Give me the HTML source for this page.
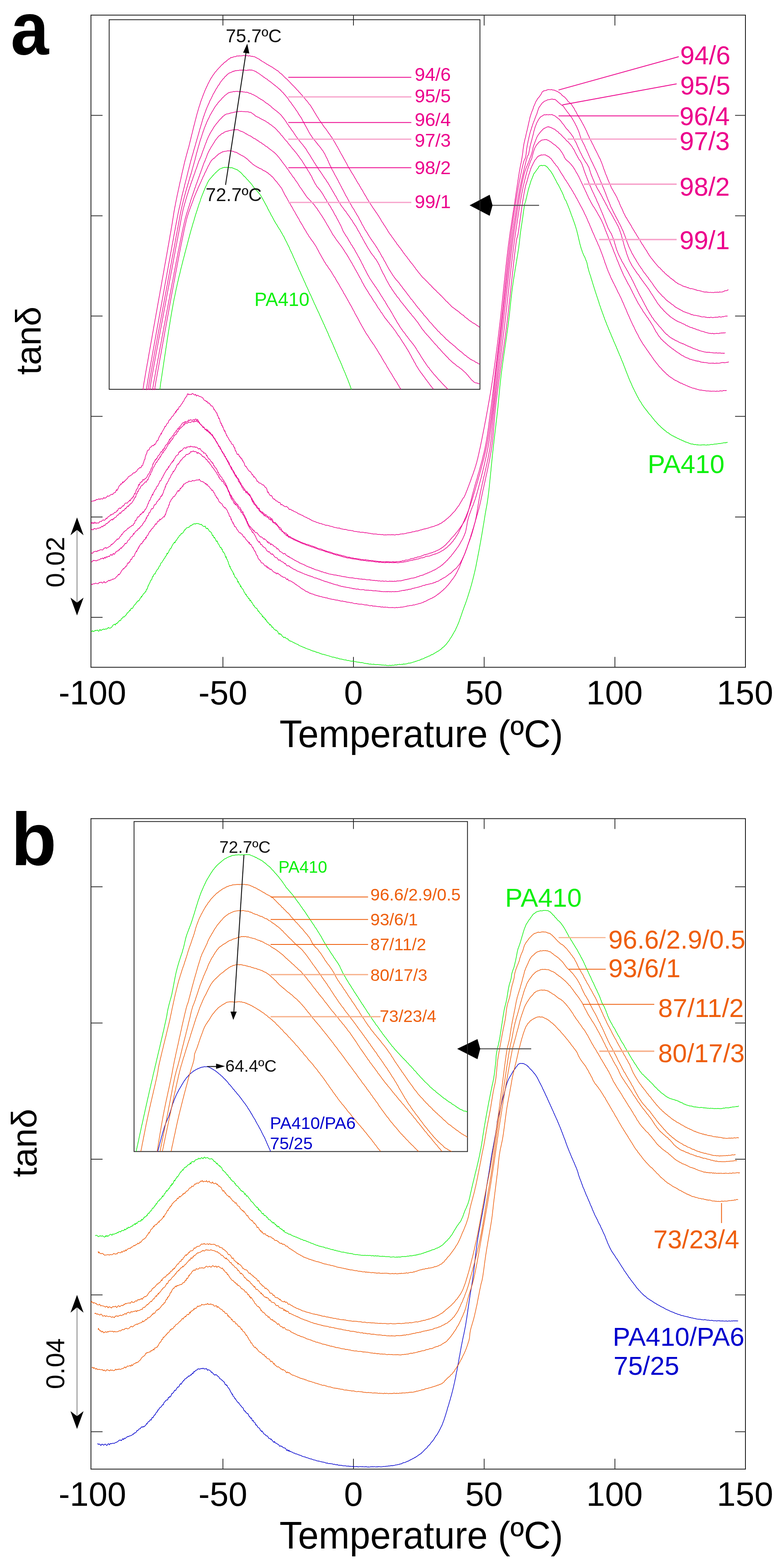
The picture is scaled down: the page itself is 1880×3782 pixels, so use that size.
<!DOCTYPE html>
<html><head><meta charset="utf-8"><style>html,body{margin:0;padding:0;background:#fff}svg{display:block}</style></head><body>
<svg xmlns="http://www.w3.org/2000/svg" width="1880" height="3782" viewBox="0 0 1880 3782" font-family="'Liberation Sans', Arial, Helvetica, sans-serif">
<rect width="1880" height="3782" fill="#fff"/>
<text x="25.7" y="131.2" font-size="180" fill="#000" font-weight="bold" transform="translate(25.7 0) scale(0.92 1) translate(-25.7 0)">a</text>
<rect x="219.5" y="36.5" width="1579.5" height="1573" fill="none" stroke="#1a1a1a" stroke-width="2"/>
<line x1="219.5" y1="278.3" x2="247.5" y2="278.3" stroke="#333" stroke-width="2"/>
<line x1="1774" y1="278.3" x2="1799" y2="278.3" stroke="#333" stroke-width="2"/>
<line x1="219.5" y1="520.5" x2="247.5" y2="520.5" stroke="#333" stroke-width="2"/>
<line x1="1774" y1="520.5" x2="1799" y2="520.5" stroke="#333" stroke-width="2"/>
<line x1="219.5" y1="762.3" x2="247.5" y2="762.3" stroke="#333" stroke-width="2"/>
<line x1="1774" y1="762.3" x2="1799" y2="762.3" stroke="#333" stroke-width="2"/>
<line x1="219.5" y1="1004.3" x2="247.5" y2="1004.3" stroke="#333" stroke-width="2"/>
<line x1="1774" y1="1004.3" x2="1799" y2="1004.3" stroke="#333" stroke-width="2"/>
<line x1="219.5" y1="1247" x2="247.5" y2="1247" stroke="#333" stroke-width="2"/>
<line x1="1774" y1="1247" x2="1799" y2="1247" stroke="#333" stroke-width="2"/>
<line x1="219.5" y1="1489" x2="247.5" y2="1489" stroke="#333" stroke-width="2"/>
<line x1="1774" y1="1489" x2="1799" y2="1489" stroke="#333" stroke-width="2"/>
<line x1="538" y1="1609.5" x2="538" y2="1584.5" stroke="#333" stroke-width="2"/>
<line x1="538" y1="36.5" x2="538" y2="61.5" stroke="#333" stroke-width="2"/>
<line x1="853" y1="1609.5" x2="853" y2="1584.5" stroke="#333" stroke-width="2"/>
<line x1="853" y1="36.5" x2="853" y2="61.5" stroke="#333" stroke-width="2"/>
<line x1="1168.5" y1="1609.5" x2="1168.5" y2="1584.5" stroke="#333" stroke-width="2"/>
<line x1="1168.5" y1="36.5" x2="1168.5" y2="61.5" stroke="#333" stroke-width="2"/>
<line x1="1484" y1="1609.5" x2="1484" y2="1584.5" stroke="#333" stroke-width="2"/>
<line x1="1484" y1="36.5" x2="1484" y2="61.5" stroke="#333" stroke-width="2"/>
<text x="223" y="1699.2" font-size="81.5" fill="#000" text-anchor="middle" >-100</text>
<text x="538" y="1699.2" font-size="81.5" fill="#000" text-anchor="middle" >-50</text>
<text x="853" y="1699.2" font-size="81.5" fill="#000" text-anchor="middle" >0</text>
<text x="1168" y="1699.2" font-size="81.5" fill="#000" text-anchor="middle" >50</text>
<text x="1483" y="1699.2" font-size="81.5" fill="#000" text-anchor="middle" >100</text>
<text x="1798" y="1699.2" font-size="81.5" fill="#000" text-anchor="middle" >150</text>
<text x="0" y="0" font-size="89.5" fill="#000" transform="translate(674.6 1801.9) scale(1 1.03)">Temperature (&#186;C)</text>
<text x="0" y="0" font-size="84.5" fill="#000" transform="translate(97.5 904) rotate(-90)">tan&#948;</text>
<text x="0" y="0" font-size="63" fill="#000" transform="translate(155 1417) rotate(-90)">0.02</text>
<line x1="185.9" y1="1278" x2="185.9" y2="1454.5" stroke="#9a9a9a" stroke-width="2.5"/>
<path d="M185.9 1248 L201.7 1291 L185.9 1278 L170.1 1291 Z" fill="#000"/>
<path d="M185.9 1484.5 L201.7 1441.5 L185.9 1453.5 L170.1 1441.5 Z" fill="#000"/>
<path d="M220 1523.3l1-0.8 1.2 0.3 1.3-1.7 1.4 2.2 1.5-0.2 1.5-0.9 1.7-2.1 1.8 1.2 1.8-1 1.9-0.6 2 2.6 2-0.1 2.1-4.2 2.1 2.9 2.2-1.4 2.2-1.3 2.2-0.9 2.3 1.1 2.3-1.5 2.3 0.3 2.3-0.9 2.3-2.9 2.3 1.7 2.2-0.1 2.3-1.1 2.3-2.5 2.2-3.5 2.2-1.5 2.1-0.9 1.3 2.3 1.4-3.5 1.3-0.8 1.4 1 1.5-3.5 1.4-0.2 1.4-1.7 1.5-2.8 1.5 0.8 1.5-0.4 1.5-4.1 1.5-1.2 1.6-0.7 1.5-3 1.6 0.3 1.5-0.3 1.6-2.2 1.5-2.1 1.6-0.3 1.5-4.5 1.6 0 1.5-2.4 1.6-0.8 1.5-3.6 1.6 1 1.5-4.4 1.5-1.4 1.5 0.8 1.5-1.1 1.4-3.7 1.5-1.8 1.4-2.3 1.4-1.5 1.4-0.3 1.4-3.3 1.3-1.8 1.4-0.3 1.3-2.7 1.2 0.5 1.3-0.8 1.2-1.7 1.1-2.6 1.1-1.9 1.1-1 1.1-3 1 1.6 1-2.8 1.8-2.3 1.6-3.1 1.5-0.6 1.3-1.4 1.3-2.6 1.1 0.1 1-2.5 0.9-3.4 0.9-0.5 0.8 0 0.7-3.1 0.7-1.2 0.7-3.7 0.7 0.1 0.7-1.7 0.7-1.8 0.7-1.6 0.8-1 0.8-1.9 0.9-2 0.9-3.2 1.1-0.9 1.1 0.1 1.3-4.4 0.9-3 0.8-1.6 0.9 0.6 1-3.5 0.9-1.4 1-1.6 1-0.3 1 0.5 1-3.8 1.1-1.8 1-1.9 1.1-1.5 1.1-2 1.1-0.7 1.1-1.1 1.1-2.7 1.1-2.9 1.1-0.9 1.1-0.8 1.2-4.9 1.1-1.5 1.1-0.3 1.2-1.6 1.1-2 1.1-2 1.1-0.9 1.2-3.2 1.1-0.4 1.1-1.2 1.1-3.8 1 0 1.1-2.3 1.1-0.9 1-5 1 1.9 1-2.2 1-0.7 1-1.4 1.3-4.8 1.4-0.4 1.3-4.1 1.3-0.2 1.2-0.6 1.3-4.8 1.3-1.3 1.2-2.9 1.2-1.4 1.2-1.7 1.2-2.2 1.2 1.9 1.2-2.2 1.2-3.4 1.2-0.5 1.2-1.8 1.2-2.3 1.2-2 1.1-0.5 1.2-1.9 1.2-2.7 1.2-1 1.2-0.3 1.2-1.4 1.2-3 1.2 0.3 1.2-0.2 1.7-1.8 1.8-2.6 1.7-4 1.8-0.2 1.8-2.9 1.7-1.7 1.8-0.7 1.7-0.6 1.8-0.1 1.8-1.7 1.7-2.6 1.8 0.6 1.7-1.7 1.7-0.9 1.7-1.7 1.8 0 1.7-0.9 1.6 1.2 1.7-1.3 1.9-0.3 1.9 0.1 1.9 0.2 1.8 1.1 1.9 0.5 1.8 0.9 1.8-0.9 1.8 2.4 1.8 1.6 1.8 1.3 1.8 0.2 1.9-1.2 1.9 4.8 1.9 1.7 2-1.3 2.1 3.3 1 1.1 1.1 2.8 1.1 0.8 1.1 0 1.1 1 1.1 1.4 1.2 1.2 1.2 4.4 1.1 2.2 1.2-1.2 1.2 3.8 1.3 2.5 1.2-1.2 1.2 3.3 1.2 1.3 1.2 4 1.2 1.4 1.2-1.5 1.2 2.6 1.2 4.4 1.2 0.8 1.2 1.7 1.1 3 1.1 1.7 1.2 2.6 1-0.7 1.1 0.6 1.1 4.3 1-0.8 0.9 3.7 1 2.8 0.9-0.2 0.9 2.3 1.1 0.3 1.1 1.9 1 3.8 1 2.9 0.9 2.4 0.8-2.1 0.8 5.4 0.7 0.1 0.8 1.1 0.7 1.9 0.7 2.4 0.6 0.8 0.7 0.9 0.7 4.6 0.7 1.1 0.7 1.4 0.7 2.2 0.8 2.9 0.8-1.5 0.8 4.5 0.9 1.9 0.9 0 1 2.9 1.1 1.6 0.8 0.6 0.9 2.5 0.8 0.5 0.9 4.7 0.9-1.3 0.9 3.5 0.9 1.4 1 3.3 0.9 1 1 0 1 1.8 0.9 0.5 1 1.7 1 2.9 1.1 4.3 1-1.8 1 2.3 1.1 3.6 1.1 0.7 1 1.1 1.1 4.9 1.1-1.8 1.2 4 1.1 1.2 1.1 1.4 1.1 1.2 1.2 1.7 1.2 2.8 1.1 3.2 1.2 0.6 1.2 3 1.2 2.2 1.1-1.2 1.1 4.4 1.1 0.4 1.1 0.9 1.2 2 1.1 3.2 1.2-0.4 1.2 0.4 1.1 5.1 1.3-1.7 1.2 1.6 1.2 4.1 1.2 0 1.3 1.6 1.2 3.1 1.3 2.6 1.2-0.5 1.3 3.8 1.2 0.5 1.3 1.6 1.3 1.3 1.3-0.4 1.2 2.1 1.3 3.7 1.3 1.7 1.2-0.9 1.3 3.8 1.3 0.9 1.2 1.9 1.3 0.8 1.2 0.8 1.3 2 1.2 3.9 1.3-1.7 1.2 4.1 1.2 0.1 1.4-0.1 1.5 4.5 1.4-1.5 1.4 4.9 1.4-0.4 1.3 3.9 1.4 0.8 1.4 0 1.3 2.6 1.4 3 1.3-1.8 1.4 1.7 1.4 1.8 1.3 3.5 1.4-0.8 1.4 1.4 1.3 2.9 1.4 1.2 1.4 0.8 1.5 1.9 1.4-0.8 1.5 1.3 1.4 1.4 1.5 1.4 1.5 4.1 1.6 2.1 1.5-2.1 1.6 2.3 1.6-0.3 1.7 2.9 1.6 2.1 1.6 0.9 1.6 2.3 1.6-0.4 1.6-0.9 1.7 2.3 1.6 1.4 1.7 0.5 1.7-0.2 1.7 3.4 1.8 0.4 1.7 1.9 1.8-0.1 1.7 0.6 1.8 1.2 1.8 0.8 1.8 1.3 1.8 0.5 1.8 0.8 1.9 1.4 1.8 0.5 1.9 0.8 1.8 0.9 1.9 1.5 1.9 1 1.9 0.8 1.9 0.6 1.9 0.9 1.9 1 1.9 0.4 2 0.9 1.9 1.1 1.8 0.6 1.8 0.7 1.8 0.8 1.8 0.6 1.9 0.3 1.8 0.8 1.9 1.2 1.9 0.4 1.8 1.2 1.9 0.1 2 1 1.9 0 1.9 0.9 1.9 1.3 2-0.1 1.9 1.2 2-0.1 1.9 1.3 2 0.4 1.9 1.2 2 0.5 2 0.6 1.9 0 2 1 1.9 0 2 1 2 0.4 1.9 0.7 2 0.3 1.9 0.5 1.9 0.9 2 0.6 1.9 0.5 1.9 0.9 1.9 0.1 2 0 2.1 1.1 2 0.1 2.1 1.3 2-0.5 2.1 0.9 2 0.7 2.1 0.8 2.1-0.1 2.1 0.3 2.1 0.9 2 0.4 2.1 0.6 2.1 0.2 2.1-0.3 2 1.4 2.1 0.3 2-0.2 2.1 0.6 2 0.6 2 0.5 2 0.1 2-0.4 2 0.3 1.9 0.7 2 0.4 1.9 0.2 1.9 0.8 1.9 0.3 1.8-0.1 1.8 0.7 1.8-0.4 1.8 1.2 2.3-0.4 2.3 0.2 2.2 0.6 2.3 1 2.2 0 2.2 0.4 2.1 0.4 2.1-0.2 2.1 1 2.1 0.3 2.1-0.3 2 0.5 2 0.4 2-0.1 1.9-0.4 1.9 0.9 1.9-0.1 1.9 0.7 1.9-0.6 1.8-0.1 1.8 0.4 1.7 0.1 1.8 0.4 1.7-0.1 1.7 0.3 2.4 0.5 2.2-0.4 2.2 0.6 2-0.1 1.9-0.3 1.8 0.9 1.8-0.1 1.8 0.4 1.8 0.1 1.8-1 1.8 0.8 1.8-0.4 1.9 0.4 2-1 2.2 0.7 2.2-0.7 2.4-0.7 1.7 0.3 1.7 0.3 1.8-1.1 1.8 0.1 1.8-0.5 1.9-0.3 1.9 0.8 1.9-0.6 1.9-0.2 2 0.2 2-1.3 2 0.8 2-0.5 2-0.3 2.1-0.3 2.1-0.9 2.1-0.9 2.1 0.7 2.2-0.9 2.1-0.4 2.2-0.6 2.1-1.1 2.2-0.2 2.2-0.9 2.2-1 1.7-0.3 1.7-0.6 1.8-0.9 1.8-0.1 1.8-0.5 1.9-1 1.8-1.5 2-0.1 1.9-0.6 1.9-0.6 2-1.4 1.9-0.9 2-0.7 2-1.1 1.9-0.1 2-1.8 1.9-0.2 2-0.6 1.9-1.9 1.9-0.8 1.9 0 1.9-1.8 1.9-0.4 1.8-1.9 1.8-0.5 1.8-1.5 1.7-0.8 1.7-1.3 1.6-0.3 1.6-1.3 1.6-1.2 1.5-1 1.4-0.8 1.7-1.8 1.6-1.5 1.6-1.6 1.6-0.7 1.5-1.4 1.4-2 1.4-1.2 1.4-0.9 1.3-2.2 1.3-1.2 1.2-2.1 1.2-1.3 1.2-1.3 1.2-1.8 1.1-1.7 1.1-2 1.1-2 1.1-1.2 1-1.3 1-2.2 1.1-1.2 1-2 1-2.2 1-1.1 0.9-1.8 1-2 1-1.9 1-0.8 1-2.3 0.9-1.7 0.9-2.7 0.9-1 0.9-2.6 0.8-1.5 0.8-2 0.8-1.9 0.8-1.5 0.7-2.6 0.8-1.1 0.7-2 0.7-2.4 0.7-1.5 0.7-2.4 0.7-1.5 0.7-2.5 0.7-1.4 0.7-2.2 0.6-2.1 0.7-1.5 0.7-2.4 0.7-2.4 0.7-1.5 0.7-2.5 0.7-1.6 0.7-1.6 0.7-2.5 0.7-1.7 0.7-2.1 0.7-1.7 0.7-2.2 0.7-1.3 0.7-1.8 0.6-2.4 0.7-1.6 0.7-1.9 0.6-1.8 0.7-2 0.6-2.1 0.7-1.8 0.6-1.9 0.7-2.2 0.6-1.6 0.6-2.6 0.6-1.3 0.6-2 0.6-2.1 0.6-1.8 0.6-1.6 0.6-2.1 0.6-2.1 0.6-1.7 0.5-1.9 0.6-2.6 0.5-1.2 0.6-1.8 0.5-2.3 0.5-1.4 0.5-2.7 0.5-1.1 0.5-2.6 0.5-1.6 0.5-1.8 0.5-2 0.5-1.8 0.5-2.5 0.5-2 0.5-1.3 0.5-2.6 0.5-2.1 0.5-1.7 0.5-2.1 0.5-2.6 0.6-2 0.5-3 0.4-1 0.3-2 0.4-1.6 0.4-1.8 0.4-2 0.4-1.6 0.3-2.1 0.4-2.3 0.4-2.3 0.4-1.6 0.4-1.8 0.4-2.7 0.4-1.4 0.4-2.2 0.4-2 0.4-2.6 0.4-2 0.4-1.5 0.4-2.5 0.4-2.2 0.4-1.3 0.4-3 0.4-1.4 0.3-1.9 0.4-2 0.4-2.3 0.4-2.8 0.4-1.6 0.3-1.5 0.4-2.6 0.3-1.8 0.4-1.7 0.4-2.2 0.3-2.1 0.3-1.6 0.4-2 0.3-2 0.4-2.5 0.4-2 0.4-1.3 0.3-3 0.4-2.1 0.4-1.3 0.3-3.2 0.4-1.9 0.4-1.9 0.3-2 0.3-2.1 0.4-2.2 0.3-2.2 0.3-1.5 0.4-2.4 0.3-2.2 0.3-1.1 0.3-1.9 0.4-2.5 0.3-1.3 0.3-2.8 0.3-1 0.3-2.1 0.3-1.9 0.3-2.7 0.3-1 0.3-2.6 0.3-1.4 0.3-1.8 0.3-2.4 0.4-1.9 0.3-1.3 0.3-2.1 0.4-2.4 0.3-1 0.3-2.8 0.3-0.9 0.3-1.5 0.3-1.6 0.3-1.8 0.3-1.5 0.3-2.2 0.3-1.1 0.3-1.8 0.3-1.9 0.3-2.2 0.3-1.4 0.3-2.8 0.3-1.6 0.3-2 0.4-2.8 0.3-2.2 0.4-3.3 0.3-2.6 0.4-2.8 0.2-1.1 0.2-1.9 0.1-1.1 0.2-2.3 0.2-1.1 0.2-2.1 0.2-1.8 0.2-2.2 0.2-1 0.2-1.9 0.2-2.4 0.2-2 0.2-2 0.2-1.9 0.2-2.3 0.2-1.1 0.2-2.5 0.2-2.4 0.2-1.5 0.2-2.7 0.3-1.2 0.2-3.2 0.2-1.5 0.2-2.1 0.2-2.5 0.2-2.3 0.2-1.4 0.3-2.6 0.2-2 0.2-2.9 0.2-2.4 0.2-1.1 0.2-3.1 0.3-2.3 0.2-1.4 0.2-2.4 0.2-2.9 0.2-1.5 0.2-2.2 0.3-1.7 0.2-2.6 0.2-2.6 0.2-1.6 0.2-1.9 0.2-1.9 0.2-2.8 0.3-1.7 0.2-2.7 0.2-0.9 0.2-3 0.2-1.3 0.2-1.7 0.2-2.3 0.2-1.6 0.3-2.8 0.2-1.9 0.2-1.8 0.3-3.1 0.2-1.1 0.3-2.1 0.2-2.9 0.2-1.4 0.3-2.6 0.2-2.1 0.2-1.7 0.3-1.8 0.2-2.4 0.3-2 0.2-2.2 0.2-1.6 0.3-1.9 0.2-1.7 0.2-2 0.3-3 0.2-1.8 0.3-1.9 0.2-1.8 0.2-1.4 0.3-2.3 0.2-1.6 0.2-1.9 0.3-2.5 0.2-2.4 0.2-1.7 0.3-1.4 0.2-2 0.2-2.4 0.2-1.3 0.3-2.8 0.2-1.8 0.2-1.5 0.3-1.9 0.2-1.6 0.2-2.6 0.2-1.4 0.2-2.4 0.3-2.2 0.2-1.2 0.2-2.5 0.2-1.8 0.2-2.5 0.2-1.3 0.3-2.5 0.2-2.5 0.2-1.9 0.2-1.6 0.1-1.9 0.2-2.3 0.2-1.1 0.2-2.3 0.2-1.4 0.2-2.3 0.2-1.8 0.1-2.6 0.2-2.1 0.2-1.7 0.2-1.7 0.2-2.4 0.1-0.9 0.2-2.7 0.2-1.3 0.2-2.9 0.2-0.9 0.2-2.6 0.1-1.8 0.2-1.8 0.2-2 0.2-2.4 0.2-2.1 0.2-1.8 0.2-1.9 0.2-2.7 0.3-1.8 0.2-2.3 0.2-1.2 0.2-2.2 0.3-2 0.2-2.4 0.3-2.9 0.2-1.9 0.3-1.5 0.2-2.8 0.3-2.4 0.3-2.5 0.2-0.9 0.2-2.8 0.3-1.5 0.2-1.8 0.3-1.5 0.2-1.6 0.3-2.1 0.2-1.6 0.3-2.7 0.2-1.4 0.3-2 0.3-2.8 0.2-1.3 0.3-1.7 0.3-3 0.3-1.8 0.3-1.6 0.3-2 0.3-2.1 0.3-1.6 0.2-2.7 0.3-1.7 0.3-2.2 0.3-1.8 0.3-2.6 0.4-1.4 0.3-2.2 0.3-2.2 0.3-1.9 0.3-2.4 0.3-2.5 0.3-1.3 0.3-2.8 0.3-2.1 0.3-1.8 0.3-2.2 0.3-1.5 0.3-2.7 0.3-1.5 0.3-2.6 0.3-2.3 0.3-1.7 0.3-1.9 0.3-2.4 0.3-1.7 0.2-2.2 0.3-2.5 0.3-1.9 0.3-1.6 0.2-1.5 0.3-2.6 0.3-1 0.2-2.6 0.3-2.2 0.2-1.7 0.3-1 0.2-1.9 0.3-2 0.2-2.5 0.3-1.6 0.3-3 0.2-1.9 0.3-2.4 0.3-1.5 0.2-2 0.3-2.8 0.2-1.2 0.3-2.6 0.2-1.8 0.3-2.8 0.2-1.4 0.2-2.2 0.2-2.7 0.2-1.2 0.3-2 0.2-2.4 0.2-2.1 0.2-2.2 0.2-1.4 0.2-2.3 0.2-2 0.2-1.7 0.2-2.3 0.2-1.3 0.2-2.3 0.2-2 0.2-1.7 0.3-1.9 0.2-1.9 0.2-2.2 0.2-1.3 0.2-1.7 0.2-2.3 0.2-1.7 0.2-1.9 0.3-2.5 0.2-1.2 0.2-2.3 0.3-1.9 0.2-2 0.3-1.6 0.2-2.4 0.3-1.7 0.2-2.5 0.3-2.1 0.3-1.6 0.3-1.6 0.2-2.9 0.3-1.4 0.4-2.6 0.3-2.3 0.3-1.2 0.3-3.1 0.3-1.6 0.4-1.9 0.3-2.1 0.3-2.1 0.4-2.9 0.3-2.2 0.4-1.9 0.3-1.5 0.4-2.1 0.3-2.8 0.4-2.3 0.3-1.7 0.4-2.4 0.3-2.6 0.4-1.4 0.3-1.7 0.4-2.5 0.3-2 0.3-2.8 0.4-1.4 0.3-1.6 0.4-2.8 0.3-2 0.3-2 0.3-1.5 0.3-2.2 0.3-1.3 0.3-2 0.3-2 0.3-1.5 0.3-2.4 0.3-1.7 0.2-1.4 0.3-1.7 0.2-1.5 0.3-0.9 0.2-2.3 0.2-0.8 0.5-3.2 0.4-3.5 0.3-2.7 0.4-3 0.3-1.6 0.2-2.5 0.3-2.4 0.2-1.1 0.2-2.4 0.2-2.1 0.2-1.4 0.1-2 0.2-1.5 0.2-1.1 0.1-1.5 0.2-2.3 0.2-0.8 0.2-1.6 0.2-1.9 0.2-1.7 0.3-2.3 0.3-2 0.3-2.3 0.4-2 0.3-2.4 0.3-2.1 0.3-2.4 0.3-1.3 0.3-2 0.3-1.8 0.3-2.2 0.4-2.1 0.3-2.6 0.3-1.3 0.3-2.1 0.3-2.7 0.3-2 0.3-1.9 0.3-2.6 0.3-1.2 0.3-3.3 0.3-1.5 0.3-2 0.3-3.2 0.3-1.6 0.3-2.1 0.3-1.4 0.3-1.9 0.3-2.3 0.2-1.5 0.3-1.4 0.6-3.8 0.5-2.2 0.5-1 0.4-1.2 0.5-1.8 0.6-1.6 0.6-3.2 0.4-1.5 0.5-2 0.4-1.6 0.5-1.6 0.5-3 0.5-1.9 0.5-2.2 0.5-2 0.5-2.3 0.5-1.8 0.4-2.3 0.4-1.5 0.8-2.3 0.6-2.8 0.6-1.3 0.5-1.9 0.6-1.9 0.7-2.6 0.7-1.7 0.7-3 0.7-1.7 0.8-3.2 0.9-1.7 1-2.8 0.9-1.4 0.7-3 0.8-1 0.7-2 0.8-2.3 0.7-2 1.2-1.4 1.2-1.6 1.4-1.9 1.3-1.9 1.5-1.7 1.4-2.5 1.4-1.5 1.5-2.1 1.4-3 1.6-1.7 2.1-0.8 2.5-0.6 2.4 0.9 2.4-0.8 2.5 0.1 2.1 0.7 2.1 1 1.9 2 1.3 0.6 1.4 2.3 1.5 1.8 1.4 1.9 1.4 1.3 1.5 1.9 1.4 1.8 1.3 2.2 1.2 2 1.2 1.4 1.1 2.5 1.2 2.6 1.2 1.6 1.2 2.7 1.2 2.2 1.1 1.9 1 1.9 0.8 1.4 0.9 2 1 2.3 1.1 1.5 1.2 2.3 1.2 1.5 1.2 2.6 0.9 1.9 1 1.5 0.9 2.2 1 1.5 0.9 3 1 0.8 0.9 2.5 1 1.3 0.9 2.8 0.9 1.7 0.8 1.6 0.7 1.8 0.7 1.9 0.7 2.5 0.8 1.9 0.8 1.5 0.8 2.1 0.9 1 1.2 1.6 1.6 4 0.5 1.1 0.6 2 0.7 1.3 0.6 1 0.7 2.4 0.8 1.8 0.7 1.7 0.8 2.2 0.8 1.8 0.8 2 0.8 2.3 0.8 2.9 0.8 1 0.8 2.7 0.7 2.4 0.8 2.1 0.7 1.5 0.7 2.2 0.7 1.6 0.7 2 0.7 1.4 0.6 2.7 0.7 1.8 0.6 1.2 0.7 2.2 0.6 1.3 0.7 2.6 0.6 1 0.6 2 0.6 2.3 0.7 1.7 0.6 2.2 0.6 1.7 0.7 2.8 0.6 1.6 0.5 1.7 0.5 2.4 0.5 2.2 0.5 1.7 0.4 2.1 0.5 1.4 0.5 2.2 0.5 2.4 0.5 1.7 0.4 2.2 0.5 2.6 0.5 1.3 0.5 2.7 0.5 1.7 0.5 2 0.5 2.7 0.5 2.1 0.5 1 0.5 2 0.5 2.2 0.6 2 0.5 1.7 0.7 2.5 0.8 1.8 0.7 2 0.8 2.9 0.9 2.1 0.8 1.7 0.8 2 0.8 2.1 0.9 1.6 0.8 1.6 0.8 1.2 0.8 2 0.7 2.3 0.8 1.7 0.7 2.2 0.7 0.8 0.6 2.3 0.7 1.6 0.5 1.9 0.3 1.5 0.3 1.7 0.3 1.2 0.2 1.1 0.3 0.9 0.3 1.6 0.3 2 0.6 2 0.6 1.9 0.9 3.8 1.1 3.6 1.3 4.2 0.4 1.1 0.4 1.2 0.4 0.9 0.5 1.3 0.4 1.4 0.5 1.4 0.4 1.8 0.5 2.4 0.5 1.1 0.5 1 0.5 2.7 0.6 0.7 0.5 2.2 0.6 2 0.5 1.4 0.6 2.6 0.6 1.3 0.6 2.1 0.6 2.3 0.6 1.2 0.6 2.5 0.7 2 0.6 1.7 0.6 1.8 0.7 2.8 0.6 1.4 0.7 2.1 0.7 2.3 0.6 1.6 0.7 2.4 0.7 1.9 0.7 2.4 0.7 1.7 0.7 2 0.7 2.9 0.7 1.6 0.7 1.9 0.7 2.3 0.7 2.9 0.7 2.3 0.8 2.1 0.7 1.5 0.7 2.1 0.7 2.3 0.7 2.5 0.8 1.9 0.7 2.1 0.7 1.2 0.7 2.6 0.7 2.1 0.8 1.5 0.7 2.2 0.7 1.6 0.7 2.7 0.7 1.6 0.7 1.4 0.7 2.6 0.7 2.2 0.8 1.3 0.7 2.5 0.8 1.5 0.7 1.7 0.8 2.1 0.8 2.6 0.8 1.8 0.8 1.5 0.8 2.2 0.8 1.7 0.8 2.6 0.8 2 0.9 1.4 0.8 2 0.8 2.7 0.8 1.6 0.9 1.4 0.8 2.1 0.9 2.9 0.8 2.1 0.8 1 0.9 2.9 0.8 1 0.8 2.3 0.9 2.1 0.8 2.5 0.8 1.5 0.9 1.8 0.8 2.1 0.8 1.4 0.8 2.4 0.8 1.6 0.8 1.8 0.8 1.7 0.8 2.9 0.8 1 0.8 2.4 0.7 1.4 0.8 1.8 0.7 2.3 0.7 1 0.8 2 0.7 1.7 0.7 2 0.7 1.8 0.6 1 0.7 1.2 0.7 1.6 0.6 2.2 0.6 1.5 0.6 0.7 0.6 2.6 1.1 2.1 1 2.2 1 2.3 1 2.8 0.9 2.1 0.9 3.1 0.9 1.3 0.8 2.7 0.8 1.7 0.7 2.6 0.8 1.4 0.7 2 0.7 2.2 0.6 1 0.7 1.9 0.7 1.6 0.6 2 0.6 1.1 0.7 1.4 0.6 2.4 0.6 1.4 0.7 1.4 0.6 1.6 0.7 2.1 0.7 0.9 0.6 1.6 0.7 2.3 0.8 1 0.7 2.3 0.9 1.1 0.9 2.4 0.9 1.9 0.9 2.7 0.9 1.5 1 2.6 0.9 1.7 0.9 1.8 0.9 1.5 0.9 2.1 0.9 1.9 0.9 1.7 0.9 1.4 0.9 2.1 0.9 2 0.9 1.5 0.9 2 0.9 1.4 1 2.3 0.9 0.9 0.9 2.3 0.9 1.6 0.9 1.9 0.9 1.3 1.2 1.7 1.2 1.6 1.2 1.7 1.2 2.5 1.2 2.1 1.1 1.4 1.2 1.6 1.2 2.1 1.2 1.4 1.2 1.5 1.2 1.9 1.2 1.2 1.2 2 1.2 0.5 1.3 2.5 1.3 1 1.3 2.5 1.3 1.6 1.2 1.4 1.2 1.6 1.3 0.7 1.2 1.5 1.3 2 1.3 1.2 1.3 2.7 1.3 0.6 1.3 1.9 1.3 1.5 1.3 1.9 1.4 1.9 1.3 0.6 1.3 2 1.4 1.1 1.4 2.1 1.3 1.3 1.4 1 1.3 2 1.4 0.7 1.6 1.5 1.6 2.2 1.5 0.7 1.6 1.9 1.5 1.5 1.6 0.6 1.6 2.2 1.6 0.6 1.6 1.6 1.6 1 1.6 1.9 1.7 1.1 1.8 0.6 1.8 1.1 1.8 1.9 1.9 1.2 2 1.1 1.6 1 1.6 1.1 1.8 0.1 1.7 1.8 1.8 0.5 1.9 0.9 1.9 0.8 1.9 1.5 1.9 0.8 2 0.2 1.9 2 2 0.4 1.9 0.6 2 1.3 1.9 0.7 1.8 0.7 1.9 0.8 1.7 1.5 1.8-0.2 1.7 1 1.6 0.6 1.5 0.1 2.4 1.4 2.3 0.8 2.1 0.8 2 0.4 1.8 0 1.9 0.2 1.8 1.2 1.7 0.3 1.9-0.5 1.8 0.3 2 0.6 2.1-0.2 2.2 0.5 1.8 0.3 1.8-0.5 1.9 0.7 1.9-0.8 2-0.1 1.9 0 2-0.1 2.1 0.5 2 0.1 2.1 0.2 2-0.8 2.1 0.4 2.1-0.3 2.1-0.5 2.1-0.3 2 0 2.1 0.3 2-0.8 2.1-0.3 2.2-0.3 2.3-0.1 2.3-0.5 2.3-0.2 2.3-0.7 2.3 0.6 2.3-0.9 2.3-0.3 2.1-0.4 2.1-0.5 2-0.1 1.8-0.1 1.7 0.3 1.5-1 1.3 0 1.1-0.2" stroke="#0DF00D" stroke-width="1.50" fill="none" stroke-linejoin="round"/>
<path d="M220 1408.8l1.2 0.3 1.4 1.2 1.6-2 1.8-0.1 2 0.1 2.1-1.9 2.2 1 2.4 0.1 2.4 0.4 2.4-3.2 2.4 0.5 2.4-1.2 2.4 2.4 2.3-0.8 2.2-3.1 2.1 3.3 1.9-0.5 1.8-1.7 2.4-0.8 2-2.3 1.9-1 1.8 1.7 1.6-2.4 1.6 0 1.6-0.4 1.7-1.8 1.8 0.7 1.9-1.6 2.2-0.1 2.5-3.5 1.1-0.6 1.1-1.6 1.2-0.6 1.3-2.1 1.2-2.1 1.4 1.5 1.3-1.5 1.4-2.2 1.5-2.1 1.4-3.2 1.5-2.1 1.5-1.5 1.5-2.6 1.5 1 1.5-3.2 1.5-0.1 1.5-3.6 1.4 0.5 1.5-2.2 1.4-5.2 1.5-0.9 1.3 1.1 1.4-3.5 1.3 0.4 1.3-4 1.2-2.8 1.2 0.7 1.1-0.8 1-3.4 1-2.1 1.7-1.3 1.5 0.4 1.4-2.9 1.3-4.5 1.1-1.4 1.1-2.4 1-1.9 0.9 1.3 0.9-4.1 0.8-0.1 0.8-2 0.9-2.6 0.8 0.7 0.9-3.9 0.9 0.5 1-3.6 1.3-0.7 1.2-2.6 1.3-1.4 1.3 1.1 1.2-2.3 1.3-3.5 1.2 0.7 1.2-4.2 1.3-0.8 1.2 0.3 1.2-2.4 1.1-3.7 1.2 2 1.2-4.9 1.3-1.7 1.2 0.2 1.3-3.6 1.2-2 1.2-2.8 1.2-1.7 1.1 0.2 1.1-3.1 1.1-0.2 1.1-2.5 1-1.1 1.6-0.2 1.5-3.8 1.5-1.3 1.3-0.4 1.4-4.3 1.3-1.6 1.4 1.4 1.4-2 1.5-3.9 1.4-1.9 1.4 0.5 1.4-0.7 1.5-4.5 1.4 1.7 1.6-1.3 1.5-1.6 1.5-1 1.6-2 1.8-1.8 2 0.8 0.7-4.2 0.6 0.5 0.7-3.3 0.7 0.7 0.7-2.7 0.7-3.1 0.7-2.4 0.8 0.1 0.7-4.7 0.8-1.4 0.8-0.9 0.8-1 0.9-3.1 0.8-3.5 0.9 0.4 0.9-4.9 0.9-2.8 0.9-0.9 1-1.2 1-3.3 1.1-1.3 1.1-1 1.3-1 1.2-3.5 1.3-0.8 1.4 0.4 1.3-1.4 1.4-3 1.4-1.5 1.4-2.1 1.4-3.3 1.3-2 1.4-1.6 1.3 2.1 1.2-2.3 1.2-0.3 1.2-5.1 1.1 1.2 1-1.8 1.9-1.3 1.5-3.7 1.4 0.9 1.2-5.3 1.1 0.4 1.2-0.5 1.4-0.6 1.5-1.8 1.8-1.2 1.7-0.4 2-0.3 2.1-2.9 2.2 0.8 2.3 0.3 2.3-0.5 2.3-2.2 2.2 1.2 2.1 0 2-1.4 1.8 0.1 2.4-1.2 2 0.6 1.8 0 1.6-2.1 1.8 2.7 2 2.2 2.4 0.8 1.3 0.2 1.3-0.5 1.5 2.4 1.5 0.5 1.5 0.6 1.6 2.9 1.6-1.7 1.6 4.1 1.7-1.5 1.6 3.8 1.6 1.1 1.6 0.6 1.6 3.5 1.5 0.8 1.5 2.2 1.2 2.6 1.2-1.1 1.1 0.6 1.2 2.8 1.2 3.2 1.1-0.2 1.1 1.7 1.2 4.7 1.1 0.8 1.1 1 1.1 3.6 1.1-0.5 1 3.1 1.1-0.2 1.1 2.6 1 3.1 1.1 1.9 1 1.3 1.4-0.1 1.4 2.5 1.4 0.5 1.4 0.8 1.3 2.9 1.4 2.7 1.3 1.5 1.3 0.8 1.3 2.4 1.2-1.3 1.2 1.1 1.2 2.8 1.2 1 1.1 1.5 1 2.6 1 2.8 1 1.5 1 1.3 1 4.2 0.9 2.7 0.9-0.1 0.9 0.6 0.9 1.8 0.9 5.3 0.8-1.5 0.8 4.4 0.8 1.1 1.1 1.1 0.9 3.8 0.7-1.4 0.8 2 0.7 2.8 0.8-0.2 1.1 4.8 1.3-0.5 1.6 1.9 1 0.8 1 3.7 1.2 0.6 1.3 2.2 1.3 1.6 1.3 2.2 1.5 2.2 1.4 0.5 1.5-0.4 1.5 2.8 1.5 0.4 1.5 1 1.4 3.4 1.4 2.5 1.4-0.6 1.4 1.8 1.2 1.7 1.2 2.8 1.5 1 1.4 1.9 1.3 2 1.2-0.2 1.2 2.9 1.1 1.7 1.2-2.1 1.2 4.8 1.2 0.5 1.2-0.8 1.4 3.1 1.5 2.7 1.6 3.3 0.9-0.8 0.9 2.2 0.8 2.7 0.9 1.2 0.8 2.2 0.8-0.3 0.8 2.5 0.9-0.1 0.8 3.9 0.9 2.2 0.9 1.1 1 2.2 1-0.2 1 4.7 1.1 2.2 1.2 1.9 1.2 0.1 1.3 2.9 1.4 0 1.5 4.2 1.5 1.7 1.7-0.2 1.8 0.7 1.9 3.2 1.2 1.5 1.3 1.9 1.4 0 1.4-0.8 1.5 4.2 1.5-1.9 1.5 4.1 1.6-1.4 1.7 1.7 1.7 2.9 1.7-1.5 1.7 1.1 1.8 2.6 1.8 1.9 1.8 1.6 1.9 0.5 1.8 2.1 1.9-0.7 1.9 2.9 1.9-2.4 1.9 1.7 1.9 2.3 1.9 0.1 1.9 2.8 2 0.7 1.8 0.6 1.9 2.3 1.9-0.1 1.8 0 1.9 1.3 1.8 2.9 1.8 1.2 1.7-1.8 1.8 3.6 1.6 1.4 1.7-0.8 1.6 0.9 1.6 0.5 1.5 1.3 2 1.2 1.9 1.3 1.8 0.5 1.8 2.4 1.7 0.6 1.7 1 1.6 1.6 1.6 0.8 1.6 1.1 1.5 1.3 1.5 0.4 1.5 1.6 1.5 0.9 1.5 1.7 1.6 1 1.5 0.2 1.5 1.3 1.6 0.6 1.6 1.3 1.6 1.4 1.7 1.1 1.7 0.4 1.8 0.8 1.8 0.7 2 1.5 1.9 1.2 2.1-0.1 2.2 1.7 2.2-0.1 1.6 0.8 1.7 0.6 1.7 1.1 1.7 0.2 1.8 0.6 1.8 0.8 1.8-0.1 1.9 1.3 1.9-0.2 1.9 1 2 0.2 2 0.4 2 0.9 2 0.4 2.1 0.4 2 0.5 2.1 0.7 2.1 0 2.1 0.5 2.1 1 2.1 0.4 2.2 0.3 2.1 0.9 2.1 0.1 2.1 0.7 2.2-0.3 2.1 1 2.1 0.5 2.1 0.5 2.1-0.3 2.1 0.4 2 1.1 2.1-0.4 2 1.3 2 0.2 2-0.5 2 0.5 1.9 1 1.9-0.2 1.9 0.1 1.8 1.3 1.8-0.2 2.3 0.9 2.2-0.4 2.3 0.8 2.3 0.7 2.3-0.4 2.2 0.6 2.3 1 2.2 0.6 2.2 0.4 2.3-0.6 2.2 0.8 2.2 0.6 2.2 0 2.1 0.6 2.2-0.3 2.1 0.1 2.1 0.4 2 0.2 2.1 0.9 2 0.2 2 0.3 2-0.2 1.9 0.3 1.9 0.3 1.9 1 1.8 0.4 1.8 0.1 1.8-0.7 1.7 0.1 1.6 1.3 1.7-0.3 1.6 0.5 1.5-0.3 3 0.5 2.8 0.5 2.5 0.2 2.3 0.5 2.2-0.5 2.1 1.1 1.9 0.3 1.8-0.6 1.8 0.5 1.7 0.5 1.7-0.3 1.7-0.2 1.8 0.1 1.8 0.5 1.9-0.5 2 1.1 2-0.1 2 0 1.9 0.2 2-0.2 1.8-0.2 1.9 0.3 1.9-0.1 1.9 0.6 2-0.3 2-0.7 2 0.7 2.2-0.4 2.2-0.1 2.3-0.2 2.4-0.8 2.5 0.3 1.7-0.3 1.7-0.5 1.8-0.1 1.9-0.3 1.9-0.7 2 0 1.9-1.1 2.1 0 2-0.2 2.1-0.9 2.1 0 2.1 0 2.1-0.5 2.1-0.9 2.1 0.4 2.1-0.8 2.2-0.9 2.1-0.1 2-0.7 2.1-0.6 2.1-0.8 2 0.1 2-1 1.9-0.7 1.9-0.6 1.9-0.5 1.9-1.9 1.8 0 1.9-0.7 1.9-1.4 1.8-0.7 1.9-1.3 1.8-0.7 1.8-0.7 1.9-1.2 1.8-0.8 1.8-0.2 1.8-1.5 1.7-1 1.8-0.5 1.7-1.6 1.7-0.6 1.7-1.5 1.7-0.9 1.7-2.1 1.6-0.5 1.7-1 1.6-2.1 1.5-0.1 1.6-2.2 1.5-0.9 1.6-1.7 1.5-0.9 1.4-1.3 1.5-2 1.5-0.4 1.4-2.1 1.4-1.3 1.4-1.4 1.4-1.8 1.4-1.6 1.3-1.1 1.4-1.7 1.3-1.9 1.3-1.1 1.2-2.1 1.3-1.9 1.2-1.3 1.2-1.9 1.2-1.5 1.2-0.9 1.1-2.1 1.1-1 1.1-1.8 1.1-2.4 1.1-0.7 1.1-1.8 1.1-2.8 1-0.8 1-2.4 0.9-1.8 0.9-1.2 0.9-2.7 0.9-1.5 0.9-1.4 0.8-2.1 0.8-2.2 0.8-1.3 0.8-2.1 0.8-2.1 0.8-2.5 0.7-1.3 0.8-2.1 0.8-2.3 0.7-2.1 0.8-1.4 0.8-2.4 0.8-1.6 0.8-1.6 0.7-2.1 0.7-2 0.8-1.5 0.7-2 0.7-1.4 0.7-2.1 0.7-1.2 0.7-1.9 0.6-2.1 0.7-2.4 0.7-2.1 0.7-0.9 0.7-2.1 0.6-2.1 0.7-2.3 0.7-2.1 0.7-1.5 0.7-2.3 0.7-2.1 0.8-2.1 0.7-2.1 0.7-2.9 0.8-2.3 0.6-0.8 0.5-1.9 0.6-1.8 0.6-2.9 0.6-1.8 0.6-1.7 0.6-1.8 0.6-1.7 0.6-2.7 0.7-1.5 0.6-2.7 0.6-2 0.7-1.4 0.6-2.3 0.7-2 0.6-2.5 0.6-2 0.7-2.4 0.6-2 0.6-1.6 0.6-2 0.7-3 0.6-2 0.6-1.3 0.5-2.2 0.6-1.8 0.6-2.7 0.5-1.6 0.6-2.1 0.5-1.2 0.5-2.4 0.5-1.4 0.4-1.3 0.5-2.4 0.6-2.1 0.6-2 0.6-1.8 0.5-2.4 0.4-1.8 0.4-1.9 0.4-0.6 0.4-2.4 0.3-1.4 0.3-0.9 0.4-1.5 0.3-1.3 0.3-2 0.4-1 0.4-2.6 0.4-1.7 0.4-1.6 0.5-2.9 0.5-2.2 0.6-2.2 0.6-3 0.7-3.8 0.3-1.5 0.3-1.2 0.3-1.1 0.4-2 0.3-1.9 0.4-0.9 0.4-1.9 0.3-1.2 0.4-1.8 0.4-1.8 0.4-2.4 0.4-1.4 0.4-2.5 0.5-1.9 0.4-1.8 0.4-1.4 0.5-2 0.4-2.8 0.5-1.9 0.4-2 0.5-2.1 0.4-2.1 0.5-2.1 0.5-2.4 0.4-1.7 0.5-1.8 0.5-2.5 0.4-1.8 0.5-2.5 0.5-2.6 0.4-1.5 0.5-2.1 0.4-2.9 0.5-2.5 0.4-1.6 0.5-2.1 0.4-2.2 0.5-1.7 0.4-2.5 0.4-2 0.4-3 0.5-1.5 0.4-1.9 0.4-2.9 0.3-2.1 0.4-1.3 0.4-1.8 0.4-3 0.3-1.4 0.4-2.5 0.3-1.2 0.3-2.1 0.3-2.3 0.3-1.9 0.3-1.5 0.3-2.5 0.4-1.8 0.2-2.6 0.3-2.1 0.3-1.4 0.3-2.4 0.2-2.3 0.2-2 0.3-1.9 0.2-2 0.2-1.8 0.2-2.6 0.2-1.5 0.2-2.2 0.2-1.8 0.2-2.1 0.2-1.9 0.1-2 0.2-1.8 0.1-2.4 0.2-2.1 0.2-1.7 0.1-1.9 0.2-2.4 0.1-2 0.2-2.2 0.1-1.3 0.2-1.6 0.1-2.7 0.2-2.2 0.1-1.9 0.2-1.7 0.1-2.1 0.2-1.1 0.1-3.1 0.2-1.6 0.2-2.2 0.1-1.3 0.2-1.8 0.2-2.7 0.2-2.1 0.2-1.5 0.2-1.8 0.2-1.6 0.2-3.1 0.2-1.9 0.3-1.9 0.2-2 0.2-1.9 0.2-1.5 0.3-2.1 0.2-2.4 0.2-2 0.2-1.8 0.3-2.1 0.2-1.2 0.2-2.5 0.3-1.6 0.2-1.6 0.2-2.4 0.3-2.2 0.2-1.1 0.2-1.9 0.3-2.6 0.2-1.7 0.3-1.5 0.2-2.5 0.2-2.2 0.3-2.2 0.2-0.9 0.3-2.1 0.3-2.5 0.2-1.8 0.3-2 0.2-2.3 0.3-1.2 0.3-2.5 0.2-2.5 0.3-2.4 0.3-1.5 0.2-2.2 0.3-1.6 0.3-2.3 0.3-2.2 0.3-2.8 0.3-2.2 0.3-2 0.3-2.3 0.3-1.6 0.3-2.7 0.2-1.6 0.3-1.3 0.2-2.7 0.3-1.4 0.2-2.2 0.3-1 0.2-2.7 0.3-0.7 0.2-1.8 0.3-1.7 0.2-2.7 0.3-1.5 0.2-1.2 0.3-2.5 0.3-1.3 0.2-1.8 0.3-1.2 0.3-2.2 0.2-1.5 0.3-2.5 0.3-1.2 0.2-2.2 0.3-1.3 0.3-2.8 0.3-0.9 0.2-2.6 0.3-1.5 0.3-1.9 0.3-2.3 0.3-1.1 0.3-2.5 0.2-2 0.3-2.2 0.3-1.7 0.3-1.7 0.3-1.7 0.3-2.5 0.3-1.6 0.3-2.7 0.3-1.8 0.3-1.9 0.3-1.5 0.3-2.3 0.3-2.4 0.3-2.9 0.3-1.8 0.3-1.8 0.3-2.8 0.3-1.8 0.3-2.4 0.3-2.9 0.3-1.1 0.3-2.6 0.3-3.1 0.3-1.9 0.4-2.9 0.3-2.3 0.3-2.3 0.3-2.8 0.2-1.6 0.2-1.7 0.2-1.3 0.2-2.3 0.2-1.8 0.3-1.2 0.2-2.3 0.2-1.1 0.2-2.3 0.2-1.7 0.3-2.4 0.2-1.4 0.2-2.8 0.2-2 0.3-2 0.2-1.4 0.2-2 0.3-2.7 0.2-1.8 0.3-1.6 0.2-2.4 0.2-2.8 0.3-2 0.2-2.2 0.3-2.3 0.2-1.8 0.3-2.6 0.2-1.2 0.2-2.9 0.3-2.1 0.2-2.1 0.3-2.1 0.2-2.2 0.3-2.8 0.2-2.3 0.3-2.2 0.2-2.7 0.3-1.9 0.2-1.9 0.3-1.9 0.2-2.6 0.3-2.4 0.2-2.3 0.3-3 0.2-1.9 0.3-2.3 0.2-1.9 0.3-2.9 0.2-2 0.3-2 0.2-2 0.2-2.1 0.3-2.5 0.2-2.8 0.3-1.5 0.2-2 0.2-2.6 0.3-2.4 0.2-2 0.3-2.6 0.2-1.4 0.2-1.8 0.2-2.6 0.3-1.9 0.2-1.9 0.2-2.8 0.2-1.1 0.3-2.3 0.2-2.5 0.2-2.1 0.2-1.7 0.2-1.5 0.2-1.8 0.2-2.2 0.2-1.1 0.3-2.5 0.2-1.6 0.1-2.2 0.2-0.7 0.2-2.6 0.2-0.7 0.2-2.1 0.2-1.5 0.2-1.6 0.2-1.8 0.1-0.7 0.2-1.3 0.2-1.6 0.1-1.7 0.2-1.8 0.1-0.5 0.2-1.9 0.7-4.4 0.6-5.3 0.5-3.4 0.5-3 0.4-3.4 0.4-1.9 0.4-2.4 0.3-1.6 0.3-1 0.3-0.1 0.3-0.9 0.3-1.2 0.2-1.2 0.3-0.4 0.2-0.8 0.3-1.5 0.3-1.1 0.4-1.4 0.3-2.9 0.4-2.2 0.3-1.3 0.2-2.2 0.3-1.5 0.3-1.7 0.3-2.4 0.2-1.6 0.3-2.4 0.3-1.7 0.3-2.5 0.3-1.8 0.3-2.9 0.3-1.5 0.3-2.9 0.3-1.2 0.3-2.7 0.4-2.5 0.3-2.3 0.3-2 0.3-2.1 0.2-2.2 0.3-2.2 0.3-2.5 0.3-1.5 0.3-2.2 0.3-2 0.2-2.5 0.3-1.9 0.3-1.7 0.2-1.4 0.2-2.1 0.3-1.6 0.2-1.7 0.5-2.5 0.4-3.4 0.4-2.9 0.3-1.6 0.4-2 0.3-2.2 0.3-2 0.3-1.6 0.3-2.3 0.3-1.3 0.3-2.2 0.3-1.5 0.3-1.2 0.3-1.5 0.3-1.8 0.5-3 0.5-1.7 0.4-2.6 0.5-2.6 0.5-2.2 0.5-1.9 0.4-2.2 0.4-2 0.4-0.5 0.3-1.3 0.9-3.2 0.9-1.7 0.4-2 0.5-1.4 0.6-2.8 0.6-1.6 0.6-2.4 0.5-1.8 0.6-2.9 0.7-1.6 0.8-3.1 0.7-1.7 0.8-1.6 0.7-3.4 0.8-2 0.8-2.4 0.7-2.3 0.8-2.5 0.7-0.9 0.9-2.3 0.9-2 1-2 0.8-1.4 1-2.6 1-2.1 1-0.9 0.9-2.4 1.2-2 1.2-1.2 1.3-1.6 1.8-2.6 1.9-2.3 1.9-1.5 2.3-0.9 2.4-1 2.2-1.3 2.4 0.6 2.4-0.7 2.5 0.2 2.5-0.1 2 1.2 2.9 1.8 1.4-0.1 1.6 1.6 1.8 0.8 1.7 2.3 1.7 0.6 1.7 2 1.6 2.7 1.6 1.5 1.4 2.5 1.4 1.8 1.4 1.7 1.4 1.3 1.3 2.2 1.3 2 1.4 1.1 1.3 1.2 1.3 2 1.2 1.9 1.1 2.4 1.1 1.3 1.1 1.9 1.1 1.9 1.1 2.2 1.1 1.8 1.2 1.2 1.1 2 1.1 2 1.1 1.4 1.1 1.5 1.2 2 1.1 2.7 1.1 1.5 1.1 1.3 1.2 2.1 1.1 0.9 1.2 2.8 1.1 1 1.1 2 1.2 1.9 1.1 1.4 1.1 2.5 1.1 1.4 1.1 1.8 1 2.1 1.1 0.9 1.5 2.7 0.8 1.8 0.7 0.7 0.8 1.3 0.9 1.7 0.9 1 1 2.6 1.1 2 1.2 0.9 1.4 3 1.5 3.1 0.7 0.9 0.8 2 0.8 1 0.8 1.1 0.9 2 0.9 1.8 0.9 1.3 0.9 2.1 1 1.9 1 1.5 1 1.9 1 2.3 1 1.7 1 1.7 1.1 2.5 1 1.1 1 2.7 1 1.2 1.1 2.6 1 1.6 1 2.2 0.9 2.4 1 2 0.8 1.8 0.8 1.1 0.9 2.1 0.8 1.4 0.8 2.3 0.9 1.8 0.8 1.3 0.8 2.6 0.9 2.1 0.8 1.8 0.9 2.3 0.8 1.1 0.8 1.9 0.9 1.8 0.8 2.5 0.8 1.9 0.8 1.9 0.9 1.7 0.8 2.6 0.8 1 0.8 2.9 0.7 1.4 0.8 1.8 0.8 2.1 0.7 1.1 0.8 1.6 0.7 1.9 0.9 1.7 0.9 2.4 0.9 2.3 0.8 1.8 0.8 1.5 0.8 2.2 0.8 1.1 0.8 2.6 0.8 1 0.7 1.8 0.8 1.6 0.7 2.3 0.8 1.9 0.8 1.7 0.8 0.9 0.7 2.3 0.8 1.8 0.8 1.8 0.9 3 0.8 1 0.9 2.7 0.6 2 0.7 1.9 0.6 0.7 0.6 2.1 0.7 2.1 0.6 0.9 0.6 2 0.7 2.6 0.6 0.9 0.7 2.2 0.6 1.7 0.6 2.1 0.7 1.5 0.7 1.8 0.6 3.1 0.7 1.7 0.7 1.9 0.7 1.4 0.7 2 0.7 2.3 0.7 1.7 0.8 2.2 0.7 2.6 0.8 1.3 0.8 2 0.8 2.8 0.8 1.6 0.8 1.3 0.9 2.5 0.7 2 0.8 1.1 0.8 2.1 0.8 2.2 0.8 2 0.9 1.5 0.8 2.2 0.9 1.3 0.9 1.8 0.9 2.4 0.9 1.3 0.9 2.4 1 1.2 0.9 2.1 0.9 1.7 1 2.3 0.9 1.4 0.9 2 1 1.9 0.9 2.2 0.9 1.7 1 2 0.9 2.5 0.9 1.5 0.9 2.1 0.9 1 0.9 2 0.9 1.4 0.9 2.6 0.8 1.3 0.8 1.7 0.8 1.4 0.8 1.9 0.8 1.7 0.9 2.2 1 2.7 0.9 1.8 0.9 1.5 0.8 2.1 0.9 1.7 0.8 2.8 0.9 1.3 0.8 2.4 0.8 1.8 0.8 2.1 0.8 0.8 0.8 2.2 0.7 1.9 0.8 1.5 0.8 2.8 0.7 1.1 0.8 2.3 0.8 1.5 0.7 1.2 0.8 2.2 0.8 1.5 0.7 1.6 0.8 1.8 0.8 2.3 0.8 1.1 0.8 2.1 0.9 2.1 0.9 2.1 0.9 1.4 0.9 2.6 0.9 1.4 1 2.5 0.9 1.8 0.9 1.3 0.9 2 0.9 1.9 0.9 2.4 0.9 1.5 0.9 1.8 0.9 2.4 0.9 1.1 0.9 1.8 0.9 1.9 0.9 1.6 1 1.5 0.9 1.7 0.9 2.4 0.9 1.6 0.9 1.9 0.9 1.9 1.1 1.1 1.1 2.3 1 2.1 1.1 0.9 1.1 2.4 1 1.6 1.1 2.1 1 1.5 1.1 0.9 1.1 2.1 1 1 1.1 2 1.1 1.6 1.1 1.2 1.1 2 1.1 1.5 1.2 1.9 1.1 1.4 1.2 1.5 1.2 2 1.2 1.7 1.1 1.3 1.2 2.3 1.2 1.2 1.2 1.6 1.2 2 1.2 1.8 1.3 1.4 1.2 2.3 1.3 1.9 1.2 1.5 1.3 1.9 1.3 0.9 1.2 2.1 1.3 1.6 1.3 1.3 1.3 2.1 1.3 1.1 1.3 2.1 1.3 1.6 1.3 1.4 1.4 1.4 1.5 1.5 1.4 1.2 1.5 2 1.4 2.1 1.5 1.1 1.4 1.1 1.5 1.9 1.4 0.8 1.5 1.7 1.5 1.6 1.5 1.7 1.5 0.6 1.6 1.5 1.5 1.7 1.5 1.1 1.6 1 1.6 1.2 1.6 0.9 1.7 1.2 1.8 1 1.7 1.8 1.8 1.2 1.8 0.4 1.8 1.7 1.8 0 1.9 1.1 1.8 1.4 1.9 0.7 1.8 1 1.9 1.6 1.9-0.1 1.8 0.9 1.9 0.9 1.8 1.4 1.9 0.3 1.8 0.5 1.9 1.5 2 0.6 1.9 0.6 1.9 1.1 1.9 0.9 2 0.6 1.9 0.8 1.9 0.6 2 0.9 1.9 0.8 1.9-0.1 2 0.6 1.9 1.2 1.9-0.2 1.9 1 2 0.5 1.9 0.4 2 0.8 2.1 0.3 2-0.4 2 0.9 2.1 0.2 2 0.5 2 0 2.1 0.2 2 0.8 2 0 2.1-0.2 2 0.2 2.1 0.3 2.1-0.1 2.1 0.5 2.1-0.3 2.1-0.1 2.1 0 2.3 0 2.3 0.6 2.4-0.8 2.4 0.3 2.4 0.2 2.4-0.6 2.3-0.5 2.3 0.6 2.1-0.2 2.1-1.2 1.9 0.1 1.8 0.1 1.6 0.3 1.3-0.6 1.2 0.3" stroke="#EC008C" stroke-width="1.50" fill="none" stroke-linejoin="round"/>
<path d="M220 1354.9l1.1 0.4 1.3-0.3 1.6-2.5 1.6-1 1.9 0.9 2-0.9 2.1 1.6 2.1-1.1 2.3-1 2.3-0.8 2.4-0.2 2.3-2.8 2.4 0.5 2.3-1.8 2.3 2.3 2.2-4.1 2.1 2.3 2-3.7 1.9 1.8 1.8-2.2 2.2-0.6 2.1 0.8 2-4.2 1.9-0.8 1.9 2.4 1.8-2.6 1.8-2.7 1.7 2.6 1.7-1.2 1.7-4.5 1.6 0.1 1.7-2.3 1.6-0.5 1.6 0 1.7-3.1 1.6 0.8 1.5-3.9 1.5-1 1.6 1.1 1.5-3.1 1.5-1.5 1.5-0.9 1.4-2 1.5-2 1.4-3 1.4 1.2 1.4-0.6 1.3-1.5 1.3-2.8 1.3-2.7 1.3-1.3 1.5-0.4 1.5-1.7 1.4-3.9 1.3-1.1 1.3-1.1 1.3-1 1.3-0.3 1.2-2.8 1.2-3.4 1.3 1.8 1.2-3.1 1.2-1 1.3-2.6 1.5-0.8 1.5-1.6 1.5 0.2 1.5-4.1 1.5 0.5 1.4-2.8 1.5 0.7 1.4-4 1.4-0.6 1.4-1.3 1.4-0.6 1.1-3.9 1.2-0.1 1.1-2.7 1.1-1.6 1.1-1.1 1.1 0 1-3.9 1.1-0.1 1-5.1 1.1 1.1 1-4.1 1.1-2.5 1 0.5 1.2-1.3 1.2-5.5 1.1-0.8 1.1 0.2 1.2-3.4 1.1-2.2 1.1-2.6 1.2-1.7 1.2 0.5 1.3-0.3 1.3-1.9 1.1-3.6 1.2-3.5 1.3-0.6 1.3 0.1 1.3-1.6 1.4-2.6 1.3-3.4 1.4-0.6 1.3-1.9 1.2-1.1 1.2-3 1.1 1.2 1-1.6 0.9-4.2 1.8-2 1.2 0.7 0.8-3.7 0.9 0.9 1.3-4.4 0.6-0.7 0.7-1.6 0.7-3.7 0.7-1.5 0.7-2.1 0.7-0.3 0.8-2 0.8-4.4 0.8 0.9 0.8-3.9 0.9-2.8 0.9-1.3 0.9 0.2 0.9-3.4 0.8-1.5 0.9-0.6 0.9-1.5 1-2.6 0.9-3.1 1-1 1-0.5 1-2.2 1-2.7 1.1-2.7 1.2-1.8 1.1-0.4 1.2-2.6 1-3.8 0.9 1.2 1-0.9 1-2.1 1.1-1.4 1-1.7 1.1-3.2 1.1-0.8 1.1-3.4 1.1-2.9 1.2-0.7 1.1-1.9 1.2 0.8 1.2-2.7 1.2-2.2 1.2-1.2 1.3-3.5 1.2 0.2 1.4-0.9 1.5-2.8 1.6-2.1 1.6-0.9 1.6-1.9 1.7 0 1.7-3.6 1.7-1.6 1.6-0.4 1.7 0.3 1.6-0.9 1.6-1.5 1.5 0.1 1.5-3.1 1.4-2.1 1.3 1.3 2.4-1 2.2-1.4 2 2.1 1.9-0.8 1.8 0.3 1.8 1.2 1.9 3.4 2-2.8 1.7 2.2 1.6 0.6 1.7 0.7 1.7 2 1.7 0.3 1.8 4.1 1.7-0.4 1.7 2.2 1.7-0.6 1.7 2.8 1.3 1.8 1.3 2.3 1.3-1 1.4 2.2 1.3 3.1 1.3 1.4 1.3-0.8 1.3 2.8 1.3 2.6 1.3 0.2 1.3 2.8 1.3 1.6 1.3 3 1.2 0 1.1 2.2 1.2 0.4 1.1 3.3 1.1 0.2 1.2 2.5 1.1 1.3 1.1 1.7 1.2 1.1 1.1 2.2 1.1 3.1 1.2 0.6 1.1 1 1.2 4.7 1.3-0.3 1.3 4.3 1.3 0.3 1.3 0.7 1.4 3.5 1.3 1.6 1.3-0.7 1.4 0.8 1.3 3.7 1.3 2.5 1.3 0.9 1.3 2.6 1.2 0.5 0.9 2.5 0.9 0.2 0.8 2.4 0.9 1.7 0.8 1.9 0.9 2 0.8 3.6 0.9-0.5 0.8 2.1 0.8 2.2 0.8 4.9 0.8 0.1 0.9 0.1 0.8 4.9 0.8 2 0.8 1.5 0.8-0.3 0.8 3 1.3 0.6 1.3 1.3 1.3 4.8 1.2 1.6 1.3-0.9 1.2 4.2 1.3-1.9 1.2 2.7 1.3 0.4 1.3 2.2 1.3 1.8 1.2 3.8 1.3 0 1.2 1.2 1.3 1.6 1.2 2.2 1.3 3.9 1.3 0.7 1.2-0.3 1.3 4.2 1.2 1.2 1.3 1.6 1.2 2.3 0.9 2.1 0.9 2.2 0.7 0.5 0.8 2.1 0.7 1 0.7 2.3 0.7 0.8 0.8 1.8 0.8 2.3 0.9 2.7 1 0.2 1 4.7 1.2 0.4 1.4 3.8 1.5 1.8 0.8 2.3 0.9 0.3 0.8 0.4 0.9 1.3 0.9 2.3 0.9 2.1 0.9 1.8 0.9-1.3 1 1.3 1 1.8 1 1.5 1 1.6 1 1.4 1.1 2.7 1.1 1.1 1.2 4 1.2 1.4 1.2 3.2 1.3 1.7 1.2 0.8 1.4 2.6 1.4-2 1.4 2.6 1.4 4.5 1.6-0.1 1.5 0.6 1.6 4 1.7 0.3 1.7 2.2 1.3 0.3 1.2 0.9 1.4 0.6 1.3 3.3 1.4 2.6 1.5 1.4 1.4 0.4 1.5 2 1.5-1 1.6 1 1.5 3.8 1.6 0 1.6 1.6 1.7-1.3 1.6 2.2 1.7 2.3 1.7 2.3 1.7 1.7 1.7 1 1.7-0.3 1.8 1.4 1.7 3.2 1.8 1.8 1.7-0.7 1.8 0.1 1.8 3 1.7 0.9 1.8 0.5 1.8 0.7 1.7 1.8 1.8 2.1 1.7-0.8 1.8 2.8 1.7 2.8 1.7 0.3 1.8-0.9 1.7 1.7 1.6-0.2 1.7 2.8 1.7 0.9 1.6 0.4 1.9 1.5 1.9 1.2 1.9 1 1.9 0.7 1.9 0.9 1.9 1 1.8 1.7 1.9 0.1 1.9 1 1.9 0.8 1.9 0.5 1.9 1.1 1.8 0.6 1.9 0.9 1.9 0.8 1.9 0.7 1.9 1.4 1.8 0 1.9 0.7 1.9 1.1 1.9 0.4 1.9 0.8 1.8 0.8 1.9 0 1.9 1.4 1.9-0.1 1.9 0.9 1.9 1.3 1.8 0.9 1.9 0.2 1.9 0.1 1.9 0.9 1.9 0.5 1.9 1.3 1.9 0 2 0.6 1.9 1.2 2 0.7 1.9 0.7 2 0.5 2 1.3 1.9 0 2 1.3 2 0 1.9 0.7 2 0.5 2 1.1 1.9 0.7 2 0 2 1 2 0.8 1.9 0.4 2 0.8 2 0.5 2 0.7 1.9 0.2 2 0.5 2 0.2 2 1.6 1.9 0.4 2 0 2 1.2 2 0.5 1.9-0.5 2 1.3 2 0 2 0.3 1.9 0.4 2 0.6 2 0 2.1 0.4 2.1 0.4 2.1 0.6 2.2 0.2 2.1 0.3 2.2 1.2 2.2-0.2 2.2 0.4 2.2 0.4 2.2 0.7 2.2-0.7 2.2 0.4 2.2 1 2.2 0.3 2.1 0.2 2.2-0.2 2.1 0 2.2 0 2.1 1 2 0.1 2.1-0.1 2 0.5 2-0.5 1.9 0.5 1.9 0.6 1.9-0.8 1.8 0.8 1.8-0.4 1.7 0.9 1.6 0.2 1.7-0.1 1.5-0.1 3-0.2 2.8 0.9 2.5 0 2.3 0.3 2.2-0.2 2.1 1.2 1.9-0.4 1.8 0.2 1.8 0.4 1.7 0.2 1.7-0.4 1.7 0.1 1.8 0.4 1.8-0.6 1.9 0.7 2-1.1 2 1 2-0.4 1.9 0.2 2 0.4 1.8-0.9 1.9 0.2 1.9 0.4 1.9-0.1 2-0.4 2 0.2 2-0.3 2.2 0 2.2-0.5 2.3-0.6 2.4-0.4 2.5-0.7 1.7-0.2 1.7-0.5 1.8 0.8 1.9-1.4 1.9 0.2 2-1 1.9 0.6 2.1-1 2-0.8 2.1 0.3 2.1-0.5 2.1-0.4 2.1-1.4 2.1-0.3 2.1-0.2 2.1-1 2.2-0.2 2.1-0.4 2-0.5 2.1-0.5 2.1-0.6 2-1.1 2 0 1.9-0.9 1.9-0.9 2-0.7 2 0.1 2-0.8 2-0.9 2 0 1.9-0.6 2-0.6 1.9-0.2 1.9-0.6 1.9-0.5 1.9 0 1.9-0.7 1.9-1.3 1.8 0.1 1.9-1.3 1.9 0.1 1.8-1.8 1.9-0.5 1.9 0 1.9-1.2 1.8-0.9 1.9-1.6 1.9-1.2 1.6 0.1 1.7-2 1.6-0.9 1.7-0.7 1.7-0.6 1.7-1.3 1.7-0.7 1.7-1.4 1.7-1.6 1.7-0.6 1.7-2 1.7-1.5 1.7-0.2 1.7-1.4 1.6-1.6 1.7-1.6 1.6-1.7 1.6-1.4 1.6-1.6 1.5-1.4 1.5-1.1 1.5-1 1.5-1.4 1.4-2.1 1.3-1.4 1.3-1.8 1.3-1.3 1.1-1.6 1.1-1.2 1.1-1.8 1-1.9 1.1-1.8 0.9-2.2 1-1.4 0.9-1.8 0.9-2.1 0.9-1.8 0.8-1.6 0.9-2.1 0.8-1.4 0.8-2.2 0.8-1.1 0.7-2.3 0.8-2.1 0.7-2.1 0.8-2 0.7-2.1 0.7-1 0.7-2 0.7-2.2 0.7-2 0.7-2.5 0.6-1.4 0.7-2.3 0.7-1.7 0.7-1.5 0.7-2.4 0.7-1.9 0.8-1.3 0.6-2.2 0.7-1.5 0.7-2.7 0.6-2 0.7-0.8 0.6-2.3 0.6-1.8 0.6-2 0.6-2.4 0.6-0.9 0.5-2.5 0.6-1.4 0.6-2.8 0.5-1.8 0.6-1.6 0.5-2.4 0.5-1.2 0.6-2.8 0.5-2.2 0.5-2 0.5-2 0.6-1.3 0.5-2.2 0.5-2.5 0.4-2 0.4-2.3 0.4-0.8 0.3-2.5 0.4-1.7 0.3-1.5 0.3-1.2 0.4-2.5 0.3-1.9 0.3-0.8 0.3-2.8 0.3-0.9 0.3-2.5 0.3-1.6 0.3-2 0.3-1.5 0.3-1.3 0.3-2 0.3-2.3 0.3-2.5 0.3-1.8 0.3-1.9 0.3-1.4 0.4-1.9 0.3-3.2 0.4-1.8 0.4-1.4 0.4-3.2 0.4-2.4 0.4-2.1 0.5-1.6 0.4-3.2 0.5-1.9 0.5-3.3 0.3-0.9 0.4-2.3 0.3-1.2 0.4-1.5 0.4-1.6 0.3-2.3 0.4-1.1 0.4-2.6 0.4-1.2 0.5-1.9 0.4-1.8 0.4-3 0.5-1.7 0.4-1.4 0.5-1.8 0.4-2.7 0.5-1.4 0.4-2.4 0.5-2.6 0.5-1.9 0.4-2.2 0.5-1.8 0.5-1.2 0.5-2.4 0.5-1.9 0.4-2 0.5-2.8 0.5-1.7 0.5-2.2 0.5-2 0.4-2.9 0.5-1.1 0.5-3 0.5-1.8 0.4-1.8 0.5-2.1 0.4-2 0.5-2.7 0.4-2.1 0.5-1.6 0.4-2.8 0.5-1.1 0.4-2.7 0.4-2 0.4-2.1 0.4-1.5 0.4-2.7 0.4-2 0.3-2 0.4-1.9 0.3-1.3 0.4-1.5 0.3-3 0.3-1.3 0.4-2.3 0.3-2.2 0.3-2.1 0.3-2.4 0.3-1.7 0.3-2.3 0.3-2.4 0.3-1.9 0.3-1.2 0.2-2.3 0.3-1.7 0.2-2.2 0.2-2.1 0.3-2.7 0.2-2.1 0.2-1 0.2-2.3 0.2-2 0.2-2.6 0.2-1.2 0.2-2.3 0.2-2.5 0.2-1.8 0.1-1.1 0.2-2.4 0.2-2.6 0.1-1.9 0.2-1.2 0.2-2.4 0.2-1.8 0.1-2.3 0.2-1.9 0.2-1.6 0.1-2 0.2-2.3 0.2-2 0.2-1.6 0.2-2.3 0.2-2 0.1-1.5 0.2-2.5 0.2-1.1 0.2-1.9 0.3-2.1 0.2-1.7 0.2-2.9 0.2-1.7 0.3-2 0.2-2.5 0.2-1 0.3-3 0.2-0.8 0.2-2.3 0.2-1.6 0.3-3.1 0.2-0.9 0.2-1.9 0.3-2.1 0.2-2.2 0.2-1.8 0.2-2.2 0.3-1.4 0.2-2.3 0.2-2 0.3-2.1 0.2-1.6 0.2-2 0.3-1.5 0.2-2.2 0.2-2.5 0.3-1.5 0.2-2.5 0.3-1.7 0.2-1.9 0.3-1.8 0.2-2.8 0.2-1.9 0.3-2 0.3-1.6 0.2-2.6 0.3-1.6 0.2-1.7 0.3-2.7 0.3-2.3 0.2-1.8 0.3-2.4 0.3-2.1 0.2-2.6 0.3-1.6 0.3-2.7 0.3-1.5 0.2-2.4 0.2-1.6 0.3-1.5 0.2-1.7 0.2-2.9 0.3-0.7 0.2-2.8 0.2-0.7 0.2-2 0.3-2.4 0.2-1.3 0.2-1.9 0.3-1.9 0.2-1.6 0.2-2 0.3-1.6 0.2-1.8 0.3-2.6 0.2-1.1 0.2-1.7 0.3-1.6 0.2-2.3 0.3-1.8 0.2-2.4 0.3-1.8 0.2-1 0.3-2.9 0.2-0.9 0.3-2.9 0.2-1.6 0.3-1.7 0.2-2.7 0.3-1.5 0.3-1.5 0.2-2.5 0.3-2.3 0.3-2.2 0.2-1 0.3-3.1 0.3-1.5 0.2-2.1 0.3-2.6 0.3-1.8 0.3-2.1 0.3-2.8 0.2-2.2 0.3-1.4 0.3-3.2 0.3-1.9 0.3-2.4 0.3-2 0.3-2.3 0.3-2.5 0.3-2.6 0.3-2.6 0.3-3.1 0.3-1.9 0.3-2.8 0.2-1.2 0.2-2.2 0.2-1.9 0.2-1.4 0.2-1.2 0.2-2.2 0.2-1.5 0.2-2.6 0.2-1.6 0.2-1.8 0.3-1.5 0.2-2.3 0.2-0.9 0.2-2.7 0.2-2.3 0.2-1.6 0.3-1.6 0.2-1.9 0.2-1.7 0.2-2.8 0.2-1 0.3-2.1 0.2-2.5 0.2-1.8 0.3-2.5 0.2-2.2 0.2-2.3 0.2-0.9 0.3-2.2 0.2-2.6 0.2-1.9 0.3-2.3 0.2-1.8 0.2-2.9 0.3-1.3 0.2-2.8 0.3-1.7 0.2-2.1 0.2-1.9 0.3-2.4 0.2-2.7 0.3-1.4 0.2-2.7 0.2-1.9 0.3-1.9 0.2-1.9 0.3-3.3 0.2-1.7 0.2-2.3 0.3-1.5 0.2-2.7 0.3-1.6 0.2-2.3 0.2-2.6 0.3-1.7 0.2-2.3 0.3-2.8 0.2-1.9 0.2-2.3 0.3-1.3 0.2-2.6 0.3-2.3 0.2-1.6 0.2-1.7 0.3-3.1 0.2-1.4 0.2-2.7 0.3-1.3 0.2-2.1 0.3-2 0.2-2.3 0.2-2.5 0.3-1.2 0.2-2.8 0.2-1.4 0.3-1.5 0.2-2.8 0.2-1.7 0.2-1.6 0.3-2 0.2-2.2 0.2-1.8 0.2-1.2 0.3-2.1 0.2-2.4 0.2-1.2 0.2-1.6 0.2-2 0.3-1.4 0.2-2.4 0.2-1.7 0.2-1 0.3-3.2 0.3-2.7 0.4-2.4 0.3-1.6 0.3-2.5 0.3-3.2 0.4-1.7 0.3-3.1 0.3-1.8 0.3-3.1 0.4-1.7 0.3-2.1 0.3-2.6 0.3-2.1 0.3-2.9 0.3-1.8 0.4-1.9 0.3-2.7 0.3-1.7 0.3-2.4 0.3-1.9 0.3-2.2 0.3-2.6 0.4-1.5 0.3-2.1 0.3-2.6 0.3-1.7 0.3-2.4 0.3-1.8 0.3-2.3 0.3-1.8 0.3-2.2 0.3-1.2 0.3-2.3 0.3-1.9 0.3-2 0.3-2 0.3-2.2 0.3-1.3 0.3-2 0.3-2 0.3-1.6 0.3-2.2 0.2-1.2 0.3-1.6 0.3-2.2 0.3-2 0.3-0.7 0.2-2.1 0.3-2 0.3-1.9 0.3-1.1 0.2-2 0.3-0.8 0.3-1.8 0.3-2.1 0.2-1.4 0.3-2 0.2-1.3 0.3-1.1 0.5-2.6 0.5-3.4 0.5-2.1 0.5-3.6 0.5-2.8 0.5-1.6 0.5-3 0.5-2.5 0.4-2.1 0.5-2 0.4-2.6 0.5-2.3 0.4-1.4 0.5-1.9 0.4-2.1 0.5-2.3 0.4-1 0.4-2.3 0.4-1.6 0.4-1.3 0.4-2.5 0.4-1.2 0.4-1.6 0.4-1.3 0.4-2 0.4-1.5 0.3-1.5 0.4-1.1 0.3-1.7 0.4-0.7 0.8-3.2 0.7-2.9 0.8-2.9 0.6-1.8 0.7-2.4 0.6-1.6 0.6-1.5 0.6-2.6 0.5-0.7 0.6-1.3 0.5-1.9 0.5-1.5 0.5-1.8 1-1.6 0.9-3 0.8-2 0.7-1.5 0.8-1.2 0.7-1.9 0.6-1.5 0.5-2.3 0.5-2.8 0.5-1.1 0.5-2.1 0.6-2.2 0.5-1.8 0.5-1.9 0.7-2.4 0.7-1.9 0.7-2.8 0.7-0.7 0.7-2.9 0.8-1.2 1-1.7 1-1.9 1.1-1.8 1.3-1.5 1.3-1.8 1.5-1.3 1.6-2.5 1.7-1.3 1.9-1.1 1.9-1.5 2.1-1.5 2.3-0.3 2.4-0.1 2.4-0.8 2.2 0.2 2-0.1 1.9 1.3 1.9 0.3 1.9 1.5 2.3 1.2 1.6 1.2 1.8 0.7 1.8 2 1.9 1.5 2 1.3 1.8 1.5 1.8 0.8 1.6 1.3 1.7 2.1 1.5 1.3 1.5 1.1 1.3 1.3 1.4 0.8 1.3 2.1 1.3 1 1.3 2.3 1.4 1.5 1.3 2.4 1.3 1.4 1.2 2.1 1.1 2.4 1 1.4 1.1 1.8 0.6 2.9 0.8 0.8 1.8 3 1 1.5 1.2 1 1.3 1.3 1.4 1.6 1.5 0.4 1.6 1.9 1.6 1.2 1.6 2 1.6 1.4 1.5 1.8 1.4 2 1.1 1.1 1.2 1.4 1.1 1.7 1.1 1.2 1 2.5 1.1 1 1.1 1.9 1.1 2.2 1 1.8 1.1 2.1 1.1 1.6 1.2 1.8 1.1 2 0.8 2 0.9 1.5 0.9 0.9 0.8 2.5 0.9 1.9 0.9 1.5 0.9 2.4 0.9 1.8 0.9 2.1 0.8 1.2 0.9 2.3 0.9 1.8 0.9 1.7 0.9 1.8 0.8 1.7 0.9 2.7 0.9 1.2 0.8 1.8 0.9 1.9 1 2.3 0.9 1.9 0.9 2.4 0.9 1 0.9 2.2 0.9 2.5 0.8 1.9 0.9 1 0.9 2.3 0.9 2.5 0.9 1.8 0.8 1.1 0.9 2.2 0.9 1.3 0.9 1.4 1 2.9 1 0.9 1.1 2.8 1 1.2 1 2.2 1 1.2 1 2.2 1.1 1.5 1 1 1 1.5 1 1.8 1.1 2.2 1 1.2 1 1.7 1 2.1 1.1 1.4 1 2.1 1.1 2.2 1 1.3 1.1 2.5 1 1.2 1.1 1.9 1 1.9 1 2.4 1 0.9 1 2.8 1 1.1 0.9 3 0.8 1.2 0.7 1.7 0.6 1.1 0.5 1.4 0.5 1.3 0.5 0.6 0.5 1.4 0.5 2.3 0.6 0.7 0.7 1.9 0.8 1.8 0.9 3.2 1.1 2.9 1.2 2.3 1.5 4.6 0.5 0.4 0.5 1.8 0.6 1.4 0.6 1.2 0.6 1.6 0.6 1.8 0.6 1.9 0.7 1.1 0.7 1.7 0.7 2.7 0.7 1 0.7 1.6 0.8 2.9 0.8 2 0.7 1.1 0.8 2.4 0.8 2.4 0.8 1.4 0.8 2.1 0.9 1.7 0.8 2.2 0.8 2.7 0.9 2 0.8 2.6 0.8 1.6 0.9 2 0.8 2.2 0.9 1.9 0.8 2.5 0.9 2.3 0.8 1.5 0.8 2.6 0.8 2.5 0.9 1.7 0.8 1.6 0.8 2.4 0.8 1.3 0.7 1.9 0.8 2.7 0.8 1.7 0.7 1.7 0.7 1.7 0.7 1.4 0.7 2.3 0.7 1.2 0.7 1.9 0.6 1.4 0.6 0.9 1.2 3.3 1.1 2 1.1 2.7 1 2.6 1.1 2.3 0.9 1.6 1 1.5 0.9 1.8 0.9 2.6 0.9 1.1 0.9 1.5 0.8 2.1 0.9 1.4 0.8 1.9 0.8 0.9 0.8 1.9 0.8 2 0.9 0.6 0.8 1.8 0.8 1.5 0.9 1.3 0.8 1.6 0.9 1.9 0.9 2.1 0.9 1.3 1 2.5 0.9 1.5 0.9 1.7 1 2.5 0.9 1.7 0.9 1.5 0.9 1.6 0.9 2.1 1 2 0.9 2 0.9 1.7 0.9 1 1 2 0.9 2.8 0.9 1.2 1 1.8 1 1.3 0.9 2.6 1 1.8 1 1.1 1.1 1.8 1 1.5 1.1 2 1 2 1.1 1.7 1.1 1.2 1.2 1.9 1.1 1.9 1.2 2.4 1.2 1.9 1.1 1.6 1.2 1.3 1.2 1.6 1.2 2.3 1.2 1.6 1.2 1.5 1.1 1.8 1.2 2 1.2 1.2 1.1 1.3 1.1 2.3 1.2 1.9 1.1 0.8 1 1.8 1.1 2.1 1.1 1.9 1.1 0.9 1.1 2.7 1 1.1 1.1 1.7 1 1.7 1 2.3 1 1.8 0.9 1.4 1 2.4 1 1.2 1 2.6 1 1.8 1 0.9 1 1.3 1 1.7 1.1 2.2 1.1 1.4 1.1 2.1 1.1 1.1 1.2 1.3 1.3 1.5 1.4 2.6 1.4 1.3 1.4 1.4 1.4 0.9 1.4 1.7 1.5 1.8 1.5 1.2 1.5 0.9 1.5 1.5 1.5 1.9 1.5 0.4 1.6 2 1.5 1.3 1.6 1.1 1.6 1.3 1.6 1.7 1.6 0.5 1.6 1.8 1.6 1.2 1.7 1.3 1.6 0.5 1.7 2 1.7 0.9 1.7 1 1.8 2.1 1.7 0.5 1.7 1.5 1.8 1 1.8 0.9 1.7 1.4 1.8 1.5 1.8 1.1 1.7 1.2 1.8 0.3 1.7 1.1 1.8 1.6 1.7 0.5 1.9 1.2 2 0.6 1.9 0.8 1.9 0.3 1.9 1.7 2 0.8 1.9 0.5 1.9 0 2 1.1 1.9 0.6 1.9 0.1 2 0.7 1.9 1.1 1.9-0.3 1.9 0.9 2-0.2 1.9 0.4 2 0.5 2 0.8 2 1.1 2 0 2 0.3 2-0.1 1.9 0.8 2-0.2 2 0.2 2 0.5 2.1 0.2 2.1 0.8 2.1-0.1 2.1 0.2 2.2-0.3 2.3 0.2 1.9-0.3 2 0.2 2.1 0.8 2.2-0.5 2.3-0.5 2.3 0.2 2.4 0.2 2.4-0.3 2.3-0.5 2.3-0.6 2.3-0.4 2.3-0.1 2.1 0.7 2.1-0.3 2-0.2 1.8-0.2 1.7-0.8 1.5 0.4 1.3-0.8 1.1-0.1" stroke="#EC008C" stroke-width="1.50" fill="none" stroke-linejoin="round"/>
<path d="M220 1333l1.1 1.4 1.3-0.4 1.6 0.2 1.7-3.2 1.9-0.4 2-0.9 2.1-0.3 2.2 1.4 2.2-3.1 2.3 0.9 2.3-2 2.2-0.5 2.3-0.2 2.1 0.8 2-1.7 1.9-3.1 1.8 0.2 2-1.5 1.9 2 1.8-1.3 1.8-1 1.7-0.9 1.6-1.4 1.6-0.2 1.6-1.7 1.6-3.3 1.7 1.1 1.6-2.7 1.6-0.3 1.7-2.2 1.8-2 1.4-1.5 1.5-1.1 1.4-1.9 1.5-2.3 1.5 1.3 1.6-1.7 1.5-0.9 1.5-2.9 1.5-2.2 1.6-0.9 1.5-4.1 1.4 0.6 1.5-2.5 1.4-2.6 1.4-1.4 1.3-0.1 1.3-2.3 1.2-0.4 2.1-1.2 1.9-2.4 1.9-2.4 1.7 0.3 1.7-2.1 1.6-1 1.6-1.2 1.5-0.5 1.5-2.5 1.5 0.8 1.3-0.4 1.3-3.9 1.1-0.5 1.2-1 1.1-5.4 1-1.6 1.1 0.8 1.2-1.8 1.1-2.7 1.3-3.7 1.3-0.7 1.3 0.3 1.4-1.4 1.4-1.8 1.5-3.8 1.6 1.3 1.5-3.3 1.5 0 1.5-3.7 1.4 2 1.4-2.9 1.3-1 1.2-3.6 1.2 0 1-1.9 1-1.8 1-2.7 0.8-0.4 0.8-3.4 0.9-2 0.8-2.4 0.8 0.2 0.8-4.1 0.9-1.4 0.9-2.4 0.8 0.6 0.8-2.1 0.8-1.7 0.9-3.7 0.8-0.1 0.8-2.1 1-2.9 1-2.2 1 1.9 1.2-5.7 0.8-0.8 0.9-1.7 0.9-0.3 0.9-3.8 1-0.2 1-2.2 1.1 0 1-5.1 1.1-0.6 1-1.2 1.1 0 1.1-3.6 1-2 1.1-1.1 1-3.3 1-2.8 1 0.2 1.1-0.3 1.1-2.6 1.1-3.8 1.1-0.2 1.1-1.2 1.1-4.2 1-0.6 1.1-2.7 1.1-2.3 1.1-1.6 1-2.1 1-1.1 1.1-2.9 1-0.2 1-2.9 1.2 0.8 1.2-2.4 1.1-4 1.1 1.4 1.1-3.9 1.1-0.3 1-1.3 1.2-2.4 1.1-1.8 1.2-1.1 1.3-2.9 1.4 1.1 1.1-4.5 1.1 1.2 1.1-4.1 1.2-1.3 1.2-1.5 1.2-3.2 1.3-1.4 1.2-0.9 1.3-1.4 1.3-0.1 1.3-1.2 1.3-5.4 1.4 0.4 1.3-3.1 1.4 1.4 1.3-3.1 1.8 0.8 1.9-2.7 2-2.8 2-1.6 2 0 2 1.7 2-3.7 2 0.7 1.9-1 1.9-0.6 1.8 1.4 1.7-2.6 2.4 1.7 2.3-0.3 2.2 1.2 2-1.4 2.1 2.2 2-1.3 2 1.4 2 1.1 1.6 1.7 1.6 1.2 1.6-2 1.6 1.3 1.6 2.9 1.6 2.5 1.6 0.3 1.6 0.6 1.6 4.2 1.6-1 1.3 0.4 1.3 1.2 1.3 1.3 1.3 4.2 1.3-1 1.3 3.9 1.3 2.2 1.3 2.1 1.3 0.8 1.4 0.2 1.3 2.5 1.3 2.5 1.3 1.4 1.1-0.1 1.2 3.5 1.1-0.9 1.2 2.6 1.1 4.5 1.1-0.2 1.2 1 1.1 4 1.2 0.5 1.1 0.1 1.1 2 1.2 2.8 1.1 2.1 1.1 4.2 1.1-1 1.2 4.2 1.1 1.8 1.2 0 1.1 4 1.1 0.7 1.2 0.6 1.1 0.7 1.1 2.5 1.2 3.5 1.1 0.3 1.1 0.5 1.2 2.6 1.1 2.4 1.2 1 0.9 3.1 0.9-0.4 0.9 4.9 0.9-0.7 0.9 1.6 0.9 3.9 0.9 0.9 0.9 4.3 1 0.5 0.9 2.1 0.9 3.2 0.9-0.5 0.9 4.1 0.9 1.5 0.9 0.9 0.9 3.9 0.8-2.1 0.9 5 0.8-1.4 1.4 5.1 1.3-0.7 1.3 1.5 1.3 3.5 1.2 3.3 1.2-1.1 1.3 2.4 1.2 1.9 1.2 0.1 1.3 2.8 1.3-0.4 1.2 3.5 1.3 2.8 1.2 0 1.3 1.1 1.2 1 1.3 4.3 1.3 0.6 1.2 3.7 1.3 1.1 1.2-0.7 1.3 5.2 1.2 2.1 0.9 1.2 0.8 1.7 0.7 1 0.7 1.9 0.7 1.6 0.6 1.5 0.7 0.5 0.7 1.3 0.7 4.2 0.8 1.4 0.9-0.3 0.9 4.3 1.1 1.8 1.1 1.5 1.3 2.9 1.4 2.3 1.1-0.7 1 3 1.1 0 1.1 1.6 1.1 0.6 1.2 3.3 1.2-0.8 1.2 3.3 1.3-1.2 1.3 2.6 1.4 2.2 1.4 0.3 1.5 0.1 1.5 0.1 1.5 3 1.7 1.1 1.7 3 1.7 1.3 1.9 2.3 1.9-0.7 2 1.5 2 2.2 2.2 2.4 1.3-1.7 1.3 1.6 1.4 0.7 1.4 1.8 1.4 1 1.5 3.8 1.5-1.9 1.5 4.1 1.6-1.4 1.6 0.8 1.6 4.3 1.6-2.3 1.7 1.3 1.6 1.4 1.8 1 1.7 2.5 1.7 0.6 1.8 1 1.7 0.7 1.8 4.1 1.8-1.4 1.8 2 1.8 2.7 1.8 2.5 1.8 0.4 1.8 1.4 1.8 1.2 1.8 1.6 1.8 1.5 1.8-1.6 1.8 0.8 1.8 3.4 1.8 0.8 1.8 1.1 1.7 2.2 1.8-1.4 1.7 3.2 1.7 0.1 1.7 1 1.7 0.8 1.8 1.1 1.9 1.4 1.8 1 1.9 1.4 1.8 0.3 1.8 1.5 1.9 0.3 1.8 1.6 1.8 0.3 1.9 1.8 1.8 1.1 1.8 0 1.9 1.6 1.8 0.2 1.8 0.9 1.8 0.6 1.9 1.3 1.8 0.4 1.8 1.6 1.9 0.6 1.8 0.6 1.8 1.2 1.8 0.2 1.9 0.8 1.8 0.8 1.8 0.3 1.9 1.8 1.8-0.2 1.8 0.7 1.9 1.5 1.8 0.7 1.8 0.3 1.9 0.6 1.8 0.3 1.9 0.5 1.8 1.2 2 0.3 1.9 0.6 2 1.5 1.9-0.5 2 1 2 1 1.9 0.6 2-0.3 2 1.3 1.9 0.3 2 0.6 2 0.8 1.9 0.3 2 0.2 2 0.7 2 0 1.9 0.5 2 0.8 2 0.1 2 0.1 1.9 0 2 1.3 2-0.2 2 0.5 1.9 0.2 2 0.6 2 0.2 2 0.9 1.9 0 2 0.3 2 0.6 2 0 1.9 0.4 2 0.6 2 0.3 2.1 0.4 2.1 0.5 2.1-0.1 2.2 0.3 2.1-0.1 2.2 0.4 2.2 0.5 2.2 0.3 2.2 0.8 2.2-0.7 2.2 0.6 2.2 0.7 2.2-0.1 2.2 0.8 2.1-0.6 2.2 1 2.1-0.2 2.2 0.4 2.1-0.4 2 0.6 2.1 0.7 2 0.1 2 0 1.9 0 1.9-0.2 1.9 0.9 1.8-0.1 1.8 0.5 1.7 0.1 1.6-0.1 1.7 0.7 1.5-0.7 3 1.2 2.8-0.7 2.5 1.3 2.3-0.3 2.2 0 2.1 0.8 1.9-0.4 1.8 0.1 1.8-0.4 1.7 1 1.7-0.2 1.7-0.4 1.8-0.1 1.8 0.4 1.9 0.6 2-0.1 2-0.4 2-0.5 1.9 0.9 2-0.7 1.8 0.6 1.9-0.3 1.9 0.6 1.9-1.1 2 0.7 2-0.2 2-1 2.2 0.4 2.2-0.5 2.3 0.1 2.4 0 2.5-0.8 1.7-0.5 1.7-0.2 1.8-0.8 1.9-0.1 1.9-0.8 2 0.3 1.9-1.2 2.1 0.1 2-0.9 2.1 0 2.1-1.1 2.1-0.6 2.1 0.2 2.1-0.4 2.1-0.4 2.1-0.8 2.2-0.2 2.1-1.6 2-0.1 2.1-0.6 2.1-1.2 2-0.7 2-0.5 1.9-0.4 1.9-0.4 2-0.8 1.9-0.9 2-1.3 1.9 0 1.9-1.1 2-1.2 1.9-0.2 1.9-1.3 1.9-0.7 1.9-0.7 1.9-0.5 1.9-1.7 1.8-0.5 1.9-1.2 1.8-0.4 1.8-0.8 1.8-1.6 1.7-0.5 1.8-1.4 1.7-1.3 1.7-1 1.6-0.8 1.7-0.9 1.6-1.4 1.6-1.9 1.6-0.3 1.5-1.5 1.5-1.5 1.5-1.6 1.5-1.1 1.5-1.1 1.4-1.9 1.5-1.6 1.4-0.6 1.4-2 1.4-1.9 1.3-0.5 1.3-2.5 1.4-1.2 1.3-1.2 1.3-1.5 1.2-1.3 1.3-2.4 1.2-1.1 1.3-1.2 1.2-2.1 1.2-1.3 1.2-1.8 1.2-1.4 1.3-1.3 1.2-2.4 1.2-1.2 1.2-2.2 1.2-1 1.1-1.9 1.2-1.6 1.1-1.7 1.1-2.1 1.1-1.3 1.1-2.7 1-1.2 1-2.4 1-1.2 1-1.6 1-2.3 0.9-1.1 0.9-2.3 0.8-2.1 0.9-1.8 0.7-1.3 0.8-2 0.7-2.3 0.7-1.6 0.6-1 0.5-2.5 0.5-1.6 0.5-2.1 0.4-2.3 0.3-1.2 0.4-2.3 0.3-2 0.3-1.3 0.4-1.8 0.3-2.7 0.3-0.9 0.4-3.1 0.3-1.8 0.4-1.8 0.5-1.5 0.4-2.2 0.6-2.2 0.6-2.5 0.6-1.7 0.5-2.6 0.5-0.6 0.6-2.7 0.5-1.5 0.6-0.9 0.6-1.6 0.6-1.7 0.6-2.1 0.6-0.9 0.6-2 0.6-2 0.7-1.8 0.7-0.6 0.6-2.8 0.7-1.5 0.7-1.6 0.7-1.2 0.7-1.9 0.7-1.9 0.7-2.2 0.7-2.8 0.8-1.2 0.7-2.8 0.8-1.2 0.7-2.3 0.8-3.4 0.7-1.6 0.8-3.1 0.7-2.8 0.8-1.8 0.4-2 0.5-1.7 0.4-1.3 0.4-2.2 0.5-1.2 0.4-1.4 0.5-1.5 0.5-2.6 0.5-0.8 0.4-2.8 0.5-1.7 0.5-1.7 0.5-2.1 0.5-2 0.5-1.2 0.5-2.2 0.5-2.3 0.6-1.5 0.5-2.5 0.5-1.3 0.5-1.7 0.5-2.7 0.5-2.1 0.6-2.1 0.5-2.1 0.5-2 0.5-2.4 0.5-1.9 0.5-1.6 0.6-2.4 0.5-2.6 0.5-2 0.5-1.3 0.5-2.7 0.5-1.5 0.5-2.4 0.5-2 0.5-2.5 0.4-1.8 0.5-2.2 0.5-2 0.5-1.5 0.4-3.1 0.5-1.9 0.4-1.2 0.5-2 0.4-2.1 0.4-1.9 0.4-2.9 0.4-1.2 0.4-2.6 0.4-1 0.4-2.5 0.3-1.7 0.4-1.8 0.4-2.5 0.4-1.7 0.4-1.8 0.4-2.6 0.4-2.1 0.3-2.2 0.4-2.3 0.3-2 0.3-1.4 0.4-1.9 0.3-2.7 0.3-2.1 0.3-2 0.3-1.4 0.2-2.7 0.3-2.1 0.3-1.9 0.3-2.2 0.2-1.9 0.3-1.9 0.2-1.5 0.3-1.6 0.2-2.8 0.3-1.9 0.2-1.6 0.2-2.6 0.3-1.9 0.2-1.4 0.2-2.1 0.2-2 0.3-1.9 0.2-2.4 0.2-1.7 0.2-2 0.2-1.9 0.3-2.2 0.2-1 0.2-2.9 0.2-1.5 0.3-2.3 0.2-1.9 0.2-1.3 0.3-1.7 0.2-2 0.3-2.7 0.2-1.8 0.3-2.1 0.2-2.4 0.3-1.6 0.2-1.8 0.2-2.2 0.3-1.5 0.2-2.4 0.2-2.1 0.3-1.3 0.2-2.3 0.2-2.3 0.3-1.2 0.2-2.4 0.2-1.8 0.2-2.1 0.2-1.4 0.3-2.1 0.2-2.3 0.2-2 0.2-1.5 0.2-1.8 0.2-2.2 0.3-1.7 0.2-2.3 0.2-2.1 0.2-2.1 0.2-2.1 0.3-2.1 0.2-1.1 0.2-2.4 0.2-2.6 0.3-1.9 0.2-1.8 0.2-1.6 0.3-2 0.2-2.2 0.2-2.7 0.3-2 0.2-1.5 0.3-2.9 0.2-1.9 0.3-2.9 0.3-1.8 0.2-2.2 0.3-1.8 0.2-1.7 0.2-2.1 0.2-2.3 0.2-1.1 0.3-1.7 0.2-2.8 0.2-1.4 0.2-1.6 0.2-2.1 0.2-1.8 0.2-1.2 0.2-2.4 0.3-1.4 0.2-2.5 0.2-1.2 0.2-1.2 0.2-3 0.3-1.7 0.2-0.8 0.2-1.9 0.2-2.3 0.2-2.1 0.3-1.8 0.2-1.4 0.2-2 0.2-2.1 0.3-1.6 0.2-2.6 0.2-1.6 0.3-1.3 0.2-1.9 0.3-2.5 0.2-1.7 0.2-1.8 0.3-2.5 0.2-2.5 0.3-2.1 0.2-1.4 0.3-2.4 0.2-1.9 0.3-2.7 0.2-1.1 0.3-3 0.3-1.7 0.2-2.3 0.3-2.5 0.3-2.5 0.2-1.8 0.3-2.6 0.3-2.7 0.3-2.2 0.2-2.6 0.3-1.4 0.3-3.3 0.3-1.6 0.3-2.8 0.3-2.2 0.3-3.1 0.2-1.9 0.2-1.9 0.2-1 0.2-1.7 0.2-1.7 0.2-1.5 0.2-2.7 0.2-1.2 0.2-1.7 0.2-1.5 0.2-2.7 0.2-1.1 0.2-2.9 0.2-1.2 0.3-2.3 0.2-1.7 0.2-2.3 0.2-1.7 0.2-2 0.3-1.9 0.2-2.1 0.2-2.2 0.2-2.1 0.3-1.7 0.2-1.4 0.2-2.2 0.2-2.9 0.3-1.5 0.2-2.7 0.2-1.9 0.3-1.3 0.2-2.8 0.2-2.4 0.3-1.6 0.2-2.1 0.2-2.2 0.3-1.7 0.2-2.6 0.3-2.4 0.2-2.3 0.2-1.7 0.3-2 0.2-2.4 0.3-2.3 0.2-2.3 0.2-1.5 0.3-2 0.2-2.6 0.3-2.1 0.2-2.6 0.3-2.3 0.2-2.3 0.2-1.5 0.3-1.8 0.2-2.4 0.3-2.2 0.2-1.9 0.3-2.7 0.2-2.1 0.2-2.3 0.3-1.4 0.2-2.3 0.3-2.3 0.2-1.8 0.2-1.9 0.3-3.1 0.2-1.9 0.3-1.7 0.2-1.8 0.2-2.6 0.3-1.8 0.2-1.7 0.2-2.4 0.3-1.6 0.2-2.7 0.2-1.5 0.3-1.7 0.2-1.6 0.2-2.3 0.3-1.8 0.2-1.8 0.2-1.9 0.2-2.1 0.3-2 0.2-2 0.2-0.9 0.2-1.9 0.2-1.9 0.3-1.6 0.2-2.2 0.2-1.8 0.2-1.3 0.3-2.6 0.3-2.2 0.4-2.2 0.3-3.1 0.3-2.4 0.3-2.1 0.4-2.2 0.3-2.7 0.3-2.4 0.3-2 0.4-2.3 0.3-3.3 0.3-1.2 0.3-3.4 0.4-1.7 0.3-2.3 0.3-1.6 0.3-3.1 0.3-2.5 0.3-1 0.4-2.8 0.3-2.1 0.3-2.2 0.3-2.3 0.3-2.4 0.3-1.4 0.3-2.5 0.3-1.7 0.4-1.4 0.3-2 0.3-2.8 0.3-1.9 0.3-2.2 0.3-1.4 0.3-2.4 0.3-2 0.3-0.9 0.3-2.3 0.3-1.5 0.3-2.6 0.2-1.9 0.3-1.3 0.3-1.6 0.3-2.4 0.3-1.4 0.3-1.7 0.3-1.7 0.2-2 0.3-1.5 0.3-2.1 0.3-1.6 0.2-1.7 0.3-0.7 0.3-2.3 0.2-1.1 0.3-2.2 0.2-0.7 0.3-2.5 0.2-0.6 0.3-1.9 0.5-2.5 0.5-2.8 0.4-3.9 0.5-2.6 0.5-2.3 0.4-2.8 0.4-1.4 0.5-3.2 0.4-1.6 0.4-1.9 0.4-2.4 0.4-1.8 0.4-2.4 0.4-2.3 0.3-1.2 0.4-2.7 0.4-1.4 0.4-1.9 0.3-1.6 0.4-2 0.4-0.8 0.3-1.6 0.4-2 0.4-1.8 0.3-1 0.4-1.5 0.4-2.6 0.3-0.5 0.4-2.5 0.4-1.5 0.8-2.7 0.7-2.5 0.8-2.4 0.8-1.8 0.8-3.2 0.8-1.4 0.7-2.1 0.8-2.3 0.7-0.8 0.8-1.8 0.7-2.3 0.7-1 0.6-2.1 0.7-1.3 0.6-1.3 1-2.9 0.9-2.7 0.8-2.5 0.8-1.6 0.7-1.8 0.8-2.2 0.6-1.5 0.7-2.5 0.6-1.7 0.7-2 0.5-2.2 0.6-2 0.5-2.7 0.4-2.1 0.5-1.6 0.5-2.5 0.5-2.1 0.7-1.8 0.7-2.6 0.7-1.8 0.7-1.6 0.7-2 0.8-2.4 0.7-1.6 0.8-2.1 0.8-2.4 0.8-1.2 0.8-2.8 0.9-1.7 0.9-1.3 1.1-2.3 1.1-1.2 1.2-1.7 1.2-2 1.3-1 1.3-2.3 1.3-1.1 1.4-1.8 1.3-0.8 1.5-2.4 1.5-1 1.6-0.7 2.1-1.7 2.2-0.4 2.3-1.7 2.4-0.5 2.4-0.2 2.1 1 2.1 0.5 2.2 0.9 2.2 0.9 2.1 1.6 2.1 0.4 1.7 0.9 1.7 1.3 1.7 1.9 1.6 1.2 1.7 0.5 1.5 1.2 1.6 2.5 1.5 1.3 1.6 0.7 1.4 1.8 1.5 0.9 1.4 2 1.3 1 1.3 1.9 1.5 0.9 1.2 1.6 1.2 0.9 1.4 1.5 1.8 2.5 1.1 0.7 1.3 1.8 1.4 1.1 1.4 0.8 1.5 1.5 1.5 2.3 1.6 1.7 1.5 1 1.5 2.8 1.5 1.4 1 1.8 1.1 2.1 1 1.8 1.1 1 1.1 1.9 1.1 2.1 1 2.4 1.1 2.4 1 1.6 1 2.1 1 2 1 1.4 0.9 1.6 0.9 2.1 1.3 2 1.2 2.3 1.2 2 1.1 1.1 1.1 1.5 1 1.4 1.1 2.4 1 1.6 1 2.2 0.8 2 0.7 2.1 0.7 1.8 0.7 1.7 0.6 2.2 0.7 2 0.7 2.4 0.7 1.8 0.7 2.4 0.7 1.4 0.8 2.9 0.8 1.2 0.7 2.8 0.7 0.8 0.7 2.5 0.7 1.5 0.7 1.7 0.7 2.6 0.8 1.2 0.7 2.5 0.8 1.3 0.8 2 0.8 2.2 0.8 2.2 0.8 2.1 0.8 1.6 0.9 2.6 0.8 0.8 0.7 2 0.8 2 0.9 2.1 0.8 1.9 0.8 2.1 0.9 1.2 0.8 2.2 0.9 1.9 0.9 1.2 0.8 2.1 0.9 2 0.9 2.1 0.8 1.8 0.9 1.4 0.9 2 0.8 2 0.8 1.6 0.9 2.7 0.8 2.1 0.9 1.7 0.8 1.2 0.9 2.4 0.8 1.2 0.8 2.2 0.9 2 0.8 2.3 0.9 1.9 0.8 1.9 0.8 1.5 0.9 2.4 0.8 2.3 0.9 2.1 0.8 1.4 0.8 2 0.7 2.3 0.8 1 0.7 2.6 0.8 1.3 0.8 2.9 0.8 1.8 0.7 1.3 0.8 1.9 0.8 3.1 0.7 1.2 0.8 2.3 0.7 1.9 0.8 1.6 0.7 1.5 0.7 2.5 0.7 1.3 0.7 1.7 0.7 2.1 1.1 2.4 1 1.4 1 2 1 2.4 1 1.3 0.9 2.2 1 1.1 0.9 1.3 0.9 2 0.9 2.6 0.9 1.6 0.9 2.7 0.7 1.5 0.6 1.7 0.6 1.3 0.7 2.2 0.6 1.6 0.6 2.4 0.6 1.9 0.6 3 0.6 1.1 0.6 2.4 0.6 1.6 0.6 2.2 0.7 2.7 0.6 1.6 0.6 2 0.7 2.2 0.8 1.9 0.8 1.4 0.7 2.5 0.8 1.8 0.7 1.6 0.8 1.6 0.8 2.2 0.8 1.4 0.9 1.2 0.9 2.9 1.1 1.8 1.1 1.7 1.2 3 0.8 1.7 0.8 1.3 0.9 1.3 0.8 2 1 0.8 0.9 1.6 1 2.2 1 1.9 1 1.9 1.1 1.8 1 1.7 1.1 1.7 1 2.3 1.1 1.7 1.1 1.4 1.1 2.4 1 1.7 1.1 2.3 1 1.8 1.1 2.3 1 1.6 1 1.6 0.9 1.9 0.9 1.3 0.9 2.1 0.9 2.3 0.9 0.7 0.9 2.1 0.8 1.8 0.9 2.1 0.9 1.2 0.9 2.4 0.8 1.1 0.9 2.9 0.9 0.7 0.9 2.5 0.9 2 0.9 1.6 0.9 1.5 0.9 2 1 2.5 0.9 1.4 1 2 0.9 2.3 1 1.4 1 2.3 0.9 1.4 0.9 2.1 0.9 1.5 1 1.2 0.9 2 1 1.9 1 1.8 1 2.3 1 1.7 1 1.9 1 1.5 1 3 1 1.3 1 1.6 1 2.4 1 1.2 1 1.9 1 2.8 1 1.5 1 1.3 1 1.5 1 2.4 0.9 1.1 1 1.7 0.9 1.5 0.9 1.9 0.9 1 1.4 2 1.3 3 1.4 1.6 1.3 1.4 1.2 1.7 1.3 2.7 1.2 1.2 1.2 1.6 1.3 2 1.2 0.4 1.2 1.6 1.3 1.6 1.2 2.1 1.3 0.8 1.4 2 1.3 1.9 1.4 1.1 1.3 1.8 1.4 0.8 1.3 2.1 1.4 1.4 1.3 1.9 1.4 1.2 1.4 1.9 1.4 1.8 1.4 1.5 1.4 1.4 1.5 1.3 1.5 1.8 1.5 0.7 1.5 0.9 1.6 2.3 1.6 0.8 1.6 1.3 1.7 1.9 1.6 0.5 1.7 0.8 1.6 1.9 1.7 0 1.8 1 1.7 1.7 1.8 0.3 1.8 1.6 1.8 0 1.8 1.2 1.9 1 1.9 1.2 1.9 0.9 1.9 0.8 2 0.3 2 1.6 2-0.1 2 1.3 2.1 0.5 1.7 1.6 1.8 0.4 1.7 0.7 1.8 1.4 1.8 0 1.8 1.2 1.8 0.9 1.8 0 1.9 1.7 1.8 0.3 1.9 1.2 1.9 0.8 1.9 0.3 2 0.8 1.9 0.7 2 0.4 2 1.2 2 0.8 2 0.9 2 0 2.1 0.7 2 0.6 2.1 0.6 1.9 0.3 2 0.7 2.1 0.2 2.1 0.4 2.2-0.3 2.3 0.4 2.3-0.3 2.3 0.7 2.4 0.2 2.3 0 2.4 0.8 2.4 0.1 2.3 0.1 2.3-0.5 2.2 0.4 2.2 0.4 2.2-0.4 2 0.3 2-0.4 1.9 1 1.8-0.4 1.6-0.1 1.6 0.6 1.4-0.6 1.2 0.4 1.1-0.1" stroke="#EC008C" stroke-width="1.50" fill="none" stroke-linejoin="round"/>
<path d="M220 1275.4l1.2 2.2 1.6-0.4 1.8 0.9 2-3 2.2-0.4 2.4 1.5 2.4-0.7 2.4-2 2.4 0.9 2.4-1.9 2.2 0.6 1.7-3.4 1.6-0.4 1.7 1.7 1.6-3.1 1.7-1.4 1.6 1 1.7-1.8 1.6-3.1 1.7 0.4 1.8-0.9 1.7-3.3 1.8 0.6 1.9-3.5 1.9-0.6 1.4-2 1.5-0.7 1.6 1.9 1.5-3.4 1.6 1.1 1.7-3.5 1.6-0.6 1.7-0.3 1.6-2 1.7-3.6 1.7 0.5 1.6-1.1 1.6-3.2 1.7-1.6 1.5 1.8 1.6-2.8 1.5-2.5 1.5-0.3 1.4-2.1 1.7 0.8 1.8-2.7 1.6-3 1.7 1.5 1.6-4.3 1.6-0.5 1.5-2.4 1.6 1.5 1.5-3.9 1.4 0.2 1.5-3.2 1.4 0 1.4-0.7 1.4-2.3 1.3-2.1 1.1-1.4 1-1.8 1-1.1 1-3.8 1-0.2 0.9-2.9 0.9 0.7 0.9-1.6 0.9-5.4 0.9-1.6 0.8 0.3 0.9-2.4 0.9-4.1 0.9 1 1-0.9 0.9-3.7 1-2 1-0.6 1.3-0.4 1.4-4.4 1.5-1.5 1.4-1.9 1.5 0.3 1.5-2 1.5-2.3 1.5-0.8 1.4-2.8 1.5-0.4 1.4 1.2 1.4-3.3 1.4-3 1.3 0.7 1-3.9 0.9-2 0.9-2.6 0.9-1.3 0.8-1.7 0.8-1.7 0.8 0.7 0.8-4.4 0.9-2 0.8-0.5 0.8-0.8 0.8-4.5 0.9-0.1 0.9-3.6 0.9-1.2 1-1.8 1-0.6 1.1-2.7 1-2.6 1-0.4 1.1-3.6 1.1-1.7 1.2 0.6 1.2-3.5 1.2-0.9 1.3-3.6 1.2 0.6 1.3-2.9 1.2-3.3 1.3 1 1.2-3.5 1.2-2.2 1.2-2 1.2-2.3 1.1-1.2 1.1 0.5 1-3.7 1-0.9 0.9-0.6 1.6-2 1.4-2.9 1.3-0.4 1.2-3.9 1.2-1.3 1-1.5 1-2.8 1.1-1.2 1-1.9 1.1 0.7 1.1-4 1.2 0.4 1.1-3.4 1.1 0.1 1-1.5 1.1-2.8 1.1 0.8 1.2-2.7 1.1-2 1.3-3.7 1.4-0.3 1.4-2.4 1.1-0.7 1.1 0.3 1.2-1.9 1.1-4.9 1.2 0.7 1.2-0.8 1.3-3.3 1.3-3.6 1.3 1.4 1.4-3.5 1.4 0.6 1.5-2 1.6-1.6 1.6-0.9 1.7-4.6 1.7 1.9 1.8-3 2-1.6 2.1 0.1 2.1 0 2.2-3.2 2.2 1.1 2.2 0.7 2.2-1.8 2.2-0.4 2.2-1.3 2 2.4 2-3.2 1.8 1.6 1.7-0.1 1.6-2.5 2.2 4.4 1.8-2.2 1.5 4.1 1.4 1.1 1.2 1.4 1.2 1.5 1.2-0.1 1.3 2 1.5 1.4 1.7 4.1 1.4-2.4 1.4 1.7 1.6 4.6 1.6 0.7 1.6 1 1.7 2.4 1.6-0.4 1.7 2.7 1.7-0.1 1.6 3.4 1.7-1.8 1.5 3 1.5 2.2 1.4 2.5 1.2 0 1.2 2.7 1.2 2.8 1.1-0.5 1.1 0.8 1 1 1.1 5.1 1 0.3 1 1.4 1 2.3 1 0.2 1 2.2 1 1.9 1 1.8 1.1 4.2 1.1-0.6 1 1.1 1.1 4.9 1.1 0.5 1-0.4 1.1 4.4 1.1 1.8 1 1.6 1.1 2.3 1.1 0.4 1 1.1 1.1 3.9 1.1 1.3 1 2.2 1.1-0.2 0.9 2.5 1 3 0.9 0.5 1 2.7 1 1.3 0.9 2.9 1 0.2 0.9 2.5 1 3.1 1-0.2 0.9 1.2 0.9 3.7 1-0.3 0.9 4.7 0.9-0.7 0.9 4.2 0.9 0.1 1.1 0.6 1.2 3.4 1 2.6 1.1 1 1.1 2.5 1 0.7 1.1 4.1 1-1.3 1.1 4.2 1-1.3 1.1 3.7 1.1 0.1 1.1 2.1 1 3.6 1.1 3.1 1.1-0.5 1 2.3 1.1 2.2 1.1 2.4 1.1 0.9 1.1 1.9 1.1 3.9 1.1 0.6 1 0.9 1.1 3.5 1.1 2.2 1-0.8 1.6 0.4 1.7 3 1.7 4 1.7-1.4 1.6 1.5 1.6 3.7 1.5-1.3 1.4 4.3 1.2-1 1.3 2.6 1 2.7 0.8 0 0.8 4.6 0.8 0.6 1 3.4 1.3 2.3 1-1.2 1.1 4.6 1.2 1.7 1.2-0.5 1.3 3.2 1.4 0.3 1.3 3.1 1.4 2.7 1.4 0.2 1.4 2.3 1.3 0 1.5 4.6 1.5 0.8 1.5 2.4 1.5-1.4 1.5 4.2 1.5-1.1 1.5 3.3 1.5 0.1 1.5 4 1.5-2 1.8 2.9 1.8 1.1 1.7 0.7 1.8-0.3 1.7 3.4 1.7 2.2 1.8-1.3 1.7 3.5 1.4-1 1.3 0.9 1.1 1.9 1.2 3.4 1.2 0.6 1.4 0.9 1.7-0.6 2.1 3.7 2.6 0.7 1.1 1.1 1.1 2.4 1.1 0.6 1.2 0.6 1.2 2.8 1.3 2.4 1.2 1.9 1.4 1.3 1.3-0.6 1.4 0.5 1.5 4.6 1.4-0.8 1.6 1.2 1.6 3.4 1.6 0.4 1.7 3 1.7 0.5 1.8 2.4 1.8-1.8 1.9 4.6 1.9-0.3 2 2 2.1 0.2 2.1 1.2 1.5 0.9 1.5 0.7 1.6 1.7 1.6-0.2 1.7 1 1.7 1.2 1.7 0.3 1.8 0.8 1.8 0.9 1.8 0.7 1.9 0.5 1.8 1.7 1.9 0.6 2 0.4 1.9 1.5 2 0.3 1.9 0.3 2 1.7 2-0.2 2 1.5 2 0.7 2.1-0.3 2 1.8 2 0.2 2 0.8 2 1.2 2.1 0.1 2 0.5 2 0.4 2 1.7 1.9 0.2 2 1 2 0.5 1.9 1.1 1.9 0.6 2 0.7 1.9 0.2 2 1.1 1.9 0 2 0.4 2 1.3 1.9-0.1 2 1.8 2-0.1 1.9 0.7 2 0.5 2 0.7 1.9 0.9 2 0.9 2-0.3 2 1 1.9 0.5 2 1.4 2 0 2 0.6 1.9 1.2 2-0.1 2 0.5 2 0.6 1.9 0.4 2 1.1 2 0 2 0.8 1.9 0.5 2 0.8 2 0.4 2 0.2 1.9 1 2 0.4 2 0.5 2.1 0.1 2.1 0.2 2.1 0.3 2.2 1 2.1-0.1 2.2 0.7 2.2 0 2.2 0.3 2.2-0.1 2.2 1.2 2.2-0.1 2.2 0.5 2.2 0.6 2.2 0.5 2.1 0.4 2.2 0 2.1-0.3 2.2 1.2 2.1-0.8 2 0.7 2.1 0.8 2 0.2 2-0.1 1.9 0.6 1.9-0.6 1.9 0.1 1.8 0.5 1.8 0.9 1.7-0.8 1.6 0.5 1.7 0.4 1.5-0.2 3 1.2 2.8-0.6 2.5 0.2 2.3 1.3 2.2-1 2.1 0.4 1.9 0.4 1.8 0.6 1.8-0.5 1.7 0.3 1.7 0.3 1.7-0.2 1.8 0.3 1.8-0.9 1.9 0.6 2-0.6 2 1.1 2-1 1.9 0.2 2 0.4 1.8 0.3 1.9-0.7 1.9 0.8 1.9-0.7 2 0.3 2-0.4 2 0.7 2.2 0 2.2-0.2 2.3-0.8 2.4-0.4 2.5 0.6 1.7-0.5 1.7-0.1 1.8-0.9 1.9 0.2 1.9-0.6 2-0.2 1.9-0.7 2.1-0.1 2-0.8 2.1-0.7 2.1-0.2 2.1-0.9 2.1 0.2 2.1-0.8 2.1-0.7 2.1 0.2 2.2-0.8 2.1-0.8 2 0.2 2.1-0.5 2.1-1.1 2-0.4 2-1.2 1.9-0.1 1.9 0.3 2-1.1 2.1 0 2-1.7 2-0.6 2.1-0.4 2-0.6 2 0.3 2-0.2 2-0.9 1.9-0.7 2-0.9 1.9-0.6 2-0.9 1.9-0.3 1.8-1 1.9 0.2 1.9-1.1 1.8-0.9 1.8-0.2 1.7-1.5 1.8-0.2 1.7-1.1 1.7-1 1.7-1.1 1.7-1 1.7-0.8 1.7-0.9 1.6-1.7 1.6-0.6 1.5-2 1.6-0.4 1.5-1.3 1.5-1.6 1.5-1.9 1.4-0.4 1.5-2 1.4-1.5 1.4-0.7 1.4-2.5 1.4-0.9 1.4-2.2 1.4-0.9 1.4-2.5 1.3-1.9 1.4-1.4 1-1.5 1.1-1.2 1-2.1 1-1.5 1-1.7 1-1.3 1-2.2 1-1.3 1-1.4 0.9-2 1-2.3 1-1.6 0.9-2.4 0.9-1.4 1-1.6 0.9-2.8 0.9-1.2 0.9-1.6 0.9-2.7 0.9-1.9 0.9-1.5 0.9-2.6 0.9-1.9 0.8-1.5 0.9-2.1 0.8-2.3 0.9-1.9 0.8-1.6 0.8-1.5 0.8-2.6 0.7-1.2 0.7-1.9 0.7-2 0.7-1.5 0.7-1.2 0.7-2.5 0.6-1.1 0.6-1.7 0.7-2 0.6-1.3 0.6-1.9 0.6-1.4 0.6-2.1 0.6-1 0.6-1.5 0.6-1.7 0.6-1.7 0.6-2.7 0.6-1.2 0.7-2.5 0.6-1.6 0.7-2.3 0.6-1.8 0.7-2.7 0.7-1.6 0.8-3 0.7-2.1 0.8-3.3 0.8-2 0.5-2.2 0.4-1.3 0.5-1.6 0.5-1.3 0.5-1.7 0.5-2.1 0.5-0.9 0.5-2.8 0.5-1.2 0.5-2.3 0.6-1.8 0.5-1.7 0.6-1 0.5-3 0.6-1.1 0.5-2.1 0.6-1.7 0.6-1.9 0.5-2.9 0.6-1 0.6-3 0.6-2.1 0.6-1.9 0.5-1.5 0.6-2.2 0.6-2 0.6-2.6 0.6-1.8 0.5-2.3 0.6-1.3 0.6-2.6 0.6-1.9 0.5-2.4 0.6-2.5 0.6-2.2 0.5-1.9 0.6-1.5 0.5-2.7 0.6-1.8 0.5-2.2 0.6-2.4 0.5-1.7 0.5-1.9 0.5-1.6 0.5-2.1 0.5-2.5 0.5-2.1 0.5-2.1 0.4-1.8 0.5-1.7 0.4-1.4 0.5-3 0.4-1.7 0.4-1.6 0.4-1.6 0.5-2.8 0.4-2.2 0.4-1.5 0.5-2.7 0.4-1.2 0.4-2.2 0.4-2.4 0.4-1.4 0.4-2.7 0.3-1.5 0.4-2.9 0.3-2.2 0.4-1.6 0.3-1.9 0.3-1.8 0.3-2.7 0.3-1.3 0.4-2.5 0.3-1.2 0.2-2.1 0.3-2 0.3-2.9 0.3-1.9 0.3-2 0.2-1.5 0.3-2.4 0.3-1.9 0.2-2 0.3-0.8 0.2-2.6 0.3-2.2 0.2-2.1 0.3-1.8 0.2-2.1 0.3-1.1 0.2-1.8 0.2-2.1 0.3-2.9 0.2-1.3 0.3-1.6 0.2-2.5 0.3-1.6 0.2-2.8 0.3-1.4 0.2-1.7 0.3-2.4 0.3-2.4 0.2-1 0.3-2.2 0.2-2.6 0.3-1.4 0.2-2.7 0.2-1.4 0.3-1.8 0.2-2.1 0.2-2.2 0.2-1.4 0.2-2.5 0.3-2.3 0.2-1.8 0.2-2 0.2-1.1 0.2-2.8 0.2-0.9 0.2-2.4 0.2-2.5 0.2-0.9 0.2-1.9 0.2-2.8 0.2-1.6 0.2-2.3 0.2-2.1 0.2-2.1 0.2-1 0.2-2.8 0.2-2 0.2-2.1 0.2-1.9 0.3-1.3 0.2-2.9 0.2-2.1 0.2-2.3 0.2-1.3 0.3-2.9 0.2-1.3 0.2-2 0.3-3 0.2-2 0.3-1.9 0.2-2.6 0.3-2.5 0.2-1.1 0.2-1.7 0.2-2.7 0.2-1 0.2-2.8 0.2-0.8 0.3-2.4 0.2-1 0.2-2.9 0.2-1.6 0.2-1.5 0.2-1.7 0.2-1.5 0.2-2.5 0.3-1.9 0.2-1.6 0.2-2 0.2-0.8 0.2-2.3 0.3-2.2 0.2-1.7 0.2-1.9 0.2-1.6 0.3-2.1 0.2-1.5 0.2-2.4 0.2-1.3 0.3-1.6 0.2-2.1 0.2-2.8 0.3-1.5 0.2-1.5 0.3-2.9 0.2-1 0.3-3 0.2-2 0.2-2.2 0.3-1 0.3-3.1 0.2-1.6 0.3-2 0.2-2.3 0.3-1.5 0.2-2.7 0.3-2.9 0.3-1.8 0.3-2.5 0.2-1.4 0.3-3.2 0.3-1.8 0.3-2.6 0.2-2.4 0.3-2.3 0.3-2.8 0.3-2 0.3-2.6 0.3-2.3 0.3-2.5 0.2-2.5 0.2-0.8 0.2-2.3 0.2-0.9 0.2-2.2 0.2-2.2 0.2-1.4 0.2-1.8 0.2-1.8 0.2-2 0.2-1.6 0.2-1.9 0.2-1.6 0.2-2.4 0.3-1.8 0.2-2.5 0.2-1 0.2-2.8 0.2-1 0.3-2.4 0.2-2 0.2-2.2 0.2-1.8 0.3-2.6 0.2-2 0.2-1.6 0.2-2.3 0.3-1.9 0.2-2.1 0.2-1.5 0.3-2.5 0.2-2.8 0.2-1.4 0.3-2.5 0.2-2.3 0.2-1.9 0.3-1.5 0.2-2.3 0.3-2.5 0.2-1.7 0.2-2.6 0.3-2.6 0.2-1.5 0.3-1.9 0.2-2.4 0.2-2.7 0.3-1.9 0.2-2.6 0.3-2 0.2-2.4 0.3-1.1 0.2-2.4 0.2-2.5 0.3-1.9 0.2-2.1 0.3-2.4 0.2-2.4 0.3-1.9 0.2-2 0.2-2.3 0.3-2.3 0.2-1.7 0.3-2 0.2-2.6 0.2-2.2 0.3-1.4 0.2-1.8 0.3-2.3 0.2-1.9 0.2-2.2 0.3-2.4 0.2-1.8 0.2-2.1 0.3-1.4 0.2-3 0.2-0.9 0.3-3 0.2-1.7 0.2-1.6 0.3-1.4 0.2-2 0.2-2 0.2-2 0.3-1.6 0.2-2.4 0.2-2.1 0.2-1.1 0.2-2.2 0.3-1.4 0.2-1.3 0.2-1.5 0.2-2.6 0.3-1.6 0.3-3.3 0.4-2.2 0.3-2.1 0.3-2.6 0.3-2.8 0.4-1.8 0.3-3.2 0.3-1.6 0.3-2.2 0.4-2.5 0.3-3.2 0.3-1.9 0.3-2.7 0.4-1.9 0.3-2.2 0.3-2.5 0.3-1.9 0.3-1.7 0.3-2.4 0.4-2.6 0.3-2.3 0.3-2.2 0.3-1.2 0.3-2.8 0.3-1.7 0.3-2.5 0.3-1.4 0.4-2.8 0.3-1.5 0.3-2 0.3-1.9 0.3-2.3 0.3-1.4 0.3-1.6 0.3-2.8 0.3-2 0.3-1.7 0.3-1.7 0.3-1.2 0.2-2.9 0.3-1.7 0.3-1.2 0.3-1.9 0.3-2 0.3-1.2 0.3-2.1 0.2-1 0.3-2.6 0.3-1.3 0.3-2.1 0.2-1.7 0.3-0.6 0.3-1.7 0.2-1.7 0.3-1.9 0.2-1.3 0.3-2.1 0.2-1.6 0.3-1.4 0.5-2.9 0.5-2.7 0.5-2.6 0.4-2.9 0.5-2.5 0.4-1.9 0.5-2.4 0.4-2.9 0.4-1.9 0.4-2.7 0.4-1.4 0.4-2 0.4-2.5 0.4-1.1 0.4-2.2 0.4-1.4 0.4-2.6 0.3-1.8 0.4-1 0.4-1.7 0.3-2.3 0.4-1.4 0.4-1.9 0.3-1.3 0.4-1 0.3-2.4 0.4-1.5 0.4-1.1 0.3-1.5 0.4-2.2 0.6-2.4 0.5-2.5 0.6-2.2 0.5-2.2 0.6-2.3 0.5-2.8 0.6-2.4 0.5-1.7 0.6-2.4 0.5-1.7 0.5-3.1 0.5-1.2 0.5-1.9 0.5-2.3 0.5-2.2 0.4-1.2 0.5-0.8 0.4-1.8 0.3-1.8 0.4-0.7 1.4-5 0.8-0.6 0.7-1 0.8-1.8 0.4-2.5 0.4-1.7 0.4-2.1 0.4-2 0.4-2.2 0.5-2.7 0.4-2 0.4-2.9 0.5-1.6 0.5-1.9 0.5-2.6 0.5-1.8 0.5-1.4 0.5-2.2 0.6-2.1 0.5-2.2 0.6-1.5 0.5-2.5 0.5-1.7 0.5-1.6 0.5-2.4 0.6-2.2 0.5-2 0.6-2.2 0.4-2.1 0.5-2.5 0.6-2.2 0.5-1.4 0.6-2.1 0.6-2.3 0.7-2.4 0.7-2.3 0.7-1.5 0.7-1.5 0.7-2 0.8-2 0.8-2.1 1.1-1.7 1.1-2 1.2-2.7 1.2-1.6 1.3-1.9 1.3-1.8 1.5-1.3 1.5-1.8 1.6-0.4 1.8-1 2.1-1.8 1.8-0.6 1.9-0.4 2.2 0.6 2.2-0.9 2.2 0.5 2.1 0.2 1.9-0.8 2.5 0.7 2.3-0.7 2.2 0.3 2.2 1.4 2.2 0.5 1.7 0.7 1.7 1.4 1.7 1.6 1.7 0.9 1.6 1.4 1.6 1.7 1.5 0.5 1.6 2.1 1.4 1 1.3 1.8 1.4 1.5 1.3 1.9 1.5 2.7 1.2 0.4 1.1 2 1.2 1.1 1.2 1.5 1.3 2.7 1.3 1.2 1.3 2.2 1.4 1.5 1.2 1.3 1.3 1.8 1.3 0.6 1.4 1.8 1.3 2.2 1.4 2 1.4 0.6 1.2 1.9 1.3 1.9 1.1 1.5 1.3 2.1 1.1 1 1.1 2.1 1 2.4 1 2 1 1.9 1 2.2 1.1 2.3 0.9 0.7 0.8 2.2 0.9 1.7 0.9 2 1 2.7 0.9 1.7 0.9 2.6 0.9 1 1 2.5 0.9 2.7 0.9 1.1 0.9 2.3 0.9 2.1 0.9 1.8 0.9 1.2 0.9 2 0.9 2.2 0.9 1.5 0.9 1.7 0.9 2.4 0.9 1 1 2.2 1.1 1.5 1.2 2.2 1.2 2 1.2 2 1.2 1.7 1.2 1.4 1.2 1.9 1.1 2 1 2 1 2.1 0.9 0.9 0.7 1.9 0.7 3.1 0.6 1.6 0.6 1.3 0.6 2.3 0.6 1.9 0.7 2.3 0.7 2.1 0.9 3 0.7 1 0.7 2.1 0.7 1.4 0.8 2.3 0.8 1.7 0.8 2.3 0.8 1.6 0.9 1.9 0.9 2.1 0.9 2.7 0.9 2 0.9 1 0.9 2.6 0.9 1.1 0.9 2.1 1 2.4 1 1.8 1 1.8 1 1.6 1 1.7 1.1 1.4 1 2.5 1.1 1.8 1 1.5 1.1 1.6 1 2 1.1 2.5 1 1 0.9 2.4 1 2 0.9 1.8 1 1.3 0.9 2.2 1 1.3 0.9 1.9 1 2.2 0.9 1.2 1 2.3 0.9 2.1 1 1 0.9 1.8 1 2.7 0.9 1.8 1 2 1 0.9 1.1 2.7 1 1.4 1 1.8 1 1.4 1 2 1.1 1.6 1 1.6 1 2.6 1 1.1 1.1 1.9 1 2.7 1 2 1 0.9 0.9 2.1 1 1.4 0.9 1.9 1 1.8 0.9 1.5 1 1.8 0.9 1.9 1 2.2 0.9 1.2 1 2 0.9 2.4 1 2 0.9 2.3 1 2.4 0.6 2.4 0.6 1.6 0.5 0.9 0.6 2.5 0.6 1.6 0.6 1.5 0.6 2 0.6 3.1 0.5 1 0.6 2.6 0.6 2.3 0.6 2.2 0.6 2 0.6 1.4 0.6 2.5 0.5 1.7 0.6 2.8 0.6 2.2 0.5 1.3 0.6 2.4 0.5 1.5 0.6 1.9 0.5 1.6 0.6 1.9 0.5 1.4 0.8 2.2 0.7 2.7 0.7 2.7 0.7 1.8 0.7 2 0.6 1.6 0.6 1.5 0.7 1.9 0.6 1.5 0.7 2.4 0.7 1.2 0.8 2.3 0.8 1 0.9 2.7 0.9 1.3 1 1.8 0.9 2 1 1.4 1 2.4 1 1.6 1.1 1.5 1.1 1.8 1.2 2 1.2 1.7 1.2 1.4 1.2 1.9 1.2 1.7 1.2 1.9 1.3 2 1.2 1.7 1.2 1.9 1.2 0.6 1.3 1.8 1.1 1.8 1.2 2.6 1.2 1.1 1.2 1.8 1.2 1.7 1.2 1.6 1.2 1.9 1.1 1.6 1.2 1.1 1.2 2 1.2 2 1.2 1.2 1.2 1.6 1.2 1.5 1.2 1.8 1.2 1.7 1.3 1.5 1.3 2.3 1.3 1.3 1.3 2.1 1.1 1.3 1 2.5 1.1 1.2 1.1 1.6 1.1 2.3 1.1 1.6 1.1 1.2 1.1 2.2 1.1 1.4 1.2 1.9 1.1 1.5 1.2 2.4 1.1 1.9 1.2 1.4 1.2 1.9 1.1 1.6 1.2 2.3 1.2 2 1.2 1.6 1.1 1.6 1.2 1.6 1.2 1.1 1.2 1.4 1.4 2.3 1.3 1.8 1.4 1.3 1.4 1.1 1.3 1.3 1.4 2.2 1.4 0.9 1.4 2.4 1.4 0.7 1.4 1.5 1.4 1.2 1.4 2.2 1.4 0.6 1.5 1.3 1.4 1.6 1.5 0.9 1.5 1.2 1.5 2.3 1.5 0.5 1.5 1 1.7 1.2 1.8 1.8 1.7 0.3 1.8 1.7 1.8 1 1.8 1.2 1.8 0.7 1.9 1.7 1.8-0.1 1.9 1.7 1.8 0.2 1.9 0.8 1.9 0.9 1.8 1 1.9 1.1 1.8 0.6 1.9 0.8 1.8 0.8 1.9 1.7 2 1 1.9 0.1 1.9 1.4 1.9 0.7 2 1.1 1.9 0.9 1.9 0.3 2 0.4 1.9 1 1.9 0.8 2 0.2 1.9 1 1.9 0.5 1.9 1.4 2 0.1 1.9 0.5 2 0.8 2.1 1.1 2.1 0.7 2 0.3 2 0.6 2.1 0.2 2 1.1 2.1 0.8 2 0.4 2.1 0.6 2 0.3 2.1 0.8 2 0.4 2.1-0.1 2 0.7 2.1-0.6 2.1 0.2 2.2 0.9 2.3-0.7 2.4 0 2.4-0.4 2.3 0.4 2.4 0 2.3-1 2.3 0 2.2-0.5 2.1 0.2 1.9-0.4 1.8 0.2 1.6-0.1 1.4-0.4 1.1 0" stroke="#EC008C" stroke-width="1.50" fill="none" stroke-linejoin="round"/>
<path d="M220 1263.9l1.2-4 1.6 2.7 1.8-2.5 2 3.1 2.2-4.1 2.4 3.2 2.4-1.1 2.4 0.2 2.4 0.1 2.4-3.7 2.2-0.4 1.7 0.7 1.6-2.5 1.7-0.9 1.6-1 1.7 1.5 1.6-0.9 1.7-1.4 1.6-3.4 1.7 1.6 1.8-2.9 1.7-2.3 1.8-0.4 1.9-1.5 1.9-2.7 1.5 0.9 1.6-2 1.6-0.3 1.7 0.2 1.7-2.4 1.7-2.3 1.8 0.6 1.7-0.9 1.8-3.3 1.7 0.4 1.8-5 1.7-0.9 1.7-1.2 1.7 1.7 1.6-2.3 1.6-1.2 1.6-2.9 1.5-0.4 1.7 0.2 1.8-4.5 1.6-1.2 1.7-1.5 1.6 0.5 1.6 0.3 1.5-2.4 1.6-1.8 1.5-0.8 1.4-2.6 1.5 1.8 1.4-3.8 1.4-2 1.4-1.3 1.3 0.4 1.1-3.6 1 0.8 1-4.1 1-1.3 1-3.4 0.9 1.4 0.9-2.4 0.9-3.3 0.9-3.4 0.9-0.5 0.8-2.5 0.9-0.1 0.9-1.6 0.9-2.6 1-3.7 0.9-2.7 1 1.8 1-1.3 1.3-5 1.4-0.2 1.5-1.6 1.4 0.7 1.5-5.1 1.5-1.1 1.5 1.9 1.5-2.3 1.4-1.6 1.5 0 1.4-2.1 1.4-1.2 1.4-3.3 1.3-2.6 1-1.8 0.9-0.3 0.9-0.5 0.9-2.8 0.8-2 0.8-0.8 0.8-1.5 0.8-2.4 0.9-3.1 0.8 0 0.8-2.1 0.8-1.6 0.9-2.1 0.9-5.5 0.9 0.6 1-3.2 1-1.8 1.1-1.3 1-3.2 1.1-1.3 1.2 1.2 1.2-4.3 1.2 0.5 1.3-2.6 1.2-3.3 1.4-1.7 1.3-0.6 1.3-1.4 1.3-3.1 1.3-2.8 1.3-1.3 1.3 1.2 1.2-2.2 1.2-4 1.1 1.4 1.1-2.5 1-2.4 1 0.9 1.6-5.4 1.4-2.3 1.3-1 1.2-0.3 1.2-2.5 1-2 1 0 1.1-3.6 1-0.1 1.1-4.7 1.1 1.4 1.3-4.3 1.2 0.3 1.2-0.9 1.2-2.3 1.2-1.9 1.2-1.7 1.3-0.8 1.4-3.3 1.4-2.3 1.6-0.7 1.1-1.5 1.1-3.1 1.2 0.1 1.2-1.9 1.2-3 1.2 0.5 1.3-1.4 1.3-3.5 1.3 0.5 1.4-1.2 1.5-2.8 1.4-2.5 1.6-1.9 1.6-1.9 1.6-0.5 1.7 1.9 1.9-4.8 2 2.5 2.1-1.7 2.2-0.5 2.1-3.5 2.3 1.5 2.2-2.3 2.2 1.3 2.1 0.1 2.1-0.6 2-1 1.8 1.3 1.7-2.5 1.6-0.2 2 3.4 1.7-2.3 1.4 2.6 1.2 1.5 1.1 3.5 1.1-0.3 1.1 2.7 1.3 1.6 1.4 1.8 1.7 1.8 1.3 1.1 1.4 1.8 1.4 0.5 1.5 1.2 1.6 3.3 1.6 1.5 1.7-1.7 1.6 4.2 1.7-2.4 1.6 2.6 1.7 3.7 1.5-1.5 1.6 3.5 1.4 2.8 1.4-0.1 1.3 1 1.3-0.1 1.2 3.3 1.2 1.7 1.1 3 1.2 0.2 1.1 3.4 1.1 0.2 1.1 2.7 1 2.3 1.1-0.6 1.1 5 1-0.3 1.1 1.9 1.1 3.8 1.1 0.1 1.1 1.6 1 0.5 1.1 1.8 1.1 4 1 0.7 1.1 2.4 1 1.9 1.1 1.8 1 0.3 1.1 4 1.1 0.2 1 0.7 1.1 4.7 1.1 2 1-1.4 1 4.8 1 0.9 1 0.2 1 3 1 3.2 1.1-1.3 1 3.9 1 0.2 1.1 1.4 1 5 1 2 1 0.4 1 2.3 0.9 0.1 1 1.8 0.9 2.4 1.2 2.8 1.1 1.5 1.1 1 1.1 2.5 1.1 0.9 1 3.5 1 2 1.1 1.4 1-0.1 1.1 2 1 4.2 1.1-0.5 1.1 3 1-0.5 1.1 1.9 1.1 2.3 1 3.7 1.1 0.1 1.1 3.6 1.1-0.4 1.1 4.4 1.1 1.9 1.1 0 1 1.6 1.1 1.7 1.1 2.5 1 0.2 1.6 2.3 1.7 4.1 1.7 2.1 1.7-1.6 1.6 2.9 1.6 1.9 1.5 2.5 1.4-0.2 1.2 1.4 1.3 2.9 1 2 0.8 1.6 0.8 1.5 0.8 2.8 1-1 1.3 5.2 1-0.7 1.1 2.2 1.2 1.9 1.2 2.3 1.3 2.1 1.4 1.8 1.3 0.7 1.4 2 1.4 2.9 1.4 2.8 1.3-0.6 1.5 0.2 1.5 5.1 1.5 1.7 1.5 1.4 1.5 0.8 1.5 0.6 1.5 0 1.5 4.8 1.5-0.6 1.5 0 1.8 3.4 1.8-1.2 1.7 2.5 1.8 1.8 1.7 1.7 1.7-0.7 1.8 0.5 1.7 1.9 1.4 3.1 1.3-1.7 1.1 1.3 1.2 2.1 1.2 3.8 1.4 1.3 1.7 2.1 2.1-1.6 2.6 4.2 1.1-0.4 1.1 2.8 1.1 2 1.2 0 1.2 2.1 1.3 1.3 1.2 0.7 1.4 0.9 1.3 0.8 1.4 3.4 1.5 2.6 1.4 1.4 1.6 1.4 1.6 1.2 1.6 0.7 1.7 0.9 1.7 0 1.8 4.2 1.8-1 1.9 4.4 1.9 1.1 2-0.9 2.1 2.6 2.1 1.1 1.5 0.9 1.5 0 1.6 1 1.6 0.7 1.7 1.8 1.7-0.1 1.7 1.1 1.8 1.1 1.8 0.4 1.8 1.1 1.9 0.7 1.8 0.5 1.9 1.4 2 0.5 1.9 0.8 2 0.8 1.9 0.6 2 0.2 2 1.6 2 0.8 2-0.3 2.1 1 2 0.5 2 0.7 2 1.2 2 0.5 2.1 0.4 2 1.1 2 0.9 2 0 1.9 1.3 2 0.7 2 0.9 1.9 0.8 1.9 0.6 2 0 1.9 0.3 2 1 1.9 0.5 2 1.5 2 0.1 1.9 0.8 2 0.9 2 0.3 1.9 1.3 2 0.3 2 0.5 1.9 0.1 2 0.7 2 1.2 2 0.3 1.9 0.8 2 1 2 0.3 2 0.8 1.9 0 2 0.2 2 0.8 2 1.3 1.9-0.2 2 0.4 2 0.4 2 1.6 1.9-0.4 2 0.3 2 0.9 2 0 1.9 1.3 2 0.4 2 0.2 2.1 0.8 2.1-0.5 2.1 1.4 2.2 0.2 2.1 0.5 2.2-0.3 2.2 1.3 2.2 0.4 2.2-0.2 2.2 0.2 2.2 0.5 2.2 0.6 2.2 0 2.2 0.4 2.1 0.8 2.2 0 2.1-0.1 2.2 0.9 2.1 0.2 2-0.7 2.1 0.8 2 0 2 0.3 1.9 0.3 1.9 0.8 1.9-0.1 1.8-0.2 1.8 0 1.7 0.3 1.6 0.5 1.7 0.4 1.5 0.1 3 0.3 2.8 0.4 2.5 0 2.3 1 2.2-0.7 2.1 0.4 1.9 0.4 1.8 0.4 1.8-0.5 1.7 0.4 1.7-0.5 1.7-0.2 1.8 1.1 1.8-1 1.9 0.8 2-0.9 2 0.4 2 0.2 1.9 0.5 2-0.1 1.8-0.6 1.9-0.4 1.9 0.9 1.9-0.1 2 0.2 2-1.1 2 0.5 2.2-0.3 2.2 0.1 2.3-0.4 2.4-0.4 2.5-0.4 1.7-1.2 1.7 0.7 1.8-0.8 1.9 0 1.9-1.4 2 0 1.9 0 2.1-0.3 2-1 2.1-0.1 2.1-1.6 2.1-0.5 2.1-0.3 2.1 0.1 2.1-0.7 2.1-1 2.2 0 2.1-1 2-1.1 2.1 0.4 2.1-0.9 2-0.3 2-0.9 1.9-0.9 1.9-0.1 2-1.6 2.1-0.8 2-0.3 2 0.2 2.1-1.6 2 0.2 2-0.9 2-1.1 2-0.6 1.9 0 2-1 1.9-0.1 2-1.7 1.9-0.1 1.8-0.4 1.9-1.5 1.9-0.8 1.8-0.5 1.8-1.3 1.7-0.4 1.8-0.6 1.7-1.8 1.7-1.2 1.7-0.3 1.6-2.1 1.6-0.3 1.6-1.8 1.6-0.9 1.5-1.8 1.5-0.7 1.5-1.8 1.5-1.5 1.5-2.1 1.4-0.9 1.5-2 1.4-0.9 1.4-2.1 1.3-1.6 1.4-1.7 1.3-1.4 1.3-1.7 1.3-1.3 1.3-1.2 1.3-1.1 1.3-1.6 1.2-2 1.4-0.9 1.4-2.4 1.4-1.6 1.4-1.5 1.4-1.7 1.3-1.8 1.3-1.5 1.3-2.3 1.3-1.6 1.2-1.6 1.3-1.5 1.1-1.9 1.2-1.3 1.1-2.3 1.1-1.2 1-1.5 1-1.5 1-2.1 0.9-0.9 0.9-1.7 1.1-1.6 1.1-2.9 0.9-1.6 0.8-1.3 0.7-1.6 0.7-1.9 0.6-1.7 0.5-2.3 0.6-2.1 0.6-1.8 0.5-1.5 0.6-2 0.6-2.5 0.7-2.6 0.5-0.8 0.4-2.2 0.4-1.6 0.4-0.7 0.4-1.5 0.3-1.5 0.3-1.3 0.4-1.7 0.3-1.5 0.4-1.9 0.4-2 0.4-0.9 0.5-3 0.5-1.3 0.6-2.9 0.6-2 0.7-2.6 0.7-3.1 0.9-4.1 0.9-2.6 0.4-2.1 0.3-1.4 0.4-0.5 0.5-1.7 0.4-2.4 0.4-0.7 0.5-2.4 0.4-1.2 0.5-1.5 0.5-2.6 0.5-1.6 0.5-1.9 0.6-1.8 0.5-1 0.5-2.9 0.6-1.6 0.6-1.3 0.5-3 0.6-1.4 0.6-1.6 0.6-1.9 0.6-2.2 0.5-3 0.6-2.1 0.6-1.3 0.6-2.4 0.6-2.1 0.7-1.9 0.6-2 0.6-2.8 0.6-1.3 0.6-2.9 0.6-1.5 0.6-3.1 0.6-2.2 0.5-1.5 0.6-2 0.6-2.3 0.6-2.8 0.6-1.1 0.5-2.1 0.6-2.1 0.5-2.4 0.6-2.9 0.5-1.5 0.5-2.4 0.5-2 0.5-1.7 0.5-1.5 0.5-2.2 0.4-1.5 0.5-2.7 0.4-2.2 0.4-1 0.4-1.7 0.5-2.6 0.4-2.5 0.4-1.7 0.5-2.5 0.4-2 0.4-1.8 0.4-2 0.4-2 0.3-2.8 0.4-1.7 0.4-1.9 0.3-2.3 0.3-2.3 0.4-1.8 0.3-1.8 0.3-1.8 0.3-1.6 0.3-2.9 0.3-1.5 0.3-2.4 0.3-2.1 0.3-1.8 0.2-1.8 0.3-1.4 0.3-2.6 0.2-1.2 0.3-2.2 0.2-2.4 0.3-1.4 0.2-2.6 0.3-2.3 0.2-1.4 0.3-1.8 0.2-1.8 0.3-2.8 0.2-1.9 0.3-1.2 0.2-1.6 0.3-2.5 0.2-1.6 0.3-2.7 0.2-2 0.3-1.6 0.3-1.4 0.2-3 0.3-1.5 0.3-1.8 0.2-2.8 0.3-1.1 0.3-2.7 0.2-1.2 0.3-2.3 0.2-2.6 0.3-1.7 0.2-1.7 0.3-2.4 0.2-1.1 0.3-2.4 0.2-2.2 0.2-1.9 0.3-1.3 0.2-2.3 0.2-1.8 0.3-2.3 0.2-1.8 0.2-2 0.3-1.7 0.2-2.3 0.2-2.1 0.2-0.8 0.3-2 0.2-3.1 0.2-0.9 0.3-2.7 0.2-1.7 0.2-2.1 0.3-2.5 0.2-1.7 0.2-2 0.3-1.9 0.2-2.1 0.3-2.3 0.2-2 0.3-2.6 0.2-1.4 0.3-2.3 0.2-2.7 0.3-1.9 0.3-2.2 0.2-2.3 0.3-2.6 0.2-1.5 0.2-1.7 0.2-1.3 0.3-1.9 0.2-1.9 0.2-2.3 0.2-1.6 0.2-2 0.2-1.4 0.3-1.6 0.2-1.8 0.2-1.6 0.2-2 0.2-1.7 0.3-2.2 0.2-2.1 0.2-1.6 0.2-1.7 0.2-1.8 0.3-1.9 0.2-2.4 0.2-0.7 0.3-2.5 0.2-2 0.2-1.2 0.2-2.4 0.3-1.5 0.2-2.7 0.2-1.4 0.3-2.5 0.2-1.4 0.2-1.7 0.3-2.6 0.2-1.5 0.3-1.9 0.2-2.4 0.3-2.4 0.2-1.4 0.3-1.9 0.2-2 0.3-2.1 0.2-2.3 0.3-2.8 0.2-1.7 0.3-2.2 0.3-2.6 0.2-1.7 0.3-3.3 0.3-1.5 0.2-2.4 0.3-3 0.3-2.5 0.3-1.7 0.2-3.2 0.3-2.2 0.3-1.8 0.3-2.7 0.3-3 0.2-1.6 0.2-1.9 0.2-1.1 0.2-1.9 0.1-1.7 0.2-2.2 0.2-0.9 0.2-2.6 0.2-1.3 0.2-1.5 0.2-2 0.2-2.8 0.2-1.3 0.2-1.7 0.3-2.2 0.2-2.2 0.2-2 0.2-1.8 0.2-1.6 0.2-2.1 0.2-1.6 0.2-2.7 0.2-1.6 0.3-1.7 0.2-2.8 0.2-2 0.2-2.1 0.2-2.4 0.3-1.9 0.2-1.4 0.2-2.7 0.2-2.1 0.3-1.5 0.2-3.1 0.2-1.7 0.2-2.3 0.3-2 0.2-2.4 0.2-1.5 0.2-2.6 0.3-1.7 0.2-2.8 0.2-1.3 0.3-3 0.2-1.4 0.2-2.9 0.2-1.9 0.3-1.9 0.2-2.8 0.2-1.6 0.3-2.1 0.2-2.4 0.2-1.8 0.3-2.3 0.2-2.8 0.2-1.3 0.2-1.9 0.3-3.1 0.2-2.1 0.2-1.6 0.3-2.1 0.2-2.3 0.2-2.4 0.2-1.7 0.3-2.3 0.2-1.8 0.2-1.6 0.2-2.7 0.3-1.3 0.2-2.1 0.2-2.9 0.2-1.7 0.3-2.4 0.2-2 0.2-1.5 0.2-2.5 0.2-1.1 0.3-2 0.2-1.6 0.2-2.1 0.2-1.8 0.2-2.5 0.2-1 0.2-2.8 0.3-0.9 0.2-1.8 0.2-2 0.2-1.7 0.2-2.4 0.2-1 0.2-2.4 0.2-1.6 0.3-2.7 0.3-1.6 0.3-2.6 0.3-2.8 0.3-2.9 0.3-2.4 0.4-1.6 0.3-2.5 0.3-2.9 0.3-1.5 0.3-2.8 0.3-2.9 0.3-1.2 0.3-3.1 0.3-2.1 0.3-1.7 0.3-2.2 0.3-3 0.3-1.4 0.3-3 0.3-2.4 0.3-2.1 0.3-2 0.3-1.6 0.3-2.5 0.3-1.4 0.3-2.6 0.3-2.4 0.3-1.5 0.3-2.5 0.3-2.1 0.2-0.8 0.3-3 0.3-1.9 0.3-1.7 0.3-2.1 0.3-1.5 0.2-1.6 0.3-2.2 0.3-1.6 0.3-2.4 0.2-1.7 0.3-1.7 0.3-1.3 0.2-1.6 0.3-1.5 0.3-2.3 0.2-2 0.3-1.5 0.2-1.6 0.3-1.1 0.3-1.9 0.2-1.8 0.3-1.6 0.2-1.3 0.2-1.6 0.3-1.3 0.2-2.1 0.3-1.2 0.2-1.2 0.5-3.1 0.4-3.7 0.5-1.8 0.4-3.2 0.4-2.1 0.4-2.5 0.5-2.5 0.4-2.4 0.4-2.4 0.4-1.9 0.3-2.6 0.4-2.4 0.4-1.7 0.4-1.9 0.3-1.6 0.4-2.1 0.3-2.1 0.4-1.3 0.3-2.1 0.4-2 0.3-0.7 0.3-2 0.3-1.7 0.4-1.3 0.3-1.9 0.3-1.6 0.3-2 0.3-0.8 0.3-2 0.3-1.1 0.6-2.5 0.6-3 0.5-2.5 0.5-3.2 0.5-1.6 0.5-1.9 0.5-2.4 0.4-1.8 0.5-2.2 0.4-1.3 0.4-2.1 0.4-1.2 0.4-1.2 0.4-1.8 0.4-1.3 0.9-3.3 0.9-1.5 0.8-1.4 0.7-1.2 0.7-2.2 0.6-1.9 0.3-1.7 0.3-1.8 0.3-2.4 0.2-1.2 0.2-2.5 0.3-2.5 0.2-1.5 0.3-2.9 0.3-2.7 0.4-2.4 0.3-1.9 0.4-2.1 0.3-2.1 0.4-2.2 0.4-2.1 0.4-1.4 0.5-2.6 0.4-2.2 0.4-2.1 0.5-1.4 0.4-2.1 0.5-2.8 0.4-1.4 0.4-1.4 0.6-2.5 0.5-2.7 0.6-1.7 0.6-2.7 0.5-1.3 0.6-2.4 0.6-1.3 0.6-2.4 0.6-1.2 0.6-2.9 0.7-1.7 0.7-2.2 0.7-1.8 0.7-2.6 0.8-2 0.7-1.9 0.7-2.3 0.7-1.1 0.7-1.7 0.7-1.6 0.9-3 0.9-2.3 0.8-1.8 0.8-2.3 0.8-2.3 0.8-1.4 0.7-1.5 0.7-2.8 0.7-2.2 0.6-2 0.6-1.6 0.8-2.6 0.9-2.2 1-2 1.1-2 1.1-1.1 1.3-1.9 1.3-2 1.4-2 1.4-1.8 1.7-1.2 1.9-1.5 1.9-1.7 2-0.6 2-0.7 1.9-1.1 2.3-1.2 2.3 0.1 2.3-0.4 2.3-0.6 2.2-0.4 2.1-0.1 2 1 2-0.4 1.9 0.4 2 1.1 1.7 1.8 1.7 1.3 1.7 1.7 1.7 1.6 1.6 1.3 1.6 1.3 1.8 1.7 1.7 0.9 1.6 1.7 1.7 0.6 1.8 1.6 1.2 2.3 1.2 1.3 1.2 2.3 1.3 1.3 1.3 2.1 1.3 1.4 1.2 2.2 1.3 1.5 1.2 1.4 1.2 1.5 1.2 2.1 1.1 1.5 1.2 0.5 1.3 2.5 1.3 1.6 1.5 2.2 0.8 0.8 0.9 2.7 1 1.2 1 1.2 1 2.2 1 1.7 1 1.9 1.1 1.6 1 3 1 1.4 1 1.6 0.9 2 0.9 2 0.9 2.6 0.8 1.3 0.9 1.9 0.9 2.7 0.8 1.2 0.7 2.9 0.7 1.3 0.7 2.7 0.6 2.2 0.7 2.1 0.6 1.8 0.6 1.7 0.7 2.5 0.7 1.6 0.9 1.3 0.9 1.8 0.9 2 0.9 2 0.9 1.4 0.9 2 1 1.5 1 2.3 1.1 2.2 0.7 1.5 0.7 2.4 0.8 1.4 0.7 1.9 0.8 1.1 0.7 1.5 0.8 1.8 0.8 2.4 0.9 1.4 0.8 1.8 0.9 2.3 0.9 2 1 2.1 1 2.3 0.7 2 0.8 1.5 0.8 1.3 0.8 1.9 0.9 2.4 0.9 1.9 0.8 1.1 0.9 1.8 0.9 1.8 1 2.2 0.9 2.5 0.9 1 0.9 2.4 0.9 2.2 0.9 1 0.9 2.7 0.8 1.1 0.8 2 0.8 1.9 0.8 1.6 0.9 2 1 2 0.9 2.4 0.9 2.6 0.8 2.1 0.9 1.5 0.8 1.7 0.9 2.6 0.8 1.8 0.8 2.2 0.7 1.6 0.8 1.6 0.7 1.5 0.7 2.1 0.7 1.2 0.6 1.6 1 2.5 0.8 2.2 0.7 1.6 0.7 1.6 0.6 1 0.6 1.7 0.7 1.7 0.9 2.3 1.1 2.8 0.6 1.6 0.6 1.9 0.7 0.8 0.6 2 0.7 2.8 0.8 1.4 0.7 1.5 0.8 2.8 0.8 1.8 0.8 1.9 0.8 2.5 0.8 1.3 0.8 2.2 0.9 1.7 0.8 2.7 0.8 1.2 0.8 2.4 0.7 2 0.8 2 1 1.6 0.9 1.8 1 1.8 0.9 2.2 1 1.6 0.9 2.9 1 0.8 0.9 2.8 1 1.2 0.9 1.5 1 2.8 0.9 1.9 1 0.8 0.9 2.8 1 1 0.9 2.3 1 1.6 0.9 1.5 0.9 1.8 0.9 2.5 0.9 1.3 0.9 1.6 0.9 1.4 1 2.4 0.9 1.7 1 2.1 1 2.1 1 2.5 1 1.9 1.1 2.5 0.7 1.1 0.6 1.5 0.7 2.6 0.7 1 0.7 2.5 0.7 1.7 0.7 1.1 0.7 2.8 0.7 1.2 0.7 2.2 0.7 1.7 0.8 2.3 0.7 2.5 0.8 1.6 0.7 2.5 0.8 2 0.8 1.4 0.7 2.6 0.8 1.6 0.8 2.6 0.8 1.7 0.8 1.1 0.8 2.4 0.8 1.1 0.8 2.5 0.9 1.2 1 2 1 2.8 0.9 1.5 1 2.2 1 0.8 1 2.4 1 1.2 1.1 2.7 1 1.3 1 1.6 1.1 1.9 1 1.3 1.1 2.2 1 1.9 1 1.7 1.1 1.5 1 1.3 1 2.3 1.1 1.6 1 1.3 1 1.8 1.2 1.1 1.2 2.5 1.2 1.6 1.2 1 1.2 2.1 1.2 2 1.1 2 1.2 1.6 1.2 1.7 1.2 1.6 1.2 0.7 1.2 2.4 1.2 1.2 1.3 2 1.2 1.4 1.3 1.6 1.3 1.4 1.3 2.7 1.2 1.5 1.1 1.1 1.2 1.7 1.2 2.1 1.2 1.2 1.2 1.5 1.2 1.7 1.3 1.7 1.2 2.4 1.3 1.6 1.2 2 1.3 1.4 1.3 2 1.2 1.3 1.3 2.2 1.3 1.5 1.3 1.7 1.3 1.8 1.3 0.9 1.3 2.3 1.3 1 1.4 1 1.5 2.6 1.4 0.4 1.5 2.4 1.4 1.6 1.5 1 1.4 0.9 1.5 1.4 1.4 2.1 1.5 1.4 1.5 1.7 1.5 1.3 1.5 0.8 1.6 1.7 1.5 0.8 1.5 1.2 1.6 1.3 1.6 0.9 1.6 1.6 1.6 1.4 1.7 0.6 1.6 1.1 1.7 1.8 1.7 1.6 1.7 1.1 1.8 1.2 1.7 0.7 1.7 1.2 1.8 1 1.8 0.8 1.7 1 1.8 0.9 1.8 1.3 1.7 0.4 1.8 1.5 1.7 0.9 1.8 0.7 1.7 0.3 1.9 1.1 2 0.5 1.9 1 1.9 0.2 1.9 0.6 2 1 1.9 0.5 1.9 1.5 2-0.1 1.9 0.6 1.9 1 2 0.1 1.9-0.1 1.9 0.6 1.9 0.2 2 0.7 1.9 0.2 2 0.5 2.1 0.4 2 1 2 0.3 2 0.2 2-0.3 2 0.1 2 0.6 2.1-0.1 2 1.1 2-0.2 2.1-0.2 2.1 0.7 2.1-0.9 2.1-0.1 2.2 0.6 2 0.6 2.1-0.9 2.3 0.1 2.3-0.5 2.3 0.1 2.4 0 2.4-1 2.4-0.2 2.4 0.9 2.3-0.3 2.3-1 2.1 0.4 2.1-0.6 1.9-0.8 1.7-0.2 1.6-0.1 1.4 0.4 1.1-0.7" stroke="#EC008C" stroke-width="1.50" fill="none" stroke-linejoin="round"/>
<path d="M220 1209.4l1.1 0.2 1.2-0.7 1.4-0.3 1.5-0.6 1.7 0.6 1.8-2.1 1.9 0.9 2-3 2.1 0.5 2.1-0.5 2.2-1.4 2.3 1.8 2.3-2.4 2.3 1.2 2.3-0.1 2.3-3.5 2.2 1.8 2.3-1.1 2.2-1.4 2.1-3.3 2 0.9 2-0.1 1.9-2.1 1.7-1.2 1.6-0.4 1.5-1.1 2 0.9 1.9-3.2 1.7-1.1 1.6-0.6 1.4-0.3 1.4-4.1 1.2-2.6 1.2 2.1 1.1-2.1 1.1-1.8 1.1-2.7 1.1-2.8 1.1-1.9 1.1-1 1.3-0.9 1.3-3.1 1.4 1 1.4-1.3 1.4-4.2 1.5 1.9 1.5-2.8 1.5 0.4 1.6-3.2 1.5-0.1 1.5-2.7 1.6-0.7 1.6-1.8 1.5-3.3 1.5-0.8 1.6-0.9 1.5-0.6 1.5-1.5 1.5-0.6 1.4-0.7 1.4-2.3 1.7-1.7 1.6-0.6 1.7 0.5 1.7-1.9 1.6-1.6 1.6-0.6 1.6-3.5 1.6-1.6 1.5-1.3 1.5-1.1 1.5-1.8 1.4 1.1 1.4-0.4 1.3-4.9 1.3 0.5 0.9-0.5 0.9-2.3 0.9-4.2 0.7 0 0.8-3.4 0.7-2.3 0.7-2.7 0.6 0 0.7-0.6 0.6-5.3 0.6-2 0.7-1.1 0.6-3.4 0.7-0.3 0.7-0.9 0.7-2.9 0.8-3.4 0.8-1.7 0.9-0.9 1.2 0 1.3-0.6 1.3-3.2 1.4-2.9 1.4-0.7 1.4-0.4 1.4-2.3 1.5-1.1 1.5 0.1 1.5 0.4 1.5-3.8 1.5 1 1.6-1.8 1.5-3.8 0.9-2.1 1-1.6 0.9 0.4 1-0.9 0.9-1.5 1-4.3 1-0.8 0.9-3.4 1-0.6 1-1.9 1-2.5 1-2.1 1 1.8 1-4.6 1-1.1 1-1.8 1-2.1 1.1-1.4 1-2.2 1.1-1.8 1-3.4 1.1 0.4 1.1-1.5 1.2-1.6 1.1-3.4 1.3-1.2 1.2-0.4 1.3-2.1 1.3-4.5 1.3-0.6 1.3-2.5 1.3 0.4 1.3-3 1.3-1.8 1.3-2.4 1.3-0.8 1.3-0.6 1.3-2 1.2-3.3 1.2-0.9 1.2-0.7 1.1-3.8 1.1 1.9 1.1-4.9 1 1 1.5-4 1.4 1.3 1.3-3 1.2-3.7 1.2-0.6 1.1-0.3 1.1-1.5 1.1-2.3 1-1.6 1-1.1 1-0.8 1-3 1-1 1.1-0.7 1.3-3 1.2-3.1 1-0.6 1.1-2.9 1-0.4 1.1-1.6 1.1-1 1.3-4.6 1.4-1.5 1.6 2.7 1.9-1.3 1.5 0.9 1.7-0.7 1.8 0.7 1.9-2.9 1.9 0.5 2 2.3 2.1 1.2 2.2-1.8 2.1 4.2 2.2-2 2.2 0.9 2.1 2 2.2 0.1 2.1 0.8 2 1.2 1.5 0.8 1.6 1.5 1.5 3.2 1.6 1.5 1.6 1.2 1.6-0.2 1.7 2.7 1.6-1.3 1.6 4.4 1.6-0.4 1.6 0.3 1.5 2.5 1.5 0.7 1.5 3.7 1.5 0 1.4 0.1 1.4 2.2 1.3 1.1 1.2 5 1.2-0.7 1.2 3.2 1.2 1 1.1 1.1 1.1 3.2 1 1.1 1-0.1 0.9 5.7 0.8-0.6 0.9 3.2 0.8 1 0.8 4.1 0.8-1.3 0.7 1.4 0.7 1.8 0.8 3.2 0.7 3.5 0.8 0.1 0.7 3.5 1.1-0.8 1 5.4 1-1.1 1 4.9 0.9-0.8 0.9 3.5 0.9 1.9 0.9 3.3 0.8-0.5 0.8 3.4 0.9-1.4 0.8 5.1 1 0.5 0.9 2 0.9 3.6 0.8-0.7 0.9 3 0.9 1.6 0.8 0.6 0.9 1.1 0.9 2.8 1 1 1.2 3.1 1.2 0.9 1.3 0.4 1.3 4.1 1.3 2.5 1.3 0.4 1.2 0.3 1.1 1.7 1.1 4.3 1-0.1 0.9 3.2 0.8-0.6 0.7 5 0.8 2.4 0.8-0.5 0.9 2.1 1.1 3.3 1.1 2.9 1.3 0.9 1.5-1.4 1.4 1.9 1.5 4.7 1.5-0.4 1.3 3.7 1.3-0.6 1.1 3 1.2-0.4 0.8 4.7 0.7-0.3 0.7 0 1 2.9 1.6 2.1 0.9 2.7 0.9 3.5 1.1 1.6 1.1 1.4 1.2-0.5 1.3 3.2 1.3 1.6 1.3 2.1 1.3 2.3 1.3 1.2 1.4 1.5 1.3 0 1.3 1.1 1.3 2.7 1.3 1.1 1.2 3.6 1.3-0.6 1.3 2 1.3 3.9 1.3-1 1.4 1.9 1.3 1.5 1.3 1.7 1.3 2 1.3 4.1 1.2-0.4 1.3 0.7 1.2 2.8 1.9 1.1 1.9-0.1 1.9 1.3 1.9 1.7 1.9 1.5 1.8-0.3 1.7 2.1 1.5 1.3 1.5 3.1 1.2 0.2 1 0.4 0.8 1.3 0.8 1.6 0.7 2.6 0.8 4.1 1 2 1.2-1.3 1.5 4 1.1 1.7 1.2 2 1.2 0.7 1.4 0.9 1.4-0.7 1.4 2.2 1.5 4.2 1.6 1.3 1.6 1.4 1.6-0.7 1.6 3.2 1.6 1.5 1.6-0.3 1.6 1.1 1.6 1.7 1.7 1.6 1.7-0.8 1.8 1.2 1.8 5 1.9-1.2 1.8 1.1 1.9 1.8 1.8 0.8 1.8 1.7 1.9 0.3 1.8-1.1 1.7 1.1 1.7 1.8 1.7 1.3 2 3.7 2-0.9 1.9 0.6 1.8 1.8 1.8 0.3 1.8 1.1 1.9 1.2 1.8 1 1.9 0.4 2 1.2 2.1 0.6 1.7 2 1.7 0.8 1.8 0.9 1.8 0.1 1.9 1.5 1.8 0.7 1.9 0.6 1.9 1 1.9 1.8 2 0.6 1.9 1 1.9 0.3 1.9 1.5 1.9 1.3 1.8 0 1.7 0.9 1.5 1.7 1.5 0 1.4 1 1.5 1.4 1.5 0.6 1.7 0.3 1.8 0.9 1.9 0.7 2.3 0.6 2.4 1.5 2.8 0.5 3.2 1.1 1.4 1.1 1.5-0.4 1.5 0.4 1.7 0.4 1.6 1.2 1.7 0 1.8 0.5 1.8 0.7 1.9 0.8 1.9 0.8 1.9-0.6 2 0.8 2 0.1 2 0.9 2.1 0.9 2.1 0.1 2.1 0.6 2.1 0.4 2.2 1.3 2.1 0.3 2.2 0.6 2.1 0.2 2.2 0.8 2.2 0.2 2.1-0.2 2.2 0.5 2.1 1.5 2.2-0.1 2.1 0.7 2.1 0.2 2 0.9 2.1-0.5 2 0.4 2 0.5 2 1 2.1 0.2 2.1 0.3 2.1 0 2.2 0.6 2.1 0.2 2.2 0.2 2.2 1.4 2.2 0.1 2.2 0.4 2.2-0.2 2.2 0.9 2.2 0.3 2.2-0.3 2.2 1.1 2.1 0.2 2.2-0.6 2.1 0.4 2.2 0.2 2.1 1 2-0.3 2.1 0.3 2 0.1 2 0.7 1.9 0.1 1.9 0.6 1.9-0.2 1.8 0.8 1.8 0.2 1.7-0.1 1.6 0.9 1.7-0.3 1.5 0.2 3-0.1 2.8 0.4 2.5 0.8 2.3-0.2 2.2-0.1 2.1 0.5 1.9 0.2 1.8-0.3 1.8 0.2 1.7 0.9 1.7-0.1 1.7-0.4 1.8 0.4 1.8-0.1 1.9-0.6 2 0.5 2-0.6 2 0.6 1.9-0.1 2-0.5 1.8 0.5 1.9-0.4 1.9 0.5 1.9 0.3 2-0.3 2-1 2 0.4 2.2-0.2 2.2 0.2 2.3-1.1 2.4-0.5 2.5-0.1 1.7-0.3 1.7 0.3 1.8-0.2 1.9-0.7 1.9-0.1 2-0.8 1.9-0.6 2.1-0.2 2-0.1 2.1-0.9 2.1 0.2 2.1-0.9 2.1-0.7 2.1-0.2 2.1 0 2.1-1.1 2.2-0.6 2.1-0.3 2 0.1 2.1-0.7 2.1-0.7 2-1 2-0.1 1.9-0.5 1.9-0.9 2-0.3 2.1-1 2 0.3 2-0.8 2.1-0.6 2-0.3 2-0.6 2-1.1 2-0.2 1.9-1.1 2 0 1.9-0.9 2-0.5 1.9-0.2 1.8-1.3 1.9-0.8 1.9 0 1.8-1.4 1.8 0 1.7-0.8 1.8-1.8 1.7-0.4 1.7-0.5 1.8-1.4 1.8-1.1 1.8-1.8 1.8-0.9 1.7-0.8 1.7-2.3 1.7-0.5 1.7-1.9 1.6-1.5 1.6-0.7 1.6-2.1 1.5-1.3 1.6-0.9 1.5-2.3 1.4-0.7 1.5-2.2 1.4-1.2 1.4-2.1 1.3-0.4 1.3-2 1.3-1.4 1.5-1.1 1.4-2.4 1.3-2.2 1.4-1.4 1.3-2.2 1.2-1.8 1.2-0.8 1.2-2 1.1-1.8 1.1-1.9 1.1-2.1 1-1.4 0.9-2 1-1.2 0.9-1.3 0.8-2 0.8-1.4 0.8-1.2 1.6-2.5 0.9-0.4 0.6-0.8 0.5-1.4 0.7-1.5 1-2 1.7-3.9 0.5-1.8 0.5-0.8 0.6-1.9 0.6-1.7 0.6-0.9 0.7-1.8 0.7-2.2 0.7-1.4 0.7-2.4 0.7-1.4 0.8-2.2 0.8-2.1 0.8-2.4 0.8-1.8 0.8-2.6 0.8-1.3 0.8-2.7 0.8-2 0.8-3 0.8-2.1 0.8-2 0.8-2.3 0.8-1.9 0.7-1.9 0.7-1.9 0.8-2.8 0.6-1.4 0.7-2.6 0.6-1.1 0.6-1.7 0.6-2 0.7-2.6 0.6-2 0.6-1.5 0.6-1.7 0.5-2.7 0.6-1.6 0.5-1 0.4-1.7 0.5-2.3 0.4-1.7 0.4-1.8 0.4-1.4 0.5-1 0.4-2 0.4-2.2 0.4-1.9 0.5-2 0.4-1.6 0.5-2.4 0.5-2.3 0.5-1.8 0.5-3 0.6-2.8 0.6-2.8 0.3-0.6 0.4-1.7 0.3-2.4 0.4-0.5 0.3-1.8 0.4-2.8 0.3-0.7 0.4-2.8 0.4-1.6 0.4-2 0.4-1.3 0.3-1.8 0.4-2.5 0.4-1.5 0.4-1.8 0.4-2.8 0.4-1.9 0.4-1.3 0.5-3 0.4-1.8 0.4-2.1 0.4-1.7 0.4-2.8 0.4-2.2 0.4-1.4 0.5-2 0.4-3 0.4-1.4 0.4-2.7 0.4-1.4 0.4-2.4 0.4-2.2 0.5-2.6 0.4-1.9 0.4-1.5 0.4-2.7 0.4-2 0.4-2 0.4-2.7 0.4-2 0.3-1.3 0.4-2.4 0.4-2.7 0.4-1.6 0.3-2.3 0.4-1.6 0.4-2 0.3-1.7 0.4-2.3 0.3-2.5 0.4-1.5 0.3-2.4 0.3-1.5 0.4-2 0.3-1.9 0.4-2.1 0.3-2 0.3-1.7 0.4-1.5 0.3-2.4 0.3-1.5 0.3-1.4 0.4-1.8 0.3-2.2 0.3-2.1 0.3-1.8 0.4-2.1 0.3-1.4 0.3-2.4 0.3-2.4 0.3-0.9 0.3-2.7 0.4-1.1 0.3-2 0.3-2.7 0.3-2 0.3-1.2 0.3-2 0.3-2.4 0.4-2.5 0.3-1.6 0.3-1.5 0.3-2.7 0.3-1.8 0.3-1.8 0.4-2.5 0.3-2.4 0.3-1.8 0.3-2.6 0.4-1.5 0.3-3 0.3-1.6 0.3-2.1 0.2-2.1 0.3-1 0.2-1.7 0.3-2.7 0.2-1.6 0.3-1.1 0.2-2.7 0.3-1.1 0.2-2.3 0.3-1.5 0.2-2 0.3-2.1 0.2-1.3 0.3-1.3 0.2-2.6 0.2-1.2 0.3-2.6 0.2-0.9 0.3-2.8 0.2-1.6 0.3-1.8 0.2-1.4 0.3-2 0.2-1.7 0.2-2 0.3-1.6 0.2-2.7 0.3-1.9 0.2-1.5 0.3-1.7 0.2-2.4 0.3-1.4 0.2-2.8 0.3-1.2 0.2-2.5 0.3-1.8 0.3-1.8 0.2-2.2 0.3-2.2 0.2-2.3 0.3-2.5 0.3-1.7 0.2-2.4 0.3-2.2 0.3-2.8 0.2-1.4 0.3-2.3 0.3-2.2 0.3-2.9 0.3-2.5 0.2-2.1 0.3-2.1 0.3-3.1 0.3-2.5 0.3-2.1 0.3-2.1 0.3-3.1 0.2-1.4 0.2-2.1 0.2-2.1 0.2-0.7 0.2-2.3 0.2-1.5 0.2-2.2 0.2-1.2 0.2-2.6 0.2-1.3 0.2-1.4 0.2-2.1 0.2-2.7 0.2-1 0.2-1.7 0.2-2 0.2-2.8 0.2-2.2 0.3-1.4 0.2-1.8 0.2-2.6 0.2-1.6 0.2-2.6 0.2-2 0.3-1 0.2-2.5 0.2-2.4 0.2-1.8 0.2-2.6 0.3-1.8 0.2-1.7 0.2-2.6 0.2-2.4 0.3-1.1 0.2-3.1 0.2-1.6 0.2-2.3 0.3-2 0.2-2 0.2-2.7 0.2-1.9 0.3-2.3 0.2-2.1 0.2-1.9 0.2-2.4 0.3-1.8 0.2-2.3 0.2-2.1 0.3-2.5 0.2-2.3 0.2-1.8 0.2-2.1 0.3-2.4 0.2-1.5 0.2-3.1 0.3-1.8 0.2-1.6 0.2-2.9 0.2-1.6 0.3-2.2 0.2-1.8 0.2-2.8 0.2-2.2 0.3-1.6 0.2-2 0.2-2.3 0.2-2.1 0.3-2.6 0.2-1.6 0.2-2.2 0.2-1.5 0.3-1.7 0.2-2.6 0.2-1.6 0.2-2.5 0.2-1.9 0.3-1.6 0.2-2.5 0.2-1.6 0.2-2.3 0.2-1.5 0.2-1.3 0.2-1.7 0.3-2.7 0.2-1.4 0.2-1.8 0.2-2.3 0.2-1.6 0.2-1.1 0.2-2.3 0.2-0.8 0.2-1.6 0.3-3.3 0.3-2.8 0.3-2.4 0.4-2.5 0.3-1.5 0.3-2.7 0.3-2 0.3-2.7 0.3-2.2 0.3-2.8 0.4-2 0.3-2 0.3-3.2 0.3-2.3 0.3-2.3 0.3-1.8 0.3-2.3 0.3-2.1 0.3-2.1 0.4-2 0.3-2.1 0.3-2.3 0.3-1.4 0.3-2.9 0.3-1.3 0.3-2.1 0.3-2.8 0.3-1.6 0.3-1.3 0.3-2.5 0.3-2.4 0.3-1.1 0.3-2.6 0.2-1.5 0.3-1.6 0.3-2.7 0.3-0.7 0.3-2.9 0.3-1.9 0.2-1.5 0.3-2.1 0.3-1 0.3-2 0.2-1.6 0.3-1.7 0.3-2.3 0.2-1.4 0.3-0.9 0.3-1.8 0.2-2 0.3-1.7 0.2-1.3 0.3-1.5 0.2-2.7 0.3-1.1 0.2-0.9 0.2-1.9 0.3-1.7 0.2-1.5 0.4-3.5 0.4-1.9 0.4-2.8 0.4-3.1 0.3-2.4 0.4-2.3 0.3-2.2 0.4-2.5 0.3-1.8 0.3-2.1 0.4-2 0.3-2.4 0.3-2.1 0.3-2.1 0.3-1.8 0.3-1.9 0.3-2.7 0.3-1 0.2-1.6 0.3-1.8 0.3-2.7 0.2-1.8 0.3-0.9 0.3-1.8 0.2-2.6 0.3-1.1 0.3-1.6 0.2-2.2 0.3-0.6 0.2-2.5 0.3-0.8 0.2-2.4 0.3-1.8 0.4-2.4 0.5-2.8 0.4-1.6 0.4-2.5 0.4-2.6 0.4-1.5 0.4-2.7 0.4-1.9 0.4-2.1 0.4-1.5 0.3-1.4 0.4-1.9 0.3-1.7 0.3-1.7 0.4-2 0.3-2.2 0.3-1.4 0.3-1.8 0.3-1.7 0.4-2.5 0.3-2.5 0.3-1.4 0.3-2.4 0.3-2.2 0.2-2.2 0.3-2.4 0.2-1.6 0.2-2.5 0.3-1.5 0.3-2.1 0.2-1.7 0.4-1.9 0.3-2.5 0.4-2.2 0.4-2.1 0.4-2 0.5-1.6 0.5-2.7 0.4-1.7 0.5-2.6 0.5-1.1 0.5-2 0.5-2 0.5-2.1 0.4-2.9 0.5-1.7 0.5-2.2 0.4-2 0.5-1.9 0.5-1.7 0.5-2.2 0.5-2.9 0.5-1.5 0.4-1.7 0.5-2.4 0.5-2.4 0.4-1.2 0.4-2.6 0.4-1.6 0.6-2.7 0.5-2 0.5-2 0.4-1.7 0.4-2.5 0.5-2.2 0.5-1.4 0.6-2.6 0.6-1.1 0.6-2.2 0.7-2.1 0.7-1.8 0.7-2.5 0.7-1.3 0.7-2 0.7-1.2 0.6-1.7 0.9-2.5 0.8-3.4 0.8-1.9 0.8-1.2 0.8-2.1 0.9-1.9 0.9-2.3 0.9-2.5 1-1.5 0.9-1.8 1.1-1.3 1.2-2.6 1.2-1.2 1.3-1.8 1.4-1.4 1.4-2 1.3-1.8 1.3-1.6 1.1-1.9 1.2-2.2 0.7-1.7 1-1.9 2.1-0.6 1.4-1.7 1.7 0 2-0.2 2.1-0.5 2.2-1.4 2.2-0.4 2.2-0.4 2.2 0.7 2-0.2 2.2-0.4 2.3 1.1 2.3 0.1 2.2 0.3 2.2 1.2 2.1 0.7 1.9 1.2 1.8 0.1 2.1 2 1.8 1.1 1.7 0.8 1.5 1.4 1.4 1.2 1.5 2.3 1.7 0.9 1.7 1.9 1.6 1 1.5 0.7 1.5 1.6 1.4 2.1 1.4 1 1.3 1.5 1.4 2.5 1.5 1.9 1.3 0.5 1.4 1.9 1.4 1.1 1.5 0.8 1.6 1.8 1.8 2 0.9 2.2 1 1.5 1 1.4 1 1.2 1.1 1.8 1.1 1.6 1.1 3 1.1 1.7 1.2 1.7 1.1 1.7 1.1 2.7 1.2 2.4 1.1 1.8 1 0.8 1 2.4 1 0.8 1 2.8 1 1.4 1 1.4 1 1.9 1 1.6 1 1.7 1 1.9 1 2.1 1 1.5 1 2.2 1 1.2 1 2.3 0.9 1.6 0.9 1.9 0.9 1.8 0.9 1.5 0.8 2.4 0.9 1.3 0.9 1.5 0.9 1.9 0.8 3 0.9 1.3 0.9 1.8 0.8 2.7 0.9 0.8 0.9 2.1 0.8 2.5 0.9 1.5 0.9 2 1 1.3 0.9 2.7 0.9 1.2 1 2.2 0.9 1.9 0.9 2.4 1 1.1 0.9 1.7 0.9 2.1 1 1.9 0.9 2.1 0.9 1.8 1 2.3 0.9 1.2 0.9 2.4 0.9 1.2 0.9 1.6 0.9 2.3 0.9 1.6 1 1.7 0.9 2.4 0.9 2.1 0.9 1.1 0.9 2.6 0.9 1.6 0.9 1.2 0.8 1.5 0.8 2.3 0.8 2.3 0.7 1.3 0.8 1.9 0.8 2.3 0.7 1.7 0.7 2.1 0.6 1.4 0.6 2 0.6 1.4 0.6 2.5 0.6 1.8 0.7 1.1 0.7 2.3 0.8 1.6 0.8 2.2 0.7 2.8 0.6 1.6 0.7 1.8 0.8 1.3 0.7 1.8 0.8 1.6 0.7 2.6 0.8 1.7 0.8 2.3 0.8 1.9 0.9 2.1 0.8 1.9 0.8 1.7 0.8 2.1 0.9 1.6 0.8 2.5 0.8 1.2 0.8 1.8 1 2.9 0.9 1.9 1 1.8 1 1.2 0.9 1.8 1 1.9 1 1.8 0.9 1.8 1 1.6 1 1.2 1.1 2.6 1 1.4 1 1.9 1.1 2.1 1.1 1.8 0.8 2.6 0.8 1.6 0.8 1.9 0.9 1.7 0.8 1.2 0.9 2 0.8 2.7 0.9 2.3 0.9 1.6 0.8 2.2 0.9 2.3 0.9 1.2 0.9 1.9 0.9 1.9 0.8 1.9 0.9 2.1 0.9 2.1 0.9 2.6 0.8 1.8 0.9 1.4 0.8 1.1 1.1 2.6 1.1 2.6 1.1 2.1 1.1 0.8 1.1 1.9 1 2.1 1.1 2.1 1.1 1.2 1.1 2.6 1 1.2 1.1 1.8 1 1.4 1.1 2.4 1 1.2 1 1.5 1 1.8 1.1 2.6 1.1 1.8 1.1 1.4 1 2.1 1.1 1.7 1 1.2 1 2.3 1.1 1.6 1 1.4 1.1 1.6 1 2 1.1 1.8 1.1 1.9 1.2 1.5 1 2.3 1 0.8 1 1.7 1.1 2.7 1 0.6 1.1 2.4 1.1 1.7 1.1 1.9 1.1 2 1.1 1.7 1.1 1.9 1.1 0.8 1 2 1.1 2.1 1.1 1.5 1 1.1 1 2.4 1.2 1.9 1.2 0.9 1.1 1.9 1.1 1.9 1.1 2.6 1.1 1.5 1.1 0.9 1.1 2.6 1.1 1.7 1.2 1.7 1.1 1.1 1.2 2.1 1.2 1.6 1.2 1.2 1.3 2 1.2 0.9 1.3 2.5 1.3 0.8 1.3 2.3 1.4 1.6 1.3 1.1 1.4 2.1 1.4 1.6 1.4 1.5 1.4 1.6 1.4 1.5 1.4 1.7 1.5 0.7 1.4 1.2 1.3 2.1 1.4 1 1.4 1.5 1.4 2 1.4 1.5 1.4 0.5 1.5 1.3 1.4 2.3 1.5 1.3 1.5 0.8 1.6 1.6 1.5 1.9 1.7 0.7 1.6 1 1.5 1.7 1.5 1.5 1.5 1.6 1.6 0.3 1.5 1.5 1.6 1.4 1.7 1 1.6 1 1.6 2.2 1.7 0.9 1.7 1.6 1.7 0.2 1.7 2.1 1.8 1 1.7 0.6 1.8 0.8 1.8 0.8 1.8 0.9 1.9 0.7 1.8 1.7 1.9 0.2 1.9 1.2 2-0.1 1.9 0.9 2 0.3 2 1.6 2-0.3 2 1.3 1.9 0.8 2 0.5 2-0.5 2 0.7 2 0.7 1.9 0.1 2.1 1.4 2 0 2.1 1 2.1 0.9 2-0.3 2.1 0.6 2.1 0.5 2.1 0.5 2 0.6 2.1 0.8 2.1 0.4 2 0.4 2.1 0.5 2-0.7 2.1 0.7 2-0.1 2.1 0.7 2 0.3 2.2-0.7 2.1 0.7 2.1 0 2.2-0.1 2.1 0.3 2.1-1.1 2.1 0.2 2.1 0 2-0.4 1.9 0.4 1.9 0.2 1.8-1.1 1.7 0.6 1.6-0.1 2.7-0.3 2.6-0.6 2.4-1.4 2.2-1 2.1 0.1 1.9-0.4 1.6-0.9 1.4-0.9 1.1-0.3" stroke="#EC008C" stroke-width="1.50" fill="none" stroke-linejoin="round"/>
<line x1="1347.9" y1="217.1" x2="1638" y2="136.7" stroke="#EC008C" stroke-width="2"/>
<line x1="1357.1" y1="252.9" x2="1633" y2="202.3" stroke="#EC008C" stroke-width="2"/>
<line x1="1348" y1="279.4" x2="1638" y2="279.4" stroke="#EC008C" stroke-width="2"/>
<line x1="1370" y1="335.6" x2="1633" y2="335.6" stroke="#F7A3CB" stroke-width="3"/>
<line x1="1409" y1="444.2" x2="1633" y2="444.2" stroke="#F7A3CB" stroke-width="3.5"/>
<line x1="1446" y1="577.8" x2="1633" y2="577.8" stroke="#F7A3CB" stroke-width="3.5"/>
<line x1="1186" y1="495.2" x2="1301" y2="495.2" stroke="#555" stroke-width="2.5"/>
<path d="M1133.3 495.2 L1181.7 469.7 L1188.7 495.2 L1181.7 520.4 Z" fill="#000"/>
<rect x="263.5" y="47.5" width="894.8" height="891.5" fill="none" stroke="#222" stroke-width="2"/>
<path d="M386 939l0.1-1.2 0.1-1.1 0.1 0.1 0.1-1.2 0-0.6 0.1-0.6 0.1-0.5 0.1-0.5 0.1-1.7 0.2-0.7 0.2-1.7 0.2-2.8 0.3-2.4 0.4-2.6 0.5-2.3 0.5-3.9 0.6-3.8 0.8-4.6 0.8-5.7 0.2-1.4 0.2-1.8 0.2-1.4 0.2-0.4 0.2-1.5 0.2-1.3 0.2-1.7 0.3-1.4 0.2-1.5 0.2-1.3 0.3-2.5 0.2-1.1 0.3-1.9 0.2-1.1 0.3-1.6 0.2-2.5 0.3-2 0.3-1.5 0.2-1.8 0.3-1.3 0.3-2.3 0.3-1.4 0.3-2.5 0.3-1.7 0.2-2.3 0.3-1.4 0.3-2.2 0.3-1.6 0.3-1.9 0.4-2.6 0.3-2.6 0.3-1.1 0.3-2.1 0.3-2.6 0.3-2.2 0.4-1.6 0.3-2.9 0.3-2.2 0.4-1.7 0.3-2.2 0.3-2.2 0.4-2 0.3-2.6 0.3-2.3 0.4-2.5 0.3-2.3 0.4-2 0.3-2.2 0.4-1.9 0.3-2.4 0.4-2.4 0.3-2.4 0.4-2 0.3-2.5 0.4-1.8 0.4-2.4 0.3-2.2 0.4-2.7 0.3-2 0.4-2.1 0.4-1.9 0.3-2.8 0.4-2.4 0.4-1.8 0.3-2.9 0.4-2 0.4-2.5 0.3-1.6 0.4-2.5 0.4-2 0.3-1.7 0.4-2.3 0.4-2.9 0.3-1.6 0.4-2.6 0.3-1.1 0.4-2.5 0.4-1.6 0.3-2.7 0.4-1.3 0.4-2.9 0.3-1 0.4-2.6 0.3-2.3 0.4-0.9 0.3-1.9 0.4-2.6 0.3-1.4 0.4-1.9 0.4-2.6 0.5-1.9 0.4-1.5 0.5-2.9 0.4-1.8 0.5-2.2 0.4-2.1 0.5-2.4 0.4-1.8 0.5-2.8 0.4-2 0.5-2.2 0.5-2.6 0.4-1.7 0.5-1.8 0.5-2.3 0.5-2.6 0.4-2 0.5-1.9 0.5-2.5 0.5-2 0.5-1.5 0.5-2.8 0.4-2.1 0.5-2 0.5-1.6 0.5-2.7 0.5-1.2 0.5-2.2 0.5-1.8 0.5-2 0.5-2.1 0.5-2.2 0.4-2.3 0.5-1.6 0.5-2.6 0.5-1.8 0.5-1.4 0.5-2.1 0.5-2.5 0.5-1.6 0.5-1.8 0.5-2.3 0.5-1.4 0.4-2.6 0.5-1.8 0.5-1.6 0.5-2 0.5-1.4 0.5-2.2 0.4-2 0.5-1.2 0.5-1.8 0.5-1.9 0.4-2.6 0.5-1.7 0.5-2 0.5-1 0.4-2.1 0.5-2.2 0.4-0.7 0.5-2.8 0.5-1.7 0.4-0.7 0.5-2.3 0.4-1.2 0.4-2 0.5-2.2 0.4-1.2 0.4-1.3 0.5-2.6 0.4-0.7 0.6-2.9 0.7-2.3 0.6-2.6 0.7-1.9 0.6-2.7 0.6-2.4 0.7-2.7 0.6-1.5 0.6-3 0.7-1.7 0.6-2.9 0.6-2.1 0.6-1.6 0.6-2.5 0.6-1.8 0.6-2 0.6-2.4 0.6-1.9 0.6-2.2 0.6-2.4 0.6-1.1 0.6-2.3 0.6-1.6 0.6-2.2 0.5-1.9 0.6-2.5 0.6-1.3 0.5-2 0.6-2.1 0.6-2 0.5-1.7 0.6-1.9 0.5-1 0.6-2 0.5-2.1 0.5-1.2 0.6-1.3 0.5-1.6 0.5-2.6 0.5-1 0.6-1.6 0.5-1.8 0.5-1.7 0.5-1.4 0.5-1.7 0.5-1.4 0.5-1.8 0.9-2 0.9-2.4 0.8-2.3 0.8-3.2 0.9-2.5 0.8-2.2 0.8-2.5 0.8-1.3 0.8-2.7 0.7-1.6 0.8-1.5 0.7-2.1 0.7-1.9 0.8-1.6 0.7-1.9 0.7-1.4 0.7-1.9 0.7-2 0.7-1.7 0.6-0.5 0.7-2.5 0.7-0.9 0.6-1 0.7-1.4 0.7-1.5 0.6-2.1 1.4-2.7 1.2-1.8 1.2-2.6 1.2-1.6 1.1-1.6 1.1-0.8 1.1-1.4 1.1-1.3 1.1-1.2 1.2-1.2 1.3-2.2 1.3-0.5 1.4-2.3 1.5-1.2 1.5-1.5 1.5-2.2 1.6-0.7 1.6-1.9 1.6-1.4 1.7-1.7 1.6-0.9 1.5-1.8 1.6-0.8 1.5-0.5 2.2-0.8 2.2-1 2.1-0.5 2.2-0.8 2.1 0.4 2.1-0.4 2.1 0.2 2.1 0.2 2.1 0.2 2.2-0.1 2.1 0.7 2.2-0.4 2.1 0.4 2.1 1.3 2 0.3 1.9 1.3 2 0.3 1.7 0.8 1.7 0.8 1.6 0.5 1.8 2 2.1 1.4 2.4 1.9 1.2 1.1 1.2 1 1.4 1.7 1.5 1.6 1.5 1.7 1.5 2.1 1.6 0.7 1.6 1.8 1.7 1.6 1.6 2.3 1.5 1.6 1.6 1.2 1.4 2 1.4 1.4 1.3 1.4 1.2 1.6 1.1 0.8 1.9 2.3 1.5 1.9 1.1 1.6 1 1.5 1 1.2 0.9 1.8 1.2 1.1 1.4 1.9 1.1 0.9 1 2.1 1.1 0.8 1 0.1 1.1 1.9 1.2 0.9 1.3 1.6 1.3 1.5 1.4 1.7 1.6 2.1 1.7 2.1 1.9 2.9 0.7 1.4 0.8 1.4 0.8 1 0.8 2.1 0.8 1 0.9 1.4 0.9 2.1 0.9 1.3 0.9 1.6 0.9 1.7 1 2.3 1 1.2 1 2.5 1 1.4 1 1.7 1 1.9 1 2.3 1 2.3 1.1 2.2 1 1 1 3 1.1 1.6 1 1.4 1 2.4 1 1.6 1 2.8 1 1.3 1 1.5 1 1.7 1 2.2 0.9 1.5 1 2.1 0.9 1.7 1.1 2.1 1 1.5 1 1.6 0.9 1.8 1 1.5 0.9 1.1 0.9 1.5 1 1.4 0.8 2.2 0.9 1.4 0.9 0.6 0.9 1.5 0.9 2.3 0.9 1.2 1 0.6 0.9 2 0.9 2.2 1 1.4 1 1.2 1.1 2.4 1 1.6 1.1 2.3 1.1 1.9 1.2 1.4 1.2 2.8 1.3 2.7 1.3 2.7 1.4 2.7 0.7 1.4 0.6 0.7 0.7 1.7 0.7 1.1 0.7 2.4 0.7 1.5 0.8 0.8 0.7 1.6 0.7 1.4 0.8 1.5 0.8 1.5 0.7 1.7 0.8 2.7 0.8 1.4 0.8 1.3 0.8 2.5 0.8 0.7 0.8 2.8 0.9 0.8 0.8 2.1 0.8 1.5 0.9 2.4 0.8 2.1 0.9 2.2 0.8 1.6 0.9 1.2 0.8 2.4 0.9 2.5 0.9 1.6 0.9 1.4 0.8 2.9 0.9 0.8 0.9 3.2 0.9 1.6 0.9 1.5 0.9 2.5 0.9 2.1 0.9 2.1 0.8 2.1 0.9 1.7 0.9 2.3 0.9 1.1 0.9 2 0.9 2.5 0.9 2.2 0.9 2 0.9 1.5 0.9 2.6 0.8 1.6 0.9 1.4 0.9 2.9 0.9 1.6 0.8 1.7 0.9 2.3 0.9 1.2 0.8 2.2 0.9 1.8 0.8 2.6 0.9 1.9 0.8 1.3 0.8 2.1 0.9 1.4 0.8 1.8 0.8 2.2 0.9 1.5 0.8 2.5 0.9 1.7 0.8 1.9 0.9 1.9 0.8 1.9 0.9 0.8 0.8 2.3 0.9 1.8 0.8 1.6 0.9 2.5 0.8 1.8 0.9 2.2 0.8 1.1 0.9 2.6 0.8 1.4 0.9 2.3 0.8 2 0.9 1.7 0.8 1.8 0.9 1.1 0.8 2.4 0.9 1.9 0.8 2.3 0.9 1.5 0.8 1.8 0.9 2 0.8 1.3 0.9 2.6 0.8 0.8 0.8 1.8 0.9 2.3 0.8 2.2 0.9 1.3 0.8 2.6 0.8 0.8 0.9 2.9 0.8 1.5 0.8 1.6 0.8 2 0.9 1.8 0.8 1.1 0.8 2.4 0.8 2.3 0.8 1.4 0.9 1.3 0.8 1.8 0.8 2.3 0.8 1.8 0.8 1.4 0.8 2.4 0.8 1.4 0.8 1.3 0.7 2.1 0.8 1.9 0.8 1.5 0.9 1.9 0.8 2 0.9 1.8 0.9 3 0.9 1.8 0.9 2.1 0.9 1.6 0.8 2.4 0.9 2.2 0.9 1.7 0.9 1.4 0.9 2.6 0.9 1.5 0.9 2.2 0.9 1.9 0.9 2.2 0.9 2.8 0.9 1.3 0.9 2.9 0.9 1 0.8 2.7 0.9 1.6 0.9 2.9 0.9 1 0.8 2.6 0.9 1.6 0.9 2.1 0.8 2.5 0.8 1.7 0.9 2.2 0.8 1.6 0.8 1.8 0.8 2.3 0.9 1.9 0.7 0.9 0.8 2 0.8 2.1 0.8 1.7 0.7 1.5 0.8 1.9 0.7 1.7 0.7 1.6 0.7 2.5 0.7 1.8 0.7 0.7 0.7 2.4 0.6 1.6 0.7 1.3 0.6 0.8 0.6 2.3 0.6 1.3 0.6 0.9 0.6 0.9 0.5 1.9 1.4 3.6 1.3 2.8 1.2 3.4 1.1 2.6 1 1.9 1 3.1 0.8 2.5 0.8 1.4 0.8 2.5 0.7 1.4 0.6 2 0.6 1.8 0.5 0.5 0.5 2.4 0.4 1 0.5 0.4 0.4 1.7 0.4 1.4 0.3 0.7 0.4 1.2" stroke="#0DF00D" stroke-width="1.50" fill="none" stroke-linejoin="round"/>
<path d="M374.4 938.4l0.1-0.6 0 0.1-0.1 0.4-0.2-0.3-0.2 0.4-0.1 0.6-0.2 1.1-0.2-0.5-0.1 0.7 0-0.5 0-1.5 0.2-1.1 0.3-2.3 0.4-3 0.7-3.3 0.8-6 1.1-6.2 1.2-6.2 1.6-9.3 0.2-1.4 0.2-1 0.2-1.1 0.2-0.5 0.3-2.1 0.2-1.3 0.2-0.9 0.3-1.3 0.2-0.9 0.3-1.5 0.2-2 0.3-1.6 0.2-0.7 0.3-1.3 0.3-2.7 0.2-0.6 0.3-1.4 0.3-1.9 0.3-2.1 0.3-0.9 0.3-1.8 0.3-2.3 0.3-1.1 0.3-2.3 0.3-1.9 0.3-1.4 0.4-1.8 0.3-1.7 0.3-1.6 0.4-1.6 0.3-1.7 0.3-1.9 0.4-1.8 0.3-2.2 0.4-2.5 0.3-2.1 0.4-1.5 0.3-2 0.4-1.9 0.4-2.7 0.3-1.9 0.4-1.2 0.4-2.4 0.4-2 0.3-2.8 0.4-1.8 0.4-1.5 0.4-2.4 0.4-1.8 0.4-3.1 0.4-1.8 0.4-1.8 0.4-2.6 0.4-1.8 0.4-2.5 0.4-2.8 0.4-2.2 0.4-1.2 0.4-3.3 0.4-2.2 0.4-2.1 0.5-1.8 0.4-2.2 0.4-2.7 0.4-2.3 0.4-2 0.5-2.9 0.4-2.2 0.4-2 0.4-2.3 0.5-3.1 0.4-2.3 0.4-2.3 0.5-1.6 0.4-2.4 0.4-2 0.4-2.6 0.5-3 0.4-1.8 0.4-2.1 0.5-3.1 0.4-2.8 0.4-1.9 0.5-2.5 0.4-2.5 0.5-2.5 0.4-2.3 0.4-1.5 0.5-3.3 0.4-1.7 0.4-2.9 0.5-2.3 0.4-1.6 0.4-3 0.5-2.5 0.4-2 0.4-2.1 0.5-2.5 0.4-1.9 0.4-2.9 0.5-2.2 0.4-2 0.4-2.7 0.4-1.9 0.5-2.6 0.4-2.7 0.4-2.3 0.4-1.5 0.4-2.3 0.5-2 0.4-2.5 0.4-2.4 0.4-2.7 0.4-1.4 0.4-3 0.4-1.9 0.4-2.5 0.4-1.8 0.5-2.3 0.4-2 0.4-1.7 0.3-2.3 0.4-2.5 0.4-1.4 0.4-2.1 0.4-2 0.4-3 0.4-1.3 0.4-1.6 0.3-2.8 0.4-2 0.4-1.2 0.3-2.5 0.4-1.9 0.4-1.4 0.3-2.4 0.4-2 0.3-1.8 0.4-1.7 0.3-1.4 0.4-2.1 0.3-1.3 0.3-2.6 0.4-1.5 0.3-1.2 0.3-1.9 0.3-1.6 0.4-1.1 0.3-2.4 0.3-1.7 0.3-1.7 0.3-1 0.3-1.7 0.3-1.3 0.3-2 0.3-1.4 0.2-0.9 0.3-0.9 0.3-1.9 0.2-0.6 0.3-1.7 0.9-4.5 0.8-3.6 0.8-4.5 0.7-3.2 0.8-3.2 0.7-3.7 0.6-3.5 0.7-3.2 0.6-2.3 0.6-3.2 0.5-2.3 0.6-2.3 0.5-1.8 0.5-2.5 0.5-2.3 0.4-1.5 0.5-2.6 0.4-1.6 0.4-1.4 0.4-1.7 0.5-2 0.3-1.2 0.4-0.9 0.4-2 0.4-0.8 0.4-2 0.3-0.2 0.4-1.5 0.4-1.6 0.4-0.4 0.4-1.3 0.4-2.1 0.4-0.9 0.4-0.9 0.4-0.5 0.5-2.3 0.4-1.3 0.5-1 0.5-1.6 0.5-0.9 0.5-1.3 0.5-1.6 0.6-1.9 0.6-1.8 0.6-0.7 0.6-2.3 0.7-1.8 0.7-1.9 0.7-1.7 0.7-1.6 0.7-2.1 0.8-2.1 0.7-2.5 0.8-2.2 0.8-2.1 0.8-1.2 0.9-3 0.8-1.4 0.9-1.7 0.8-2.8 0.9-2 0.9-2.1 0.9-1.5 0.9-2.4 0.9-1.9 0.9-3.1 1-1.3 0.9-2.4 0.9-2.1 0.9-1.6 0.9-2.2 1-1.8 0.9-2.2 0.9-1.9 0.9-2.5 0.9-1.8 0.9-1.7 0.9-2.3 0.9-2.3 0.9-1.4 0.8-1.5 0.9-1.8 0.8-2.6 0.8-1.5 0.9-1.8 0.8-1.6 0.7-0.8 0.8-2.3 0.7-1.6 0.8-1.6 0.7-1.2 0.6-1.1 0.7-1.7 0.6-1.5 0.6-1.2 0.6-1.1 2.1-3.4 1.9-4.2 1.5-2 1.4-2.8 1.2-0.7 1-1.7 1-0.3 0.9-1.1 1-1.1 1-0.7 1.1 0 1.3-1.5 1.6-1.7 1.7-1.8 1.7-1.1 1.7-1.7 1.7-1.9 1.8-0.7 1.7-1.5 1.8-0.5 1.9-1.4 1.8-0.6 2.1-1.6 2.2 0 2.2-0.7 2.2-0.2 2.3-0.3 2.2-0.7 2.2 0 2.2 0.1 2.1-0.5 2 0.5 2 0.6 1.8 0.2 1.9 0.5 1.8 1 1.9 0.8 2 0 2 0.7 2.1 1.6 1.7 0.3 1.7 1.9 1.9 0.4 1.8 1.1 1.9 1.4 2 1.2 1.9 0.3 1.9 1.5 1.8 0.9 1.9 1.6 1.7 0.8 1.7 2.1 1.7 0.6 1.5 1.3 1.3 1.9 1.3 1.2 1.3 0.7 1.3 1.5 1.4 1.6 1.5 0.9 1.8 1.4 2 2.5 2.3 0.8 1.3 1.5 1.4 0.9 1.5 0.8 1.6 0.6 1.6 1.5 1.7 0.9 1.8 0.1 1.8 2 1.8 0.7 1.9 0.6 1.9 0.8 1.9 1 1.9 1.9 1.8 1.1 1.9 0.5 1.9 0.9 1.8 1 1.7 1.5 1.8 1 1.6 0.9 1.6 1.5 1.5 1.8 1.6 0.4 1.6 1.8 1.5 1.6 1.6 1 1.5 1.4 1.4 1.6 1.5 1.6 1.4 2.5 1.4 1.5 1.4 1.4 1.3 1.8 1.3 0.9 1.3 1.5 1.2 2.3 1.2 1.2 1.2 1.9 1.1 0.8 1.1 1.5 1.1 1.8 1 1.6 1.4 1 1 1.6 0.8 0.9 0.7 1.8 0.5 1.4 0.5 0.6 0.6 0.7 0.6 2 0.8 1.6 1.1 1.5 1.4 3.5 1.7 2.9 2.2 3.7 0.7 1 0.6 0.9 0.8 1.7 0.7 1.2 0.8 1.3 0.9 1.9 0.9 1.6 0.9 1.9 0.9 1.6 0.9 1.1 1 2 1 1.3 1 1.9 1.1 2 1 2.4 1.1 0.7 1.1 2.5 1.1 1.7 1.2 2.6 1.1 2.1 1.1 1.5 1.2 1.5 1.2 2.6 1.1 2.1 1.2 2.1 1.1 2.2 1.2 1.6 1.2 2.1 1.1 2.3 1.2 1.1 1.1 2.3 1.2 2.5 1.1 2.3 1.1 1.9 1.1 1.1 1.1 2.8 1.1 1 1.1 2 1 1.5 1 2.2 1 1.5 1 2 0.9 1.9 1 0.6 0.8 2.2 0.9 1.3 0.8 1 0.8 1.1 0.8 2.3 0.7 0.9 2 3.2 1.7 2.2 1.6 3.4 1.4 1.5 1.3 2 1.2 1.8 1.1 1.4 1 1.9 0.9 0.7 0.9 1.4 0.9 1.3 0.9 1.4 0.9 0.3 0.9 1.5 1 2.3 1.1 1.2 1.2 1.6 1 2.2 0.9 0.8 1 1.8 1 1.5 1 2.5 0.9 1.6 1 1.6 1 2 1 1.6 1 2.4 1 2 1 1.4 1.1 2.4 1 0.9 1 2.5 1 1.4 1 1.8 1 2.3 1 1.2 1 1.7 1 1.8 1 2 1.1 2.3 1.1 1.1 1.1 1.5 1 2.3 1.1 1.6 1 1.7 1 0.3 1 1.6 1.1 1.8 1 2.2 1.1 1 1.1 2 1.1 0.8 1.2 2.1 1.3 2.1 1.2 1.4 1.4 2.4 1.4 2.7 1.5 2.4 0.8 1.2 0.9 1.5 0.8 1.6 0.9 1 0.9 1.1 0.9 1.5 0.9 1.3 0.9 2.6 1 1.2 0.9 1.7 1 2 1 1.4 1 1.4 1 2 1 1.1 1 2 1.1 1.9 1 2.3 1.1 1.7 1 1.7 1.1 1.6 1 1.8 1.1 1.9 1.1 1.5 1.1 2.3 1 2.5 1.1 1.8 1.1 1.2 1.1 2.2 1.1 2.2 1 1.3 1.1 2.1 1.1 2.1 1.1 1.5 1 2.7 1.1 0.8 0.9 2.7 1 1.5 0.9 1.4 1 1.6 1 2.4 1 1.6 1 1.2 0.9 2 1.1 1.5 1 2.5 1 1.7 1 1.7 1 2.4 1 1.3 1.1 1.8 1 2.6 1 2.1 1 1.8 1.1 1.6 1 2.1 1 2 1 0.9 1 2.2 1.1 1.9 1 2.3 1 1.4 1 2.4 0.9 1.2 1 2.6 1 1.1 1 2 0.9 1.7 1 2 0.9 1.3 0.9 1.3 0.9 1.9 0.9 1.7 0.9 1 0.9 2.4 0.9 0.8 0.8 2.2 1.3 1.5 1.3 2.9 1.2 1.7 1.2 1.6 1.2 2.3 1.2 1 1.1 1.9 1.2 2.3 1.1 1.3 1.1 1.8 1 2 1.1 1.3 1.1 1.7 1 1.7 1 1.6 1.1 0.6 1 2.4 1 1.4 1 0.9 1 1.3 1 1.7 1.1 1.4 1 2.1 1 2.1 1.1 1 1 1.4 1.1 1.6 1.1 2.7 1 1.2 1 1.4 1.1 2.5 1 1.1 1 2.3 1 1.1 1 1.4 1 1.6 1 1.5 1 2.6 1 1.2 1 2.1 1.1 1.9 1 1.2 1 1.9 1 2 1.1 1.7 1.1 1.4 1.1 1.7 1.1 1.9 1.1 1.6 1.1 2.6 1.2 2 1 1.7 1 1.3 1.1 2.1 1 1.6 1.2 2.2 1.1 1.6 1.2 2.1 1.2 1.8 1.2 1.6 1.2 1.8 1.3 2.9 1.2 1.9 1.3 1.8 1.2 2.6 1.2 1.1 1.2 2.7 1.2 1.7 1.2 1.4 1.2 1.9 1.1 1.8 1.1 2 1.1 2.4 1 1.3 1 1.1 0.9 2.1 0.9 2 0.8 1.2 0.8 0.6 0.7 1.4 0.6 0.9 0.6 0.8" stroke="#EC008C" stroke-width="1.50" fill="none" stroke-linejoin="round"/>
<path d="M369.7 938.5l0.1-0.6 0-0.1-0.1 0.7-0.2-0.1-0.2 0.7-0.2-0.2-0.2 0.9-0.1 0.7-0.2-0.4 0 0 0-0.9 0.2-2.2 0.3-2.6 0.5-2.1 0.6-4.7 0.8-5.1 1.1-5.2 1.3-7.2 1.6-8.7 0.2-1 0.2-2 0.2-1.4 0.3-1.1 0.2-0.2 0.2-2.3 0.3-1.3 0.2-1.5 0.2-1.3 0.3-1.4 0.3-1 0.2-1.7 0.3-1.2 0.3-0.8 0.2-2.4 0.3-0.7 0.3-1.7 0.3-1.8 0.3-1.6 0.3-1.4 0.3-1.8 0.3-2.1 0.3-1.6 0.3-1.8 0.4-1.6 0.3-1 0.3-2.5 0.4-2.2 0.3-1.4 0.3-1.4 0.4-2.3 0.3-1.6 0.4-2.6 0.3-2 0.4-1.2 0.3-2.7 0.4-1.6 0.4-1.9 0.4-2.3 0.3-2.2 0.4-2 0.4-1 0.4-2.3 0.4-1.8 0.3-2.7 0.4-1.5 0.4-2.2 0.4-2.5 0.4-2.2 0.4-2.2 0.4-2.5 0.4-2 0.4-1.8 0.5-2.8 0.4-1.5 0.4-2.6 0.4-2.1 0.4-2 0.4-2.5 0.5-2.9 0.4-2.1 0.4-2.6 0.4-2.3 0.5-1.1 0.4-2.8 0.4-1.8 0.5-2.6 0.4-2.9 0.4-1.5 0.5-2.4 0.4-2.9 0.4-2.8 0.5-2.1 0.4-2.5 0.5-2.1 0.4-2.7 0.4-1.6 0.5-2.1 0.4-3.2 0.5-1.7 0.4-2.6 0.5-2.5 0.4-1.9 0.4-3 0.5-1.8 0.4-3.3 0.5-1.3 0.4-3.3 0.5-2.6 0.4-1.3 0.5-2.5 0.4-2.5 0.4-2.2 0.5-2.8 0.4-2.7 0.5-2.1 0.4-1.6 0.5-2.3 0.4-3.2 0.4-2 0.5-2.4 0.4-1.7 0.4-3.4 0.5-1.3 0.4-3 0.4-1.9 0.5-2.8 0.4-2.3 0.4-1.3 0.5-2.7 0.4-1.7 0.4-2.3 0.4-2.4 0.4-3 0.5-1.6 0.4-1.7 0.4-2.7 0.4-2.7 0.4-2 0.4-1.2 0.4-2.1 0.4-3 0.4-2 0.4-1.6 0.4-2.3 0.4-2.4 0.4-1.1 0.4-2.5 0.4-2.3 0.4-2.4 0.3-1.3 0.4-1.7 0.4-2.6 0.3-2 0.4-1.2 0.4-1.6 0.3-2.5 0.4-1.7 0.3-1.7 0.4-1.9 0.3-2.2 0.4-1.6 0.3-1.8 0.4-1.8 0.3-1.8 0.3-1.3 0.3-1.8 0.4-0.9 0.3-2.2 0.3-0.8 0.3-1.8 0.3-2.1 0.3-1.7 0.3-0.9 0.3-1.6 0.3-1.4 0.2-1.8 0.3-0.9 0.3-1.1 0.2-1.7 0.3-1.5 0.9-3.4 0.8-4.9 0.8-3 0.7-4 0.8-4.4 0.7-2.8 0.6-3.5 0.7-2.2 0.6-3.3 0.6-3.1 0.5-1.5 0.6-2.7 0.5-2.5 0.5-2.2 0.5-2.7 0.4-0.9 0.5-2.7 0.4-1.5 0.4-1.7 0.4-1.6 0.4-2.1 0.4-0.4 0.4-1.9 0.3-1.5 0.4-0.7 0.4-1.3 0.3-1.3 0.4-1 0.3-1.9 0.4-1.4 0.3-0.9 0.4-0.8 0.3-0.9 0.4-1.3 0.4-1.3 0.4-1.2 0.4-1.2 0.4-1.3 0.4-2 0.4-0.7 0.5-1.8 0.5-1.7 0.4-0.9 0.6-1.4 0.5-2.4 0.5-1.3 0.6-1.9 0.6-1.9 0.6-1.7 0.6-2.2 0.6-2.8 0.7-1.4 0.6-2.4 0.7-2 0.7-1.8 0.7-2.7 0.7-1.6 0.8-1.8 0.7-3.2 0.7-1.2 0.8-2.3 0.7-2.6 0.8-1.7 0.8-3 0.7-2.1 0.8-1.2 0.8-2.6 0.7-2.7 0.8-2.2 0.8-1.8 0.7-2 0.8-1.5 0.7-3.1 0.8-1.5 0.7-2.3 0.7-1.9 0.8-1.5 0.7-2.9 0.7-1.1 0.7-2 0.6-2.4 0.7-2 0.6-1 0.7-1.6 0.6-2.3 0.6-1.9 0.6-1 0.5-1.4 0.6-1.9 0.5-1.3 0.5-1.8 0.4-1.2 0.5-1.2 0.4-0.5 0.4-1.9 2.6-7 0.9-2.2 0.1-0.4 0.1 0.3 0.7-1 0.6-2.2 0.7-1.4 0.7-2.5 0.8-1.4 0.8-1.9 0.8-2.4 0.9-2.5 0.8-2.4 0.9-1.8 0.9-1.9 0.9-2.3 0.9-1.5 0.9-1.7 1-2.4 0.9-1.1 1-1.5 1-2.1 1-2.1 1-1.2 1.1-1.6 1-1.8 1.1-1.7 1.2-2 1.2-1.7 1.3-2.1 1.3-2.4 1.3-2 1.3-1.4 1.3-1.5 1.4-2.1 1.4-1.5 1.4-1.8 1.6-1.6 1.5-1.2 1.6-0.6 1.6-2.2 1.6-1.1 1.7-0.8 1.8-0.4 1.9-1.9 2-1.1 1.8-0.8 1.9-0.3 2-1.1 2.1 0.2 2.2-1.3 2.2-0.3 2.1-0.6 2.1-0.2 2-0.6 1.8-0.2 1.7-0.2 2.6-0.2 2.1 0.3 1.9-0.3 1.8 0 2.1 0.3 2.6 1.8 1.5 0.6 1.6 0.8 1.7 0.5 1.8 0.5 1.9 0.8 1.9 0.8 1.9 1.3 1.9 1 1.9 1.7 2 0.2 1.9 1.6 1.8 1.1 1.8 0.9 1.8 0.9 1.7 0.3 1.8 1.1 1.7 1.5 1.7 1.1 1.8 1.5 1.8 0.9 1.9 0.5 1.9 1.1 1.9 2 2.1 0.4 1.5 2.1 1.6 0 1.6 1.7 1.7 1.4 1.7 0.2 1.7 1.2 1.8 1.8 1.7 1.3 1.8 0.4 1.7 1.7 1.8 1.6 1.7 1.2 1.7 0.8 1.7 0.8 1.6 1.9 1.6 1.1 1.5 1 1.7 1.5 1.6 1.2 1.5 1 1.4 1.1 1.4 1 1.4 1.3 1.3 1.1 1.4 0.3 1.4 2.1 1.5 0.8 1.6 1.9 1.8 1.6 1.8 2.2 2.1 2.5 1 1.2 1 0.8 1 1.5 1.1 1.6 1.1 1.3 1.1 1.6 1.2 1 1.2 2.1 1.2 2 1.2 1.4 1.2 1.5 1.3 2 1.3 1.2 1.2 1.5 1.3 2.3 1.3 1.3 1.3 1.8 1.3 2.4 1.3 1.5 1.3 1.4 1.3 1.9 1.3 2.4 1.3 1.7 1.3 2.1 1.2 1.5 1.3 1.2 1.2 2.2 1.2 1.9 1.1 1.7 1.2 1.6 1.1 0.6 1.1 1.7 1.3 1.8 1.3 2.6 1.3 1.7 1.3 1.7 1.3 1.4 1.2 2.1 1.3 2.2 1.2 1.1 1.2 2.9 1.2 1.6 1.2 2 1.2 1.8 1.2 1.3 1.2 1.5 1.1 1.8 1.1 1.8 1.2 1.8 1.1 1.3 1 1.6 1.1 1.8 1.1 1.8 1 0.6 1 2.5 1 1.1 1 1.2 1 1.4 1.7 2.5 1.7 1.5 1.5 1.7 1.5 1.3 1.4 1.8 1.4 1.1 1.3 1.5 1.3 1.8 1.3 0.9 1.3 2 1.4 0.9 1.3 2 1.4 0.9 1.5 2.8 1.1 1.3 1.1 1.6 1.2 1.4 1.1 1.3 1.1 1.2 1.2 2.4 1.1 1.9 1.2 1.1 1.2 2.1 1.1 1.6 1.2 2 1.2 1.9 1.1 1.5 1.2 1.3 1.2 2.2 1.1 1.9 1.2 1.5 1.1 2.4 1.2 1.4 1 1.4 1.1 2 1 2.2 1.1 1.7 1 1.4 1 1.9 1.1 2.1 1 2 1 1 1.1 1.9 1 2.1 1.1 1.6 1 1.8 1 1.9 1.1 1.6 1 1.7 1 2.2 1.1 1.7 1 1.9 1.1 2.1 1 1.6 1.2 1.3 1.2 1.6 1.2 2.2 1.3 1.5 1.2 1.9 1.2 2 1.2 1.5 1.2 1.9 1.2 1.4 1.3 1.6 1.2 1.9 1.2 1.3 1.2 1.7 1.2 1.5 1.3 2.1 1.2 1.2 1.2 1.6 1.2 2 1.1 1.2 1.1 2.3 1.1 1.4 1.1 1.5 1.1 2.1 1 1.7 1.1 1.6 1.1 1.4 1.1 1.9 1.1 1.2 1.1 2.2 1.1 1.3 1.1 2.5 1.1 1.1 1 2 1.1 2.5 1.1 1.7 1.1 1.3 1.1 1.6 1.1 2.9 1 1.1 1 1.4 1.1 2.3 1 2.2 1.1 1.6 1.1 1.6 1 2.2 1.1 1.7 1.1 2.7 1.1 1.7 1 1.3 1.1 2.4 1 2.1 1.1 1.1 1 1.8 0.9 2.3 1 1.8 0.9 1.4 0.9 1.8 0.8 1.6 0.8 1.6 0.8 0.6 1.4 2.8 1.1 1.8 0.9 1.9 0.8 2.4 0.8 1.1 0.7 1.7 0.8 0.9 0.8 1.2 0.9 1.6 1.1 2.7 1.4 2.4 0.8 1.3 0.9 0.8 0.9 2.2 1 1.7 1 0.9 1 1.9 1.1 2.3 1 0.8 1.2 2.3 1.1 2 1.1 1.6 1.2 2.3 1.2 1.3 1.2 1.5 1.2 2.1 1.2 1.9 1.2 2.1 1.2 1.7 1.2 2.4 1.2 1.7 1.1 1.8 1 1.4 1.1 1 1.1 1.8 1.1 1.6 1.1 2.5 1.1 1.2 1.1 2.3 1.1 1.8 1.2 1.7 1.1 1.5 1.2 1.3 1.1 1.5 1.2 2.3 1.2 2.1 1.1 1.8 1.2 0.8 1.2 1.7 1.2 2.1 1.1 2 1.2 1.3 1.2 2.2 1.2 1.7 1.2 1.8 1.2 1.7 1.2 0.7 1.2 2.5 1.2 0.6 1.3 2.2 1.2 1.8 1.2 0.8 1.3 1.7 1.2 2.1 1.2 1.3 1.3 1.1 1.2 1.5 1.3 2.3 1.2 1 1.3 1.6 1.2 1.8 1.3 2 1.2 1.1 1.3 1.9 1.2 1.7 1.3 1.7 1.2 2.3 1.1 1.2 1.1 2 1.1 1.8 1.1 1.6 1.1 0.7 1.1 2.2 1.1 1 1.1 1.5 1.1 2.4 1.1 1.6 1.1 1.2 1.1 1.9 1.1 2.2 1.1 1.5 1.1 1.2 1.1 2.6 1.1 0.7 1.1 2.2 1.1 1.9 1.1 1.3 1.1 1.7 1.1 2.1 1 2.2 1.1 0.8 1 1.7 1.1 2 1 2.5 1.1 0.6 1 2.4 1 1.8 0.9 2.1 1 0.8 1 2.5 0.9 1.3 1 2.3 0.9 1.8 1 1.4 0.9 1.8 1 1.2 0.9 2 1 2.5 1 1.4 1 1.3 1 1.7 1 2.6 1 1.7 1 1.6 1.1 2 1.1 1.1 1.1 2.1 1.1 2.3 1.2 1.6 1.1 1.2 1.1 1.7 1.2 2.3 1.3 1.6 1.2 1.2 1.4 2 1.3 1.8 1.4 2 1.4 2 1.4 1.4 1.4 1.9 1.4 2.7 1.4 1.6 1.4 1.3 1.4 2.4 1.4 2 1.4 1.4 1.3 1.6 1.3 2.5 1.2 1.5 1.2 1.2 1.2 1.7 1.1 1.5 1 1.2 1 1 0.9 1.2 0.8 0.9 0.8 1.2 0.6 0.5" stroke="#EC008C" stroke-width="1.50" fill="none" stroke-linejoin="round"/>
<path d="M362.7 939.1l0.1-0.7 0 0-0.1-0.6-0.2 0.8-0.2 0.7-0.2 0.6-0.1-0.5-0.2 0.8-0.1 0-0.1-0.6 0.1-0.3 0.2-2.1 0.3-2.3 0.4-2.4 0.7-4.3 0.8-5.4 1-6 1.3-7.1 1.6-9.2 0.2-0.5 0.2-1 0.2-1.5 0.2-0.7 0.3-1.2 0.2-1.7 0.2-1.1 0.3-2 0.2-1.5 0.3-0.2 0.2-2.3 0.3-1.5 0.3-0.6 0.2-1.7 0.3-2.2 0.3-1.3 0.3-1.7 0.3-1.5 0.3-2 0.3-1 0.3-1.9 0.3-1.5 0.3-2 0.3-1.8 0.3-1.8 0.3-0.8 0.4-1.9 0.3-2 0.3-2.4 0.4-1.8 0.3-1.9 0.4-1.6 0.3-2.3 0.4-1.6 0.3-2 0.4-2 0.3-1.4 0.4-2.2 0.4-2 0.3-2.2 0.4-1.8 0.4-1.8 0.4-2.6 0.4-2.4 0.4-1.6 0.3-2.2 0.4-1.6 0.4-3 0.4-1.2 0.4-3.2 0.4-1.5 0.4-2.3 0.4-2.4 0.5-1.5 0.4-2.5 0.4-2.8 0.4-1.9 0.4-2.1 0.4-2.9 0.4-2.2 0.5-1.7 0.4-2.1 0.4-2.6 0.4-2.4 0.5-2.2 0.4-2.6 0.4-1.6 0.5-2.2 0.4-2.9 0.4-2.9 0.5-1.9 0.4-1.8 0.4-3 0.5-2.6 0.4-2.2 0.4-1.8 0.5-2.4 0.4-2.8 0.5-2 0.4-2.2 0.4-2.1 0.5-2.5 0.4-2.9 0.5-1.9 0.4-2.2 0.4-2.4 0.5-2.5 0.4-2.6 0.5-2.5 0.4-1.9 0.4-2.7 0.5-2.2 0.4-2.9 0.5-2.6 0.4-2.1 0.4-2 0.5-2.3 0.4-2.8 0.4-2.3 0.5-1.4 0.4-3.4 0.4-1.3 0.5-2.5 0.4-2.5 0.4-1.8 0.4-2.7 0.5-3 0.4-1.2 0.4-2.9 0.4-1.6 0.4-2.4 0.5-3 0.4-2.3 0.4-2.3 0.4-1.2 0.4-2.2 0.4-2.9 0.4-2.3 0.4-1.8 0.4-1.6 0.4-2.2 0.4-1.9 0.4-2 0.4-2.4 0.4-1.9 0.4-3 0.3-2.1 0.4-1 0.4-2.3 0.4-2.3 0.3-2.2 0.4-1.7 0.4-1.9 0.3-1.7 0.4-2 0.3-2.2 0.4-2 0.3-1.7 0.4-1.9 0.3-1.8 0.3-1.4 0.4-2.1 0.3-0.9 0.3-2 0.3-1.8 0.3-1.5 0.3-2.1 0.3-1.9 0.3-1.5 0.3-1.3 0.3-1.5 0.3-1.6 0.3-1.5 0.3-0.8 0.3-2.5 0.2-0.9 0.3-1.4 0.3-1.5 0.2-0.8 0.3-1.9 0.2-1.5 0.8-4.3 0.8-3.1 0.7-4.7 0.7-4 0.7-2.6 0.6-3.7 0.6-2.9 0.6-3.8 0.5-2.3 0.5-3.6 0.5-2.4 0.4-1.8 0.5-2.6 0.4-1.9 0.3-2.6 0.4-1.4 0.3-2.8 0.4-1.1 0.3-2.2 0.3-1.6 0.3-0.7 0.2-2 0.3-1 0.3-2 0.2-0.7 0.3-1.1 0.2-1.6 0.3-1.6 0.2-0.7 0.3-0.8 0.2-1.4 0.3-1.6 0.3-1.2 0.2-1.6 0.3-0.4 0.3-2 0.3-1.2 0.4-1.6 0.3-1.2 0.4-1.2 0.4-1.4 0.4-1.9 0.4-1.4 0.5-1.3 0.5-2.6 0.5-1.9 0.5-1.5 0.6-1.5 0.5-1.9 0.6-2.5 0.6-2.5 0.6-1.1 0.6-2 0.6-2.1 0.7-2.6 0.6-2.2 0.7-1.9 0.6-1.9 0.7-1.9 0.7-2.7 0.7-2.1 0.7-2.4 0.7-1.9 0.7-2.1 0.7-2.4 0.7-1.9 0.8-1.6 0.7-2.9 0.7-2.1 0.7-2 0.7-1.4 0.7-2.8 0.7-1.4 0.7-1.9 0.7-2 0.7-2.1 0.7-2.7 0.7-1.6 0.7-1.4 0.6-2.6 0.7-1.4 0.6-1.4 0.6-1.7 0.6-2.4 0.6-2 0.6-1.7 0.6-1.3 0.5-1.2 0.6-1.8 0.5-0.8 0.5-1.7 0.4-1.3 0.5-1.1 0.4-1.8 1.4-3.7 1.2-3.7 1-2.8 0.9-2.5 0.7-1 0.7-1.3 0.5-2.3 0.5-0.3 0.5-1.8 0.5-0.6 0.5-1.3 0.5-0.6 0.7-2.3 0.8-1.9 0.7-2.2 0.7-2.2 0.8-2 0.7-2.3 0.7-2 0.7-1.4 0.7-1.8 0.7-2.1 0.8-2.4 0.7-1.1 0.7-3 0.8-1.7 0.8-2.1 0.7-2.3 0.8-1.1 0.8-2.3 0.8-2.7 0.7-1.9 0.8-1.2 0.9-2.4 0.8-2 0.9-1.9 0.9-1.9 0.9-1.5 1-2.2 0.9-1.5 1-2.4 1-1.2 1-1.7 1-2.1 1.1-1.1 1-1.6 1.1-2 1.2-2.2 1.2-2.1 1.3-1.2 1.3-2.2 1.3-1.9 1.3-1.3 1.3-2.1 1.4-1.2 1.4-1.5 1.4-2.6 1.4-0.9 1.5-2.2 1.5-1.6 1.5-1.2 1.5-1.3 1.5-2.4 1.6-1 1.6-1.9 1.6-0.5 1.6-2.1 1.8-0.5 1.9-1.5 2-0.2 1.9-0.3 2-0.3 2-0.7 2-0.7 1.9-0.6 2-0.1 2.1-0.6 2.1-0.6 2-0.4 2-0.4 2.1-0.2 2.2-0.8 2.4 0.1 2.6-0.3 1.8-0.5 1.9 0.5 2-0.5 2.1 0.6 2.2 0.2 2.3 0.1 2.2 0.2 2.2 0 2.1 0 2.1 0 1.9 0.7 1.8 0.7 1.6-0.3 2.5 0.7 1.9 1.7 1.6 1.4 1.5 0.5 1.5 1.3 1.8 1.4 2.3 2.1 1.5 1.1 1.5 0.2 1.7 1.5 1.8 0 1.8 1.2 1.9 1.3 1.9 1.2 1.9 0.7 1.9 1.3 1.9 0.6 1.9 1 1.8 1.3 1.8 0.4 1.7 1.3 1.7 1.2 1.8 1.4 1.6 0.6 1.7 1.1 1.7 2 1.7 0.7 1.6 0.8 1.7 1.7 1.7 1.2 1.7 1.4 1.6 1.1 1.7 1.5 1.4 0.7 1.3 1.7 1.4 1.3 1.4 1.2 1.3 1.6 1.4 2.1 1.3 0.7 1.4 1.4 1.4 1.9 1.3 1.4 1.4 1.4 1.3 2.6 1.4 1.2 1.4 1 1.3 2.2 1.4 1.1 1.3 1.9 1.3 2 1.3 1.6 1.2 0.8 1.3 1.9 1.3 1.2 1.3 1.1 1.3 1.9 1.3 2 1.3 1.5 1.3 1.5 1.3 1.9 1.3 0.9 1.2 1.9 1.3 1.8 1.3 1.7 1.3 1.5 1.3 1.7 1.3 0.9 1.3 1.7 1.2 1.9 1.3 1 1.3 1.8 1.3 1.7 1.3 1.5 1.3 1.6 1.3 2.2 1.2 1.3 1.3 1.3 1.3 2.7 1.3 1.9 1.3 0.9 1.2 2.3 1.3 1.1 1.1 1.7 1.1 1.6 1.1 2.2 1.1 1.6 1.1 2.1 1.2 1.5 1.1 1.9 1.1 1.9 1.2 1.5 1.1 1.3 1.1 1.7 1.1 2.6 1.1 1.8 1 1.5 1.1 2.1 1 1.5 0.9 1.1 1 1.4 0.9 1.8 0.9 2.1 1.2 2 1.1 1 1 2 1 2.4 1 2.5 0.9 1.8 0.8 1.7 0.9 0.8 0.8 1.9 0.9 2.4 0.9 1.2 0.8 1.5 0.9 2.4 1 0.4 1.3 2.5 1.2 2.3 1.3 1.5 1.3 1.9 1.3 0.8 1.4 2 1.3 2 1.3 0.6 1.3 2 1.2 2.4 1.3 0.8 1.1 2.5 1.2 1.7 1.1 1.3 1.1 2.7 1.1 1.7 1.2 1.1 1.1 2.9 1 1.8 1.1 1.3 1.1 1.3 1 2.7 1 1.4 1.2 2.1 1.1 1 1.1 2.3 1.1 2.1 1.1 1.6 1 1 1.1 1.8 1.1 1.9 1 1.7 1.1 2.5 1 1.6 1 0.6 0.9 2.4 1 1.2 1 2.6 1 1.4 0.9 2.2 1 1.8 1 1.9 1.1 1 1 1.8 1 2.7 1 1.5 1.1 2.3 1.1 1.7 1 2 1.1 2.4 1.1 1.6 1 2.1 1 1.9 1 2.1 0.9 1.1 0.8 2.1 1.2 2.5 0.9 2.3 0.8 2.1 0.7 1.2 0.8 2.5 0.9 1.7 1.2 1.9 0.9 1.7 0.9 1.3 0.9 1.8 0.9 0.8 1 2.6 1.1 1.1 1.2 1.3 1.2 2.1 1.3 2.4 1.5 2.2 1.5 3.2 0.8 0.8 0.9 2.1 0.9 0.7 0.9 1.5 0.9 2.3 1 1.5 1 1.7 1 0.7 1.1 1.7 1 2.5 1.1 1.3 1.1 1.5 1.1 1.9 1.1 2.1 1.1 1.9 1.1 2.3 1.2 2.3 1.1 1 1.1 2.7 1.2 1.8 1.1 2.3 1.1 2.2 0.9 1.5 0.9 0.7 0.9 2.5 0.9 1.8 0.9 1.3 1 1.4 0.9 2.7 1 1.7 0.9 2 1 1.9 1 1.9 0.9 1.1 1 3 1 2 0.9 1.2 1 2.4 1 2.1 0.9 1.3 1 1.7 0.9 2.2 1 2 0.9 1.4 0.9 2.1 1 2 0.9 1 0.9 2.2 0.8 0.7 0.9 2 1.2 2.4 1.2 1.5 1.2 1.7 1.1 1.8 1.2 1.8 1.1 1.7 1 1.6 1.1 1.4 1.1 1.9 1 1.1 1.1 1.6 1.1 1.7 1.1 2.1 1.1 0.9 1.2 1.5 1.1 2.4 1.3 1.6 1.2 1.3 1.3 3.1 1 0.6 1 2.1 1 1.1 1 2.3 1.1 1.2 1 2 1.1 1.9 1.1 1.7 1.1 1.3 1.1 1.7 1.2 2.2 1.1 1.8 1.1 2 1.2 1.1 1.1 1.8 1.1 1.8 1.2 2.8 1.1 1.1 1.1 2.6 1.2 1.4 1.1 2.5 1.1 1.4 1.1 2 1.1 0.9 1 2.7 1.1 1.2 1.1 1.3 1.1 2.8 1 1 1 2.3 1.1 1 1 2.3 1 1.8 1 1.7 1 2.2 1 1.1 1 2.5 1 0.8 1 2.7 1 0.9 1.1 2.2 1 2.1 1 1.4 1 1.9 1.1 0.9 1.1 2.7 1.1 0.7 1.1 2.5 1.1 1.9 1.1 1.7 1.2 1.7 1.1 1.4 1.1 2.1 1.2 0.7 1.1 2.5 1.2 1.5 1.2 0.9 1.2 1.9 1.3 1.6 1.2 1.3 1.3 2.4 1.2 1.7 1.3 1.5 1.2 0.7 1.3 2.5 1.3 1.8 1.2 1.4 1.3 1.9 1.2 1.7 1.3 1.3 1.2 1.6 1.3 1.1 1.2 2.2 1.2 1.1 1.2 1.6 1.2 1.7 1.2 1.6 1.1 1.2 1.2 1.9 1.1 1.8 1.2 1.7 1.1 1.5 1.2 2.6 1.1 1.8 1.1 1.2 1.1 2.2 1.1 1.9 1.1 0.7 1.1 2.4 1.1 1.8 1.1 1.2 1.1 2.6 1.1 1.7 1 1.3 1.1 1.7 1.1 2.1 1 0.7 1.1 2.6 1 1.2 1.1 1.3 1 1.6 1.1 1.8 1 1 1.1 2.4 1.3 1.3 1.3 2.3 1.3 1.8 1.2 1.6 1.3 0.8 1.3 1.8 1.2 2.1 1.3 2 1.2 1.1 1.3 1.3 1.2 2 1.2 1.1 1.3 1.7 1.2 1.3 1.3 2.1 1.2 1 1.2 0.9 1.3 2.1 1.2 1.1 1.3 1.2 1.2 1.8 1.4 1.3 1.5 2.5 1.5 0.8 1.6 2.1 1.6 1 1.6 2.1 1.6 2.1 1.6 1.5 1.6 1.8 1.5 1.5 1.5 1.6 1.5 1.1 1.4 2.2 1.3 1 1.2 0.5 1.1 2.1 1 0.3 0.9 1.2 0.8 1.1" stroke="#EC008C" stroke-width="1.50" fill="none" stroke-linejoin="round"/>
<path d="M358.7 939l0.1-0.6 0 0-0.1 0.1-0.2 0.4-0.2-0.2-0.1 1.2-0.2-0.2-0.2 0.1-0.1-0.3 0 0.1 0-1.3 0.2-1.4 0.3-1.8 0.4-2.8 0.7-4 0.8-5.7 1.1-6.1 1.2-7.1 1.6-8.3 0.2-0.8 0.2-1.2 0.2-1 0.2-1.7 0.3-1.1 0.2-1.7 0.2-1.3 0.3-1.4 0.2-1 0.3-1.3 0.2-1.4 0.3-1.7 0.3-1.4 0.2-1.7 0.3-0.8 0.3-1.8 0.3-1.4 0.2-1.5 0.3-2.2 0.3-1.9 0.3-1.4 0.4-0.9 0.3-1.9 0.3-2.1 0.3-1.3 0.3-2.3 0.3-1.2 0.4-2.7 0.3-1.1 0.3-1.5 0.4-2.5 0.3-1.9 0.4-2.3 0.3-1.7 0.4-2 0.4-1.9 0.3-2.2 0.4-1.7 0.4-2.3 0.3-1.5 0.4-2.2 0.4-2.2 0.4-1.2 0.3-2.9 0.4-1.8 0.4-1.7 0.4-2.3 0.4-1.8 0.4-2.6 0.4-1.9 0.4-3.1 0.4-1.4 0.4-2.7 0.4-2.2 0.4-1.7 0.4-2.2 0.5-2.8 0.4-2.2 0.4-2.3 0.4-1.5 0.4-2.7 0.5-2.7 0.4-1.9 0.4-2.9 0.4-2.1 0.5-2 0.4-1.8 0.4-2.4 0.4-2.7 0.5-2.1 0.4-2.9 0.4-1.9 0.5-1.9 0.4-3.4 0.5-1.4 0.4-2.3 0.4-3.1 0.5-1.9 0.4-2.1 0.4-3.4 0.5-2 0.4-2.2 0.5-2.1 0.4-3 0.4-1.8 0.5-2.4 0.4-2.2 0.5-2.5 0.4-2.2 0.4-2.7 0.5-2.5 0.4-2.4 0.5-2.4 0.4-2.3 0.4-2.3 0.5-2.5 0.4-2.6 0.4-2.1 0.5-1.6 0.4-3.1 0.4-1.5 0.5-2.5 0.4-2.8 0.4-2.5 0.4-1.5 0.5-2.2 0.4-3.1 0.4-1.8 0.4-2.2 0.4-2.4 0.5-2.8 0.4-2.1 0.4-1.6 0.4-2.3 0.4-2.2 0.4-2.6 0.4-1.5 0.4-2.3 0.4-2.5 0.4-1.6 0.4-2.8 0.4-1.8 0.4-2.2 0.4-1.5 0.4-2.1 0.3-2.8 0.4-1.5 0.4-2.6 0.4-1.2 0.3-2 0.4-2.2 0.4-2.8 0.3-1.6 0.4-2 0.3-1.5 0.4-2.5 0.3-1.8 0.4-1.8 0.3-0.9 0.3-2.1 0.4-1.5 0.3-1.6 0.3-2.2 0.3-1.4 0.4-2.2 0.3-1.4 0.3-2.2 0.3-1.3 0.3-2 0.3-1.1 0.3-1 0.3-1.5 0.2-1.8 0.3-2.3 0.3-0.3 0.2-2 0.3-1.2 0.3-1.7 0.2-0.9 0.3-1.8 0.2-1.6 0.8-3.9 0.8-4.5 0.7-3.9 0.7-3.7 0.7-3 0.6-3.4 0.6-3.8 0.5-2.4 0.6-3.7 0.5-1.7 0.4-3.4 0.5-2.1 0.4-2.5 0.4-1.6 0.4-2.6 0.3-2.3 0.4-1.1 0.3-2.1 0.3-2 0.3-1.1 0.2-1.3 0.3-1.7 0.3-1.3 0.2-1.9 0.3-1.4 0.2-1.5 0.2-0.2 0.3-2 0.2-1.1 0.2-0.6 0.3-2 0.2-0.2 0.3-1.6 0.2-1.7 0.3-0.5 0.3-1.4 0.2-2 0.3-0.8 0.4-1.1 0.3-2 0.3-1.4 0.4-1 0.4-2.5 0.4-1.6 0.4-2 0.5-1.5 0.5-2 0.5-2.2 0.5-2.2 0.5-2 0.5-1.3 0.5-2.3 0.6-1.8 0.5-3 0.6-1.1 0.6-2.4 0.6-2.3 0.6-1.8 0.5-3.1 0.6-1.5 0.7-2.5 0.6-2.5 0.6-1.3 0.6-3 0.6-1.3 0.6-2.7 0.7-1.5 0.6-3.1 0.6-1.6 0.6-1.5 0.6-2.6 0.6-2 0.6-2.2 0.7-1.9 0.5-2.2 0.6-2.2 0.6-1.9 0.6-1.3 0.6-2.5 0.5-1.5 0.6-1.5 0.5-1.9 0.5-1.8 0.5-1.7 0.5-2 0.5-1.8 0.5-2.2 0.5-1.6 0.4-1.2 0.4-1.3 0.4-1.4 0.4-2 0.4-0.6 1.1-4.1 0.9-3.3 0.7-3.2 0.7-1.7 0.6-2.2 0.5-2 0.4-2.5 0.4-1.6 0.4-0.4 0.3-1.8 0.4-0.9 0.3-2.1 0.4-1.1 0.5-2.5 0.5-2 0.6-1.3 0.5-2.1 0.6-2.5 0.6-1.8 0.6-2 0.6-2.6 0.6-2.3 0.6-1.6 0.6-2.3 0.5-1.2 0.6-2.9 0.6-1.6 0.6-2.4 0.6-1.7 0.6-2.2 0.7-2.1 0.6-1.5 0.7-2.1 0.6-2.1 0.6-1.6 0.7-2.1 0.6-2.5 0.7-1.5 0.7-2.2 0.6-1.9 0.7-2.6 0.8-1.2 0.7-2.3 0.7-2.5 0.7-2.1 0.8-1.4 0.7-1.6 0.8-2.3 0.7-1.8 0.8-1.4 0.8-2.5 0.8-2.2 0.8-1.4 0.9-1.9 0.8-1.5 0.8-2.5 0.9-0.9 0.9-1.8 1-2.2 1-2.2 1-2.3 1-2.1 1-1.2 1-1.6 1.1-2.6 1-1.2 1-1.6 1.1-1.9 1-2 1-1.4 1.3-2.5 1.2-1.7 1.3-2.2 1.2-1 1.3-2.4 1.2-0.9 1.3-1.8 1.4-2.2 1.4-1.9 1.5-1 1.3-1.9 1.4-1.2 1.5-1.3 1.5-2.3 1.5-1.8 1.5-1.1 1.6-1.4 1.5-1.7 1.5-2 1.5-0.8 1.4-1 1.3-0.7 2-2.2 1.9-1.1 1.7-0.8 1.7-0.2 1.7-1.1 1.9 0.2 2.2-0.7 1.9-0.3 2-0.9 2.2 0.7 2.2-0.7 2.3-0.1 2.3-0.2 2.3 0.7 2.3 0 2.2-0.1 2.2 0.4 2.2-0.5 2.2 1 2.2 0 2.2 0.4 2.2 0.6 2.2-0.4 2.1 0.4 2.1 0.7 2 1.6 1.9 0.1 1.9 0.1 1.8 1.5 1.8 1 1.9 0.2 2 1.3 2 0.8 2.2 1.5 1.6 0.6 1.7 1 1.7 1.4 1.8 1.2 1.8 1.4 1.8 0.3 1.9 2 1.9 0.5 1.8 1.3 1.9 1.2 1.8 1.1 1.8 1.5 1.8 1.6 1.6 1.3 1.6 1.2 1.7 0.6 1.6 1.1 1.6 1.1 1.6 1.8 1.6 1 1.6 1 1.6 1.6 1.5 1.8 1.5 1.2 1.5 1.1 1.5 0.9 1.4 1.8 1.8 1 1.6 1.2 1.7 1.2 1.6 1.4 1.5 1.3 1.5 1.2 1.6 1.4 1.5 1.4 1.5 1.3 1.5 1.4 1.6 1.8 1.2 1.7 1.3 2.1 1.2 0.4 1.2 2.8 1.3 1 1.2 1.2 1.2 2.2 1.2 1.6 1.3 1.5 1.2 2.7 1.3 1.7 1.3 2.2 1.3 1.2 1.3 2.5 1.1 1.6 1.1 1.2 1.1 1.5 1.1 1.3 1.2 2.2 1.1 1.4 1.1 1.9 1.2 1.1 1.2 1.5 1.1 1.9 1.2 1.7 1.2 2.2 1.2 1.5 1.2 1.9 1.2 2.1 1.2 1 1.2 1.9 1.2 1.9 1.3 0.9 1.2 2.6 1.3 1.2 1.3 1.5 1.3 2.2 1.3 1.2 1.3 1.7 1.3 1.9 1.3 1 1.3 1.3 1.3 2.4 1.3 1.7 1.3 1.1 1.3 1.7 1.3 2.6 1.3 0.9 1.1 1.8 1.2 2.4 1.1 2.1 1.2 1.6 1.2 1.7 1.2 2.2 1.3 1.4 1.2 1.7 1.2 2.8 1.2 1.4 1.1 2.3 1.2 1.7 1.1 1.9 1.1 1.4 1 1.8 1 1.8 1 2.1 0.8 0.4 0.9 1.9 0.7 0.8 1.9 3.2 0.8 1.8 0.5 0.1 0.9 1.1 2.3 3.7 0.7 1.5 0.9 1.1 0.8 1.3 1 1.3 0.9 1.8 1.1 1.3 1 0.8 1.2 2.3 1.1 1.6 1.2 1.9 1.2 1.4 1.2 1.9 1.3 2.4 1.3 1.4 1.2 2.4 1.3 1.8 1.3 1.2 1.3 2.3 1.3 1.8 1.2 2.6 1.3 1.1 1.2 1.7 1.2 2.9 1 1.1 1.1 1.7 1 2 1 1.9 1.1 1 1.1 2.9 1.1 1.2 1.1 2.4 1 0.9 1.1 2.8 1.1 1.1 1.1 2.6 1.1 1.1 1.1 2.9 1.1 1.4 1.1 1.7 1.1 1.6 1 2.2 1.1 2 1 1.9 1.1 2.1 1 1.7 1 1 1 2.5 1 1.1 1 1.5 0.9 1.9 1.4 2.2 1.3 1.7 1.4 2.2 1.2 1.5 1.3 1.6 1.3 1.5 1.2 2.1 1.2 2 1.2 1.3 1.2 0.8 1.2 1.6 1.1 2.1 1.2 1.8 1.1 1.5 1.2 1.5 1.1 1.9 1.1 1 1.2 1.6 1.1 2.1 1.1 1.4 1.1 2.1 1 1 1.1 1.2 1 1.4 1 1.8 1 1.9 1 1.7 1 1.7 1 1 1.1 1.9 1.1 1.9 1.1 1.1 1.2 1.8 1.1 2.2 1.3 2.2 1.3 2.5 0.9 1.9 0.9 1.5 0.9 1.1 1 2 1 1.3 1 2.6 1 0.7 1 2.8 1.1 2.1 1.1 1.9 1.1 1 1.1 2.7 1 2.1 1.1 1.7 1.1 2 1.1 2.1 1.1 2.1 1.1 2.1 1.1 0.9 1 2.6 1.1 1.6 1 2.2 1 1.1 1 2.5 0.9 0.9 0.9 1.5 0.9 1.5 0.9 1.2 1.4 2.3 1.4 2.4 1.4 2.7 1.3 0.8 1.2 2.3 1.3 1.6 1.1 1.2 1.2 1.6 1.1 1.3 1.1 1.8 1.1 1.9 1.1 1.2 1 1 1.1 1.3 1 2.5 1.1 1.2 1 1.5 1 2.3 1 1.5 0.9 2.2 0.9 0.9 0.9 2.2 0.8 2 0.9 1.6 0.9 1.8 0.8 2.6 0.9 2 0.9 0.9 1 3 1 1.6 1 2.1 1.1 2.5 0.8 0.7 0.9 1.9 0.8 1.1 0.9 2.5 0.9 1.2 0.8 1.6 0.9 2.4 0.9 1.7 0.9 1.7 0.9 1.6 1 1.9 0.9 1 1 2.4 1 1.6 1.1 2.2 1 1.4 1.1 2.7 1.2 0.9 1.1 1.9 1.2 1.9 1.3 2 1 2.4 1.1 0.4 1 2.1 1.1 1.5 1.2 1.4 1.2 2.5 1.1 1.3 1.3 0.8 1.2 2.1 1.2 2.4 1.3 1.3 1.3 2 1.3 1 1.3 1.7 1.3 1.4 1.3 2.6 1.2 1.4 1.3 2.1 1.3 1.4 1.3 1.4 1.3 2 1.2 0.8 1.3 2.4 1.2 1.1 1.2 1.6 1.2 1.1 1.1 2 1.4 1.4 1.4 2.1 1.4 1.2 1.4 2.6 1.4 0.9 1.4 2.2 1.4 1.5 1.4 2.1 1.4 0.9 1.3 1.7 1.4 2.2 1.3 1.7 1.3 1.1 1.3 1.8 1.3 1.2 1.2 1.9 1.2 1.3 1.2 1.3 1.1 1.8 1.1 1.4 1.1 1.3 1 0.9 1.6 2.7 1.3 1 1.2 2.6 1 1.7 0.9 0.4 0.9 1.9 0.9 1.6 0.9 0.7 1 1.6 1.1 2.3 1.3 1.2 1.5 2.4 1.7 1.4 1 1.4 1.1 1.7 1.2 1.7 1.2 1.5 1.2 0.8 1.3 1.9 1.3 1.3 1.3 1.4 1.4 1.5 1.4 1.5 1.5 2 1.4 1.1 1.5 2.3 1.4 1.1 1.5 2.2 1.5 1.4 1.5 1.9 1.5 1.4 1.5 2.2 1.4 1.8 1.5 0.6 1.4 2.2 1.4 1 1.4 1.5 1.4 2.3 1.5 1.8 1.4 1.3 1.4 1 1.4 1.6 1.5 2 1.4 1.6 1.4 1.4 1.4 1.8 1.5 1.7 1.4 1.5 1.4 1.1 1.4 1.2 1.5 2.5 1.4 0.5 1.4 2.6 1.5 0.4 1.4 1.8 1.4 1.4 1.4 2.1 1.5 1.3 1.4 1.1 1.4 1 1.7 2.3 1.6 0.9 1.7 2.1 1.7 0.8 1.7 1.5 1.8 1 1.7 1.6 1.7 1.9 1.7 1.2 1.7 1 1.7 1 1.7 1 1.7 1.9 1.6 1.1 1.6 0.8 1.6 1.8 1.5 0.8 1.5 1.9 1.4 0.8 1.4 1.6 1.7 1.5 1.6 1.2 1.6 1.9 1.5 2.1 1.5 1 1.4 1.8 1.4 2.1 1.4 1.3 1.3 1.9 1.3 1.1 1.3 1.7 1.2 1.9 1.2 0.8 1.2 1.1 1.1 0.9 1.2 0.9 2.6 2.7 2.6 1 2.4 0.1 2.2 0.8 2 0.7 1.6 0.6 1.3-0.1" stroke="#EC008C" stroke-width="1.50" fill="none" stroke-linejoin="round"/>
<path d="M354.4 939.1l0.1-0.5 0-0.3-0.1 0.2-0.1-0.4-0.2 1.3-0.2 0-0.2 0.7-0.1 0.3-0.1 0.1 0-1.2 0-0.8 0.2-1 0.3-2.4 0.4-2.8 0.7-4.4 0.8-4.3 1-7.2 1.3-6.5 1.5-9.1 0.2-1.5 0.2-0.4 0.2-1.9 0.2-1 0.2-1.1 0.3-1.5 0.2-1.3 0.2-1.4 0.3-0.4 0.2-2.3 0.3-1.3 0.2-1.6 0.3-0.4 0.2-1.9 0.3-1.2 0.3-1.4 0.3-2.1 0.2-1.7 0.3-1.6 0.3-1.8 0.3-1.2 0.3-1.3 0.3-2.2 0.3-1.4 0.3-1.6 0.3-1.8 0.4-2 0.3-2 0.3-2.3 0.3-1.5 0.4-1.3 0.3-2.4 0.3-1.6 0.4-2.4 0.3-1.6 0.4-2.4 0.3-1.3 0.4-1.9 0.4-3 0.3-1.2 0.4-2.7 0.4-1.1 0.3-3 0.4-2.1 0.4-1.2 0.4-2.4 0.3-2.9 0.4-1.5 0.4-1.8 0.4-2.9 0.4-1.5 0.4-2.7 0.4-2 0.4-2.3 0.4-2.6 0.4-1.9 0.4-2 0.4-2.2 0.4-2.3 0.4-2.7 0.4-1.8 0.4-2.6 0.4-1.6 0.4-3.3 0.5-1.5 0.4-3.1 0.4-1.7 0.4-2.6 0.4-2.2 0.4-2.1 0.5-2.2 0.4-3.3 0.4-1.3 0.4-2.6 0.5-3 0.4-1.7 0.4-2.2 0.4-2.9 0.5-1.7 0.4-3.3 0.4-2 0.5-2.6 0.4-1.7 0.4-3 0.4-2.4 0.5-1.5 0.4-3.1 0.4-2.3 0.4-2 0.5-3 0.4-1.6 0.4-2.5 0.5-2.6 0.4-2 0.4-2.3 0.4-3.2 0.5-1.3 0.4-2.9 0.4-2 0.4-2.5 0.4-1.9 0.5-2.6 0.4-2.9 0.4-2.4 0.4-2 0.4-2.5 0.4-2.3 0.4-1.9 0.4-2.3 0.5-2.3 0.4-1.8 0.4-3 0.4-1.9 0.4-2.2 0.4-1.9 0.4-1.9 0.3-2.5 0.4-2.9 0.4-1.4 0.4-2.4 0.4-2.1 0.4-1.9 0.4-2.5 0.3-1.4 0.4-2.6 0.4-2 0.4-1.8 0.3-2.6 0.4-1.7 0.3-1.2 0.4-3 0.4-1.6 0.3-1.5 0.4-2.3 0.3-1.7 0.3-1.6 0.4-1.9 0.3-2.3 0.3-1.9 0.4-2.2 0.3-0.9 0.3-2.5 0.3-1.3 0.3-2.1 0.4-1 0.3-2 0.3-2.1 0.3-1 0.2-2.2 0.3-1.3 0.3-1.6 0.3-0.9 0.3-1.7 0.2-2 0.3-1.3 0.3-1.3 0.2-0.9 0.3-1.9 0.2-0.9 0.3-2.1 0.2-1.3 0.8-3.5 0.8-4.7 0.7-4.3 0.7-3.5 0.6-3.3 0.6-3.8 0.6-2.9 0.6-2.3 0.5-4 0.5-2.4 0.5-2.6 0.5-2.7 0.4-1.3 0.4-3 0.4-2.2 0.4-1.7 0.3-2.3 0.4-1.3 0.3-2 0.3-1.3 0.3-1.9 0.3-0.6 0.2-1.9 0.3-1.1 0.3-1.9 0.2-1.4 0.3-1 0.2-0.9 0.2-1.8 0.3-1 0.2-0.2 0.3-2 0.2-1.3 0.3-0.4 0.3-1.9 0.2-0.9 0.3-1.3 0.3-1.4 0.3-1.9 0.3-0.7 0.4-1.9 0.3-1 0.4-1.5 0.4-2.5 0.4-1.2 0.4-1.9 0.4-2.8 0.5-1.9 0.4-1.3 0.5-2 0.5-2.9 0.4-2.1 0.5-1.3 0.5-3 0.5-2 0.5-2.1 0.5-2 0.6-2 0.5-2.5 0.5-2.1 0.5-1.2 0.6-2.8 0.5-2.1 0.5-2.4 0.6-1.3 0.5-2.6 0.5-2.3 0.5-2.6 0.6-1.4 0.5-2.5 0.5-1.5 0.6-3 0.5-1.5 0.5-1.8 0.5-2.2 0.5-1.6 0.5-1.9 0.5-2.3 0.5-2.6 0.5-0.9 0.4-2.4 0.5-1.9 0.5-1.9 0.4-2.1 0.4-1.5 0.5-1.6 0.4-1.6 0.4-0.9 0.4-2.3 0.3-1.4 0.4-1 0.4-1.9 0.3-0.6 1-4.7 0.8-2.8 0.8-3.2 0.6-2.7 0.6-1.5 0.6-2.1 0.4-1.7 0.5-1.8 0.4-1.4 0.4-1.7 0.4-1.4 0.4-0.9 0.5-1.3 0.5-2.3 0.5-1.6 0.6-2 0.5-2.2 0.6-2.3 0.6-1.6 0.6-2.3 0.6-1.9 0.5-1.6 0.6-2.3 0.6-1.8 0.6-2.1 0.6-2.2 0.5-2.6 0.6-1.2 0.6-2.5 0.6-1.6 0.6-3 0.6-1.3 0.6-2.2 0.5-1.7 0.6-2.2 0.6-2 0.6-2.3 0.6-1.6 0.6-2.4 0.6-2.7 0.6-1 0.5-2.9 0.6-2.1 0.6-1.9 0.6-1.3 0.6-2.4 0.6-2.1 0.6-2.4 0.6-1.7 0.6-1.7 0.6-2.2 0.6-2.3 0.6-1.6 0.6-2.6 0.6-2.2 0.7-1.2 0.6-2.9 0.7-2.1 0.7-1 0.7-2.3 0.6-2.4 0.7-1.6 0.7-2 0.6-1.5 0.7-2 0.7-1.3 0.7-2.9 0.8-1.3 0.7-1.7 0.8-2.6 0.8-1.1 0.8-1.8 0.8-2.3 0.9-1.8 0.8-1.6 0.8-1.6 0.8-2.6 0.9-2 0.9-2 0.9-1.6 0.9-1.4 0.9-1.6 0.9-2.3 1-1.8 0.9-1.8 1-2.6 0.9-1.7 0.9-1.9 1-0.7 0.9-1.7 0.9-2.4 1.1-1.1 1.1-2.7 1-1.6 1.1-1.7 1.1-1.2 1-2.3 1.1-2.3 1.1-0.6 1.1-1.8 1.1-1.5 1.1-1.5 1.1-2.8 1.1-1.4 1.2-1.5 1.4-1.4 1.4-2.1 1.3-1.8 1.5-1.2 1.4-1.3 1.4-2.2 1.5-1.8 1.5-0.8 1.4-1.6 1.5-1.5 1.6-1.8 1.5-0.5 1.9-2 1.8-0.4 1.9-0.7 1.9-0.9 1.9-0.9 2-1.5 2 0.3 2-1 2.1-0.8 2.2 0.3 1.9-0.4 2 0 2-0.2 2.1-1 2.1 0.6 2.2-0.5 2.1 0.2 2.1-0.3 2 0.2 2 0.3 1.9 0.1 1.8 0.6 2.4-1.1 2.2 0.2 1.9-0.7 1.9 0.5 2-0.2 2 0.3 2.3 0.5 2.6 0.8 1.5 0.7 1.5 0.7 1.6 0.6 1.7 1.1 1.8 1.2 1.8 1.1 1.8 0.9 1.9 1.6 1.8 0.9 1.9 1.6 1.8 1.7 1.8 0.6 1.8 1.6 1.7 1.8 1.7 0.1 1.6 2 1.9 1.3 1.8 0.5 1.8 1.3 1.7 2.2 1.7 0.9 1.6 0.9 1.6 1.4 1.6 0.6 1.7 2.2 1.6 0.8 1.6 1.3 1.6 1.7 1.7 0.7 1.6 1.9 1.5 0.3 1.6 2.3 1.5 0.7 1.6 0.8 1.5 2.3 1.6 0.9 1.6 1.5 1.5 1.4 1.6 1 1.5 2.5 1.6 1.1 1.5 2 1.6 0.6 1.3 2.4 1.3 1.3 1.3 1.5 1.2 1 1.3 2.2 1.3 1.4 1.3 1.3 1.3 1.7 1.3 1.5 1.3 2.3 1.3 2.3 1.3 1.7 1.3 1.5 1.2 1.2 1.3 1.8 1.3 2.4 1.3 1.2 1.1 2.2 1.2 0.9 1.1 1.8 1.2 1.8 1.1 1.3 1.2 1.8 1.1 2 1.2 1.6 1.1 1.5 1.2 1.6 1.1 1.5 1.2 2.2 1.1 2.5 1.2 1 1.1 2.5 1.2 1.2 1.1 1.7 1.2 1.7 1.1 1.8 1 1.7 1 2.2 1.1 2.4 1 1.8 1 0.9 1.1 2.8 1.1 1.6 1 2.3 1.1 1.5 1 2.3 1.1 1.5 1 2.1 1.1 1.8 1 2.4 1 1.1 1 2.5 0.9 1.5 1 2.1 0.9 1.2 0.8 1 0.9 2.2 0.8 1.4 1.6 1.6 1.5 2.4 1.3 2.6 1.2 0.9 1.1 1.7 1.1 0.7 1.2 2.4 1.2 1.1 1.4 1.6 1.5 2.4 1.1 0.5 1.1 2.4 1.1 0.4 1.2 2 1.3 2.1 1.2 0.7 1.3 1.9 1.3 1.5 1.3 1.6 1.3 1.8 1.3 1.8 1.3 2.3 1.3 0.7 1.2 2.2 1.2 1.8 1.2 2.6 1 0.8 0.9 1.8 1 2.7 0.9 1.6 0.9 1.9 0.9 2 0.9 1.3 0.9 1.6 0.9 2.3 0.9 2.2 0.9 1.3 0.8 2.5 0.9 2.2 0.9 1.8 0.9 1.5 0.9 2.9 0.9 0.9 0.9 2.2 0.9 1.3 1 2.7 0.9 2.1 0.9 1.5 0.9 1.3 1 2.4 0.9 1.1 0.9 1.9 0.9 1.8 0.9 2.1 1 1.7 0.9 1.2 1 1.9 1 1.9 1 1.7 1 2 1.1 2.1 1.1 1.8 1.1 2.3 0.8 2.1 0.9 1.4 0.9 1.1 0.9 2.4 0.9 1.4 1 2.1 0.9 1.6 1 1.6 1 2.5 1 2.1 1 1 1 2.7 1 1.3 1 2.1 1 2.5 1 1 1 2.9 1 1.9 1 1.7 1 1.1 1 2 1 1.6 0.9 1.9 1 2 0.9 1.5 1.1 2.3 1.1 1.7 1 2.4 1.1 1.7 1 1.6 1.1 1.5 1 1.6 1.1 2.7 1 1.8 1 0.9 1 1.9 1.1 1.3 1 1.7 1 1.8 1 2.2 1.1 1.7 1 1.5 1 1.4 1 2.7 1.1 1.2 1 1.4 1 1.7 1 2 0.9 1.3 1 2.1 0.9 2.6 1 1.1 0.9 1.3 1 2 0.9 2.1 1 1.3 0.9 2.8 1 1.6 1 1.3 1 1.9 0.9 1.4 1.1 2.4 1 1.2 1 2.7 1.1 2 1.1 0.9 1.1 2.2 1.1 1.5 1 1.6 1 1.4 1 2 1 2.1 1 0.8 1 2.3 1.1 1.5 1 1.4 1.1 2 1.1 1.7 1 1.3 1.1 1.4 1.1 2.1 1.1 1.6 1.2 0.9 1.1 2.2 1.1 1.5 1.1 1.4 1.2 1.6 1.1 2.3 1.2 1.3 1.1 2.3 1.2 1.2 1.2 2 1.1 2 1.2 1.8 1 2 0.9 2 1 0.8 1 1.8 1.1 2.3 1 2.2 1.1 1 1 2.7 1.1 2 1 0.7 1.1 2 1.1 2.4 1.1 2 1.1 2.4 1 1.2 1.1 1.7 1.1 1.9 1.1 2.9 1 1.3 1.1 2.4 1 1.5 1.1 2.2 1 1.8 1 1.8 1 1.9 1 1.1 1 2.2 0.9 1 0.9 1.4 1 2 0.8 1.1 0.9 1.1 1.6 3 1.4 1.7 1.4 2.2 1.3 1.7 1.3 2.2 1.2 1.1 1.2 1.4 1.2 2 1.1 1.3 1.2 0.8 1.2 1.2 1.1 1.8 1.2 1.1 1.3 1.5 1.3 1.7 1.4 2.7 1.4 1.3 1.1 1.6 1.1 0.8 1.2 2.2 1.2 1.5 1.2 2 1.2 1.4 1.2 1.1 1.3 2 1.2 1.5 1.3 1.1 1.3 2.6 1.3 1.1 1.2 2.4 1.3 0.9 1.3 2.6 1.3 0.7 1.3 1.7 1.2 2.2 1.3 1.9 1.3 1.8 1.2 0.4 1.2 1.7 1.2 1.5 1.3 1.9 1.3 2.2 1.2 0.9 1.3 1.8 1.3 1.5 1.2 2.2 1.2 1.1 1.3 2.2 1.2 0.6 1.2 2.3 1.3 1.5 1.2 1.1 1.2 1.2 1.3 2 1.2 1.9 1.2 0.6 1.3 1.9 1.3 1.3 1.2 1.8 1.3 1.3 1.3 1.9 1.3 2.2 1.3 0.9 1.4 1.5 1.3 1.3 1.4 1.9 1.3 1.4 1.4 1.5 1.4 2.1 1.3 1.5 1.4 2 1.4 1.7 1.4 1.2 1.3 1.2 1.4 1.5 1.4 1.5 1.3 1.9 1.4 1.3 1.3 1.8 1.4 1.8 1.3 0.9 1.3 1.8 1.5 1.2 1.5 1.8 1.4 1.6 1.4 1.9 1.5 1.5 1.4 1 1.3 1 1.4 1.8 1.4 1.7 1.4 1.6 1.4 0.6 1.5 1.6 1.4 1.5 1.5 1 1.5 2.2 1.5 0.8 1.6 2.5 1.6 1.4 1.4 1.3 1.5 0.7 1.5 1.8 1.6 1.2 1.6 1.5 1.6 1.9 1.6 0.4 1.7 2 1.7 0.9 1.6 1.8 1.7 1.2 1.7 1.6 1.6 1 1.6 1.3 1.6 2.2 1.6 1 1.5 1.5 1.5 1.5 1.5 0.7 1.4 1.8 1.3 0.5 1.9 2.3 1.8 0.4 1.6 1.7 1.6 1.5 1.6 1.1 1.5 1.9 1.4 1.1 1.4 1.2 1.5 0.2 1.4 1.4 1.5 1.9 1.5 0.6 1.5 1.6 1.7 0.4 1.8 1.9 1.9 1.4 2 0.9 2.1 1.3 2.1 1.1 2.2 0.8 2.1 1.1 2 2.3 2 0.2 1.8 0.9 1.7 1.4 1.6 0.9 1.3 0.3 1 1" stroke="#EC008C" stroke-width="1.50" fill="none" stroke-linejoin="round"/>
<path d="M346 938.8l0.1 0 0-0.3-0.1 0.1-0.1 0.1-0.2 0.6-0.2-0.5-0.1 1.1-0.2-0.2-0.1 0.6 0-0.8 0.1-0.7 0.2-1.5 0.3-2.2 0.4-2.7 0.6-3.8 0.8-5.7 1.1-5.5 1.2-7.3 1.5-9.2 0.2-1.5 0.2-0.7 0.2-0.8 0.2-1.5 0.2-1.7 0.3-0.6 0.2-1.8 0.2-0.6 0.2-2.2 0.3-0.9 0.2-1.7 0.3-0.7 0.2-2.4 0.3-0.6 0.3-2.1 0.2-1.6 0.3-1.7 0.3-1.3 0.3-1.1 0.3-1.5 0.3-1.7 0.3-2.1 0.3-2.1 0.3-1.4 0.3-1.6 0.3-2.2 0.3-0.9 0.3-2.9 0.3-1.7 0.4-1.8 0.3-1.9 0.3-2 0.4-1.7 0.3-1.8 0.3-1.2 0.4-2.5 0.3-1.9 0.4-2.3 0.4-2.2 0.3-1.5 0.4-1.9 0.3-2.8 0.4-1.4 0.4-2.6 0.3-1.5 0.4-2.5 0.4-2.4 0.4-2.1 0.4-1.4 0.4-2.5 0.3-2.7 0.4-1.2 0.4-2.9 0.4-2.2 0.4-2.6 0.4-1.9 0.4-1.9 0.4-1.8 0.4-3 0.4-2 0.4-2.8 0.4-1.6 0.4-2.7 0.4-2.2 0.5-2.5 0.4-1.6 0.4-2.1 0.4-3.4 0.4-1.9 0.4-2.8 0.4-1.5 0.5-2.2 0.4-3.3 0.4-1.7 0.4-2.8 0.4-2.2 0.5-2.2 0.4-2.6 0.4-2 0.4-2.8 0.5-2.1 0.4-2.6 0.4-2.3 0.4-2.7 0.5-2.1 0.4-2.6 0.4-1.8 0.4-2.6 0.4-2.4 0.5-1.8 0.4-3.2 0.4-1.9 0.4-2.3 0.5-2.3 0.4-2.2 0.4-2.8 0.4-1.7 0.4-2.6 0.4-3.1 0.5-1.7 0.4-2.4 0.4-1.8 0.4-2.5 0.4-2.4 0.4-2.3 0.4-2.2 0.4-2.6 0.4-2.2 0.4-2.2 0.4-2.9 0.4-1.6 0.4-2.4 0.4-2.2 0.4-2 0.4-2.1 0.4-2.5 0.4-1.9 0.4-2.6 0.4-1.3 0.3-2.5 0.4-2 0.4-2.1 0.4-2.9 0.3-1.9 0.4-1.9 0.4-1.9 0.3-2.1 0.4-1.9 0.3-1.9 0.4-1.8 0.4-2 0.3-2.3 0.3-1.4 0.4-2 0.3-1.7 0.4-3 0.3-1.2 0.3-2.3 0.3-1 0.4-1.7 0.3-2.1 0.3-2.2 0.3-1 0.3-2.2 0.3-1.4 0.3-2.3 0.3-1.8 0.3-0.7 0.3-1.6 0.2-2.1 0.3-1.9 0.3-1.3 0.2-0.8 0.3-2.3 0.3-0.8 0.2-1.9 0.3-0.7 0.2-2 0.2-0.7 0.3-1.8 0.2-1.9 0.8-3.9 0.7-4.1 0.7-4.2 0.6-3.9 0.7-3 0.5-3.1 0.6-3.2 0.5-3.6 0.5-3 0.5-2.4 0.4-2.3 0.4-3.1 0.4-1.5 0.4-2.1 0.3-2.8 0.3-2.2 0.3-1.4 0.3-2.3 0.3-0.8 0.2-2 0.3-1.7 0.2-0.9 0.2-1.5 0.3-1.4 0.2-2.1 0.2-0.9 0.2-1.3 0.2-0.6 0.2-1.9 0.1-1.4 0.2-0.7 0.2-1.4 0.2-0.7 0.2-1.6 0.2-1.5 0.3-0.6 0.2-1 0.2-1.6 0.3-1.5 0.2-2.1 0.3-1.3 0.3-1 0.3-1.3 0.4-2.4 0.3-1.2 0.4-3 0.4-1.8 0.4-2 0.4-1.5 0.4-2.5 0.4-1.7 0.5-2.8 0.4-1.4 0.4-2 0.5-2.8 0.4-2.2 0.5-1.8 0.4-2.1 0.5-2.1 0.4-1.6 0.5-3.2 0.4-1.5 0.5-2.3 0.5-2 0.4-2.6 0.5-1.6 0.5-2 0.4-3.1 0.5-1.8 0.5-2.5 0.4-1.4 0.5-1.9 0.5-2.5 0.4-1.3 0.5-2.3 0.4-2.1 0.5-2.7 0.4-1.7 0.5-1.4 0.4-2.3 0.4-2.2 0.5-2.1 0.4-0.9 0.4-2.4 0.4-2 0.4-1.2 0.4-1.5 0.4-1.8 0.3-2.3 0.4-0.5 0.4-2.1 0.3-1.3 0.7-3.4 0.7-2.7 0.6-2.9 0.6-1.8 0.6-3.1 0.6-1.7 0.6-2 0.5-1.8 0.5-3.1 0.6-1 0.5-2.3 0.4-2.1 0.5-1.1 0.5-1.8 0.4-1.6 0.5-1.9 0.4-1.7 0.5-1.7 0.4-1.2 0.5-2.2 0.4-0.6 0.5-2.1 0.6-1.8 0.5-2.4 0.5-2 0.5-1.9 0.5-2.1 0.5-2 0.5-2.3 0.5-1.5 0.4-1.8 0.5-2.1 0.4-1.6 0.5-2 0.5-2.6 0.4-0.9 0.5-2.8 0.4-1.9 0.5-1.3 0.5-1.6 0.5-2.3 0.5-2.6 0.5-1.8 0.5-1.9 0.4-1.5 0.5-2.8 0.5-1.2 0.5-2.6 0.5-2.2 0.5-0.9 0.5-2.1 0.5-2 0.5-1.9 0.4-2.3 0.5-1.4 0.5-2.3 0.5-2 0.5-1.5 0.6-2.1 0.5-2.3 0.6-2.5 0.6-1.8 0.5-2.5 0.6-1.8 0.5-1.7 0.6-1.9 0.6-2.2 0.5-2.1 0.6-1.5 0.6-2.4 0.6-2 0.7-2.5 0.6-1.3 0.6-1.8 0.6-1.7 0.6-2.2 0.7-2.7 0.6-1.5 0.6-2.1 0.7-1.4 0.6-2.4 0.7-1.5 0.7-1.4 0.7-2.2 0.7-2.4 0.8-1.3 0.7-2.5 0.8-1.5 0.8-2.6 0.7-1 0.8-2.4 0.8-2.3 0.8-1.6 0.8-1.7 0.9-2.2 0.8-1.5 0.9-2.4 0.9-1.5 0.9-1.6 0.8-2.2 0.9-2.2 0.9-1.3 0.9-1.9 0.9-1.7 0.9-1.9 0.8-1.6 0.9-1.1 1.2-2.6 1.1-1.9 1.1-1.1 1.1-2 1.1-2.4 1.1-0.8 1.1-2 1.1-1.3 1.2-1.7 1.2-1.8 1.3-1.6 1.3-1.3 1.4-1.2 1.3-2.3 1.3-1.6 1.4-0.8 1.5-2 1.5-1.6 1.5-1.4 1.5-1.7 1.6-2 1.5-1 1.6-1.6 1.5-1.1 1.5-1.9 1.4-1.5 1.5-0.6 1.3-0.7 1.9-1.9 1.7-1.5 1.6-1.1 1.6-2.1 1.6-0.1 1.6-1 1.6-1.8 1.8-1 1.9 0.2 2.2-0.7 1.7-0.9 1.8-0.7 1.9 0.3 1.9-0.5 2-1.2 2.1-0.1 2.1 0.4 2.1-0.8 2.2 0.6 2.1-0.7 2.1 0.4 2-1 2-0.1 1.9 0.4 2.2 0.6 2.1-0.2 2-0.7 2.1 1.1 2 0.1 2-0.7 2 0.9 2 0.7 2-0.5 2 1.1 2 0.1 2.1 0.3 1.8 0.9 1.8 1.4 1.7 0.3 1.8 1.6 1.8 0.5 1.8 0.8 1.8 1.7 1.8 1.2 1.8 0.8 1.9 2 1.8 0.8 1.9 0.7 1.9 1.3 1.9 1.5 1.7 0.5 1.8 1.9 1.7 0.6 1.8 0.8 1.9 1.7 1.8 0.3 1.9 1.7 1.8 0.9 1.9 0.8 1.8 1.1 1.8 1.7 1.8 1 1.7 0.9 1.7 1.4 1.7 1.2 1.6 1.1 1.8 0.7 1.7 1.2 1.7 2.1 1.6 1.6 1.6 1.2 1.6 1 1.5 1.1 1.5 1.5 1.5 1.9 1.5 0.8 1.5 2.5 1.4 0.5 1.5 2.1 1.5 1.2 1.6 1 1.5 1.4 1.6 2.1 1.5 0.8 1.4 2.2 1.5 1.1 1.5 1.5 1.5 2.2 1.5 1.1 1.5 1.7 1.5 1.7 1.5 0.9 1.6 2.2 1.3 1.1 1.4 1.4 1.3 1.7 1.4 1.4 1.4 1.7 1.4 1.5 1.4 0.8 1.4 2.5 1.4 1 1.4 1.4 1.4 1.9 1.4 1.5 1.3 1.2 1.4 1.5 1.3 1.9 1.2 1.7 1.5 1.4 1.4 1.8 1.3 1.1 1.4 2.1 1.2 1.8 1.3 1 1.3 1.3 1.3 1.9 1.2 1.5 1.4 2.2 1.3 1.8 1.4 0.9 1.5 2.2 1 1.4 1 2 1 2.1 1.1 0.6 1 2.2 1.1 1.5 1.1 2.6 1.1 1.1 1.1 2.4 1.1 1.9 1.1 1.1 1.2 2.3 1.1 2.2 1.1 1.3 1.1 2.1 1.2 2 1.1 1.2 1.1 1.7 1.1 2.5 1.1 1.5 1.2 1.7 1.3 1.5 1.2 1.8 1.3 1.9 1.3 1.7 1.3 1.8 1.3 2.5 1.3 1.4 1.3 2.2 1.3 1.5 1.2 1.1 1.2 1.4 1.3 2.3 1.1 1.4 1.2 1.6 1.1 2.1 1 0.5 1 2.5 1.5 1.4 1.3 1.8 1.2 1.8 1.1 2.3 1.1 1 1 0.8 1 2.4 1.1 0.9 1.1 1.9 1.3 2.7 1.4 2.2 0.8 1.7 0.9 0.6 0.9 2.6 1 0.7 0.9 2.5 1 1.3 1 2.2 1 1.4 1 1.2 1.1 2.5 1 2.3 1.1 1.5 1 1.3 1.1 2.9 1 1.5 1 2 1 1.9 1 1.5 1 1.9 0.9 1.3 1.1 1.9 1 2.4 1 1 0.9 2.7 1 1.2 0.9 1.2 1 2.4 0.9 1.5 0.9 1.7 1 1.5 0.9 1.5 1 2.2 1.1 2.1 1 2.4 1.2 1.8 1.2 2.4 1.2 1.7 0.9 0.9 0.9 2.2 1 1.4 0.9 1.3 1 2.7 1.1 0.9 1 2.2 1.1 1.5 1.1 1.4 1.1 2.2 1.1 1.6 1.1 2.2 1.1 2.2 1.1 1 1.1 2.1 1.1 2.1 1.1 2.3 1.1 1.3 1.1 2.3 1.1 1.8 1.1 1.2 1 1.4 1 2.2 1 2.1 1 1 1.1 2 1.1 2.4 1.1 2 1.1 1 1.1 1.5 1 2.3 1.1 2.1 1 1.9 1 1.6 1.1 1.6 1 2.3 1 0.7 1 2.3 1 1.3 1 2 1 2.4 1 1.1 1 1.2 1 2.3 1.1 1.2 1 2.3 1.1 1.2 1.2 2 1.1 2.1 1.1 0.9 1.1 2.4 1.2 1.2 1.1 2.2 1.1 1.5 1.1 1.6 1.1 1.5 1.2 1.7 1.1 2.2 1.2 0.7 1.1 2.5 1.2 1.2 1.2 1.6 1.2 2.2 1.2 2 1.3 1.3 1 1.7 1 2 1.1 1.3 1 2.2 1 0.9 1.1 2.4 1.1 2.1 1 1.6 1.1 1.8 1.1 1.3 1.1 1.4 1.1 2.6 1.1 1.5 1.1 1 1.1 1.9 1.1 2.2 1.2 1.3 1.1 2.1 1.1 1.7 1.2 1.6 1.1 2.1 1.1 2.4 1.2 0.8 1.1 2.6 1.1 1.4 1.1 1.5 1.2 1.2 1 1.4 1.1 2 1.1 1 1.1 2.5 1.1 0.7 1.1 1.5 1.1 2.1 1.1 0.9 1.1 2.3 1.1 1.1 1.2 1.2 1.1 1.7 1.2 2.3 1.2 1.9 1.3 1 1.3 2 1.3 1.2 1.3 2.6 1.4 1.4 1.4 1.6 1.5 1.9 1 2.2 1.1 0.7 1.2 2 1.1 1.5 1.2 2.2 1.2 1.5 1.3 1 1.2 2.1 1.3 2 1.3 1.4 1.4 1.3 1.3 1.8 1.4 2.4 1.3 1.9 1.4 0.8 1.4 2.6 1.3 1.7 1.4 1.8 1.4 1.9 1.3 1.5 1.4 1.4 1.3 1.9 1.3 1.6 1.3 1.6 1.3 2.3 1.3 1.3 1.2 1.5 1.3 2.5 1.1 1.1 1.2 1.2 1.1 1.8 1.1 0.8 1 2.1 1 1.3 1 0.9 1.9 1.9 1.8 2.8 1.6 1.7 1.4 1.6 1.4 2 1.2 1.3 1.2 0.7 1.1 1.4 1.1 0.6 1.1 1.1 1.2 1.4 1.2 1.4 1.2 1.1 1.4 1.1 1.5 1.6 1.6 2 1.2 0.9 1.3 1.5 1.3 1.9 1.4 0.6 1.4 1.3 1.5 1.7 1.4 2.2 1.5 0.5 1.6 2.6 1.5 1.3 1.5 1.2 1.6 1.5 1.5 1.5 1.5 1 1.6 2.4 1.5 1.7 1.4 0.7 1.5 1.3 1.4 2.2 1.4 0.3 1.3 2.4 1.3 0.3 1.2 1.6 1.8 1.8 1.7 2.1 1.6 1 1.5 2.5 1.5 0.8 1.4 2.3 1.4 1.2 1.4 0.7 1.4 1.7 1.3 1.3 1.4 1.2 1.3 1.5 1.4 1.8 1.4 0.7 1.4 1.6 1.7 2.1 1.7 1.4 1.6 1.4 1.7 0.9 1.7 1.4 1.7 0.8 1.6 2.3 1.7 0.2 1.7 2.2 1.7 0.2 1.6 1.9 1.7 0.6 1.7 2.4 1.6 1 1.5 1.2 1.5 1.6 1.5 0.8 1.6 0.6 1.5 1.2 1.5 1.5 1.6 2.2 1.5 0.7 1.6 1.2 1.6 1.5 1.6 0.9 1.6 1.3 1.7 1.8 1.7 1.2 1.7 1.2 1.9 0.5 1.9 2.1 2 1.5 2 1 2 0.6 1.9 1.5 1.9 1.3 1.8 1.6 1.7 0.6 1.6 1.3 1.3 0.6 1.2 1.8 1-0.2" stroke="#EC008C" stroke-width="1.50" fill="none" stroke-linejoin="round"/>
<line x1="695.7" y1="186.5" x2="992.7" y2="186.5" stroke="#EC008C" stroke-width="2"/>
<line x1="695.7" y1="233.7" x2="992.7" y2="233.7" stroke="#F7A3CB" stroke-width="3"/>
<line x1="695.7" y1="295.4" x2="992.7" y2="295.4" stroke="#EC008C" stroke-width="2"/>
<line x1="695.7" y1="335.8" x2="992.7" y2="335.8" stroke="#F7A3CB" stroke-width="3"/>
<line x1="695.7" y1="404.5" x2="992.7" y2="404.5" stroke="#EC008C" stroke-width="2"/>
<line x1="695.7" y1="488.3" x2="992.7" y2="488.3" stroke="#F7A3CB" stroke-width="3"/>
<line x1="544.3" y1="446" x2="594.5" y2="122" stroke="#111" stroke-width="2.2"/>
<path d="M596.7 105.3 L601.7 129 L586.7 127 Z" fill="#000"/>
<text x="1641.4" y="155.0" font-size="62.30" fill="#EC008C">94/6</text>
<text x="1641.4" y="227.8" font-size="62.30" fill="#EC008C">95/5</text>
<text x="1640.0" y="301.5" font-size="62.30" fill="#EC008C">96/4</text>
<text x="1640.0" y="361.5" font-size="62.30" fill="#EC008C">97/3</text>
<text x="1640.0" y="471.5" font-size="62.30" fill="#EC008C">98/2</text>
<text x="1640.0" y="600.6" font-size="62.30" fill="#EC008C">99/1</text>
<text x="1563.0" y="1140.7" font-size="63.30" fill="#0DF00D">PA410</text>
<text x="1000.7" y="194.5" font-size="44.90" fill="#EC008C">94/6</text>
<text x="1000.7" y="246.6" font-size="44.90" fill="#EC008C">95/5</text>
<text x="1000.7" y="304.1" font-size="44.90" fill="#EC008C">96/4</text>
<text x="1000.7" y="353.9" font-size="44.90" fill="#EC008C">97/3</text>
<text x="1000.7" y="419.5" font-size="44.90" fill="#EC008C">98/2</text>
<text x="1000.7" y="501.9" font-size="44.90" fill="#EC008C">99/1</text>
<text x="544.7" y="101.6" font-size="44.50" fill="#111">75.7&#186;C</text>
<text x="496.3" y="485.2" font-size="44.70" fill="#111">72.7&#186;C</text>
<text x="614.0" y="738.4" font-size="45.30" fill="#0DF00D">PA410</text>
<text x="26.4" y="2086.5" font-size="180" fill="#000" font-weight="bold" >b</text>
<rect x="219.5" y="1974.5" width="1579.5" height="1569" fill="none" stroke="#1a1a1a" stroke-width="2"/>
<line x1="219.5" y1="2138.9" x2="247.5" y2="2138.9" stroke="#333" stroke-width="2"/>
<line x1="1774" y1="2138.9" x2="1799" y2="2138.9" stroke="#333" stroke-width="2"/>
<line x1="219.5" y1="2467.5" x2="247.5" y2="2467.5" stroke="#333" stroke-width="2"/>
<line x1="1774" y1="2467.5" x2="1799" y2="2467.5" stroke="#333" stroke-width="2"/>
<line x1="219.5" y1="2796" x2="247.5" y2="2796" stroke="#333" stroke-width="2"/>
<line x1="1774" y1="2796" x2="1799" y2="2796" stroke="#333" stroke-width="2"/>
<line x1="219.5" y1="3123.3" x2="247.5" y2="3123.3" stroke="#333" stroke-width="2"/>
<line x1="1774" y1="3123.3" x2="1799" y2="3123.3" stroke="#333" stroke-width="2"/>
<line x1="219.5" y1="3453.3" x2="247.5" y2="3453.3" stroke="#333" stroke-width="2"/>
<line x1="1774" y1="3453.3" x2="1799" y2="3453.3" stroke="#333" stroke-width="2"/>
<line x1="538" y1="3543.5" x2="538" y2="3518.5" stroke="#333" stroke-width="2"/>
<line x1="538" y1="1974.5" x2="538" y2="1999.5" stroke="#333" stroke-width="2"/>
<line x1="853" y1="3543.5" x2="853" y2="3518.5" stroke="#333" stroke-width="2"/>
<line x1="853" y1="1974.5" x2="853" y2="1999.5" stroke="#333" stroke-width="2"/>
<line x1="1168.5" y1="3543.5" x2="1168.5" y2="3518.5" stroke="#333" stroke-width="2"/>
<line x1="1168.5" y1="1974.5" x2="1168.5" y2="1999.5" stroke="#333" stroke-width="2"/>
<line x1="1484" y1="3543.5" x2="1484" y2="3518.5" stroke="#333" stroke-width="2"/>
<line x1="1484" y1="1974.5" x2="1484" y2="1999.5" stroke="#333" stroke-width="2"/>
<text x="223" y="3632.2" font-size="81.5" fill="#000" text-anchor="middle" >-100</text>
<text x="538" y="3632.2" font-size="81.5" fill="#000" text-anchor="middle" >-50</text>
<text x="853" y="3632.2" font-size="81.5" fill="#000" text-anchor="middle" >0</text>
<text x="1168" y="3632.2" font-size="81.5" fill="#000" text-anchor="middle" >50</text>
<text x="1483" y="3632.2" font-size="81.5" fill="#000" text-anchor="middle" >100</text>
<text x="1798" y="3632.2" font-size="81.5" fill="#000" text-anchor="middle" >150</text>
<text x="0" y="0" font-size="89.5" fill="#000" transform="translate(674.6 3735) scale(1 1.03)">Temperature (&#186;C)</text>
<text x="0" y="0" font-size="84.5" fill="#000" transform="translate(87.5 2839) rotate(-90)">tan&#948;</text>
<text x="0" y="0" font-size="63" fill="#000" transform="translate(155 3350.5) rotate(-90)">0.04</text>
<line x1="185.9" y1="3153.3" x2="185.9" y2="3416.7" stroke="#9a9a9a" stroke-width="2.5"/>
<path d="M185.9 3123.3 L201.7 3166.3 L185.9 3153.3 L170.1 3166.3 Z" fill="#000"/>
<path d="M185.9 3446.7 L201.7 3403.7 L185.9 3415.7 L170.1 3403.7 Z" fill="#000"/>
<path d="M235 3483l1.2-0.8 1.5 1.8 1.7-1.2 2 1.3 2.2 2.3 2.3-3.2 2.4 1.1 2.3 1.5 2.4-2.5 1.8 0.1 1.7 2.5 1.9 0.3 1.8-3 1.9-1 2 2.7 2-3.1 2 0.5 2.1-0.6 2.2-0.6 2.3 0.4 2.3-0.7 1.7-1.6 1.8-0.2 1.9-0.8 1.9-1.3 1.9-1.6 2-1.6 2-0.6 2.1 1.8 2-1.8 2.1-3.2 2 2.3 2.1-3.5 2 0.8 1.9-1.8 1.9-1.7 1.9-1.2 1.8 0.5 1.9-1.7 1.8-0.2 1.8-0.7 1.8-0.6 1.7-1 1.7-2.1 1.7 0.3 1.7-3.1 1.7 0.4 1.6-1.4 1.7-1.2 1.6-3.9 1.6 0.6 1.6-1.4 1.5-2.8 1.6 0 1.8-0.7 1.7-3.2 1.7-1.2 1.7 1.1 1.6-1.8 1.6 1.1 1.7-1.7 1.6-1.3 1.5-1.3 1.6-3.7 1.6 0.7 1.6-4 1.7-1.3 1.6-0.7 1.3-1.9 1.3-2.3 1.3 0.5 1.3 0.2 1.4-5.2 1.3-1 1.3 1 1.4-3.3 1.3-2 1.3-2 1.3-0.1 1.3-3.1 1.2-2 1.3-1.8 1.2 0 1.2-4.5 1.2 0.2 1.1-0.6 1.5-4.4 1.3-0.4 1.3-1.4 1.2-0.3 1.2-1.9 1.2-1.4 1.1-2.1 1.2-0.9 1.2 0.6 1.3-4.8 1.4-1.7 1.5-1.4 1.6-2.3 1.1-0.9 1.2-0.7 1.2 0.2 1.3-0.6 1.3-5.3 1.4 0.4 1.4-2.6 1.4 1 1.4-1.3 1.4-2.8 1.5-4.3 1.4 0.2 1.4-1.9 1.5-1.2 1.4-2.9 1.4-2.4 1.4 0.8 1.3-0.7 1.3-3.4 1.3-1.3 1.5-3.1 1.5 0.3 1.5-0.6 1.4-3 1.4-3 1.4-1.7 1.4 1.4 1.4-2.1 1.4-3.4 1.4-0.5 1.4-3.1 1.4 0.3 1.4-3.6 1.5-0.4 1.5-0.6 1.5-1.5 1.6-2.1 1.7 0 1.7-3.1 1.8 0.7 1.8-1.2 1.8-2.5 1.9 0.2 1.8-4.2 1.8 1.6 1.8-5 1.8 0.8 1.6-2.6 1.6-1.4 1.6-0.3 1.4-0.5 1.3-2.3 2.9-0.6 2.2 1.3 1.8-1.3 1.8-1 1.9 1.2 2.4-1.7 1.7 1.4 1.6 0.9 1.8-1 1.8 0.5 1.9-0.6 1.9 4.1 2.1-1.4 2.3 0.8 2.3 1.6 2.6 3.9 1.3-1 1.4 2.5 1.4 0.8 1.5 2.3 1.5 0.7 1.6 1.7 1.6-1.8 1.6 0.6 1.6 1.3 1.7 2 1.7 0.9 1.7 1.6 1.7 3.7 1.7 0.4 1.6 0.8 1.7 2.5 1.6 0.4 1.6 2.1 1.5 1.7 1.5 0.3 1.5 5.2 1.2 1.2 1.3-0.6 1.2 2.6 1.1-0.9 1.2 3.1 1.2 2.5 1.1 1 1.1 0.5 1.2 3.2 1.1 0.8 1.1 3.2 1.1 2.1 1.1 1.2 1.1 3 1 1.5 1.1-1 1.1 5.2 1.1 0.5 1.1 1.2 1.1 1.4 1.1 3 1.1-0.4 1.1 3 1.1 0.4 1.3 2.4 1.2 1.9 1.2 1.3 1.3 1.8 1.1-0.7 1.2 2.2 1.2 2.1 1.2 1.3 1.2 1.6 1.2 1.2 1.2 1.4 1.2 2.1 1.3 0.2 1.2 1.4 1.3 4.6 1.4 0.7 1.3 2.2 1.5-0.2 1.4 3.9 1.5 0 1.6 2 1.1-0.5 1.2 2.2 1.1 3.1 1.2 2 1.2-0.3 1.2 3.5 1.2 0.9 1.3-0.9 1.2 2.5 1.3 4.6 1.3-0.3 1.3-0.4 1.3 4.3 1.3 0.5 1.4 0.5 1.3 5.1 1.4-0.5 1.4 2.7 1.3 0.3 1.4 3.9 1.5 0.5 1.4 0.6 1.4 1.4 1.5 4.1 1.4 0.5 1.5 2.8 1.4-1.6 1.5 2.4 1.5 2.5 1.5 2.6 1.5 0.5 1.4 0.1 1.5 3.2 1.4 0.7 1.5-0.4 1.5 1.5 1.5 2.1 1.5 2.9 1.5-0.1 1.5 0.3 1.5 2.3 1.5-1 1.6 2.9 1.6 1.6 1.5 1.7 1.6 1.9 1.6-2.3 1.6 3.5 1.6 0.6 1.7 0.3 1.7 2 1.6 0.2 1.7 0.9 1.8 3.9 1.7-0.1 1.8-1 1.7 2.1 1.8 0 1.9 2.2 1.8 1 1.9-0.2 1.7 1 1.7 2.3 1.7 3.1 1.8-1.9 1.8 3.4 1.8-2.4 1.8 3.7 1.9-0.9 1.8 1.5 1.9 0.2 1.9 1.7 2 0.8 1.9 0 1.9 1.7 2 0.4 1.9 0 2 1.7 2 0.2 2 0.8 2 0.7 2 0.5 2 1.5 1.9 0.5 2 0.7 2 0.7 2 0 2 1.2 2 0.7 2 0.2 1.9 1 2 0.5 1.9 1 2 0.1 1.9 0.5 1.9 0.8 2 0.8 2 0.5 2 0.2 2 0.8 2 1 2 0.2 2 0.6 2-0.1 2 0.8 2 0.6 2 0.2 2 0.8 2-0.1 2 0.5 2 0.7 2 0.9 2 0.5 2-0.3 2 1.2 2 0.4 2-0.3 2 0.4 2 0.2 2 0.2 2 1.1 2-0.2 2 0.1 2 1.1 2 0.2 2-0.3 2 0.9 2 0.5 2-0.2 2 0.6 2-0.3 2.1 0.8 2 0.3 2 0.2 2-0.1 2-0.1 2.1 0.9 2 0.1 2-0.4 2.1 0.7 2-0.1 2 0.3 2.1 0.2 2 0.1 2-0.2 2.1 0.8 2-0.3 2-0.1 2.1-0.2 2 0.3 2 0.7 2.1-0.6 2 0 2-0.2 2.1 0.3 2-0.3 2 0.3 2.1 0.2 2 0.1 2-0.5 2.1 0.5 2 0.6 2-0.4 2.1 0.3 2.1-0.3 2-0.6 2.1 0.3 2.1-0.3 2.1 0.5 2.1-0.7 2.1 0.6 2.1 0.2 2.2-0.5 2.1 0.4 2.1-0.8 2.1 0.5 2.1 0.2 2.1 0.1 2.1-0.3 2.1-0.5 2.1-0.1 2-0.1 2.1-0.3 2-0.2 2 0 2.1-0.6 1.9-0.3 2 0 2-0.4 1.9-0.2 1.9 0.4 1.8-0.9 1.9 0.1 1.8-0.3 1.8-0.8 2.2 0 2.2-0.7 2.2-0.5 2.2-0.2 2.1-1 2.1-0.1 2.1-0.5 2.1-1.6 2-0.7 2-0.5 2-0.4 2-0.7 1.9-1.3 1.9-0.2 1.9-1.4 1.9-0.1 1.8-1.7 1.8-0.8 1.8-0.7 1.8-0.9 1.7-1.2 1.7-0.6 1.7-1 1.7-1.4 1.6 0 1.6-1.7 1.9-0.7 1.8-1.5 1.7-1.3 1.7-1 1.7-1.4 1.6-0.8 1.6-1.1 1.5-1.5 1.5-1.4 1.5-1.5 1.4-1 1.5-2.1 1.4-1.4 1.4-1.3 1.3-1.4 1.4-0.7 1.3-1.4 1.4-1.8 1.3-2.2 1.4-1.1 1.3-1.4 1.4-1.1 1.2-1.7 1.3-2 1.2-1.8 1.3-1.1 1.2-1.7 1.2-1 1.2-1.6 1.2-1.8 1.2-1.7 1.2-2.6 1.1-1.2 1.2-2.2 1.1-1.5 1.2-1 1.1-1.8 1.1-2.1 1-1.4 1.1-2 1-1.9 1-1.6 1-2.7 1-1.1 1-2.3 0.9-2.2 0.9-1.4 0.8-1.5 0.8-1.8 0.8-1.9 0.8-2 0.7-2.3 0.7-1.7 0.7-1.6 0.7-2.3 0.7-1.2 0.6-2.7 0.7-2 0.6-1.2 0.6-2.2 0.7-2.3 0.6-1.8 0.6-1.3 0.6-3.1 0.6-1.5 0.6-1.9 0.6-1.9 0.7-2.5 0.6-2.5 0.6-2.3 0.7-2 0.5-1.4 0.6-1.5 0.5-2.2 0.5-1.3 0.5-1.8 0.5-2.5 0.6-1.8 0.5-1.7 0.5-0.9 0.5-2.5 0.5-0.8 0.5-2.5 0.5-2.2 0.5-1.4 0.5-1.5 0.6-2 0.5-1.7 0.5-2.5 0.5-1.5 0.5-2.4 0.5-1.1 0.5-2.2 0.5-2.4 0.5-1.6 0.6-3.2 0.5-1.4 0.5-2.4 0.5-2.3 0.5-2.6 0.6-2 0.5-2.1 0.4-1.7 0.3-2.2 0.4-2.2 0.4-1 0.4-2.4 0.4-1 0.4-2.5 0.4-1.7 0.3-2.9 0.4-1.8 0.4-1.5 0.4-2.8 0.4-1.7 0.4-1.6 0.5-2.1 0.4-2.2 0.4-2.8 0.4-1.6 0.4-2.7 0.4-1.9 0.4-2.3 0.4-2.3 0.4-2.4 0.4-1.3 0.4-2.8 0.4-2.2 0.4-2.3 0.3-2.1 0.4-2.4 0.4-2.3 0.4-1.6 0.4-1.7 0.3-1.8 0.4-2.2 0.4-2.7 0.3-1.8 0.4-1.8 0.3-1.6 0.4-2.7 0.3-0.7 0.3-2.7 0.4-1.5 0.3-2.1 0.3-1.6 0.3-1.3 0.5-2.1 0.5-3.2 0.5-1.7 0.5-2.9 0.4-2.1 0.5-2.6 0.4-1.5 0.4-2.1 0.4-2.4 0.4-1.2 0.4-2.3 0.4-0.7 0.3-1.7 0.4-2.8 0.3-0.7 0.4-2.4 0.3-1.1 0.4-2.6 0.4-1.5 0.3-2.3 0.4-1.3 0.3-2.5 0.4-1.1 0.4-2.1 0.4-2.7 0.3-1.6 0.3-2.4 0.3-1.8 0.3-2.2 0.3-1.9 0.4-2.1 0.3-1.4 0.3-2.1 0.3-2.8 0.3-1.6 0.3-2.3 0.3-2.1 0.4-1.6 0.3-2.7 0.3-1.9 0.3-2.3 0.3-2.2 0.3-2.5 0.3-1.7 0.3-2.5 0.3-2.3 0.4-2.2 0.3-1.4 0.3-2.7 0.2-1.7 0.3-2 0.3-2.2 0.3-2 0.3-1.2 0.3-2.2 0.3-2 0.2-2.4 0.3-0.6 0.4-3.2 0.3-2.2 0.4-1.4 0.3-3.1 0.3-1.9 0.3-1.5 0.3-1.2 0.3-1.9 0.3-1.6 0.3-1.7 0.3-1.6 0.3-2.7 0.3-1 0.3-1.8 0.3-1.6 0.3-2.8 0.3-1.5 0.4-2.7 0.3-1.9 0.4-2.2 0.3-2.2 0.4-3.3 0.4-2.9 0.2-1.6 0.2-1.6 0.2-1.2 0.2-1.6 0.3-1.9 0.2-1.4 0.2-2.5 0.2-1.3 0.2-2.3 0.2-2 0.3-1.2 0.2-2.6 0.2-0.9 0.2-2.4 0.3-1.5 0.2-2.5 0.2-1.8 0.3-2.2 0.2-2.6 0.2-2 0.3-2 0.2-2.3 0.3-1.5 0.2-2.7 0.3-2.2 0.2-1.2 0.3-2.1 0.2-2.2 0.3-2.7 0.3-2.4 0.2-2 0.3-2.3 0.3-1.3 0.2-2.4 0.3-2.3 0.3-2.6 0.3-2.4 0.2-1.5 0.3-2 0.3-1.7 0.3-2.8 0.3-2.5 0.3-2 0.3-1.2 0.3-2.7 0.3-1.6 0.3-2.1 0.4-2.4 0.3-1.5 0.3-2.6 0.4-1.6 0.4-2.4 0.3-2.5 0.4-1.6 0.4-2.3 0.4-1.9 0.4-3 0.4-1.9 0.4-1.3 0.4-2.4 0.4-2.5 0.4-2.5 0.4-2.3 0.4-1.5 0.4-1.9 0.4-2.5 0.4-2.8 0.4-2.2 0.4-2 0.4-1.7 0.4-2.7 0.4-1.1 0.4-2.4 0.4-1.6 0.4-2.7 0.3-2.2 0.4-1.5 0.4-2 0.3-1.9 0.4-2.3 0.3-1.1 0.4-2.1 0.3-1.4 0.3-1.6 0.3-2 0.3-1.7 0.3-1.5 0.3-1.6 0.3-2.1 0.2-1.1 0.5-3.1 0.5-2.7 0.5-3.8 0.4-2 0.3-2.8 0.4-2.5 0.2-1.3 0.3-2.3 0.2-1.8 0.3-2.1 0.2-1.4 0.2-1.5 0.2-1.5 0.2-1.4 0.2-2.3 0.2-1.8 0.3-1.8 0.2-1 0.3-2.5 0.3-1.6 0.4-2.1 0.3-2.5 0.3-1.4 0.4-2.1 0.3-2.9 0.3-1.4 0.4-1.7 0.3-2 0.4-2.7 0.3-1.3 0.3-1.4 0.4-2.3 0.3-1.8 0.3-2.7 0.4-1.8 0.3-2.3 0.3-1.1 0.3-2.5 0.3-1.7 0.4-1.9 0.3-2.2 0.3-2.7 0.3-1.6 0.3-2.1 0.3-2.6 0.3-1.9 0.3-1.5 0.3-2.6 0.3-1.9 0.4-1.7 0.3-2.5 0.3-2.3 0.3-2 0.3-0.9 0.4-2.7 0.3-2 0.4-2.6 0.4-1.4 0.3-2.5 0.4-1.2 0.3-2.1 0.4-2.2 0.4-1.5 0.3-2 0.4-1.9 0.4-3.1 0.4-1.8 0.4-1.8 0.4-2.3 0.3-1.8 0.4-2.1 0.4-2 0.4-2.7 0.4-1.5 0.4-2.4 0.4-2.7 0.4-2.1 0.4-1.9 0.4-2.2 0.4-2.1 0.4-2.6 0.4-2.7 0.4-1.7 0.3-2.6 0.4-1.8 0.3-2 0.2-0.9 0.3-2.1 0.4-2.9 0.3-1.7 0.2-3 0.2-1.1 0.1-2.3 0.1-1.7 0.2-1 0.2-2.3 0.4-1.5 0.4-2.1 0.5-2.6 0.5-1.5 0.6-2.2 0.6-2.4 0.6-2.3 0.6-2.1 0.6-2.3 0.6-1.9 0.6-2.7 0.5-1.3 0.4-1.8 0.5-2.3 0.5-2.9 0.4-1.7 0.5-2.6 0.5-2 0.4-1.7 0.5-2.2 0.5-2.3 0.4-1.7 0.5-2.6 0.6-1.8 0.5-2.4 0.6-1.7 0.6-2.2 0.6-2.7 0.6-0.7 0.5-2.3 0.6-2 0.5-1.5 0.5-2.7 0.6-1.8 0.5-2.1 0.6-2.2 0.4-1.5 0.5-2.4 0.6-1.7 0.5-2.9 0.6-2.3 0.6-1.7 0.7-1.8 0.6-2.4 0.7-1.9 0.7-1.9 0.8-1.3 0.7-2.4 0.8-1.6 0.9-1.7 1-1.5 0.9-1.9 1-1.7 1.1-1.6 1-1.8 1.1-1.7 1.1-2.3 1.2-2 1.2-2 1.2-2.2 1.3-1.3 1.2-2 1.2-1.1 1.4-2.5 1.4-2.1 1.4-1.3 1.4-2.1 1.4-2.1 1.5-1.3 2.2-1.3 2.3-0.6 2.3 0.1 2.3 0.2 2.2-0.3 2.1 0.9 2.3 1.2 2.5 1.3 1.4 0.9 1.5 0.9 1.6 2.3 1.6 0.5 1.7 2.6 1.6 2 1.7 1.3 1.6 1.6 1.4 1.4 1.4 1.5 1.4 1.5 1.4 2.6 1.4 0.8 1.4 2 1.4 1.7 1.4 1.9 1.4 2.8 1 0.8 0.9 2 0.9 1.5 1 2.1 0.9 1.5 0.9 2.3 1 1.8 0.9 2 1 1.9 0.9 1 1 2.8 0.9 1.1 1 2.2 0.9 1.8 0.8 1.5 0.9 2.6 0.9 1.9 0.8 1 0.9 2.4 0.9 1.8 0.9 2 0.9 1.3 0.9 2.6 0.9 2.2 0.9 1.3 0.9 2.5 0.9 1.1 0.9 2.5 0.8 1.2 0.8 2.7 0.8 1.7 0.9 1.1 0.8 2.3 0.8 2.2 0.9 1 0.8 2.6 0.9 1.4 0.8 2.3 0.8 1.7 0.9 1.8 0.8 1.6 0.8 2.5 0.8 1.1 0.8 2.2 0.8 1.7 0.9 1.4 0.8 2.4 0.9 2.4 0.8 1.1 0.9 2 0.8 2.5 0.8 1.1 0.9 2 0.8 2.1 0.8 1.8 0.8 1.6 0.8 1.5 0.8 2.1 0.9 2.3 0.8 2.2 0.8 1 0.8 2.8 0.8 1.1 0.8 2.8 0.8 1.6 0.8 1.4 0.7 2.1 0.8 2 0.8 1.8 0.8 2.3 0.8 2.7 0.8 1.3 0.7 1.7 0.8 2.4 0.8 2.3 0.7 2 0.8 1.1 0.7 3 0.8 1.7 0.7 1.4 0.8 2.2 0.7 1.8 0.7 2.2 0.8 2.4 0.7 1.6 0.7 2.8 0.7 1.1 0.7 2.2 0.7 1.9 0.8 2.5 0.7 0.9 0.8 2.3 0.8 2.5 0.7 0.9 0.8 2.7 0.8 1.9 0.8 1.7 0.8 1.6 0.7 2 0.8 1.9 0.8 2.1 0.8 1.5 0.7 2.4 0.8 1.5 0.8 1.8 0.9 1.8 0.8 2.2 0.9 2.1 0.9 2 1 1.7 0.9 2.8 0.9 1.7 0.8 2.5 0.9 2 0.8 1.3 0.7 2 0.8 2 0.6 1.4 0.9 2.5 0.7 2.3 0.6 1.6 0.5 1.2 0.4 1.8 0.6 2.7 0.6 2.2 0.8 1.7 0.6 2.5 0.6 1.1 0.6 1.6 0.7 2.4 0.7 1.3 0.7 2 0.8 1.9 0.7 1.8 0.8 2.7 0.8 1.9 0.7 2 0.8 1.7 0.8 2.9 0.7 1.9 0.8 1.7 0.8 1.4 0.8 1.8 0.8 2.7 0.8 1.8 0.8 1.4 0.8 2.7 0.8 1.5 0.8 2.3 0.8 2 0.8 1.4 0.8 1.7 0.7 1.2 0.9 3.1 0.9 1.3 0.9 2.8 0.8 1.4 0.8 2.1 0.9 1.5 0.8 2.2 0.8 2.3 0.8 2.1 0.9 1.9 0.8 1.4 0.8 2 0.9 1.8 0.8 2.8 0.8 2.2 0.9 1 0.8 2.9 0.9 1.5 0.8 1.8 0.9 2.3 0.9 2.4 0.9 1.4 0.9 2.1 0.8 1.3 0.9 1.5 0.9 2.3 0.9 1.5 1 1.6 0.9 2 0.9 2.8 0.9 1.4 1 2.2 0.9 1.9 0.9 1.1 0.9 1.5 0.9 2.2 0.9 2.2 0.8 1.8 0.9 1.8 0.9 1.7 0.9 2.1 0.9 1.7 0.9 2.6 1 1.9 1 2.3 1 2 0.7 1.1 0.8 1.9 0.7 1.8 0.8 2.3 0.7 1.9 0.8 2.2 0.8 1.9 0.8 1.4 0.8 2 0.8 3.1 0.9 1.5 0.8 1.9 0.9 2.1 0.9 1.4 0.9 2.7 0.9 1.7 1 2 1 2 0.9 1.8 1 1.7 1 1.9 1 1.7 1 1.3 1 1.3 1.1 2.3 1.1 1.3 1.1 1.4 1.1 1.6 1.2 1.9 1.2 2.1 1.2 2 1.3 1.7 1.3 1.3 1.4 2.9 1 1.2 1 1.4 1 2.1 1 1 1 1.9 1.1 1.7 1.1 1.9 1.1 1.4 1.1 2.4 1.2 1.1 1.1 1.7 1.2 2.1 1.1 1.4 1.2 2.7 1.2 1.9 1.2 0.8 1.2 2.1 1.3 1.9 1.2 1.8 1.2 1.6 1.2 1.8 1.3 1.8 1.2 2.3 1.3 1.7 1.2 0.7 1.2 2.4 1.2 1.9 1.2 1 1.2 1.8 1.2 1.6 1.2 1.7 1.3 1.2 1.2 1.9 1.2 1.7 1.3 1.4 1.2 1.4 1.3 1.9 1.2 2.2 1.3 1.5 1.3 1.5 1.3 1.3 1.3 1.1 1.3 2.4 1.3 0.7 1.4 1.2 1.3 2.3 1.4 1.2 1.3 0.9 1.4 1.8 1.4 1.5 1.4 0.6 1.5 2.4 1.6 0.5 1.6 1.2 1.5 1.2 1.6 2 1.7 1.2 1.6 1.1 1.6 1.1 1.7 0.6 1.6 1.8 1.7 0.4 1.7 1.3 1.7 1.1 1.7 1.4 1.7 0.7 1.7 1.6 1.7 1 1.7 0.2 1.7 1.9 1.8 0.5 1.7 1.5 1.7 0.6 1.8 0.6 1.7 1.4 1.8 1.3 1.8 0.3 1.8 1.6 1.9 0.1 1.8 1.5 1.8 1 1.8 1.2 1.9 0.7 1.8 1 1.8 0.8 1.9 0.6 1.9 1.2 1.8 0.6 1.9 1.5 1.9 0.3 1.9 0.7 1.9 0.6 2 0.9 1.9 1.1 2 0.9 2 0.1 2 1.3 2 0.5 1.9 0.8 1.9 0.1 1.9 1 1.9 0.9 2 0.6 1.9-0.1 2 0.8 2 0.6 2 0.5 2 0.3 2 0.4 2.1 0.7 2 0.1 2 1.4 2.1-0.2 2 0.7 2.1 0.6 2 0 2.1 0.9 2 0.2 2 0.3 2.1 0.7 2 0.4 2 0.1 2 0.3 2 0.1 2 0 2 0.9 2.1-0.1 2 0.6 2-0.1 2-0.3 2.1 0.2 2 0.5 2 0.3 2.1 0.5 2-0.7 2 1.3 2-0.1 2.1-0.5 2 0.2 2 0.5 2 0.6 1.9-0.3 2-0.1 2 0.4 1.9 0.4 2-1 1.9 0.4 1.9-0.2 2.2 0.7 2.2 0 2.4-0.1 2.3 0.1 2.4 0.2 2.4 0.1 2.3-0.5 2.4 0.7 2.4-0.3 2.3-0.3 2.3 0.5 2.3 0 2.2-0.8 2.1 0.8 2-1.2 1.9 0.8 1.8-0.5 1.7 0.2 1.6-0.1 1.4 0.4 1.3-0.3 1.1 0.1" stroke="#0000CD" stroke-width="1.50" fill="none" stroke-linejoin="round"/>
<path d="M221.7 3297.7l1.1 1.2 1.3-1.1 1.6 3 1.6-2 1.9 1.7 1.9 1.9 2.1-1.7 2.2 2.8 2.2-0.5 2.3-0.3 2.4 0.8 2.3 0.3 2.4-0.5 2.3 2.9 2.3-2 2.2 2.6 2.2-0.3 2.1-3.2 1.9 1 2.2 0.9 2.2 1.3 2.2-2.6 2.1 1.6 2.1-1.2 2 1.4 2.1 0.3 2.1-1 2-2.7 2 1.9 2.1-1.7 2 1.1 2-1.9 2.1 1.2 2-0.1 2.1-1.2 2-0.5 2-0.5 2-1.5 2.1-2.2 2 2.7 2.1-2.6 2-2.4 2.1 1 2-0.7 2.1-1.6 2 2.3 1.9-4.1 1.9 2.4 1.9-2.3 1.8-2.3 1.8-0.2 1.7-0.6 1.8-2.5 1.8 1.3 1.7-1.8 1.5-0.1 1.6-2.1 1.5-1.6 1.4-0.8 1.5-1.8 1.4-2.7 1.5-2 1.4-1.6 1.5-0.4 1.5-1 1.6-1.8 1.6-1.2 1.7-4.5 1.7 0.4 1.8-2.5 1.9 1 1.8-1.1 1.9-1 1.8 0.2 1.9-3.5 1.8 1 1.9-1.6 1.8-2.6 1.7 1.9 1.7-4.9 1.7 0.3 1.6-1.1 1.4-1.1 1.4 0.1 1.3-3.3 1.2-0.2 1.2-4 1.2-0.9 1.2-3.1 1.1 0.3 1.2-2.6 1.1-0.3 1.2-4.5 1.2-0.4 1.2 0.3 1.3-5.6 1.4 0.9 1.4-1.6 1.3-1.3 1.4-2.2 1.4-1.7 1.4 0.3 1.4-4.2 1.5 0.2 1.5-1.7 1.5-1.2 1.5-2.5 1.5-3.4 1.5 1.5 1.6-3.4 1.5 0.5 1.6-0.6 1.5-2.3 1.5-3 1.5 0.4 1.5-3.3 1.6-1.7 1.5-0.4 1.6-1.1 1.6-1.3 1.5-1.9 1.6-2 1.6 0 1.6-3.1 1.5-0.2 1.6-3.8 1.6-0.8 1.5 1.6 1.6-3.9 1.6-0.6 1.6-2.7 1.5 1.5 1.6-3.1 1.6-2.4 1.5-0.5 1.6 1.2 1.6-2.1 1.6-4.4 1.5 2.3 1.6-4.9 1.6 0.2 1.5-1.1 1.6-0.4 1.6-3.8 1.6 1.4 1.5-3.4 1.6 0.8 1.6-0.3 1.5-2.4 1.6-3.2 2 1.6 2.1-1.9 2 0.3 2-0.6 2-3.5 2 1.2 2-0.2 2 0.7 2.1-1.6 2-0.3 2.1 0.5 2.1-2.4 2.2 2.9 1.8-0.9 1.8 0.5 1.9-1.5 1.8 1.9 1.9 0 1.9-0.2 2 3.6 1.9 0.3 1.9-0.7 1.9-0.7 2 4.6 1.9-2.5 1.8 2.5 1.9 1.4 1.8 2.2 1.8 0.4 1.6 0.9 1.5 0.9 1.5 3.1 1.6 0.7 1.5-0.4 1.4 3.2 1.5 2.1 1.5-0.3 1.5 0 1.4 1.5 1.5 5.2 1.4-1.4 1.5 4 1.4-0.8 1.5 1.7 1.5 1.3 1.4 4.2 1.5-1.4 1.5 3 1.5 2.8 1.5 0.3 1.5-0.7 1.5 1.5 1.5 4.6 1.5-0.7 1.6 0.6 1.5 3.2 1.5 2.5 1.5-0.5 1.5 0.8 1.4 1.7 1.5 2.6 1.4 2.8 1.5-1.2 1.4 4.3 1.4 1.3 1.2 1.1 1.3 0.8 1.1 0.2 1.2 3.6 1.2 1.3 1.1 2.8 1.2-0.7 1.1 2.1 1.1 1.2 1.1 3.6 1.2 0.1 1.1 3.7 1.1 1.3 1.1 1.3 1.2 1.1 1.2 4.6 1.1-0.1 1.2 0.1 1.3 3.4 1.2 2.3 1.4 0.4 1.3 3.1 1.3 1.3 1.3 0.7 1.3-1.3 1.3 2.8 1.3 1.7 1.3-0.2 1.3 2.6 1.4 1.9 1.5 1.6 1.5 1.3 1.5 1.3 1.7-0.4 1.7 2.7 1.9 1.1 1.9 2.6 2.1-0.8 1.3 1.2 1.2 3.3 1.4 1.1 1.3-0.8 1.4 3.3 1.4 1.3 1.4 0.7 1.5 0.5 1.4-0.4 1.5 2 1.6 3.4 1.5 2 1.6-1.7 1.6 0.8 1.6 2.6 1.6 3.7 1.7-1.6 1.7 4.2 1.7 0.7 1.7 1.6 1.7 1.9 1.8 0 1.7-0.6 1.8 2.2 1.8 1.1 1.8 2.3 1.9-0.1 1.8 2.7 1.9-1.6 1.8 1.8 1.9 1.1 1.7 0.7 1.7 3.2 1.7 1.4 1.8-2.2 1.8 2.4 1.8-1 1.8 1.8 1.8 1.5 1.9 1.5 1.8 1 1.9 0.8 1.9 0.1 2 1 1.9 0.6 1.9 1.3 2 0.2 1.9 1.4 2 0.4 2 0.9 1.9 1.1 2 0.8 2-0.1 2 1.3 2 0.2 2 0.4 1.9 1.7 2-0.2 2 0.8 2 1.2 1.9 0.8 2 0.1 1.9 1.1 2 0.2 1.9 0.2 1.9 1.3 2 0.1 1.9 0.7 2 0.9 1.9 0.8 2 0.1 2 0.6 1.9 1 2 0.2 1.9 0.9 2 0.7 2 0.1 1.9 1.2 2 0.6 1.9-0.6 2 0.5 1.9 0.6 2 0.9 2 0.3 1.9 1 2 0.7 1.9-0.1 2 0.2 1.9 0.4 2 1.2 2 0.3 1.9 0.5 2 0.6 1.9-0.3 2 0.8 2-0.1 1.9 0.1 2 1.1 1.9 0 2 0.5 2 0.5 2.1-0.1 2 0.1 2.1 1.2 2.1 0.4 2 0.3 2.1-0.2 2.1 0.3 2.1 0.7 2.1 0 2.1 0.7 2.1 0 2.2 0.3 2.1 0.7 2.1-0.6 2 0.3 2.1 0.6 2.1 0.7 2.1 0.3 2 0.2 2.1-0.6 2 0.3 2 0.2 2 0.1 2 0.2 1.9 0.1 2 1 1.9-0.1 1.9 0.7 1.9-0.3 1.8 0.4 1.8 0.4 1.8-0.3 2.3-0.2 2.3 0.4 2.2 0.2 2.1-0.1 2.2 0.6 2.1 0.4 2-0.4 2-0.2 2 0.2 2 0.4 2-0.1 1.9 0.4 1.9 0.7 1.9-0.8 1.9 0.2 1.9 0.4 1.9-0.5 1.9 0.9 1.9 0.2 1.9-1.2 1.9 0.5 1.9 0.5 1.9-0.9 2 0.7 2 0.3 2 0.1 2-0.9 2.1 0.9 2.1-0.4 2.1 0.1 2.1-0.7 2.1-0.2 2.1 0.4 2.1 0.6 2.1-1 2.1 0.8 2.1-0.1 2.1-0.7 2.1-0.1 2 0.5 2-1.2 2 0.5 2-0.6 2 0.6 1.9-0.5 1.8 0 1.9-0.4 1.8 0.4 1.7-0.2 1.7-1.2 2.5 0.4 2.4-0.7 2.3 0.5 2.1-0.3 2.1-0.5 1.9-0.5 2-0.1 1.9-1.2 1.9-0.4 1.8 0.3 1.9-0.7 2-0.9 2 0.1 2.1-0.7 2.1-1.4 2.3 0.5 1.8-0.7 1.9-0.5 2-1.3 2.1-0.6 2.1-0.5 2.1 0.2 2.2-1.4 2.1-0.3 2.2-0.6 2.2-0.5 2.2-0.8 2.2-0.9 2.1-0.1 2-1.2 2.1-0.3 1.9-0.8 1.9-0.9 1.8-0.6 1.7 0.1 1.5-1.5 1.5-0.1 2.5-1.1 2.1-0.9 1.9-1.6 1.6-1.1 1.5-1.2 1.3-2.2 1.2-1.4 1.2-0.4 1.2-1.9 1.3-1 1.3-1.5 1.7-1.7 1.7-1.3 1.6-1.3 1.6-1.1 1.5-2.2 1.5-1.7 1.5-0.9 1.5-1.4 1.5-2.3 1.2-1.7 1.2-0.9 1.2-1.7 1.2-2.7 1.2-1.7 1.1-1.2 1.2-2 1.1-1.7 1-1.8 1.1-2.1 1-0.9 1.2-1.8 1.1-2.2 1-2.2 1-1.4 1-2.3 1-2.1 1-1.3 1-2 1-1.6 0.9-2.3 0.8-2.1 0.9-1.2 0.9-2.4 0.9-1.6 0.8-1 0.9-2.6 0.8-1.9 0.9-1.2 0.8-3 0.8-1.2 0.7-1.9 0.7-1.7 0.8-2.8 0.7-1.6 0.7-2.1 0.7-2.4 0.7-1.9 0.6-2 0.6-2.1 0.6-1.2 0.5-1.9 0.5-2.3 0.4-1.5 0.4-2 0.3-1.9 0.2-2.6 0.2-1.7 0.1-2.2 0.2-2 0.2-0.9 0.3-2.5 0.4-2 0.4-2.3 0.4-2.2 0.5-2.2 0.5-1.6 0.5-1.8 0.6-2.5 0.6-1.8 0.6-1.3 0.6-3 0.6-1.5 0.6-2.3 0.6-1.7 0.6-2.2 0.6-2.2 0.5-1.3 0.5-2.3 0.6-2.5 0.5-1.5 0.5-2.1 0.4-1.8 0.5-2.6 0.5-2.3 0.5-1.6 0.4-1.8 0.5-2.3 0.5-2.6 0.4-1.6 0.5-2.7 0.4-2 0.4-1.3 0.5-2.6 0.4-1.3 0.4-2.2 0.5-2.3 0.4-3 0.4-2 0.4-1.9 0.4-2 0.5-2.3 0.4-2.6 0.3-1.8 0.4-1 0.4-2.5 0.5-2.3 0.4-1.9 0.5-3 0.4-2 0.4-1.9 0.4-2.5 0.5-1.8 0.4-1.6 0.4-2 0.4-2 0.4-1.9 0.5-3 0.4-1.6 0.4-1 0.4-1.3 0.5-2.3 0.4-1.2 0.5-1.8 0.5-2.5 0.5-3.2 0.6-2.7 0.2-1.4 0.3-1.6 0.2-2 0.3-1.6 0.2-2.1 0.3-1.2 0.3-2.3 0.2-1.7 0.3-1.5 0.3-2.6 0.3-2.4 0.3-1.6 0.3-2.1 0.3-2.8 0.2-1.8 0.3-2 0.3-2.9 0.3-1.5 0.3-2.7 0.3-2 0.3-2 0.3-1.5 0.3-3 0.3-1.9 0.3-1.1 0.2-3 0.3-1.6 0.3-1.7 0.4-2.5 0.3-1.8 0.4-2.8 0.3-1.4 0.3-2.6 0.4-2.2 0.3-1.5 0.3-2.4 0.4-1.8 0.3-1.3 0.3-2 0.3-2.1 0.4-2.1 0.3-2.6 0.3-1.5 0.4-1.4 0.3-2 0.3-2.8 0.4-1.5 0.3-1.7 0.3-2.1 0.4-2.2 0.3-2.2 0.4-1.7 0.3-2.6 0.4-0.9 0.3-3.1 0.4-1.8 0.3-1.1 0.4-2.5 0.4-2.5 0.3-1.9 0.3-1.7 0.4-2.4 0.3-2.2 0.4-1.9 0.3-2 0.3-1.8 0.3-1.6 0.3-2.5 0.3-1.6 0.3-2.2 0.2-1.7 0.3-1.9 0.2-2.1 0.3-1.4 0.2-1.5 0.2-2.2 0.2-1.4 0.2-2.3 0.2-1.8 0.2-2.1 0.2-1.8 0.2-1.9 0.3-1.4 0.2-2.6 0.2-1.9 0.3-2.1 0.2-3 0.3-2.5 0.3-1.9 0.3-2.9 0.2-1.3 0.2-2 0.2-1.3 0.2-2 0.3-2.1 0.2-1.3 0.3-1.6 0.2-2.8 0.3-1.7 0.2-2.3 0.3-1.3 0.2-2.9 0.3-2.4 0.3-1.1 0.2-2.3 0.3-2.4 0.3-2.7 0.2-1.8 0.3-2 0.3-2 0.2-2.6 0.3-2 0.3-2.3 0.2-2.1 0.3-2 0.2-1.8 0.3-1.9 0.2-1.7 0.3-2.7 0.2-1.1 0.2-2.6 0.3-2.1 0.2-1.1 0.2-1.4 0.3-2.4 0.3-2.9 0.2-1.8 0.3-2.3 0.2-2.8 0.3-2 0.2-2.1 0.2-2.1 0.2-3 0.3-1.7 0.2-2.6 0.2-2 0.2-1.5 0.2-2.4 0.2-2.1 0.2-0.7 0.2-3 0.3-1 0.2-2.3 0.2-1.9 0.2-1.7 0.3-1.7 0.2-2.4 0.3-0.8 0.4-2.4 0.4-2.6 0.4-2.7 0.4-2 0.5-2.9 0.4-1.7 0.5-1.8 0.4-2.1 0.5-1.7 0.4-2.8 0.4-1.1 0.5-3 0.4-1.8 0.4-1 0.4-2.9 0.4-0.7 0.3-2.2 0.4-2.7 0.3-1.8 0.4-2.3 0.3-1.4 0.2-2.2 0.3-1.1 0.3-1.5 0.2-2.3 0.3-2 0.2-1.5 0.3-1.9 0.3-2.9 0.3-1.9 0.4-2.3 0.2-2 0.3-2.3 0.2-0.9 0.2-2.7 0.3-1.6 0.2-2.1 0.3-1.9 0.3-1.5 0.2-2.8 0.3-1.7 0.3-2.1 0.2-1.7 0.3-2.6 0.3-2.2 0.3-2.3 0.3-1.8 0.3-1.9 0.3-2.7 0.3-1.6 0.3-2.7 0.3-2.2 0.3-2.2 0.3-1.8 0.3-1.9 0.4-2.1 0.3-1.9 0.4-1.9 0.3-2 0.4-3 0.4-1.9 0.4-1.6 0.4-1.8 0.4-3.1 0.3-1.5 0.4-2.6 0.4-1.2 0.4-2 0.4-2.3 0.4-2.3 0.4-1.6 0.3-1.9 0.4-2.6 0.3-1.1 0.4-2.3 0.3-2.2 0.3-1.8 0.4-2 0.5-3 0.4-1.3 0.3-2.7 0.4-1.4 0.3-2 0.3-2.4 0.4-1.2 0.3-2.6 0.3-2.1 0.4-1.4 0.3-1.6 0.4-2.1 0.5-2.6 0.4-2.4 0.4-1.5 0.4-1.3 0.5-2.7 0.4-2.2 0.5-1.2 0.5-2.2 0.5-2.5 0.5-2 0.5-2.6 0.6-1.5 0.5-2.1 0.5-2.4 0.4-2 0.5-2 0.5-1.9 0.4-1.3 0.4-1.9 0.4-1.3 0.6-2.4 0.6-3.5 0.6-1.5 0.5-2.9 0.4-1.4 0.5-2.9 0.4-0.9 0.4-2.3 0.4-1.5 0.4-1.9 0.6-2.8 0.5-2.6 0.5-1.6 0.5-1.2 0.7-3.2 0.4-2 0.5-1.2 0.6-2.1 0.5-2.2 0.6-2.8 0.6-2.3 0.6-1.8 0.6-2.7 0.6-1.7 0.6-2.7 0.6-2.2 0.6-1.9 0.7-1.5 0.6-2.8 0.6-1.7 0.6-2.6 0.7-1.3 0.6-2.4 0.6-1.5 0.8-2.1 0.7-1.9 0.7-2.1 0.8-2.3 0.8-1.3 0.8-2.6 1-1.8 1-1.2 1.1-1.8 1.1-2.5 1.2-1.3 1.3-0.9 1.3-1.4 1.5-2.1 1.6-1.9 1.7-0.4 1.8-1.9 1.9-1.1 1.9-0.8 1.9-1.7 1.8-0.2 2.1-1.5 2-0.6 2.1-0.9 2.1 0.1 2.1-0.7 2.2 1 1.9-0.1 2-0.5 2 0.5 2.1 0.8 2 1.5 2.1 0.6 2 1.2 1.8 0.7 1.7 0.9 1.8 1.2 1.7 1.5 1.7 0.8 1.8 1.8 1.7 1.7 1.8 1.2 1.6 0.9 1.5 1.6 1.6 1.5 1.6 1.5 1.5 1.1 1.6 1.7 1.6 2.3 1.5 1.3 1.6 1.7 1.4 1.9 1.4 0.9 1.4 1.7 1.4 1 1.4 1.6 1.5 2.5 1.4 1.5 1.4 1.2 1.4 1.9 1.5 1.4 1.3 1.6 1.4 2.2 1.3 0.5 1.4 2.4 1.3 1.4 1.4 2 1.4 1.2 1.3 1.8 1.4 1.6 1.4 2.6 1.4 0.9 1.2 1.7 1.2 1.8 1.3 2.2 1.3 1.4 1.3 1.8 1.3 1.1 1.2 1.8 1.3 2.2 1.2 1 1.2 1.7 1.1 1.5 1.1 1.7 1 1 1.3 2.2 1.1 2 1 2.4 0.9 2.1 0.9 2.1 0.9 2 0.9 1.1 1.1 2.2 1.2 2.1 1 1.8 1.1 1.6 1.1 1.1 1.1 2.1 1.2 1.3 1.2 1.6 1.2 2 1.3 1.5 1.2 0.9 1.2 2.4 1.2 1 1.2 2.3 1 1.6 1.1 2.1 1.1 1.9 1.1 1.5 1.1 1.8 1.1 1.8 1.1 3 1 1.9 1.1 1.3 1 1.8 0.9 1.7 0.9 2.5 0.9 1 0.7 1.1 1.3 2.7 0.7 2.1 0.5 0.7 0.5 1.9 1 1.3 1.6 2.6 0.8 1.7 0.9 1.4 0.9 1.2 0.9 1.6 1 0.4 1.1 1.5 1.1 1.3 1.2 2.2 1.2 0.9 1.3 1.7 1.4 2.5 1.4 1.9 1.4 1.5 1.5 2.4 1.6 2.9 1.6 2.1 0.8 1.5 0.9 1.1 1 2.2 0.9 1.1 1 2 1.1 1.4 1 1.3 1.1 1.6 1.1 2.7 1.1 2 1.2 1.3 1.1 2.7 1.2 1.8 1.2 2 1.1 1.8 1.2 2.1 1.2 1.5 1.1 2.7 1.2 1.8 1.1 2 1.2 1.4 1.1 2.9 1.1 1.3 1 2.2 1.1 0.9 1 2 0.9 1.7 1 2 0.9 1.2 0.8 2.3 0.8 1 0.8 1.4 1.7 2 1.4 2.9 1.2 2.5 1.1 1.4 0.9 1.9 0.8 1.2 0.8 1.8 0.8 1.2 0.8 1.6 0.8 0.7 1 2 1.1 1.8 1.3 2.6 0.9 1.4 1 1.6 1 1.5 1 1.3 1.1 2.2 1.1 1.8 1.2 1.7 1.2 1.9 1.2 1.9 1.1 2.3 1.2 0.9 1.2 2.2 1.2 2.3 1.2 1.2 1.1 2.7 1.1 1.5 1.1 1.6 1 1.4 0.9 2.1 1 0.7 0.8 1.7 1.5 2.8 1.3 1.1 1.1 2.7 0.9 1.3 0.9 1.1 0.9 1.5 0.9 1.8 1.1 2.1 1.3 1.4 1.5 2.5 1 1.1 1 1.5 1.1 1.3 1.2 1.1 1.2 2.7 1.2 1.1 1.3 1.5 1.3 1.8 1.3 2 1.3 1.6 1.4 1.5 1.4 1.7 1.3 2.4 1.4 1.3 1.3 2.2 1.3 1.1 1.3 1.9 1.3 1 1.5 1.8 1.5 2.1 1.5 1.1 1.5 1.8 1.5 1.5 1.5 1.5 1.5 2 1.5 1.5 1.6 1.1 1.5 1.5 1.5 0.8 1.5 1.5 1.5 1.6 1.5 2.2 1.5 0.9 1.4 1.8 1.4 1 1.5 2 1.4 1.5 1.4 1.5 1.4 0.5 1.4 2.2 1.4 0.8 1.5 2 1.4 1.6 1.4 1.7 1.4 0.5 1.4 1.6 1.5 1.2 1.4 1.1 1.4 1.2 1.7 1.6 1.7 2 1.6 0.7 1.6 1.8 1.6 0.8 1.6 1.8 1.6 0.2 1.7 1.4 1.7 1 1.8 1.2 1.9 1 2 2.1 2.1 0.9 1.5 0.9 1.6 1 1.7 0.4 1.7 0.9 1.8 1.4 1.8 0.8 1.9 1.2 1.8 1.5 1.9 1 1.9 0.3 1.9 1.1 1.9 1.8 1.9 0.1 1.9 1.7 1.8 1.2 1.9 0.3 1.7 0.8 1.7 1.5 1.7 0.6 2.1 0.7 2 1 1.9 0.7 1.7 0.8 1.8 1.1 1.7 0.8 1.7 0.8 1.8 0.1 1.8 0.2 1.9 0.9 2.1 0.5 2.2 0.5 2.4 0.7 2.7 1.2 1.6 0.3 1.7-0.2 1.7 0.3 1.8 1.3 1.9-0.6 1.9 0.3 1.9 0.5 2 1.2 2.1-0.5 2 1.4 2.1-0.3 2.2 1 2.1-0.7 2.1 0.4 2.2 0.3 2.1 1.5 2.2 0.3 2.1 0 2.2-0.1 2.1 0.8 2-0.2 2.1 0.5 2 0 2-0.3 1.9 0.6 2.2-0.1 2.2-0.7 2.4-0.2 2.3 0.6 2.4-0.8 2.4 0.1 2.3 0.2 2.4-0.2 2.4-0.7 2.3 0 2.3-0.9 2.3 0.7 2.2-1.1 2.1 0.4 2-0.2 1.9-1.2 1.8 0.8 1.7-0.9 1.6-0.6 1.4-0.3 1.3 0.4 1.1 0.1" stroke="#EE5E0C" stroke-width="1.50" fill="none" stroke-linejoin="round"/>
<path d="M236.7 3206.9l1-3.1 1.1 3.6 1.3 0.2 1.6 3 1.7-0.9 2 3.2 2.3-2.1 2.6 4.1 3-1.9 1.5-0.9 1.6 0.7 1.7 1.1 1.8-2.5 1.9 1.3 2-1.7 2 0.1 2.1 0.2 2.2-0.1 2.2-0.1 2.1 1.8 2.3-1.8 2.2 1.4 2.1-0.2 2.2-0.4 2.1-0.2 2.1-1.9 2.1 0 1.9 0.4 1.9-1.7 2.1-2.1 2.1 1 2.1-0.5 2-2 2-0.9 2-0.2 1.9 1.4 2-0.2 1.9-1.3 1.9-1.6 1.9-2.3 1.9-0.9 1.9 1.9 1.9-1.3 1.9-1.2 1.9-2 2-1.1 1.8-0.6 1.7-1.1 1.8 1 1.7-2.1 1.8 0.1 1.7-1.4 1.8-0.5 1.7-0.2 1.8-0.9 1.7-3.6 1.8 2.2 1.7-1.5 1.8-1.3 1.7-2.6 1.8 0.8 1.7-1.7 1.8-3.6 1.7 0.5 1.8-0.6 1.5-1.5 1.6-0.6 1.5-2.7 1.5-0.6 1.6-3.6 1.6 1.1 1.5-3.4 1.6 1 1.5-0.6 1.6-3.4 1.6-2.6 1.5-1.5 1.5 0.5 1.6-2.8 1.5 0.9 1.5-2 1.5-1.9 1.4-0.8 1.5-3.6 1.4-0.3 1.4-3.2 1.4 0.4 1.2-0.5 1.3-4.2 1.2 0.6 1.2-0.5 1.2-4.4 1.1-2.3 1.2-1.6 1.1 0.5 1.1-4.9 1.2 0.9 1.1-3.9 1.1 0.1 1.1-1.3 1.1-2 1-4.4 1.1-0.4 1.1-2.6 1 0.6 1.1-4 1-2 1.1-0.5 1-2.6 1.1-0.7 1 0.7 1.9-3.3 1.8-2.1 1.8 1.8 1.8-3.7 1.8 1.3 1.7-1.1 1.7-1.1 1.7-0.3 1.8-0.9 1.8 0.2 1.8-1.5 1.8-2.9 1.9 0 1.2-1.7 1.3 0.4 1.2-4.6 1.2-0.2 1.2 0.5 1.2-5.2 1.3 1 1.2-1 1.2-2.9 1.3-4 1.3 1.2 1.3-3.8 1.3-0.7 1.4-0.4 1.4-3.6 1.5-1.7 1.4-2 1.6-0.3 1.6-2.2 1.6 1.4 1.7-0.4 1.8-3.9 1.9 1.1 2 0.3 2-0.7 2-2.6 2.1 0.5 2.2 0.1 2.1-1.1 2.2 1.6 2.2-0.7 2.1-0.1 2.2-3.6 2.1-0.7 2 2.1 2-0.2 2-1.4 1.9-0.2 1.8 2 1.7 0 2.5-3.3 2.4 0.4 2.2 2.4 2.2-1.2 2.1-0.9 2 3.4 2-2.2 1.9-0.6 1.9 1.9 1.8 0.6 1.9 1.8 1.9 1.4 1.9-1.6 1.4 2.6 1.4 2.8 1.4-0.4 1.3 3 1.3 1.5 1.3 1.1 1.2 1 1.3-0.5 1.3 5.2 1.3-1 1.3 1.8 1.3 2.6 1.4 1.9 1.4 2.7 1.5 0.8 1.6 3.3 1.6 1.1 1.3 0.8 1.3-0.3 1.3 2.7 1.4 0.7 1.4 2.2 1.4-0.7 1.4 3.3 1.4 0.9 1.5-0.9 1.5 4.2 1.5-0.5 1.5 1.1 1.5 0.9 1.6 1.5 1.6 3.1 1.6 1.9 1.6-0.4 1.7 1.8 1.6 1.3 1.7 0.3 1.8 4.8 1.7-0.1 1.2-0.4 1.2 2.2 1.2 1.6 1.3 3.3 1.3-1 1.3 1.4 1.3 4.5 1.3-0.8 1.3 4 1.4-2 1.4 1.9 1.4 2.1 1.4 2.4 1.3 2.3 1.4 0.8 1.4 4.2 1.5 1.6 1.4 0.2 1.4 3.3 1.3 1.2 1.4 2.1 1.4 0.1 1.4-0.3 1.4 3.4 1.3-0.5 1.3 2.9 1.3 3.8 1.3-0.9 1.3 2.5 1.3 2.5 1.2 0.3 1.2-0.1 1.2 1.8 1.8 0.2 1.8 4.3 1.7 1.1 1.7 0.2 1.6 1.9 1.7 3.1 1.6-1.9 1.5 2 1.6 2.9 1.5 1.8 1.6 0.2 1.5 1.5 1.5-1.4 1.5 3.4 1.5 1 1.5-0.9 1.5 2.9 1.5 0 1.6 1.4 1.5 2.9 1.6 1.2 1.7-2 1.7 1.4 1.7 3.4 1.6 2.2 1.7 0 1.6-0.1 1.6 2.6 1.6 1.7 1.6-2.4 1.7 0.9 1.7 2.6 1.7 2.1 1.7 0.3 1.8 0.8 1.9-0.3 1.9 1 2 0.6 2 2.8 2.2 0.8 1.6 1.1 1.5 0.7 1.6 0.5 1.7 1.3 1.6 0.3 1.7 0.9 1.7 0.8 1.7 1 1.7 1.1 1.8 0.5 1.8-0.1 1.8 1.7 1.8 0.5 1.9 0.9 1.8 0 1.9 0.7 1.9 0.8 2 0.9 2 0.7 1.9 1.5 2.1 0.8 2 0.3 2 0.5 2.1 1 2.1 0.4 2.2 0.9 2.1 0.9 1.7 1.1 1.8 0.4 1.8-0.1 1.8 1.4 1.8 0.8 1.9 0.4 1.8-0.3 1.9 1.1 1.9 1 2-0.2 1.9 1 2 0.6 1.9 1 2 0.4 2 0.1 2 0.7 2.1 0.1 2 1.3 2-0.1 2 1.1 2.1-0.1 2 1.2 2.1 0.6 2-0.3 2 0.9 2.1 0.2 2 0.9 2 0.2 2 1.3 2.1 0.3 2-0.4 2 0.6 1.9 0.5 2 0.3 2 0.9 2.1 0.6 2 0.1 2.1 0.4 2.1 0 2 0.7 2.1 0.9 2.1-0.6 2.1 0.5 2.1 0.7 2.1 0.3 2.1 0 2.2 1 2.1 0.6 2.1-0.3 2 0.9 2.1 0.2 2.1 0.1 2.1-0.3 2 0.6 2.1 0.7 2 0.2 2-0.2 2 0 2 0.2 1.9 0.4 2 0.8 1.9-0.3 1.9 0.4 1.9-0.2 1.8 0.6 1.8-0.1 1.8 0.1 2.3 0.4 2.3 0.7 2.2 0.5 2.1 0.4 2.2-0.2 2.1 0.6 2 0.6 2-0.8 2 0.8 2-0.1 2 1.1 1.9-0.8 1.9 0.4 1.9 0.3 1.9 0.6 1.9 0.1 1.9-0.6 1.9 0.7 1.9 0 1.9-0.1 1.9 0 1.9 0.6 1.9 0.5 2 0.3 2-0.8 2 0.1 1.9 0.5 1.9 0 1.9-0.1 1.9-0.2 1.8 0.9 1.8-0.5 1.9 0 1.8 0.3 1.8-0.4 1.8 0.5 1.9-0.5 1.8 0.3 1.9 0.3 2 0.1 1.9 0.2 2-0.4 2-0.9 2.1 0.5 2.2-0.7 2.2-0.3 2.2 0.3 2.4-0.8 2.4 0.3 2.5-0.9 1.7-0.7 1.7-0.4 1.8-0.4 1.8 0.7 1.9-0.4 1.9-1 2 0.2 2-0.7 2-0.4 2.1-0.6 2.1-0.3 2.1-1.3 2.2 0.2 2.2-0.7 2.1-0.7 2.2-0.7 2.2 0 2.2-0.4 2.2-0.7 2.2-1.3 2.2-0.6 2.2 0.1 2.2-0.6 2.1-1.3 2.2-0.7 2.1 0.4 2-0.5 2.1-0.8 2-1 2-1.3 1.9-0.4 1.9-0.7 1.8-0.5 1.8-0.1 1.7-0.7 1.6-1.6 1.6-0.2 1.5-0.3 1.5-0.6 2.3-1.8 2.2-1.6 2.1-0.6 1.9-2 1.8-0.5 1.7-1.2 1.7-1.3 1.5-1.5 1.5-2.1 1.3-1 1.4-1.7 1.2-1.7 1.2-0.6 1.2-2.3 1.2-0.9 1.1-1.9 1.1-1.2 1.1-1.9 1.1-1.3 1.2-1.3 1.1-2.6 1.2-1 1.2-2 1.1-1.1 1.1-2.3 1-0.9 1.1-2.1 1-2.5 1.1-1.6 1-1.3 1-1.8 1-1.4 0.9-2.4 1-1.5 0.9-2.2 1-2.1 0.9-1.3 0.9-2.3 0.8-2.3 0.9-1.7 0.8-2.2 0.8-1 0.8-1.7 0.8-1.8 0.7-2.3 0.8-2.1 0.7-1.2 0.6-1.7 0.7-1.2 0.8-2.9 0.8-1.5 0.7-2.5 0.6-1.8 0.6-1.7 0.5-2.2 0.5-2.4 0.5-1.6 0.4-1.2 0.4-1.8 0.4-2.2 0.4-1.8 0.4-1.3 0.5-2.5 0.4-2.1 0.5-1.9 0.5-1.6 0.5-2.2 0.6-2.2 0.5-1 0.5-2.9 0.5-0.8 0.5-2.2 0.5-1.6 0.6-1.7 0.5-1.6 0.5-2 0.6-1.6 0.5-1.3 0.6-1.1 0.6-2.8 0.5-1.1 0.6-2.3 0.6-1.8 0.6-2.2 0.6-1.6 0.6-2.5 0.6-2.3 0.6-2.5 0.6-2 0.6-2.2 0.7-3.3 0.6-2.4 0.3-2 0.4-1.3 0.3-1.8 0.4-1.1 0.3-2.5 0.4-0.9 0.4-2.7 0.3-1 0.4-2.3 0.4-1.7 0.3-2.2 0.4-1.7 0.4-1.6 0.4-2 0.3-1.9 0.4-2.6 0.4-1.6 0.4-1.7 0.4-2.5 0.3-1.6 0.4-2.2 0.4-2.9 0.4-1.6 0.4-2.3 0.4-1.8 0.4-2.9 0.4-1.4 0.3-1.8 0.4-2.3 0.4-2 0.4-3.2 0.4-1.8 0.4-2.3 0.4-1.7 0.4-2.8 0.3-1.1 0.4-2.8 0.4-2.3 0.4-1.7 0.4-2.1 0.3-1.9 0.4-2.6 0.4-1.7 0.3-2.3 0.4-2 0.4-1.8 0.3-1.6 0.4-3.1 0.3-0.9 0.4-2.8 0.4-1.7 0.3-1.9 0.4-2 0.4-1.7 0.3-2.7 0.4-1.7 0.3-1.8 0.4-2.6 0.3-1.7 0.4-1.7 0.4-2.8 0.3-1.9 0.4-1.7 0.3-1.7 0.4-2.2 0.3-1.7 0.4-2.2 0.3-1.8 0.4-1.7 0.3-2.2 0.4-2.7 0.3-2 0.4-1.7 0.3-2.3 0.4-1.7 0.3-2.4 0.4-1.6 0.3-2.2 0.4-1.8 0.3-1.5 0.3-1.9 0.4-3 0.3-1.4 0.4-1.7 0.3-2.7 0.3-1.2 0.4-2.7 0.3-1.2 0.4-2.8 0.3-1.7 0.3-1.9 0.4-2.3 0.3-1.5 0.3-2.8 0.4-1.3 0.3-2 0.3-1.8 0.4-2.4 0.3-1.7 0.3-2.8 0.4-1.3 0.3-2.8 0.3-1 0.4-2 0.3-3.1 0.3-0.9 0.3-2.3 0.4-1.9 0.3-1.7 0.3-2.6 0.3-1.8 0.4-1.9 0.3-2.3 0.3-1.7 0.3-1.8 0.4-2.1 0.3-1.9 0.3-2.4 0.3-2.6 0.3-2 0.3-1.1 0.4-2.1 0.3-1.9 0.3-2.7 0.3-1.6 0.3-2.5 0.3-1 0.3-2.2 0.4-2 0.3-1.9 0.3-2 0.3-3 0.3-1.3 0.3-2.3 0.3-1.8 0.3-2.6 0.3-1.6 0.3-1.3 0.3-2.4 0.3-1.9 0.3-2 0.3-2 0.3-2.8 0.3-1.5 0.3-1.8 0.3-1.8 0.2-2.5 0.3-2.4 0.3-1.7 0.3-1.5 0.3-2.6 0.3-2.3 0.2-0.9 0.3-2.1 0.3-2.7 0.3-1.4 0.3-2.2 0.3-1.8 0.2-2.8 0.3-1.2 0.3-1.8 0.3-2.2 0.3-1.7 0.2-2.8 0.3-1.6 0.3-2.7 0.3-2.1 0.3-1.8 0.3-1.3 0.3-1.7 0.2-2.1 0.3-2.2 0.3-2.8 0.3-1.2 0.3-1.9 0.3-2.8 0.3-2 0.3-2 0.3-1.1 0.3-2.8 0.3-1.6 0.3-2.6 0.3-1.8 0.3-1.2 0.3-2.3 0.3-2.3 0.3-1.3 0.3-2.7 0.3-1.4 0.4-3 0.3-2.1 0.3-1.1 0.3-2.5 0.3-1.8 0.3-1.6 0.3-2.8 0.3-1.1 0.3-2.2 0.4-2.6 0.3-1.1 0.3-2.6 0.3-2.5 0.3-2.1 0.3-1.6 0.4-1.2 0.3-2.1 0.3-2.7 0.3-1.5 0.3-1.8 0.4-2.2 0.3-2.8 0.3-1 0.3-2.5 0.4-2.4 0.3-2.2 0.3-1.1 0.3-2.7 0.4-1.9 0.3-2.1 0.3-1.1 0.4-2.9 0.3-1.5 0.3-2.7 0.4-1.4 0.3-2 0.3-1.5 0.4-2.3 0.3-2.3 0.4-2.5 0.4-2.2 0.3-1.8 0.4-2.3 0.4-2.3 0.4-2.3 0.4-2 0.4-2.5 0.4-2.5 0.3-2 0.4-1.3 0.4-2.4 0.4-2.9 0.4-2.6 0.4-1.8 0.4-2.1 0.4-2.9 0.4-1.8 0.4-2.2 0.4-2.4 0.4-1.9 0.4-2.5 0.4-2.3 0.4-2 0.3-2.1 0.4-2 0.4-2 0.3-1.7 0.4-1.5 0.3-2.4 0.4-1.9 0.3-1.6 0.3-1.8 0.3-1.9 0.3-1.5 0.3-1.7 0.3-1.4 0.3-1.5 0.3-2 0.2-0.3 0.3-2.2 0.2-0.4 1-6 0.7-3.3 0.5-2.5 0.4-1.1 0.3-1.5 0.2-1.4 0.3 0.1 0.3-1.5 0.5-2.2 0.5-2 0.5-1.1 0.6-2.5 0.5-2.7 0.6-1.2 0.6-2.5 0.6-2.1 0.6-2 0.5-1.9 0.6-2.2 0.6-1.9 0.5-3 0.6-1.6 0.6-2.8 0.5-1.9 0.6-1.6 0.6-2.5 0.6-2.5 0.5-1.1 0.6-2 0.6-2.4 0.5-2.5 0.6-1.7 0.5-2.2 0.6-2 0.6-3.2 0.5-1.7 0.6-2.4 0.5-1.7 0.6-2 0.7-2.3 0.7-2.5 0.7-1.3 0.7-3.1 0.7-1.8 0.7-2.1 0.7-1.1 0.7-2.8 0.7-1.9 0.6-1.9 0.7-1.9 0.6-1.4 0.7-2.1 0.7-2.8 0.8-0.8 0.8-2.5 0.9-1.2 1-2.4 1-1.3 1-1.6 1.1-2.4 1.1-1.9 1.2-0.9 1.1-2.5 1.2-1.6 1.2-1.8 1.2-1.7 1.3-1.5 1.2-1.8 1.3-1 1.3-1 1.2-1.5 1.6-1.9 1.6-2.5 1.6-1.5 1.6-0.3 1.7-2.2 1.7-0.5 2.1-0.9 2.2-0.3 2.2-1.3 2.3 0 2.5-0.8 1.9 0.9 1.9-0.5 2 0.4 2.1-0.6 2 1.2 2.1-0.1 2 0.6 1.8 1.1 1.7 0 1.8 1.9 1.7 0.7 1.8 1.1 1.8 1.2 1.7 1.3 1.8 1 1.8 0.9 1.8 1.2 1.8 1.1 1.8 1.9 1.7 1.2 1.8 1.5 1.7 1.2 1.6 1.6 1.7 0.3 1.7 1.4 1.5 0.4 1.6 1.4 1.5 1.5 1.7 0.9 1.7 1.5 1.3 2.1 1.4 0.9 1.4 2 1.4 0.8 1.5 2.5 1.4 1.3 1.5 1.6 1.4 2.5 1.4 1.2 1.4 2.1 1.2 1.3 1.2 2.4 1.2 0.9 1.2 2.5 1.1 1.3 1.2 1.4 1.2 2 1.1 1.6 1.2 2.7 1.1 1.6 1.2 1.5 1.2 1.7 1.1 1.8 1.2 2 1.2 1.6 1.1 1.4 1.2 1.1 1.2 2 1.2 1.9 1.2 1.9 1.2 1.5 1.2 1.5 1.1 1.6 1.2 1.3 1.1 2.4 1.2 1.1 1.2 2.3 1.1 1.6 1.2 1 1.2 2 1.2 0.9 1.1 1.8 1.2 2.6 1.2 1.3 1 2.2 1 1.7 1 1.7 1 0.8 1 2.1 1 2.4 1 1.4 1.1 2.1 1 2.3 1 1.5 1 1.2 1 2.5 1 2.1 1 1.4 1.1 2.2 1.1 2.2 1.1 0.8 1 2.1 1.1 2.5 1.1 1.5 1.1 1.2 1.1 2.6 1.1 1.2 1.1 1.9 1 1.5 1.1 2.9 1.1 1.3 1.1 1.3 1.1 2.5 1 1.4 1.1 2.2 1.1 1.3 1.1 2.3 1 2.3 1.1 1.7 1.1 1.3 1.1 1.7 1 2.5 1.1 1.4 1.1 1.5 1.1 2.3 1.1 1.6 1.1 2.5 1.1 1 1.1 2.6 1.2 1.9 1.1 1.1 1.1 2.3 1.1 1.6 1 2.6 1.1 0.7 1 1.9 1 2.7 1 1.6 0.9 1.8 0.9 1.5 0.9 1.5 0.8 2.4 0.8 1.9 0.9 1.7 0.8 1.5 1 2 0.9 2 1.1 2.7 1.2 2.1 0.9 0.6 0.9 1.7 1 2.1 1 1 1 2.4 1 1.2 1.1 2.3 1.1 1.6 1.1 1.5 1.1 2 1.2 1.8 1.1 1.9 1.2 1 1.2 2.2 1.2 2.5 1.2 1.1 1.2 2.1 1 1.9 1 1.4 1 2 1 1.5 1.1 2.2 1.1 1.6 1 0.9 1.1 2.1 1.1 2.3 1.1 0.9 1.1 2.7 1.1 1.2 1.1 1.8 1.1 1.9 1.1 1.8 1.1 2.1 1.1 1.6 1.1 0.9 1.1 2.4 1.1 1.3 1.1 1.4 1.1 2.9 1.1 1.6 1 0.8 1.1 1.9 1.1 2.3 1.1 2.1 1.1 2 1 1 1.1 1.7 1.1 1.8 1.1 1.9 1.1 1.7 1.1 2.2 1 2.3 1.1 1.4 1.1 0.9 1.1 1.8 1.1 2 1 2 1.1 1.4 1.1 0.8 1.4 2.2 1.4 2.1 1.4 1.1 1.5 2.4 1.4 0.6 1.4 2.2 1.4 1.1 1.4 2 1.4 1.3 1.4 1.8 1.4 1.3 1.4 1 1.5 1 1.4 2.1 1.4 1.8 1.4 1.1 1.3 2.2 1.4 1.2 1.3 1.1 1.3 2 1.4 2 1.3 1.2 1.3 2.4 1.4 0.6 1.3 1.7 1.4 2.5 1.3 1.7 1.3 1.3 1.4 2.2 1.3 1 1.3 1.3 1.4 1.7 1.3 1.4 1.6 0.9 1.6 1.5 1.6 1.5 1.7 2 1.6 0.9 1.6 1.7 1.6 0.6 1.6 2 1.6 0.2 1.6 2.1 1.7 1 1.6 0.6 1.6 1.2 1.6 1.6 1.6 1.6 1.5 1.6 1.5 0.3 1.5 1.6 1.5 2.2 1.5 0.5 1.5 1.4 1.5 1.1 1.6 2.1 1.6 1 1.7 1.1 1.8 1.4 1.8 1.6 2 0.5 1.6 0.8 1.7 2 1.7-0.1 1.8 1.3 1.8 0.8 1.9 1.5 1.9 0.9 1.9 0 2 1.4 2 0.4 2 1.2 1.9 0.9 2 0.9 2 1.1 2 1.2 2 0.8 1.9 0.8 1.9 0 2 1.1 1.9 0.5 2 0.5 1.9 0.9 1.9 1.3 1.8 0.2 1.9 0.9 1.9 1 2 0.7 1.9 0.6 2 0.6 2 0.3 2 0.8 2.1 0.9 2.2 0.7 2.2-0.1 2.3 0.4 1.8 1.1 1.9-0.9 2 1.1 2-0.5 2 0.9 2.1-0.7 2.1 0.1 2.1 1.2 2.1-0.8 2.2 1 2.2-0.9 2.1 1.1 2.2-0.2 2.1 0.1 2.2-0.3 2.1 0.2 2.1-0.2 2.1-0.1 2 0.7 2-0.1 1.9-0.3 1.9 0.3 2.3-0.9 2.3 0.5 2.4 0.4 2.4 0.2 2.3-1.1 2.4 0.3 2.3 0.6 2.3-1.2 2.3 0.1 2.1 0.3 2.1-0.2 2-0.3 1.9-0.4 1.7-0.1 1.7 0.1 1.4 0.8 1.3-1 1.1 0.9" stroke="#EE5E0C" stroke-width="1.50" fill="none" stroke-linejoin="round"/>
<path d="M228.3 3167.2l1.1 1.3 1.3-1.3 1.4 1.4 1.6 1.4 1.7-1.1 1.8 1.4 2 0.6 2 1.2 2.1-2.6 2.2 1.2 2.3 3.9 2.3-0.3 2.3-1.4 2.3 2.5 2.3-1.7 2.3 1.2 2.3 0.8 2.2-0.6 2.1-0.1 2.1 1.7 2 0.6 2-1.4 2.1 1.3 2.1 1 2-4 2.1 0.5 2-1.2 2.1 1.9 2-1.6 2.1-0.5 2-1.4 2.1 1.5 2-0.7 2-1.9 1.9 0.8 2-3 2-0.2 1.9 1.8 1.9-3.5 1.9-0.9 1.8-1 2.1 2 2.1 0.1 2.1-3.5 2 1.3 2-0.7 1.9-0.7 2-0.8 1.9 0.2 1.9-1.4 1.9 2.6 1.9-3.4 1.9 0.7 1.9-0.2 1.9-0.7 1.9-1.6 1.9-0.8 2 0.5 1.5-3.9 1.5-0.9 1.5-0.6 1.5 0.6 1.5-2.3 1.4-1.3 1.5-2.5 1.5-1 1.4 0.8 1.5-3 1.5-0.5 1.5-2.3 1.5-1.1 1.5-2 1.5 1.4 1.5-2.7 1.6-2.1 1.5-2.6 1.6 0.7 1.6-2.7 1.6-3.4 1.7-1.6 1.2 1.8 1.3-3.9 1.3-1 1.3-2.7 1.3 1.6 1.3-4 1.3-0.3 1.4-0.9 1.3-2.4 1.4-2.2 1.4-2.1 1.3 0.1 1.4-3.5 1.4-0.2 1.4-0.3 1.4-1.8 1.4-2.7 1.4-2 1.3-3.4 1.4 0.9 1.4-1.2 1.3-3.9 1.4-2.7 1.3 0.3 1.3-2 1.4 0.2 1.2-1.9 1.3-2.7 1.3-1 1.2-1.6 1.6-1 1.6-1.8 1.5-1.5 1.6-3.4 1.5 0.7 1.5-4.6 1.5-0.7 1.5-0.3 1.5-3.7 1.5 0.9 1.5-2.6 1.4-1.4 1.4-2.4 1.5-0.2 1.4-0.6 1.4-3.4 1.4 1.8 1.3-0.7 1.4-3.2 1.3-1.1 1.4-0.2 1.3-1.9 1.3-1.2 1.7-2.5 1.7-1.4 1.6-2.3 1.6-2.6 1.5 1.1 1.5-1.9 1.5-4.2 1.5 1.7 1.5-0.6 1.5-3.7 1.5 0.7 1.5-4.1 1.5 0.5 1.6-0.5 1.6-2.7 1.7-1.5 1.7-1.6 1.8 0.8 1.8-1.9 1.9-0.2 1.9-0.3 1.9-2.3 2-0.1 1.9-2.2 2 1.9 2-0.3 2.1-2.3 2-0.7 2 1.4 2-1 2 1.3 2-0.2 2-1.1 2 0.1 1.8 1 1.9 0.5 1.8 0 1.9 1 1.8 0 1.9 2.1 1.8 0.1 1.9-0.4 1.8 3.1 1.9-0.1 1.8 1.2 1.9 2.2 1.8 2.5 1.9-0.6 1.8 1.4 1.9 2.3 1.8 2.3 1.9 1.2 1.5 1.9 1.4-2.5 1.5 3.1 1.4 0.7 1.5 1.3 1.4 1.2 1.5 2.5 1.4 2.1 1.5 1.1 1.4-0.8 1.5 3.1 1.4 2.9 1.5-0.2 1.4 1.1 1.5 1.9 1.4 2.6 1.5 0.3 1.4 1.1 1.5 0.9 1.4 2 1.5 3.7 1.4-1 1.5 2.5 1.5 1.3 1.4 3.6 1.5 1.5 1.5-1.6 1.5 1.9 1.5 1.9 1.4 1.1 1.5 2.8 1.5 3.4 1.5-0.7 1.5 2.7 1.5 0.8 1.5 3.1 1.4-0.7 1.5 2.6 1.4-0.7 1.5 2.4 1.4 0.1 1.4 3.3 1.4 1.8 1.3-0.4 1.4 2.4 1.3 2.1 1.6 0.2 1.6 3.9 1.4-2 1.4 2.6 1.3 3.8 1.3 1.2 1.3-0.6 1.3 0 1.3 1.9 1.3 1.6 1.3 1 1.4 1.6 1.5 1.1 1.6 3.5 1.6-2 1.8 4.7 1.9-0.3 2.1 4 1.3 0.7 1.3 1.1 1.4-0.4 1.4 2.3 1.4-1.7 1.5 1.9 1.4 0.4 1.5 0.8 1.6 4.7 1.5-1 1.6 0.6 1.6 3.9 1.7 0.9 1.6 0.4 1.7 0 1.7 0.5 1.7 1.3 1.8 3.2 1.8 2.5 1.7 0.1 1.8-0.3 1.9 0.8 1.8 4 1.9 0.9 1.8 0.1 1.9 1.5 1.9-0.9 1.9 1.4 2 4.5 1.9-2.7 1.6 4 1.7-1.6 1.6 3.2 1.7-1.5 1.7 0.7 1.7 3.2 1.7 2 1.7-0.8 1.7 1.3 1.8 0.7 1.7 1.1 1.8 0.5 1.8 1.3 1.8 0.6 1.8 0.6 1.8 0.8 1.8 1.4 1.9-0.1 1.8 1.4 1.9 0.4 1.9 1.7 1.9 0.5 1.9 1.1 1.9 0.3 2 0.9 1.9 0.9 2 0.9 1.9 0.3 2 0.5 2 1.3 2 0.3 2.1 1.2 2 0.3 2.1 1.3 2 0.6 2.1 0.2 1.8 1.3 1.8 0.2 1.9 1.1 1.9-0.2 1.9 0.8 1.9 0.4 1.9 0.9 2 0.1 2 0.8 1.9 0.3 2.1 0.2 2 1.4 2-0.3 2.1 1.2 2 0.1 2.1 0.3 2 0.3 2.1 0.3 2.1 0.3 2.1 0.7 2.1 1.2 2-0.5 2.1 0.8 2.1 0.4 2.1 0.2 2 0.1 2.1 1.2 2 0.1 2.1 0.5 2 0.2 2 1 2.1-0.1 1.9 0.5 2-0.1 2 0.5 1.9 0.7 1.9 0.7 1.9 0.1 1.9 0.5 1.9-0.1 1.8 0.7 1.8 0.4 2.3 0.4 2.2-0.4 2.2 1.2 2.3 0.6 2.2 0.2 2.2 0.2 2.1-0.4 2.2 0.8 2.1 0 2.2 1.1 2.1 0.2 2.1 0.7 2.1-0.6 2 0.8 2.1 0.9 2 0.1 2-0.6 2 0.7 2 1 2-0.6 2 0.6 1.9-0.3 1.9 1.2 2 0.3 1.9-0.4 1.8-0.1 1.9 0.5 1.9 0.6 1.8 0.6 1.8-0.3 1.8 0.1 1.8-0.1 1.8 0.4 2.3 0.3 2.3 0.8 2.2-0.2 2.1 0.6 2.2-0.4 2.1 0.1 2 0.3 2 0.2 2 1.1 2-0.4 2 0 1.9-0.1 1.9 0.4 1.9 0.6 1.9 0.2 1.9-0.1 1.9-0.2 1.9 0.7 1.9-0.5 1.9 0.6 1.9-1 1.9 1.1 1.9-0.5 2 0.4 2 0.1 2-1.1 2-0.2 1.9 0.1 2-0.2 1.9 0.5 2-0.3 1.9-0.2 1.9 0.3 2-1 1.9 0.2 1.9-0.7 2 0.2 1.9 0.2 2-1.4 2 0.3 1.9 0.1 2-0.5 2.1-1 2 0.2 2-0.8 2.1-0.2 2.1-1.1 2.2 0.4 2.1-0.6 2.2-0.8 1.8-0.4 1.9-0.6 1.8 0.5 2-0.9 1.9-0.6 2 0.4 2.1-1.4 2-0.2 2.1-0.9 2-0.3 2.1-0.2 2.1-0.8 2.1 0.3 2.1-1.3 2.1 0.2 2.1-0.9 2.1-0.3 2.1-0.5 2-0.4 2.1-0.6 2-0.8 2-1.3 1.9-0.4 1.9-0.5 1.9 0 1.8-1 1.8-0.3 1.7-1.6 1.7 0.4 1.6-0.7 1.5-0.7 2.3-1.7 2.2-1.1 2.1-0.7 1.9-0.8 2-2 1.8-0.4 1.7-0.6 1.7-1 1.7-1.7 1.6-1.7 1.5-0.2 1.5-1.6 1.5-1.2 1.4-1.7 1.4-0.9 1.4-1.5 1.4-2.3 1.4-0.7 1.4-1.4 1.4-2.4 1.1-1.3 1-1.7 1.1-1.8 1-0.6 1-1.8 1-2.4 1-0.7 1-2.2 1-1.7 0.9-2.2 0.9-1.9 0.9-2 0.9-1.7 0.9-1.5 0.9-2.6 0.8-2 0.9-1.8 0.8-1.8 0.9-1.2 0.8-1.9 0.8-2.1 0.8-2.5 0.7-2.2 0.8-0.8 0.8-2.3 0.7-1.3 0.8-2.2 0.7-2.7 0.7-1.1 0.7-2.4 0.7-1.7 0.6-1.2 0.6-1.5 0.6-1.9 0.6-1.2 0.5-2 0.6-2.2 0.6-1.8 0.5-0.8 0.6-2.1 0.5-1.6 0.6-2.5 0.6-1.8 0.6-2.1 0.6-1.6 0.6-3.2 0.7-2.5 0.7-2.4 0.7-2.4 0.8-2.3 0.4-1.9 0.4-1.4 0.5-2.2 0.4-0.7 0.5-1.8 0.4-2.2 0.5-1.4 0.5-1.7 0.4-2.5 0.5-0.9 0.5-2 0.5-2.7 0.5-1.3 0.5-1.8 0.5-1.7 0.6-2 0.5-2.6 0.5-1.7 0.5-1.5 0.5-2.2 0.6-2.5 0.5-1.6 0.5-2.8 0.6-1.7 0.5-1.8 0.5-2.6 0.5-1.9 0.6-1.8 0.5-2.8 0.5-1.1 0.5-2.2 0.5-2.8 0.5-1.6 0.5-2.1 0.5-2.7 0.5-2.3 0.5-1.2 0.5-2.2 0.5-2.4 0.5-1.5 0.4-2.8 0.5-1.8 0.4-2.5 0.5-1.2 0.4-2.4 0.4-1.5 0.4-2.8 0.4-1.6 0.4-2.2 0.4-1.7 0.4-2.2 0.4-2.4 0.4-1 0.4-2.1 0.4-1.9 0.3-2 0.4-2.3 0.4-2.3 0.3-1.3 0.4-3 0.3-1.5 0.4-1.9 0.3-1.8 0.4-1.9 0.3-3 0.4-1 0.3-2.9 0.3-1.6 0.4-2.6 0.3-1.3 0.3-1.5 0.3-2.6 0.4-1.9 0.3-2.6 0.3-1.1 0.3-2.4 0.3-2 0.4-2.1 0.3-1.9 0.3-1.6 0.3-2.2 0.3-2.7 0.4-2.1 0.3-1.7 0.3-2.2 0.3-1.6 0.4-1.8 0.3-1.6 0.3-2.1 0.4-2.6 0.3-2.2 0.3-1.2 0.4-2.8 0.3-1.8 0.3-1.7 0.4-2.2 0.3-1.9 0.4-2.3 0.3-1.7 0.3-2.1 0.4-1.7 0.3-2 0.3-1.9 0.4-2.9 0.3-1 0.4-2.3 0.3-2 0.3-2 0.4-1.6 0.3-2.4 0.3-2.1 0.4-1.8 0.3-2.2 0.3-2.1 0.4-1.8 0.3-1.8 0.3-2.8 0.3-2 0.4-2 0.3-1.4 0.3-2.2 0.3-1.6 0.4-1.9 0.3-2.9 0.3-1.3 0.3-2.4 0.3-1.3 0.3-2.2 0.4-2.3 0.3-2 0.3-1.9 0.3-2 0.3-2.2 0.3-1.8 0.3-2.6 0.3-1.5 0.3-2 0.3-2.4 0.3-1.8 0.3-1.7 0.3-1.6 0.3-2.1 0.2-2.6 0.3-1.4 0.3-2.9 0.3-1.2 0.2-2.6 0.3-2.2 0.3-1.3 0.3-2.5 0.2-2 0.3-1.1 0.3-2.8 0.2-1.7 0.3-1.6 0.3-2.2 0.2-2.4 0.3-1.9 0.3-2.2 0.2-1.5 0.3-2.5 0.2-1.7 0.3-2.2 0.3-2.3 0.2-1.6 0.3-2.5 0.3-1.2 0.2-2.8 0.3-2 0.3-1.3 0.2-2.4 0.3-1.8 0.3-1.8 0.2-2 0.3-2.2 0.3-2.5 0.3-1 0.2-2.1 0.3-2.4 0.3-1.9 0.3-2.5 0.3-1 0.3-2.1 0.3-2.7 0.3-1.7 0.3-2.2 0.2-2.4 0.3-1.4 0.3-2.6 0.3-1.9 0.3-1.1 0.3-2.2 0.3-2.8 0.3-0.9 0.3-2.4 0.3-2.2 0.3-1.7 0.3-2.9 0.3-1.3 0.4-2.1 0.3-1.5 0.3-2.6 0.3-2.1 0.3-1.3 0.3-2.1 0.3-2.7 0.3-2.2 0.3-2 0.3-1.1 0.3-2.7 0.3-2.3 0.3-1.3 0.3-2.1 0.3-1.6 0.3-2.7 0.4-2.2 0.3-2 0.3-1.5 0.3-1.8 0.3-2.6 0.3-1.1 0.3-2.4 0.3-1.8 0.3-2 0.3-1.8 0.3-3 0.3-1.7 0.3-1.4 0.3-2.1 0.3-2.4 0.3-1.8 0.4-2 0.3-2.7 0.3-1.7 0.3-3.1 0.4-1.2 0.3-3.1 0.3-1.3 0.3-2.7 0.4-2 0.3-2.5 0.3-2 0.3-2.6 0.4-1.5 0.3-2.1 0.3-2.9 0.4-1.7 0.3-2.8 0.3-1.5 0.3-2.8 0.3-2.2 0.4-2.2 0.3-1.2 0.3-2.8 0.3-1.5 0.3-1.8 0.3-2.2 0.3-1.7 0.3-2 0.3-2.8 0.2-1.7 0.3-1.2 0.3-1.9 0.3-1.7 0.2-1.5 0.3-2.2 0.2-1.1 0.3-1.8 0.2-1.6 0.3-0.9 0.2-1.4 0.6-4.6 0.6-3.2 0.5-1.9 0.4-2.6 0.5-3 0.4-1 0.4-2.6 0.3-1.7 0.4-1.4 0.3-1.2 0.3-1.5 0.4-1.2 0.3-1.4 0.4-1.7 0.4-1.9 0.4-2.6 0.4-1 0.4-2.2 0.4-2.3 0.4-1.8 0.4-2.4 0.4-2 0.4-2.5 0.4-1.3 0.4-3.2 0.4-1.1 0.4-2.8 0.4-1.3 0.4-2.2 0.5-2.5 0.4-2.1 0.4-2 0.5-2.3 0.5-1.5 0.5-2.7 0.5-2 0.6-1.5 0.5-1.6 0.5-2.5 0.6-2.5 0.5-1.9 0.6-1.1 0.6-2.7 0.5-2 0.5-0.8 0.6-2 0.5-2.3 0.5-1.7 0.5-1.4 0.6-2.4 0.5-2.4 0.6-1.6 0.5-1.6 0.5-2.4 0.6-1.9 0.5-2.1 0.5-1 0.5-2.5 0.5-1.9 0.6-2.2 0.5-2.1 0.6-1.9 0.6-1.4 0.5-2.5 0.6-1.9 0.6-2.4 0.6-1.7 0.6-1.4 0.6-2.9 0.6-1.7 0.6-1.9 0.7-2.3 0.6-2.5 0.6-2.1 0.6-0.6 0.6-2.7 0.8-2.3 0.9-2 0.8-2.3 0.9-1.7 0.8-2.3 0.8-2.7 0.9-2 0.8-1.6 0.8-1.2 0.8-2 1.3-1.5 1.2-2.7 1.2-1.1 1.3-1.9 1.2-1.8 1.3-1.8 1.3-1.3 1.3-2.5 1.4-1.7 1.4-1 1.4-1.5 1.6-1.7 1.7-1.3 1.8-1.7 1.8-1.1 1.9-1.2 2-0.5 2.1-1 1.9-0.6 2-1.3 2.1-0.1 2-0.4 2.1 0.2 2 0.4 1.9-0.8 2.4 0.9 2.3-0.3 2.2 0.7 2.2-0.2 2.2 1.5 1.9 0.8 1.9 1.1 1.9 0.8 1.9 0.3 1.8 1 1.8 1.3 1.7 0.6 1.6 1.4 1.5 1.8 1.6 0.7 1.6 1.4 1.8 0.9 1.6 2 1.7 0.7 1.8 1.1 1.8 1.5 1.8 1.6 1.9 1.9 1.9 0.8 1.5 2.2 1.5 0.8 1.6 1.5 1.6 1.6 1.6 1.5 1.5 2.1 1.6 1.1 1.6 2.4 1.6 1.7 1.3 0.6 1.3 1.5 1.2 2.4 1.3 1.1 1.3 2.1 1.2 1.5 1.3 1.6 1.3 1.7 1.2 2.3 1.3 1.3 1.3 1.9 1.2 1.7 1.2 1.8 1.2 0.7 1.2 2.2 1.2 1.3 1.2 1.8 1.2 1.5 1.2 1.7 1.2 1.7 1.1 1.9 1.1 1.8 1.1 1.5 1.1 1.3 1.2 2 1.1 2.7 1 1.3 1.1 2.3 1 2.4 1 1.8 1 1.7 0.9 1.9 0.9 2.4 0.9 0.7 1.1 2.4 0.9 1.7 0.9 1.3 0.8 2.5 0.8 1.2 0.9 1.4 1.1 2.5 1.2 1.2 0.9 2.1 0.9 1.1 1 1.7 1 1.4 1.1 1.9 1.1 1.7 1.2 2.5 1.1 1.6 1.2 1.1 1.1 2.6 1.2 1 1.1 2.4 1.1 1.6 1 1.8 1 2.1 1 1.3 1 1.4 1 2.8 1 1.6 1 1.4 1.1 2.4 1 1.6 1 1.6 1 1.9 1 2.3 1 1.7 1 1.9 0.9 1.5 1 1.9 0.9 1.2 0.9 2.5 1 2.2 0.9 1.1 0.9 2.7 1 1.9 0.9 1.5 0.9 2 1 1.1 0.9 2.8 0.9 1.9 1 2 0.9 1.9 0.9 1.2 1 1.9 0.9 2.4 1 1.7 0.9 2.1 0.9 1.5 1 2.2 0.9 1.7 1 2.1 0.9 1.8 0.9 2.2 1 1.2 0.9 1.6 1 2 0.9 1.6 1 2 1.1 2.6 1 1.9 1.1 2.1 1 1.1 1.1 2.4 1 1.8 1.1 1.7 1 1.8 1 1.1 1 2.2 0.9 1.8 0.9 2.2 0.8 0.9 1.1 1.9 0.9 2.5 0.8 1.8 0.7 1.8 0.7 1.4 0.8 1.2 0.9 2.7 1.3 2 1.5 2.7 0.8 1.5 0.9 1.2 0.9 1.5 1 1.8 1.1 0.8 1.1 1.9 1.1 2.5 1.1 1.1 1.2 2 1.2 2.1 1.2 0.9 1.3 2 1.2 2.3 1.3 1.9 1.2 1.5 1.3 2.3 1.2 1.3 1.2 2.2 1.2 1.6 1.1 1.1 1.1 2.7 1.2 0.9 1.1 2.4 1.1 1.8 1.2 1.7 1.1 1.7 1.1 1.8 1.2 1.1 1.1 1.7 1.1 2.5 1.2 0.9 1.1 1.7 1.2 2.2 1.1 1.9 1.1 1.7 1.2 1.4 1.1 1.3 1.1 1.7 1.2 1.2 1.1 2.7 1.3 1.5 1.2 1.4 1.3 1.9 1.2 1.7 1.3 1.7 1.2 1.7 1.3 1 1.2 1.7 1.3 2 1.3 0.8 1.2 2.3 1.3 1.5 1.2 2 1.3 1.1 1.2 1.1 1.3 2.3 1.2 1.5 1.3 1.5 1.2 1.1 1.2 2.6 1.2 0.9 1.2 2 1.2 1.6 1.2 1.6 1.2 2.5 1.2 1.3 1.2 2.5 1.1 1 1.2 2.6 1.2 1 1.2 1.5 1.2 2.5 1.2 1.2 1.2 1.3 1.2 1.6 1.2 1.8 1.2 1.1 1.5 1.3 1.5 2.5 1.5 0.6 1.5 1.8 1.5 1 1.5 1.5 1.6 1.8 1.5 1.2 1.5 0.8 1.5 2 1.5 1.1 1.5 1.4 1.5 0.5 1.5 1.1 1.5 2.4 1.4 1.4 1.3 0.3 1.4 1.7 1.3 1.8 1.3 1 1.3 1.5 1.3 1.7 1.3 1.3 1.3 2.1 1.4 1.8 1.4 0.6 1.4 1.5 1.6 1.5 1.5 1.2 1.7 1.3 1.7 1.1 1.6 1.4 1.7 1.1 1.7 1.4 1.8 1 1.8 0.8 1.9 1.2 1.9-0.1 1.9 1.2 2 0.9 2 1 2 1.4 1.9-0.3 2 1.6 2 0 2 1.6 2 1 1.9 0.3 1.9 0.1 2 1.4 2 0.2 2 1.1 2 1.1 2-0.2 2 1.5 2 0.6 2 0 2 0.3 2 1.3 2-0.1 2 1.4 2 0.1 2 1.2 2-0.6 2 0.7 2 0.4 2 1 2 0.3 1.9 0.6 1.9 0 2 0.6 1.9 1.4 1.9 0 2 0 1.9 1.2 2 0.5 1.9 0 2 0.9 2.1-0.7 2 0.9 2.1 0.5 2.1 0.1 2.2-0.2 1.9 0.1 2.1 0.4 2.1 0 2.3 0 2.3-0.2 2.3 0.2 2.4-0.8 2.4 0.2 2.4-0.2 2.3 0 2.3-0.9 2.3 0.4 2.2-0.7 2 0.6 2-1 1.8-0.2 1.7-0.1 1.5-0.2 1.4 0.3 1.1 0.4" stroke="#EE5E0C" stroke-width="1.50" fill="none" stroke-linejoin="round"/>
<path d="M220 3141.7l1.1-2.8 1.2 2 1.3 0.2 1.5 2.5 1.6-1.8 1.8 0.9 1.8 1.2 1.9-0.1 2 2.9 2.1 0.6 2.2 0.1 2.1-1.9 2.3 4.5 2.2-1.1 2.3 0.9 2.3 0.5 2.2 0.5 2.3 2.2 2.2-2.1 2.2-0.1 2.1 3.9 2.1-2.7 2 0.3 1.9 0.8 2 1.8 2.1-2.1 2-1.6 2.1 0.8 2-0.4 2-1.2 2.1 3.1 2-1 2-2.9 2-0.1 2 2.4 2-1.7 1.9-1.6 2-0.1 1.9 1 2-3.6 1.9 0.9 1.9-3.1 1.9 1.3 1.8-1.6 1.9-0.2 1.8-0.3 2.1-0.5 2.1 1.3 2-2.7 2.1-1.9 2 2.7 2-0.2 2-0.9 2-2.7 1.9-0.4 1.9 1.1 2-3.4 1.9-0.8 1.8 1.1 1.9-1.9 1.8 0.1 1.8-2.1 1.9 2.3 1.7-2.9 1.8-1.7 1.6-1.2 1.5-1.3 1.4 0.9 1.5-1.2 1.4-1.3 1.4-0.7 1.3-2.7 1.4-2.3 1.3-1.3 1.3-2.6 1.4-0.5 1.3-1.1 1.3 0 1.4-2.7 1.4-3.5 1.4 0.2 1.5-2.4 1.4 0.3 1.6-1.5 1.6-2.5 1.6-1.4 1.3-2.2 1.4-1.8 1.3 0.8 1.5-1.4 1.4-2.2 1.4 0.2 1.5-1.8 1.5-1.8 1.5-3.7 1.6 2 1.5-4.8 1.6-1 1.5-1.7 1.6-1.1 1.5 0.7 1.6-2 1.5-3.1 1.6-1.1 1.5 0.7 1.6-3.1 1.5-1.8 1.5 1 1.4-3.6 1.5-2 1.4 0.3 1.4-0.5 1.4-4.3 1.5 1 1.5-3.4 1.5 1.2 1.5-3.2 1.5-2.2 1.5-1.6 1.4-2.7 1.4-1.8 1.5 0.3 1.4-1.7 1.4-3 1.4-1.8 1.4-0.3 1.3 0.3 1.4-5 1.3 0.9 1.4-0.4 1.3-4 1.3-1.2 1.3-0.7 1.3-2.6 1.3-2.1 1.2-0.8 1.3 1.8 1.9-3.6 1.8 0.1 1.7-4.4 1.7 0.8 1.7-3.5 1.7-0.8 1.6 0.2 1.7-0.3 1.6-1.2 1.6-1.9 1.6-3.8 1.6 1 1.6-0.6 1.6-2.8 1.6 0.3 1.7-1.8 2 0.4 2-0.6 2-1.2 2-2.7 1.9-1.5 2 0.3 2 0.3 2-2.1 2 2.3 2.1-0.1 2.1-0.4 2.2-0.8 2.3 2 1.8-1.9 1.8-0.1 1.8 2.1 1.9-0.7 1.8 0.1 1.9 0 1.9-0.4 2 0.8 1.9 1.1 2 2.4 2.1-0.7 2 0.4 2 0.3 2.1 3.8 2.1-0.7 2.2 1.4 2.1 0.1 1.4 3.6 1.4-0.4 1.4 1 1.4 1.4 1.5 0.9 1.5 1.7 1.5 1.2 1.5 1.4 1.5 3.4 1.5 2.1 1.6-0.1 1.5 0.1 1.5 1.6 1.6 2.3 1.5 3.8 1.6 1.8 1.5-1.8 1.5 1.6 1.5 4.8 1.5 0.8 1.5 0.6 1.5 2.3 1.5 0.9 1.4-0.2 1.4 4.4 1.4-2.2 1.4 2.5 1.7 0.3 1.8 1.5 1.7 2 1.7 1.3 1.6 4.4 1.7-0.2 1.6 1.6 1.7 2.1 1.6 0.2 1.6-0.3 1.6 1.3 1.5 0.6 1.6 2.6 1.5 2.7 1.5 1.8 1.6 0 1.4-0.6 1.5 3.6 1.5 0.5 1.5 0.6 1.4 2.6 1.7-0.3 1.6 3.3 1.6-0.1 1.5 2.1 1.6 0.3 1.5 1.3 1.5 3.5 1.4 2 1.5-1.6 1.5 2.1 1.4 3.8 1.5 2.1 1.4 0 1.4 2.9 1.5-0.1 1.4 3.1 1.5-0.4 1.5 1 1.6 3.2 1.6 2 1.6-1.7 1.6 1.4 1.6 2.3 1.6 0.7 1.6 1.6 1.6 2.8 1.6 3.3 1.6 0.8 1.5-0.7 1.6 1.4 1.6 1.3 1.5 3.5 1.5-0.9 1.5 0.4 1.5 4.2 1.8 1.2 1.7-0.1 1.6 0.5 1.4-0.1 1.5 2.1 1.5 0.3 1.5 2.6 1.5-1.6 1.8 3.4 1.9 1.3 2.1 1.1 2.3 0.7 2.7-1.6 1.4 3 1.4-0.2 1.4-0.8 1.5 0.9 1.5 2.8 1.5 1.8 1.5-0.4 1.6-0.3 1.7 1.6 1.6 1.5 1.7 0.7 1.8 0.5 1.7 2 1.9 0.5 1.8 1.2 1.9 0.2 2 2 2 0.6 2 0.2 2.1 1.7 2.1 0.2 2.2 1.1 2.3 1.3 2.2 1.2 2.4 0.5 2.4 0.2 2.4 1.7 1.6-0.1 1.6 1.1 1.7 0.1 1.7 0.6 1.8-0.1 1.8 1.2 1.8 0 1.8 1 1.8 0.3 1.9 0.7 1.9 0.7 2-0.4 1.9 1.3 2-0.3 2 0.3 2 0.7 2 0.9 2.1-0.1 2 1 2.1 0 2.1 1.3 2 0.1 2.1 0.5 2.1-0.4 2.2 0.9 2.1 0.9 2.1 0.5 2.1-0.5 2.1 1.3 2.1-0.2 2.1 1.1 2.1-0.2 2.1 0.6 2.1 0.5 2.1 0.5 2.1 0.1 2.1 0.1 2 1.1 2.1 0.2 2-0.1 2 0.7 2 0.5 2 0.2 2.1 0.3 2 0.2 2.1-0.2 2.1 0.7 2.1-0.3 2 0.8 2.1 0.7 2.1 0 2.1 0.6 2.1 0.3 2.1 0 2.1 0.4 2.1 0.4 2.1 0.3 2.1-0.4 2.1 0.3 2.1-0.1 2.1 0.2 2.1 0.4 2.1 0.5 2.1 0.1 2 0.2 2.1-0.1 2.1 0.5 2 0.8 2.1 0.1 2-0.3 2 0 2 0.3 2 0.8 2 0.2 2-0.3 1.9-0.2 2 0.7 1.9-0.4 1.9 0.7 1.9-0.4 1.9 0.3 1.9-0.1 1.8 0.2 2.3 0.6 2.2 0.1 2.2-0.2 2.3 0.6 2.2 0.2 2.2-0.4 2.1 0.2 2.2 0 2.1 0.4 2.1-0.1 2.2-0.1 2.1 0.1 2 0.2 2.1 0.5 2 0 2.1 0 2-0.4 2-0.4 2 0 2 0.6 1.9 0.3 2 0 1.9 0 1.9-0.1 1.9-0.3 1.9-0.5 1.8 0.1 1.9-0.2 1.8 0.1 1.8-0.1 1.8 0.3 1.8 0.1 1.8 0 2.3-0.9 2.3 0.7 2.2-1.1 2.2-0.1 2.2-0.1 2.1 0 2.1 0.3 2-1 2.1-0.3 2 0.9 2-0.7 2-0.2 1.9-0.4 1.9-0.5 2-0.5 1.9-0.1 1.8-0.4 1.9 0.6 1.9-0.4 1.9-0.7 1.8-0.4 1.9-0.5 1.9-0.5 1.8-0.5 1.9-0.3 2-0.9 2 0.3 2-0.5 2-1 1.9-0.9 2 0.4 1.9-1.6 1.9 0.6 1.9-1.3 1.9-0.2 1.8-0.7 1.9-1.3 1.9-0.6 1.8 0.3 1.9-1.7 1.8-0.1 1.9-1.4 1.8-0.6 1.9-1.2 1.9-0.7 1.8-1.1 1.9-1.7 1.9-0.6 1.5-1.1 1.4-0.6 1.6-1.1 1.5-1.4 1.5-2 1.6-0.1 1.5-2.3 1.6-1.3 1.6-1.1 1.5-1.2 1.6-1.5 1.6-1 1.5-1.9 1.6-0.7 1.5-1.9 1.6-0.9 1.5-1.4 1.5-2.2 1.4-1 1.5-1.4 1.4-1.6 1.4-1.6 1.4-1.9 1.3-2 1.3-1 1.3-1.2 1.2-1.7 1.2-2.3 1.1-0.5 1.1-2.3 1.2-1.6 1.2-1.6 1.1-1.5 1-1.6 1-1.7 0.9-1.8 0.8-1.4 0.9-1.7 0.7-1.7 0.8-1.3 0.7-1.9 0.7-1.7 0.7-2 0.6-1.4 0.7-2.1 0.6-1.3 0.7-2.2 0.7-1.6 0.6-1.8 0.7-2.1 0.7-2.2 0.7-2.3 0.8-3.3 0.8-2 0.8-2.6 0.5-2.2 0.4-0.6 0.5-2.7 0.5-1.4 0.5-1.5 0.5-0.9 0.4-2.5 0.5-1 0.5-2.3 0.5-1.6 0.5-2 0.5-2.2 0.5-1.1 0.5-2.2 0.6-2.5 0.5-1.7 0.5-2.5 0.5-1.4 0.5-2.3 0.5-2.3 0.5-1.9 0.5-2.1 0.5-1.5 0.5-2.8 0.6-1 0.5-2.3 0.5-2.8 0.5-1.5 0.5-2.5 0.5-1.5 0.5-2.6 0.5-2.6 0.5-1.9 0.5-1.4 0.4-2 0.5-3.1 0.5-2 0.5-1.4 0.4-2.1 0.5-2.9 0.5-2.1 0.4-1 0.5-2.2 0.4-1.9 0.5-2.7 0.4-1.5 0.4-2.1 0.5-2.5 0.4-1 0.4-2.2 0.4-1.9 0.4-2.7 0.5-1.3 0.4-2.8 0.4-1.2 0.4-2.5 0.3-2.2 0.4-1.5 0.4-2.3 0.4-2.2 0.4-2.3 0.4-0.8 0.3-2.1 0.4-2.7 0.4-2.2 0.3-1.7 0.4-2.3 0.4-1.9 0.3-1.7 0.4-1.7 0.4-2.9 0.3-1.3 0.4-1.9 0.4-1.9 0.3-2.8 0.4-2.1 0.3-0.9 0.4-1.9 0.4-2.1 0.3-2.4 0.4-2.7 0.3-1.7 0.4-1.4 0.4-2.5 0.3-1.8 0.4-2.5 0.4-1.9 0.4-1.4 0.3-1.8 0.4-2 0.4-2 0.4-2.8 0.4-2 0.4-2 0.4-2.1 0.3-1.4 0.4-2 0.4-2.6 0.4-0.9 0.4-2.3 0.4-1.8 0.4-2.7 0.4-2 0.4-1.8 0.4-1.8 0.4-2.1 0.4-2.1 0.4-2.1 0.4-1.8 0.4-2.4 0.4-1.9 0.4-1.2 0.4-2.8 0.4-1.5 0.4-2.2 0.4-1.9 0.4-2.4 0.4-1.5 0.4-2.5 0.4-2.1 0.4-1.3 0.4-2.5 0.4-1.5 0.4-2.8 0.4-1.7 0.3-2 0.4-1.7 0.4-1.6 0.4-2.9 0.3-1.2 0.4-2.1 0.4-2.6 0.3-1.4 0.4-2.5 0.3-1.7 0.4-2.2 0.3-1.7 0.4-2.4 0.3-1.9 0.4-1.7 0.3-2.3 0.4-2.5 0.3-1.2 0.3-2 0.4-2.8 0.3-1.4 0.3-1.9 0.3-2.6 0.4-1.6 0.3-1.7 0.3-2.4 0.3-2.3 0.3-1.1 0.4-2.9 0.3-2.1 0.3-2 0.3-2 0.3-1.9 0.3-1.1 0.3-2.5 0.3-1.8 0.3-1.6 0.3-2.8 0.3-1.7 0.3-2.1 0.3-2.4 0.3-1.5 0.3-2.1 0.3-1.8 0.3-1.9 0.3-1.9 0.3-2.3 0.3-2.6 0.3-1.4 0.3-2.3 0.3-2.2 0.2-2.1 0.3-1.5 0.3-1.5 0.3-3.1 0.3-1.3 0.3-1.9 0.3-2.7 0.3-1 0.2-2.9 0.3-1.3 0.3-2.7 0.3-1.7 0.2-1.6 0.3-2.5 0.3-1.3 0.3-2.1 0.2-2.5 0.3-2.3 0.3-2.1 0.2-1.7 0.3-2.3 0.3-2.1 0.2-1.5 0.3-1.9 0.2-2.6 0.3-1.1 0.3-2.9 0.2-1.5 0.3-1.7 0.2-2 0.3-1.9 0.2-2.6 0.3-2.3 0.3-0.9 0.2-2.3 0.3-2.4 0.2-1.6 0.3-2.5 0.2-2.3 0.3-1.8 0.3-1.4 0.2-1.8 0.3-1.9 0.2-3 0.3-1 0.3-3.1 0.2-1.1 0.3-2.3 0.2-1.7 0.3-2 0.3-2.1 0.2-2.7 0.3-2 0.3-2.2 0.2-1 0.3-2.4 0.3-2.3 0.3-2.9 0.2-1.3 0.3-2.8 0.3-2 0.3-2.4 0.3-1.5 0.2-2.2 0.3-2.4 0.3-1.9 0.3-2.3 0.3-2.2 0.2-2.3 0.3-2.2 0.3-2.9 0.3-2.4 0.2-1.1 0.3-2.7 0.3-2.2 0.3-2.3 0.2-1.2 0.3-2.5 0.3-2.7 0.2-1.1 0.3-2.7 0.2-1.2 0.3-2.6 0.3-1.1 0.2-2.6 0.2-1.1 0.3-1.8 0.2-1.9 0.3-1.9 0.2-1.8 0.2-1.8 0.3-1.7 0.2-1 0.2-1.2 0.2-2 0.6-3.6 0.5-3.2 0.5-2.3 0.5-2.2 0.5-2.4 0.4-2.9 0.5-1.1 0.4-1.9 0.4-0.8 0.4-1.6 0.4-2.3 0.4-1.3 0.3-1.6 0.4-0.6 0.4-2.6 0.4-1.6 0.4-2.7 0.3-1.9 0.4-1.7 0.3-1.7 0.3-2.2 0.3-2.1 0.3-2.5 0.3-1.4 0.4-2.3 0.3-1.6 0.3-2.4 0.3-2.8 0.3-2 0.3-1.9 0.4-1.5 0.3-2.7 0.4-1.9 0.4-2.4 0.4-1.6 0.4-2.2 0.4-2.5 0.4-2.4 0.4-1 0.5-2.7 0.4-2.3 0.4-2.1 0.4-1.4 0.5-2.8 0.4-1.6 0.4-2.4 0.4-1.7 0.4-2.6 0.4-1.4 0.4-2.5 0.4-1.8 0.5-1.6 0.4-3 0.4-1.3 0.3-2.6 0.4-2.1 0.4-1.4 0.4-2.3 0.3-2.1 0.4-1.3 0.4-2.8 0.4-1.9 0.5-1 0.4-1.8 0.5-3 0.6-2.3 0.6-1.3 0.6-1.8 0.6-3 0.6-1.1 0.6-2.4 0.6-1.5 0.6-2.3 0.6-2.2 0.6-2 0.6-1.4 0.6-2.1 0.5-1.5 0.6-3.1 0.6-1.6 0.6-2.2 0.6-2.1 0.6-2.1 0.6-1.5 0.5-2.4 0.5-1.5 0.5-2.7 0.5-1.7 0.4-1.4 0.9-3.3 0.6-1.7 0.5-2.1 0.5-2.3 0.5-1.3 0.5-2.1 0.5-2.7 0.5-1.6 0.6-1.8 0.7-1.3 0.8-2.4 0.9-2.4 1-2.2 1-1.7 1-2.9 1-1.9 0.9-1.5 0.9-2.6 0.8-2.2 0.9-1.5 1-2.2 1.1-2.5 1.2-1.3 1.3-2.3 1.3-2 1.5-1.5 1.5-1.2 1.6-1.1 1.4-1.4 1.5-1.5 1.6-2.1 1.6-0.2 1.7-2 1.7-0.9 1.8-0.3 1.9-0.9 1.9-0.5 2.1-1 2 0.4 2.1 0.1 2-1.1 2 0.4 2.2 0.1 2.2-0.3 2.1 0.7 2.1-0.3 2.1 1.2 2 0.6 2 0.8 1.8 0.2 1.9 2 1.8 1.7 1.9 0.8 1.8 1.7 1.6 1.7 1.6 0.7 1.7 1.2 1.6 1.2 1.6 1 1.6 1.6 1.5 0.8 1.7 1.2 1.6 2.5 1.7 1.1 1.6 1.6 1.6 1.4 1.7 1.8 1.2 1.4 1.3 1.8 1.3 2.1 1.3 1.1 1.3 2.6 1.3 0.9 1.2 2.4 1.2 1.1 1.1 1.5 1.6 1.4 1.4 1.5 1.3 0.8 1.4 1.7 1.7 0.6 1.1 1.9 1.3 1.8 1.3 0.6 1.4 1.9 1.4 1.3 1.5 2 1.4 1.9 1.4 1.8 1.3 1.9 1.2 1.3 1.1 1.6 1.2 1.9 1.1 1.3 1.1 2.1 1.2 1.8 1.1 2.3 1.1 1.3 1 2.2 1.1 2.6 0.9 0.7 1 1.9 0.9 2.1 0.9 2.4 0.9 2.4 0.9 2 0.9 1 0.8 2.6 0.9 1.5 0.9 2.6 0.9 0.9 1.1 2.3 1.1 2.6 1.1 1.7 1.1 1 1.1 2.4 1.1 1.3 1.1 2.6 1 1.8 1.1 0.9 0.9 2.3 0.9 2.1 0.9 1.9 0.9 1 0.9 2.2 0.8 1.7 0.9 2.4 1 1.2 0.9 2.2 1 1.9 0.9 1.4 1 2.7 0.9 1 1 2.3 1 1.4 1 2.1 1 1.5 1.1 1.8 1.1 2.2 1.1 2 1.1 2.2 0.9 1.6 0.8 1.7 0.9 2.3 1 1.9 0.9 1.5 0.9 2.7 1 1.6 1 1.1 0.9 2.4 1 1.5 1 2.8 0.9 2.2 1 1.3 1 2.5 0.9 1.1 0.9 2.8 0.8 1.3 0.9 1.6 0.8 2.6 0.9 1.1 0.8 2.3 0.9 2.4 0.8 1.3 0.9 2.2 0.8 2 0.9 1.9 0.9 1.8 0.9 2.1 0.9 1.8 0.9 1.9 1 2.7 0.9 1.4 0.9 1.8 0.9 1.8 0.9 2.1 1 1.9 0.9 1.7 1 1.8 1 1.5 0.9 2 1 1.2 1 2.1 1 2 0.9 1.8 1 2.1 0.9 0.9 0.9 2 0.9 2.3 0.9 1.5 1 1.5 1 2.5 1 1.6 1 2.3 0.9 1.4 0.9 2.7 1 1.9 0.9 1.5 0.9 2.3 0.9 1.2 0.9 1.3 0.9 2.6 0.9 1 1 2.8 0.9 0.9 1 2 1 1.9 1.1 2.5 1 2.2 1.1 1.2 1 2.6 1 1.7 1.1 2.2 1 0.6 1 1.8 1 2 0.9 1.5 0.9 1.9 0.9 1.6 1.2 1.7 1.1 2.1 0.9 1.8 0.9 1 0.9 2 1 1.4 1.2 1.7 1.3 2.6 1.7 2.3 0.7 2.2 0.8 1.3 0.8 1.5 0.9 1.5 0.9 0.8 0.9 2 1 1.6 1 2.8 1 1.6 1 1.3 1 3 1.1 1.7 1.1 2.2 1 1.2 1.1 2.6 1.1 1.1 1.1 2.8 1 1.3 1.1 2.6 1.1 1.4 1 1.2 1 1.9 1 1.1 1.3 2 1.4 2.2 1.3 2.3 1.3 0.6 1.4 2.6 1.3 1.2 1.3 1.5 1.3 1.1 1.4 2.2 1.3 1 1.3 1.9 1.3 1.7 1.4 1.6 1.3 1.4 1.3 1 1.4 1.2 1.3 2.1 1.3 1.1 1.2 1.6 1.3 2.7 1.2 0.5 1.3 2.5 1.3 2 1.2 0.5 1.3 2.5 1.3 1.8 1.2 1 1.3 1.4 1.2 2.4 1.3 1.6 1.3 1.8 1.2 1.6 1.3 0.8 1.2 2.4 1.3 1.1 1.4 1.5 1.4 1.9 1.4 1.6 1.5 1.4 1.4 1.9 1.4 1.6 1.4 1.4 1.4 2.3 1.4 0.9 1.4 1.5 1.4 1.4 1.5 2.2 1.4 1.5 1.4 1.3 1.4 1.8 1.4 0.3 1.6 1.8 1.5 2.2 1.5 0.3 1.5 1.7 1.5 0.9 1.5 2.4 1.5 0.2 1.5 1.5 1.6 1.2 1.6 0.9 1.7 2.2 1.8 0.5 1.8 1.8 2 1 1.5 1 1.6 0.7 1.6 1.5 1.7 0.9 1.7 0.5 1.8 1 1.8 1.6 1.8 1.1 1.9 1.2 1.8 0.3 1.9 0.8 1.9 1.7 1.9 0.8 1.9 1 1.8 0.5 1.9 0.5 1.9 1.1 1.8 0.7 1.8 1.6 2 0.4 2 0.4 2 0.9 2 1.4 2 0.6 2 1.2 2 0.2 2 1.1 2 0 2 1.3 2 0.2 2 0.9 2 0.4 2 0.4 2 1 2-0.3 2 0.5 2 1.1 2 0.4 1.9 0.1 2 0.5 2 0.4 1.9 1 2 0.1 2 0.8 1.9 0.4 2 0.2 2 0.1 2-0.1 2 0.8 2-0.5 2.1 0 2 1.2 2.1-0.8 2 0.3 2.2-0.4 2.3 0.1 2.3-0.4 2.4 0 2.4 0 2.4-0.3 2.4 0.5 2.4-1.3 2.4 0.8 2.2-0.7 2.2-0.3 2-0.8 1.9 0.3 1.8 0.1 1.6-0.5 1.3-0.3 1.2 0.1" stroke="#EE5E0C" stroke-width="1.50" fill="none" stroke-linejoin="round"/>
<path d="M236.7 3018.4l1.1 3.8 1.3-2.7 1.6 3 1.7 1.1 1.9 0.4 2-1 2.1 0.9 2.2 2.2 2.3 1.6 2.4-0.8 2.3-0.1 2.4-0.5 1.8 0 1.9 1.1 1.9-1.3 2 0.2 2.1 0.2 2.1-0.4 2.1-2.7 2.1 0.3 2.2 1.5 2.2-1.1 2.2 0.5 2.1-3.7 2.2 0.1 2.2 0.4 2.1 0.3 2.1-2.9 1.9 1.6 1.9-2.2 1.9-1.2 1.9 1.3 2-3.8 1.9 2.4 1.9-3.4 2-0.8 1.9-1.6 1.9 0 1.9 0.5 1.9-3.5 1.9 0.3 1.8-1.4 1.7-1.6 1.7-1.7 1.7 1.3 1.6-2 2-1 1.9-0.6 1.9-3.1 1.8 1.7 1.7-0.8 1.7-3.6 1.7 1.1 1.6-1.6 1.6-2.8 1.5-1.3 1.5-2 1.5 0.1 1.5-1.2 1.4-1.3 1.4-1.4 1.2-1.3 1.2-3.2 1.2-1.2 1-0.3 1.1-2 1-2.9 1.1-1.3 1.1 1.1 1.1-2.5 1.2-2 1.3-3.3 1.3-1.5 1.5-0.7 1.2-1.9 1.3-1.1 1.4-3.8 1.4 1.3 1.5-3.5 1.5-0.9 1.5-0.6 1.5 0.3 1.6-3.7 1.6-0.5 1.5-3.2 1.6 1.4 1.6-4.2 1.5-0.4 1.5-1 1.5-1.5 1.5-2.7 1.4-0.8 1.2-4.1 1.2 2.4 1.2-3.3 1.1-1.5 1.1-3 1.1-0.8 1.1-1.1 1.1-2.6 1.1-2.9 1.1-1.4 1.1 1 1.1-4.4 1.1-0.5 1.2-1 1.1-3.6 1.2 0.6 1.3-3 1.3 0.2 1.3-4.6 1.4-0.7 1.3-1.7 1.4-1.8 1.4-0.8 1.4-1.5 1.5-1.6 1.5 0.5 1.6-3.6 1.6-2.6 1.5 1.4 1.6-2.7 1.6-3 1.7 1.5 1.6-1.5 1.6-1.7 1.6-0.6 1.5-3.6 1.6 1 1.5-3.1 1.5 0.7 1.5-0.7 1.4-2.9 1.4-1.7 1.9-0.3 1.8-1.6 1.8-2.4 1.8-3.2 1.8-0.3 1.7-0.1 1.7-4 1.7 0.2 1.6 0.8 1.7-2.1 1.6-2.9 1.6-1.6 1.5 0.7 1.5-0.8 1.5-2.2 1.5 0.2 2.2 0.8 2.1-2.3 2-1.2 1.9-2.4 1.8 1.2 1.8-2.1 1.9 3.6 2-1.8 2.1 0.4 2.2 0.4 1.8-2.4 2 3.4 2-0.2 2.1-2.2 2.2 3.8 2.1 0.3 2.2 1 2.1-2.9 2.2 4 2.1 0.2 2-1.2 2 0.2 1.8 3.4 1.6-1.4 1.5 3 1.4 2.1 1.3-0.4 1.3 1 1.2 1.7 1.3 0.1 1.2 1.3 1.3 3.5 1.4 2.6 1.4 2.4 1.6-1.8 1.7 2.5 1.8 4 1.2-1 1.2 3.2 1.3 1.9 1.3 1 1.4 0.4 1.4 1.8 1.4 1.9 1.4-1.5 1.5 2.3 1.5 3 1.5 0.5 1.5 2.6 1.6 2.4 1.5 0.5 1.6 1 1.5 2.1 1.6 2.3 1.5-1.7 1.5 1.3 1.5 4.6 1.6 1.7 1.4 0.8 1.5 0.7 1.4 0.7 1.4 4.4 1.4 0.4 1.4 2.7 1.5 0.2 1.4 2.4 1.4-1 1.4 3.6 1.5-0.9 1.4 2.5 1.4 2.1 1.5 1.9 1.4 3.4 1.4 0.2 1.4-0.6 1.4 4.4 1.4 1.3 1.3 1.9 1.4 1.9 1.3 0.9 1.3 0.4 1.3 2 1.3-1.1 1.3 2.7 1.5 1.8 1.5 3 1.4-1.1 1.3 2.1 1.3 1.7 1.2 1.4 1.2 2.5 1.2 3.6 1.2-1.2 1.3 0.4 1.2 1.2 1.3 4.3 1.4 0 1.4 3.8 1.5-1.5 1.6 4.3 1.7-1.2 1.8 4.1 2 1.3 1.4-1.1 1.5-0.2 1.5 3.1 1.5 0.9 1.6 1.2 1.7-1 1.7 3.8 1.7-1 1.8 0.9 1.8 0 1.8 0.8 1.8 2.7 1.9-0.2 1.9 1.7 1.9 2.7 1.9 1.1 1.9-0.3 1.9 0.2 1.9 2.6 1.9 0 2 3.4 1.9 0.2 1.9 1.4 1.9-1.3 1.8 3 1.9-0.4 1.8 0.4 1.8 0.5 1.7 2.6 1.7 1.5 1.7-0.5 1.7 0.4 1.6 3 1.7 0.9 1.6 1.8 1.6 0.7 1.7 0.2 1.6 2.1 1.6 0.2 1.7 1.7 1.6 0.5 1.6 1.7 1.7 0.6 1.6 1.3 1.7 1.5 1.7 0.9 1.7 1 1.8 1.3 1.7 0.4 1.8 0.8 1.8 1.7 1.8 0.7 1.8 0.6 1.9 1.8 2 0.8 1.9 0.8 2 0.5 1.7 1.1 1.8 0.2 1.8 0.6 1.8 1.3 1.8 0.5 1.9 0.8 1.8-0.1 1.9 1.2 2 0.5 1.9 0.2 1.9 1.6 2 0.1 2 0.6 2 0.8 2 0.6 2 0 2 0.7 2 0.4 2.1 1.2 2 0 2.1 1.2 2 0.7 2 0.5 2.1 0.8 2 0 2.1 0.5 2 0.6 2 0.5 2 0.4 2.1 0.2 2 1.1 2 0.5 1.9 0 2 0.2 2 1.1 2 0.1 2.1 0.6 2 1.1 2 0.4 2 0.7 2 0 2.1 0.7 2-0.1 2 0.9 2 0.3 2 0.1 2 0.9 2.1 0.4 2-0.1 2 1.2 2-0.2 2 1.1 2-0.3 2.1 1.1 2 0.2 2-0.1 2 0.2 2 0.7 2 0.2 2.1 0.7 2 0.2 2-0.3 2 0.7 2 0.6 2.1 0.5 2-0.3 2 0.7 2-0.2 2.1 0.9 2 0.2 2.1-0.2 2.1 0 2 1.3 2.1-0.8 2.1 0.7 2.1-0.3 2.1 0.4 2.1 0.1 2.1 1 2.2-0.3 2.1-0.3 2.1 0.1 2 0.8 2.1-0.3 2.1 0.8 2.1-0.1 2 0.2 2.1-0.5 2 0.2 2 0.8 2 0.3 2-0.5 1.9 0.1 2 0.1 1.9-0.4 1.9 0.2 1.9-0.1 1.8 0.1 1.8 0.4 1.8-0.2 2.3 1 2.3-0.1 2.3 0.2 2.2-1.1 2.2 1 2.2-0.1 2.2 0 2.1-0.9 2.1 1.1 2.1 0 2.1-0.5 2 0.1 2-0.7 2 0.7 1.9-1 1.9 0.5 1.9 0.2 1.9-0.8 1.8 0.1 1.8 0.1 1.8-1 1.8 0.1 1.7 0.5 1.7 0 1.7-1.1 2.4-0.3 2.2-0.5 2.2 0.5 2-0.2 2-1.6 1.9 0.5 1.9-0.8 1.8-0.9 1.8 0 1.8-0.7 1.7-0.9 1.8-0.6 1.9-0.5 1.9-0.7 1.9-0.3 2-0.1 2.1-1.3 1.9 0 1.9 0.1 2-1 2-0.8 2.1 0.4 2.1-0.4 2.2-1.3 2.1 0.5 2.2-0.4 2.1-0.6 2.1-0.2 2.2-0.7 2-0.6 2.1-1.2 1.9 0.4 1.9-0.6 1.9-1.2 1.8-0.5 1.6-0.4 1.6-1.4 2.1-0.9 2-1.4 1.8-0.4 1.7-2.1 1.6-1.6 1.5-0.5 1.5-1.7 1.3-2.1 1.4-1.8 1.2-1 1.3-1 1.2-2.3 1.3-1.1 1.2-1.9 1.5-1.3 1.5-1.4 1.4-1.5 1.3-2.3 1.3-1.5 1.2-1.6 1.2-2.1 1.2-0.7 1.1-1.7 1.2-2.4 1.1-1.3 1.2-1.2 1.3-1.9 1.1-1.9 1.2-2.4 1.1-1.7 1.1-1.4 1.1-1.6 1.1-2.2 1-1.5 1.1-1.9 0.9-2.8 0.9-0.7 0.8-2.4 0.9-1.9 0.8-2 0.9-1.7 0.8-2.2 0.8-2 0.8-1.7 0.7-2.2 0.8-1.8 0.7-2 0.9-1.1 0.8-2.4 0.8-1.5 0.8-1.9 0.7-1.7 0.8-2.4 0.7-1 0.7-2.7 0.8-1.2 0.7-1.9 0.6-1.6 0.7-1.9 0.7-2.3 0.7-1.6 0.7-2.8 0.6-1.6 0.7-1.7 0.6-2.4 0.6-2.1 0.5-1.5 0.5-2.3 0.5-2.6 0.5-2.1 0.4-2.1 0.4-1.5 0.4-3.1 0.4-2 0.3-1.4 0.4-2.5 0.4-2 0.5-1.5 0.4-1.9 0.4-1.4 0.5-2.4 0.4-1.5 0.6-2.6 0.8-2.4 0.4-1.8 0.4-1.3 0.5-2.1 0.5-1.9 0.5-1.8 0.5-1 0.5-2.9 0.6-2.1 0.6-2 0.5-2.5 0.6-1.4 0.6-3 0.6-1.3 0.5-2.9 0.6-2.7 0.5-2.1 0.4-1.8 0.4-2 0.5-1 0.4-2.2 0.4-2.2 0.4-2 0.5-1.6 0.4-2.4 0.4-1.9 0.4-2.6 0.5-1.2 0.4-2.9 0.4-1.3 0.5-2.1 0.4-3.2 0.4-1.7 0.4-2.1 0.5-2.5 0.4-1.5 0.4-2.1 0.4-1.7 0.4-2.7 0.4-2.2 0.4-1.7 0.4-2 0.4-1.9 0.4-1.9 0.4-1.9 0.4-3 0.4-1.9 0.4-1.3 0.4-2.2 0.4-2.3 0.4-1.6 0.3-3.1 0.4-1.4 0.4-2.3 0.3-2 0.4-1.6 0.3-1.2 0.4-2.5 0.3-1.4 0.5-2.9 0.4-1.8 0.5-2.5 0.4-1.3 0.4-2.1 0.4-2.4 0.4-1.1 0.3-1.7 0.4-2.2 0.4-1.4 0.3-2.5 0.4-1.7 0.4-2.1 0.4-2.3 0.3-1.6 0.4-2.5 0.3-1.6 0.3-2.2 0.4-1.5 0.3-2.3 0.3-1.5 0.3-1.7 0.4-2.8 0.3-2.3 0.4-1 0.3-3.2 0.4-1.4 0.4-2 0.4-2.9 0.4-2 0.4-2.7 0.3-1.9 0.4-1.6 0.3-1.9 0.4-2 0.3-2 0.4-2.4 0.4-1 0.4-2.8 0.4-1.7 0.4-1.7 0.4-3.2 0.4-1.6 0.4-2.4 0.4-1.5 0.4-1.9 0.4-2.1 0.4-2.7 0.4-2.3 0.4-1.6 0.3-1.7 0.4-2 0.4-2.2 0.3-2.7 0.4-1.1 0.3-2.3 0.4-1.9 0.4-3 0.3-2.1 0.4-2.3 0.3-2.1 0.3-1.6 0.4-2.1 0.3-2.5 0.4-1.6 0.3-2.4 0.3-2.4 0.3-1.3 0.3-1.8 0.4-2.4 0.3-2.1 0.3-1 0.3-2.3 0.3-1.5 0.3-1.8 0.5-2.2 0.4-2.3 0.4-1.8 0.5-2.4 0.4-1.5 0.4-2.4 0.4-1.5 0.4-1.8 0.4-2 0.4-1.3 0.4-2.3 0.4-2.4 0.3-2.4 0.4-2 0.2-2.2 0.3-1.4 0.2-1.6 0.2-2 0.2-2 0.2-2.7 0.2-2.1 0.2-2.4 0.3-2 0.2-1.3 0.1-2.8 0.2-1.8 0.2-2.2 0.2-2.7 0.2-2 0.2-1.6 0.2-1.7 0.2-2 0.1-1.8 0.2-2.6 0.2-0.9 0.3-3 0.3-2.9 0.3-0.8 0.2-1.8 0.3-1.7 0.3-1.7 0.3-2.4 0.3-1.1 0.5-3.2 0.5-3.2 0.3-1.4 0.3-1.8 0.3-1.2 0.3-1.4 0.3-1.9 0.4-2.8 0.3-1.3 0.4-3 0.4-1.4 0.4-2.8 0.4-1.4 0.4-2.6 0.4-1.6 0.4-2.9 0.4-2.3 0.4-2.3 0.4-1.5 0.4-2.2 0.4-2.3 0.3-1.9 0.4-2 0.4-2.6 0.3-0.8 0.5-3.3 0.4-2 0.5-2.4 0.4-1.9 0.4-2.5 0.5-1.9 0.4-2.1 0.4-1.9 0.5-2.6 0.4-1.9 0.4-2.1 0.4-1.6 0.4-1.3 0.3-3 0.4-1.1 0.4-2 0.3-1.7 0.4-3.1 0.3-1.7 0.3-2.7 0.3-1.9 0.2-1.3 0.3-3.3 0.2-0.9 0.3-2.6 0.2-1.7 0.3-2.8 0.2-1.1 0.3-2.9 0.3-1.7 0.3-1.6 0.4-1.9 0.5-2.8 0.5-2.1 0.5-1.8 0.5-2.1 0.6-1.7 0.6-1.6 0.6-1.8 0.6-2.4 0.6-2 0.5-1.1 0.6-2.3 0.4-1.4 0.5-2.7 0.5-1.9 0.5-2.7 0.4-1.3 0.4-2.1 0.4-3 0.3-1.1 0.4-2.5 0.4-2.2 0.4-1.2 0.5-2.3 0.5-2.4 0.6-2.4 0.6-2.8 0.7-1.2 0.6-2.3 0.6-2.9 0.6-2.5 0.6-1.4 0.5-2.1 0.4-1.6 0.6-2.6 0.2-2.1 0.2-2.6 0.3-2.2 0.4-2.1 0.5-1.8 0.5-2.1 0.6-1.7 0.6-2.2 0.6-2.3 0.7-2 0.7-1.1 0.7-2 0.8-2.9 0.9-2 0.8-1.4 0.9-2.6 0.8-2 0.7-2 0.7-1.4 0.6-1.9 0.5-2.4 0.6-2.6 0.5-2 0.6-1.2 0.7-1.9 0.7-2.6 0.8-1.9 0.9-2.4 0.8-1.4 0.9-2.1 0.8-1.8 0.7-1.6 0.7-2.6 0.7-1.9 0.6-3 0.6-1.2 0.7-2.5 0.9-2.5 1-1.5 1.1-1.9 1.2-2.2 1.2-1.7 1.3-1.5 1.3-1.9 1.3-1.6 1.3-1.7 1.3-2.2 1.4-1.3 1.5-1.5 1.6-1.5 1.7-2 1.7-1.6 1.8-1.2 1.8-1.7 2.1-1 2.1-0.5 2-0.7 2.2-1.1 2.4-0.8 2.3 0.8 2.4-0.1 2.2-0.9 2-0.2 2.5-0.3 2.3 0.6 2.1-0.1 2.1 0.1 2.2 0.9 1.9 1 1.9 0.7 1.9-0.1 1.9 1.2 1.9 0.9 1.8 2.2 1.7 0.4 1.6 2.3 1.6 1.3 1.6 1.6 1.6 1.6 1.7 2 1.6 1.8 1.6 1.6 1.7 1.5 1.7 2.4 1.7 0.7 1.5 2.1 1.5 0.9 2.1 2.2 1.8 0.4 1.9 1 2.4 2.4 1.2 0.7 1.2 1.5 1.4 1.8 1.4 0.6 1.5 2.3 1.5 1 1.5 1.9 1.5 2.4 1.5 1.6 1.4 1.7 1.2 1 1.2 2.3 1.2 1.6 1.3 1.5 1.2 1.6 1.3 1.5 1.2 2.2 1.2 1.6 1.1 0.9 1.1 1.7 1 2.3 1 2 1.2 2 1 1.9 1 1.4 0.8 2.4 0.9 1.5 0.8 2.7 0.8 1.1 0.9 2.1 1 1.6 1 2.3 1.1 2.4 1.1 1.1 1.1 2.5 1.1 1.6 1.2 2.3 1.1 1.7 1.1 1.8 1.1 1.6 1 1.7 0.9 1.9 1 2.9 1 1.4 0.9 1.1 1 2.8 1 1.8 1 1 1 1.9 1 2.5 1 1.7 0.9 1.4 1.1 1.7 1 1.5 1 2 1 1.7 1.1 2.5 1 1.8 1 1.3 1.1 2 1 2.2 1 1.3 1.1 2 1 2.6 1.1 1.3 1.1 2.6 1 1.6 1 1.4 1.1 2.4 1 1.4 1 2 0.9 2.3 1 1.3 0.9 2.4 0.9 2.4 0.8 1.7 0.9 1.7 0.8 1.7 0.9 2 0.9 2 1 2.5 1 2 0.7 1.5 0.8 2.2 0.8 1.5 0.8 1.1 0.8 2.6 0.8 1.9 0.9 1.5 0.8 1.6 0.9 2.1 0.9 2.7 0.8 1.9 0.9 1.1 0.9 2.2 0.9 1.8 0.9 2.1 0.9 1.6 0.9 2.1 0.9 1.5 0.9 2.7 0.9 1.8 0.9 1.6 0.9 1.6 1 2.3 0.9 2.1 0.9 0.8 1 2 1 1.8 1 2.5 1 1.2 1 2.2 0.9 1.7 1 2.1 0.9 2 1 2.4 1 0.8 1 2.7 1.1 1.6 1 2.2 1 1.5 1 2.1 1.1 1.5 1 1.8 1 1.8 1 2.2 0.9 2.1 1 0.8 0.9 2.6 1.1 1.4 1.1 2.3 1 1.9 1 0.9 1 2.9 1 1.3 1 2.2 1 0.9 1 2.4 1 1.4 0.9 1.7 1 1.9 1 1.4 1 2.4 1 2 1 1.3 1.1 1.7 1 1.4 1.1 2.9 1 1.8 1.1 1.8 1 0.9 1 2.2 1 2.2 1 1.8 0.9 2 0.9 0.7 0.9 2.1 1 1.6 0.8 2.9 0.8 1.6 0.8 1.1 0.8 2.7 0.7 1 0.7 2.1 0.8 2.3 0.8 0.9 0.8 2.1 1 2.6 1 1.1 0.9 1.9 1 1.5 1 2 1 2 1.1 1.2 1 2.1 1.2 2 1.1 1.2 1.2 2.1 1.2 2.4 1.2 1.5 1.3 2.2 1.3 1.6 1.4 2.1 1.1 0.8 1.1 2 1.2 1.7 1.2 1.7 1.2 1.7 1.2 1 1.3 1.7 1.3 2.2 1.3 0.9 1.3 1.6 1.3 2 1.3 2 1.3 2 1.3 0.9 1.3 1.8 1.3 1.7 1.3 2.3 1.3 1.1 1.3 1.1 1.4 1.6 1.3 2.2 1.3 1.8 1.4 1.6 1.3 1.3 1.3 1.9 1.4 2.1 1.3 1.1 1.4 1.6 1.3 2.1 1.3 1.2 1.4 2 1.3 0.7 1.3 2 1.4 1.4 1.3 1.2 1.5 2.2 1.5 1.6 1.5 0.4 1.5 2.2 1.5 1.3 1.5 1.9 1.6 0.3 1.5 2.1 1.5 1.4 1.5 1 1.5 1.6 1.5 0.6 1.5 1.5 1.5 1.3 1.5 1.6 1.7 0.9 1.7 1.1 1.6 1.4 1.6 1.5 1.6 1.6 1.6 0.6 1.6 1.3 1.7 1.4 1.7 0.6 1.8 1.2 1.9 1.4 2 1.6 2.1 0.9 1.5 0.5 1.6 1.2 1.6 0.5 1.7 1.4 1.7 1.6 1.8 0.2 1.8 1.1 1.8 1 1.9 1 1.8 1.7 1.9 0.8 1.9 0.2 1.9 1.9 1.9 0.7 1.8 0.3 1.9 1.4 1.9 0.7 1.8 0.8 1.8 0.6 2 1.5 1.9 0.7 2 1.2 1.9-0.4 1.9 1.8 1.8 0.4 1.9 0.6 1.9 0.8 2 0.7 1.9 0.4 2 1 2 0 2 1.3 2.1-0.1 2.2 0.7 2.2 1.2 2.3-0.4 1.8 0.8 1.9 0.8 2 0.7 2-0.3 2 0.7 2.1-0.1 2.1 0.6 2.2 0.9 2.1 0.6 2.2 0.2 2.2 0.1 2.2 0.7 2.2-0.2 2.1 0.4 2.2 0.5 2.1 0 2.1 0.4 2 0.3 2 0.6 2 0.8 1.9-0.4 1.8 0.3 2.3 0.2 2.4 0.4 2.4-0.2 2.4-0.3 2.4-0.2 2.3 0.4 2.3-0.7 2.2 0.6 2.2-0.5 2.1-0.6 2 0.3 1.8 0.3 1.8-0.5 1.6-0.7 1.4 0.6 1.3 0.2 1.1-0.7" stroke="#EE5E0C" stroke-width="1.50" fill="none" stroke-linejoin="round"/>
<path d="M230 2980.9l1.2-1.4 1.4 0 1.6 0.6 1.8 1.5 1.9 1.4 2.2-1.8 2.3-0.4 2.5 0.9 2.6-1.1 2.7 2.3 2.8 1.1 1.6-3.4 1.7 1.9 1.8-2.6 1.9 2.5 1.9-2 2-1.2 2.1-1.9 2.1-0.1 2.1 2.4 2.1-3.5 2.2 1 2.1-0.9 2.2-1.2 2.1 0.4 2.1-3.1 2.1 1.4 2.1-3.2 2-0.1 1.9 1.1 1.9-2.7 1.9-1.1 2 0.7 1.9-0.3 1.9-3.5 1.9 1.8 1.9-1.3 1.8-3.2 1.8 1.3 1.9-3.3 1.8 1.3 1.8-0.8 1.7-1.9 1.8-1.1 1.7 0.7 1.7-3.4 1.6 0.1 1.7-0.8 1.6-2.8 1.6 2.4 1.8-4 1.8 1.4 1.7-2.4 1.7-2.8 1.6 0.1 1.6 0.1 1.5-1.5 1.5 0.8 1.6-4.6 1.5 2 1.5-1 1.6-4.1 1.6 0.1 1.6-3.3 1.7 0.6 1.7-1.2 1.2-2.9 1.3 0.7 1.2-3.5 1.3-2.1 1.3 0.2 1.3-0.4 1.3-3.4 1.4-1.9 1.3 0.2 1.3-1.6 1.4-3.8 1.3-1.5 1.4 0.1 1.3-1 1.3-4.3 1.4 0.3 1.3-1.6 1.3-4.1 1.3 0.9 1.3-2.4 1.3-3.2 1.3-1.4 1.2-1.1 1.3 0.2 1.4-3.9 1.3 0.1 1.2-0.4 1.3-2.8 1.3-1 1.2-3.9 1.2 1.8 1.3-1.5 1.2-1.9 1.2-4.1 1.3-0.1 1.2-1 1.3-4 1.2-1.7 1.3 1.5 1.3-3.1 1.4-0.2 1.3-3.7 1.4 0.3 1.4-2.7 1.1-3.6 1.2-1.3 1.1 1.2 1.2-4.9 1.2 1.8 1.2-2.9 1.3-0.5 1.2-4.7 1.3-2.3 1.2 1.8 1.3-3.4 1.3-2.7 1.3-0.5 1.2-3.6 1.3 0.5 1.3-2 1.3-1.5 1.2-2.8 1.3-1.6 1.2-2.2 1.3-2.3 1.2 0.3 1.2-2.2 1.2-1.2 1.1-2.3 1.2 1.3 1.1-2 1.9-3.8 1.8-0.4 1.8-1.7 1.8 0 1.8-3.3 1.8-1.6 1.7-0.4 1.7 0 1.7-4.4 1.7 2.7 1.6-4.6 1.6-1.1 1.6 0 1.5 0.8 1.5-0.1 1.5-2.8 2.3-2.3 2-0.2 2-1.3 1.9-0.1 1.8-2.4 1.8 1.8 1.9 0 2-2.8 2 0.6 2.3 2.1 1.8-3.1 1.8-1 1.8 2.6 1.9-0.8 1.8-0.1 2-0.6 2 1.8 2 1.6 2.2 0.2 2.2-0.8 2.4 0.5 2.5 2.7 2.6 3.7 1.1-0.5 1.2 1 1.2 1.2 1.2 2.3 1.3 1.5 1.2-1.8 1.3 3.4 1.3 1.2 1.3 0.4 1.3 2.4 1.4-0.9 1.4 3 1.3 0.2 1.4 1.2 1.5 4 1.4 3 1.4-0.2 1.5 2.3 1.4 1.4 1.5 0.4 1.4 2 1.5 3 1.5 1.5 1.5-0.3 1.5 3.5 1.5 1.9 1.5 2.2 1.5-0.5 1.5 4.8 1.5 0.2 1.5 2.5 1.3 1.4 1.3-0.5 1.4 1.1 1.4 1.9 1.4 3.4 1.4-0.6 1.4 4.4 1.5 0.4 1.4 1.4 1.5 0.6 1.5 1.9 1.5 2.8 1.5 0.4 1.5 3.1 1.5 2 1.5-0.1 1.5 2.8 1.5-1.2 1.5 1.5 1.5 2.4 1.4 3.8 1.5-1.8 1.4 2.3 1.5 3.9 1.4-1.2 1.4 1.1 1.4 2.1 1.3 1.7 1.3 2.1 1.3 1.5 1.3 0.6 1.2 3.7 1.2 0.3 1.2 1.6 1.1 1 1.1 0.4 1.8 2.8 1.7 2 1.6 2.4 1.4 1.1 1.3 1.3 1.3 2.5 1.1-0.3 1.2-0.2 1 1.7 1.1 4.2 1.1-1.9 1 3.7 1.2-0.5 1.1 1.7 1.3-0.3 1.3 3.5 1.4 2.6 1.6 1.3 1.7-1.4 1.8 4.1 1.2 1.8 1.3-0.9 1.3 0.5 1.3 1.4 1.4 2.9 1.5-0.2 1.4 1.9 1.5 3.7 1.5-0.2 1.5 1 1.6 0.3 1.6 2.8 1.6 1.9 1.6 0 1.6 3.1 1.7-1.9 1.6 1.9 1.7 3.2 1.7-0.7 1.6 4.4 1.7-1 1.7 3.5 1.7-2.1 1.7 2 1.6 3.4 1.7-0.1 1.7 2.1 1.6-0.7 1.6 2.9 1.6 2.2 1.6-2 1.6 3.9 1.9 1.6 1.8 0.1 1.9 1.3 1.8-0.1 1.9 2.4 1.8 0.3 1.9-0.7 1.8 2.1 1.9 0.6 1.8 1.3 1.9 0.6 1.8 1.2 1.9-0.2 1.8 1.6 1.9 0.1 1.8 0.6 1.9 1.4 1.8 0.6 1.9 0.4 1.8 1.3 1.9 1.1 1.8 0.4 1.9 0.1 1.8 1.4 1.9 1.1 1.8-0.3 1.9 0.6 1.9 1.1 1.9 0.7 1.9 0.5 1.8 1.1 1.9 0.6 1.8 0.5 1.8 1.4 1.8 0.3 1.8 0.9 1.9 0 1.8 1.5 1.8 0.6 1.8 0.7 1.9 0.8 1.8 0.7 1.9-0.2 1.9 1.5 2 0.6 1.9-0.1 2 1.3 2 0 2.1 0.6 2.1 0.2 2.1 0.8 2.2 1.2 2.2 0.9 1.7-0.7 1.8 0.8 1.8 1 1.8-0.1 1.9 0.8 1.8 0.8 1.9 0.2 1.9 0.9 1.9-0.3 2 0.9 2 1 1.9-0.4 2 1.2 2 0.4 2 0.4 2.1 0.4 2 0.1 2 1.1 2.1 0.6 2 0.3 2.1 0.3 2-0.2 2.1 0.8 2 0.5 2.1 0.2 2 0.9 2.1-0.2 2 0.6 2 0.5 2.1-0.2 2 0.5 2 0.1 1.9 1.1 2 0.6 2 0.1 2.1 0.6 2-0.1 2.1 0 2.1 0.5 2.2 0.2 2.1 0.1 2.1 0.6 2.2 0.2 2.1 0.1 2.1 0.1 2.2 0.2 2.1-0.5 2.2 0.8 2.1-0.3 2.1 0 2.1 0.4 2.1-0.6 2.1 0.3 2 1 2.1-0.4 2-0.5 2 1.2 1.9 0 1.9-0.7 1.9 0.4 1.9 0.6 1.8-0.8 1.8 0.4 1.7 0.6 1.7 0 1.6 0.4 1.6 0.1 2.8-0.6 2.5 0.5 2.4-0.2 2.3 0.7 2.1 0 2 0 1.9 0.1 1.9-0.1 1.8 0.2 1.8 0.7 1.7 0.6 1.8-0.5 1.8-0.1 1.9-0.2 1.9 0 2 0.7 2.1 0.3 2.3-0.8 1.9 0.7 1.9-0.9 1.9 0.4 2.1-0.2 2 0.1 2.1-0.7 2.1-0.6 2.2 0.2 2.1-0.1 2.2-0.2 2.2 0.4 2.1-0.7 2.2-0.6 2.2 0.3 2.1-0.7 2.1-0.4 2.1 0.4 2-0.5 2-0.1 2-0.9 1.9 0 1.8-0.5 1.8 0.3 2.3-1.3 2.3 0.4 2.2-1.5 2.1-0.2 2.1-0.2 2.1-0.7 2-0.9 1.9-0.1 2-1.2 1.8-0.5 1.9-0.2 1.8-1.1 1.7-0.8 1.8 0 1.7-1.3 1.6 0.2 1.7-1.2 2.3-0.4 2.2-1.3 2.2-0.8 2-0.5 2-0.1 2-1.2 1.9-1.2 1.8-0.8 1.7-0.1 1.7-0.8 1.6-1.2 1.6-0.3 2.2-1.5 1.9-1.2 1.8-1.4 1.7-1 1.5-1.1 1.6-1.8 1.6-1.8 1.7-1.3 1.4-1.8 1.4-1.5 1.4-0.7 1.4-1.3 1.4-2.1 1.4-1.8 1.4-0.7 1.4-1.8 1.4-2.2 1.4-1.9 1.1-1.3 1.1-1.3 1.1-1.6 1.1-2.6 1.1-1.1 1.1-2.1 1.1-2.1 1.1-1.9 1.1-1.3 1-2.1 1.1-1.2 1-2.7 1-0.5 1.3-2.8 1.2-1.8 1.2-0.8 1.2-1.8 1.1-2.3 1.2-1.1 1.1-1.1 1.1-1.6 1-1.8 1-2.5 0.9-1.9 0.8-2 0.8-1.2 0.8-1.5 0.7-2.8 0.7-1.2 0.8-2.7 0.7-2.3 0.7-1.2 0.7-2.3 0.8-2 0.8-2 0.8-1.7 0.8-1.6 0.8-1.5 0.7-1.9 0.8-2 0.8-2 0.8-2.1 0.8-1.7 0.8-1.9 0.7-3 0.5-1.1 0.5-1.8 0.5-1.9 0.5-1.7 0.4-1.9 0.5-2.2 0.5-1.6 0.5-2.4 0.4-2.1 0.5-2.2 0.5-2.2 0.4-2.4 0.5-1.5 0.5-2.1 0.5-2.5 0.5-2.5 0.4-1.9 0.5-1.3 0.5-2.7 0.4-1.2 0.5-2.7 0.4-2.1 0.5-1.2 0.5-2.4 0.4-2.1 0.5-1.1 0.5-3 0.5-1.1 0.4-2.5 0.5-1.8 0.5-1.4 0.5-2 0.4-2.1 0.5-2.7 0.5-1.6 0.4-2.2 0.5-1.1 0.5-2.1 0.5-2.3 0.5-2.4 0.5-1 0.5-2.7 0.4-1.3 0.5-1.9 0.5-3 0.5-1.8 0.4-1.5 0.5-2.4 0.5-1.6 0.4-2.1 0.5-2.3 0.4-1.1 0.5-2.8 0.4-2.1 0.4-1.2 0.5-2 0.4-2.6 0.4-1.2 0.4-2.6 0.4-2.1 0.4-2.2 0.4-2.2 0.4-1.8 0.4-1.5 0.4-1.8 0.4-2.5 0.4-2.8 0.4-2.1 0.4-2.2 0.3-1.2 0.3-1.6 0.3-2.9 0.3-1.9 0.3-1.9 0.3-0.8 0.3-2.6 0.3-2.3 0.3-1.5 0.2-2.3 0.3-2.2 0.3-2 0.3-1.4 0.3-2.5 0.3-1.2 0.3-2.8 0.4-1.4 0.3-2.9 0.4-2.5 0.3-2.1 0.4-1.4 0.3-2.8 0.3-1.3 0.3-1.5 0.4-2.4 0.3-2.2 0.3-1.5 0.4-1.9 0.4-2.5 0.3-2.1 0.4-1.8 0.3-2.1 0.4-1.6 0.4-2.6 0.4-2.5 0.3-1.2 0.4-2.5 0.4-2 0.4-2.6 0.3-1.5 0.4-2.3 0.4-1.7 0.4-1.7 0.3-2.1 0.4-1.5 0.3-2.6 0.4-2.1 0.3-1.6 0.4-1.7 0.5-3.1 0.4-1.9 0.4-2.3 0.4-2.4 0.5-1.3 0.4-2.6 0.4-2 0.4-2.4 0.4-1.4 0.4-2.4 0.5-2.1 0.4-2 0.3-1.2 0.4-2.4 0.4-2.4 0.4-1.7 0.4-1.6 0.3-2.2 0.4-0.7 0.3-2.6 0.5-1.6 0.5-3.2 0.4-1.3 0.5-2.8 0.4-1 0.4-2.5 0.4-1.4 0.4-2.1 0.4-1.8 0.4-2.2 0.3-1 0.4-2.2 0.3-2.6 0.4-2.4 0.3-1.3 0.3-2.2 0.3-2 0.2-2.2 0.3-1.9 0.3-2.3 0.3-2.8 0.2-1.4 0.3-2.9 0.2-1.8 0.2-2.1 0.3-2.3 0.2-2.2 0.2-1.4 0.2-2.9 0.2-1.4 0.2-1.3 0.3-2.5 0.1-2.3 0.2-2.2 0.1-2.2 0.1-1.7 0.1-2.2 0.1-2.2 0.2-1.2 0.3-2.1 0.4-2.8 0.3-1.2 0.3-2.8 0.4-1.8 0.4-1.2 0.5-2.7 0.4-2.1 0.5-1.5 0.5-2.6 0.5-1.5 0.5-1.9 0.4-2.3 0.5-2.8 0.5-1.9 0.5-1.6 0.4-2.6 0.4-1.9 0.4-2.1 0.3-2.2 0.4-1.4 0.3-1.9 0.3-2.6 0.4-1.7 0.3-2.9 0.3-2.2 0.3-1.8 0.4-1.5 0.3-3 0.3-1 0.3-2.3 0.3-2.8 0.3-1.5 0.4-2.4 0.3-2.3 0.3-1.3 0.4-2.4 0.3-1.8 0.3-2.7 0.3-2.4 0.4-1.3 0.3-2.8 0.3-2.5 0.4-2.3 0.3-1 0.3-2.3 0.3-2.1 0.4-2.9 0.3-0.9 0.3-2.5 0.4-1.4 0.3-2.6 0.5-1.7 0.4-2.1 0.5-2 0.5-2.1 0.5-2.3 0.5-1.6 0.4-1.5 0.5-2.5 0.5-1.5 0.5-1.9 0.4-2.2 0.5-2.5 0.4-1.5 0.3-1.9 0.4-1.4 0.3-2.3 0.4-2.4 0.3-1.7 0.4-2.5 0.3-1.6 0.3-2.9 0.4-2.1 0.3-1.8 0.4-2.2 0.3-2.2 0.4-1.8 0.3-2.3 0.4-0.9 0.6-3.4 0.6-2.4 0.6-2.5 0.7-1.8 0.6-2.3 0.6-1.3 0.6-2.7 0.5-2 0.5-1 0.4-2.5 0.5-2.4 0.2-2.1 0.2-1.8 0.2-1.6 0.5-2.7 0.5-1.9 0.6-1.9 0.8-2.6 0.7-2.3 0.8-2.1 0.8-2.2 0.7-1.8 0.7-1.9 0.5-2.9 0.5-1.2 0.5-2.5 0.5-1.8 0.5-2.4 0.4-1.5 0.5-1.8 0.4-1.9 0.5-3.1 0.4-1.5 0.4-1.9 0.4-2.1 0.4-1.9 0.4-2.3 0.4-2.3 0.4-2.4 0.5-2.4 0.4-2.4 0.5-1.2 0.6-3 0.7-2.1 0.7-1.5 0.7-1.9 0.7-2.4 0.8-1.8 0.7-2.2 0.7-2 0.6-1.7 0.7-2.7 0.6-1.7 0.7-2.6 0.6-2 0.6-1.9 0.6-1.9 0.6-2.7 0.6-1.6 0.7-2.3 0.6-1.6 0.5-2.5 0.6-1.9 0.5-1.6 0.6-1.8 0.7-2.1 0.7-2.6 0.7-1.3 0.8-2.3 0.8-1.6 0.8-2.1 0.9-2.5 1-2 1.1-1.7 1.1-1.2 1.2-2 1.3-2.5 1.2-1.8 1.3-1.8 1.2-1 1.4-2.5 1.3-1.8 1.3-1.6 1.4-2.1 1.4-2 1.6-1.9 1.7-1.3 1.8-0.6 1.9-2.4 1.9-0.9 2-0.8 2-0.9 2-0.1 2.1-0.6 2.1-0.8 2.2 0.6 2.1-0.2 2.1-0.9 2.1 0.1 2.2-0.1 2.2-0.1 2.1 0.6 2.1-0.3 1.9 1 1.8 1.1 1.7 1 1.6 0.7 1.6 2.2 1.6 1.4 1.6 1.9 1.4 1.8 1.4 0.5 1.3 1.5 1.4 2.6 1.4 1 1.4 1.4 1.5 1.7 1.5 1.9 1.7 2.2 1.6 0.7 1.7 1.8 1.6 1.5 1.7 2 1.5 1.8 1.1 1.6 1.2 1.7 1 1.8 1.1 0.6 1 2.4 1.1 1.3 1.1 1.8 1.1 2.1 1.1 1.7 0.9 1.7 0.9 1.3 0.9 2.5 0.9 1.3 0.9 0.9 0.9 2.5 1 1.3 1 2.2 1.1 2.4 1.3 1.9 1.3 1.9 0.9 1.1 1 2 1 2.2 1 1 1.2 1.6 1.1 2.9 1.2 1 1.2 2.6 1.2 1.3 1.2 2.6 1.2 1.3 1.2 2.8 1.1 1.2 1.1 1.7 1.1 1.8 1 1.6 1 2.1 0.9 1.7 1.3 2.3 1.3 2.6 1.1 1.7 1.1 1.9 1 1.9 0.9 2.1 1 1.7 0.9 1.5 0.8 1.4 1 2.5 0.9 1.3 0.9 1.4 1 2.5 0.9 1.7 0.9 2.2 0.9 2.3 0.8 1.7 0.9 1 0.9 2.7 0.8 1.9 0.9 2.3 0.9 1.4 0.9 1.7 0.9 2.5 0.9 1.2 0.9 2.6 0.8 1.7 0.9 1.7 0.9 2.3 0.9 1.9 0.9 1.6 0.9 1.5 0.9 2 0.9 2.5 0.9 1.8 0.9 2.3 0.9 1.7 0.9 2.2 0.9 1.1 0.9 1.7 0.9 1.9 0.9 2.9 0.9 1.1 0.9 2.2 0.9 2.4 0.9 1.6 0.9 2 0.9 1.6 0.9 1.4 0.9 2.8 0.9 2.2 0.9 1.1 0.9 2.8 0.9 1.4 0.8 1.4 0.8 2.6 0.9 1.7 0.8 1.9 0.8 2.8 0.8 2.3 0.8 1.2 0.8 2.6 0.7 2 0.7 1 0.7 2.5 0.6 0.5 1.3 2.9 1 0.9 1 2 1.6 3.2 0.6 1.7 0.6 1.4 0.6 1.2 0.7 1.5 0.7 1.7 0.7 2 0.8 2.5 0.8 1.8 0.8 1.6 0.8 3 0.8 2.1 0.9 2.1 0.8 1.1 0.9 2.9 0.8 1.9 0.9 1 1 2.4 0.9 1.4 1 2.4 1 1.1 1 2.2 1 1.3 1.1 2.5 1 2.1 1 1.4 1 1.9 1.1 1.1 1 1.9 1 1.4 1 2.9 1 1.2 1 2.5 1 1.4 1 1.6 1 2.3 1.1 2 1 1.1 1 2.3 1 0.9 1 2 1 2.4 1 2.1 1 1.6 1.1 2 1.1 1.9 1 1.5 1.1 1.4 1.1 1.8 1.1 1.8 1 1.7 1.1 2 1.1 2.5 1.1 1.4 1 1.7 1.1 2 1.1 2.2 1.1 1.6 1.1 1.7 1 1.5 1.1 1.9 1.1 2.3 1.1 1.8 1.1 2.2 1.1 1.6 1.1 1.8 1.1 1.9 1 1.6 1.1 2.1 1.1 1.5 1.2 1.6 1.2 1.6 1.2 3 1.2 1 1.3 2.6 1.2 1.5 1.2 1.3 1.2 2.1 1.1 2.2 1.1 1.3 1.1 1.9 1 1.1 1.5 2 1.2 2.3 1.2 1.7 1 1 1.2 1.3 1.5 2.4 1.7 2.2 1.2 0.8 1.3 0.7 1.3 1.5 1.4 1.8 1.5 1.2 1.5 1.8 1.6 1 1.6 1.6 1.6 2.4 1.7 0.8 1.7 1.6 1.7 2.4 1.3 0.9 1.3 1.2 1.4 1.4 1.4 1.3 1.4 1.6 1.4 1.3 1.4 1.6 1.5 2.3 1.4 1 1.5 1.9 1.5 0.9 1.4 1.3 1.5 1.9 1.4 1.6 1.5 1.3 1.4 1 1.6 1.3 1.6 1.8 1.6 1.8 1.7 0.8 1.6 1.4 1.6 0.8 1.6 1.5 1.6 1.1 1.6 1.6 1.6 1 1.7 0.8 1.6 1.8 1.6 0 1.6 1.2 2 1.3 2 0.4 2 1.1 2 0.2 2 1 2 0.5 2 0.3 2.1 0.9 2.1 1 2.2 0 2.2 1.4 1.8 0.2 1.7 1.7 1.8 0.3 1.7 1.3 1.8 0 1.8 1.1 1.9 0.8 1.8 1.9 2 0.2 2 0.6 2.1 1.5 2.2 0.1 2.2 1.2 2.4 0.1 1.7 1.2 1.9-0.5 1.8 0.3 2 0.4 2 1.3 2.1 0.2 2 0.5 2.2-0.3 2.1 0.6 2.2 0.2 2.2 0.5 2.1 0.3 2.2 0.1 2.1-0.4 2.2 0.2 2.1 0.1 2 0.8 2-0.1 2 0.4 1.9-0.2 2.3 0.6 2.2 0.1 2.1 0.1 2.1 0.6 2-0.8 2 0.3 2 0.2 2-0.1 2 0.6 2 0.1 2-0.5 2.1 0.6 2.1-0.6 2.3 0.2 2.3-0.1 2.4 0.7 1.9-0.2 2-0.2 2.1-0.5 2.2-0.9 2.2 0.6 2.4-1.1 2.3 0 2.4 0 2.5 0.2 2.4-0.5 2.4-1 2.3 0.2 2.3-0.8 2.3-0.2 2.1-0.2 2.1-0.2 2-0.3 1.8-0.5 1.6 0.2 1.5 0.1 1.4-1.2 1.1 0.5" stroke="#0DF00D" stroke-width="1.50" fill="none" stroke-linejoin="round"/>
<line x1="1348.2" y1="2261.6" x2="1461.5" y2="2261.6" stroke="#F7B08A" stroke-width="2.5"/>
<line x1="1372.6" y1="2337.7" x2="1461.9" y2="2337.7" stroke="#EE5E0C" stroke-width="2"/>
<line x1="1406.4" y1="2422.5" x2="1579" y2="2422.5" stroke="#EE5E0C" stroke-width="2"/>
<line x1="1446.4" y1="2535.5" x2="1579" y2="2535.5" stroke="#F7B08A" stroke-width="3.5"/>
<line x1="1741.3" y1="2901.7" x2="1741.3" y2="2950" stroke="#EE5E0C" stroke-width="2"/>
<line x1="1157" y1="2529.8" x2="1282" y2="2529.8" stroke="#555" stroke-width="2.5"/>
<path d="M1103.3 2529.8 L1152.3 2506.3 L1159 2529.8 L1152.3 2554.7 Z" fill="#000"/>
<rect x="323.5" y="1981.5" width="804.7" height="796" fill="none" stroke="#222" stroke-width="2"/>
<path d="M380.6 2777.8l0.3-1.8 0.3-1 0.4-1.8 0.4-0.5 0.4-2.6 0.5-1.2 0.5-1.9 0.5-1.9 0.5-2.4 0.6-2.1 0.6-2.2 0.6-2.6 0.6-2 0.6-2.4 0.6-1.7 0.7-2.8 0.6-2.7 0.6-2.5 0.7-1.9 0.6-1.5 0.6-3.5 0.6-1.7 0.6-1.7 0.6-2.9 0.6-1.2 0.6-1.8 0.5-1.8 0.5-2.6 0.5-0.6 0.8-3.4 0.8-1.7 0.8-2.2 0.7-2.3 0.7-1.5 0.7-1.7 0.7-1.6 0.7-2.2 0.7-0.8 0.6-1.9 0.7-1.9 0.7-2 0.8-0.8 0.7-1.7 0.8-2.2 0.8-2.4 0.6-1.6 0.6-2.2 0.6-2.1 0.7-0.9 0.6-2.1 0.6-2.3 0.7-1.6 0.6-2.9 0.7-2.1 0.6-1.8 0.7-1.4 0.7-2.7 0.6-2.4 0.7-2 0.7-2.1 0.8-1.1 0.7-2 0.7-3.1 0.8-1.2 0.7-2.5 0.8-1.1 0.8-2.6 0.9-1.4 0.9-2.8 0.9-1.4 1-2.2 0.9-2.3 1-1 1-2.5 1-1.6 1.1-2.6 1-1.7 1-1.2 1.1-2.3 1-1.2 1-2.2 1.1-1.3 1-2.5 1.1-1.5 1-1.1 1-2.6 1-1 1.3-2.5 1.3-1.7 1.3-1.6 1.3-1.9 1.2-1.9 1.3-1.7 1.2-0.8 1.3-1.3 1.3-1.8 1.3-1.8 1.4-0.9 1.4-2.2 1.4-0.4 1.5-1.5 1.5-1.3 1.7-1.2 1.8-1.8 1.9-0.9 1.9-1.1 2-1.3 2-1 2.1-1.2 2-0.7 2-1.2 2-0.2 1.9-1.5 1.9 0 1.8-0.8 1.7 0 2.2-0.6 2.1-0.6 2 0.6 1.9-0.2 1.8-0.5 1.8 0.6 1.9 0.5 2 1 2.1 1 2.2 1.1 1.5 1.2 1.5 0.3 1.6 1.5 1.6 0.5 1.6 1.4 1.7 0.5 1.7 2 1.7 0.6 1.7 1.9 1.7 0.9 1.8 2 1.7 1.4 1.7 0.7 1.7 2.4 1.7 1.2 1.7 1.1 1.3 1.9 1.4 1 1.3 2 1.3 1 1.4 0.8 1.3 2 1.3 0.8 1.4 1.7 1.3 1.4 1.3 1.4 1.4 2.1 1.3 2.2 1.4 0.9 1.3 1.4 1.3 1.3 1.4 2.1 1.3 1.5 1.3 1.2 1.4 2.5 1.3 1.5 1.3 0.7 1.3 2.1 1.2 1.4 1.3 2 1.3 0.7 1.3 1.6 1.3 2.3 1.3 0.9 1.3 1.8 1.3 1.2 1.3 1.7 1.3 2.3 1.3 0.8 1.3 2.4 1.2 0.9 1.3 2.2 1.2 1.6 1.3 1.8 1.2 1.6 1.2 1.4 1.2 2.1 1.2 1 1.2 1.6 1.1 2.1 1.2 1.1 1.1 1.8 1.1 1.4 1.1 2.3 1.1 1.7 1.1 1.5 1.1 1.7 1.1 1.8 1.1 1.6 1.1 1.9 1.1 1.9 1 2.2 1.1 0.8 1.1 2.6 1.1 1.5 1.1 2.5 1.1 1.6 1.1 1.5 1 2.2 1 0.9 1 2 1 2.2 1 2.1 1 1.2 1 2.3 1 1.9 1 1.7 1 1.3 1.1 1.7 1 2.5 1 1.9 1 1.3 0.9 1.8 1 2 1 1.8 0.9 1.6 1 2.7 0.9 1.6 0.9 1.4 0.9 2.4 0.9 1.4 0.8 1.9 1 1.3 1 1.9 1 2.3 1 2.1 1 3 1 1.2 1 3.2 1 2.3 0.9 1.6 0.9 2.6 0.9 1.9 0.8 1.1 0.9 2.6 0.7 1.8 0.8 1.1 0.6 1.4 0.7 1.5 0.5 1.5 0.5 2.1 0.5 0" stroke="#0000CD" stroke-width="1.50" fill="none" stroke-linejoin="round"/>
<path d="M412.9 2777.1l0.2-0.7 0.3-1.8 0.2-0.1 0.3-1.5 0.3-1.1 0.3-2.3 0.3-1.6 0.3-1.8 0.4-1.4 0.3-1.9 0.4-1 0.4-2.2 0.4-1.3 0.4-2 0.4-2.5 0.4-2.2 0.5-1.8 0.4-2.5 0.5-1.4 0.4-2.7 0.5-2.2 0.4-1.4 0.5-2.7 0.5-1.7 0.5-2.2 0.5-2.7 0.5-2.8 0.5-2.4 0.5-2.2 0.5-1.7 0.5-2.6 0.5-2.6 0.5-2.6 0.5-1.9 0.5-2.2 0.5-2.7 0.5-2 0.5-2.2 0.5-2.1 0.5-2 0.5-2.1 0.5-1.8 0.5-2.7 0.5-2.3 0.5-1.7 0.4-2 0.5-1.6 0.5-2.1 0.5-2.2 0.5-2.4 0.5-1.2 0.5-2.3 0.5-2.1 0.6-2 0.5-1.9 0.5-3.1 0.6-1.9 0.5-1.8 0.6-1.9 0.5-2.4 0.5-2.1 0.6-2.4 0.5-2.2 0.6-1.4 0.5-2 0.6-2.7 0.5-2.1 0.6-2.5 0.5-1.5 0.6-2.5 0.5-1.6 0.5-2.4 0.6-1.8 0.5-1.5 0.5-2.7 0.5-1.7 0.5-2.1 0.5-1.7 0.5-1.4 0.5-2.3 0.5-1.3 0.5-2.4 0.4-1.7 0.5-1.4 0.4-1.9 0.5-1.4 0.4-2 0.4-1.9 0.4-1 0.4-1.8 0.9-3 0.8-2.5 0.8-2.7 0.8-2.4 0.7-2.7 0.7-2.5 0.7-2.4 0.6-2 0.7-2.2 0.6-2.1 0.5-1.2 0.6-1.6 0.5-2 0.5-1.1 0.5-1.8 0.5-1.7 0.4-0.8 0.4-2.5 0.4-1.1 0.4-1.4 0.7-2.6 0.5-3.1 0.3-1.4 0.2-3.1 0.2-1.4 0.1-1.6 0.2-1.3 0.2-2.3 0.4-1.8 0.7-1.5 0.7-2 0.8-2.2 0.8-1.5 0.9-2.5 0.9-1.9 0.8-2.1 0.7-2.4 0.7-1.1 0.7-3 0.7-2.1 0.7-1.1 0.7-2.7 0.7-2.6 0.8-1.3 0.6-2.7 0.7-1.7 0.7-2.5 0.7-1.8 0.7-1.7 0.7-1.7 0.8-2.7 0.7-1.3 0.7-2.1 0.7-1.8 0.8-1.7 0.7-2.5 0.8-2.6 0.7-1.9 0.8-0.9 0.8-2.8 0.8-1.6 0.8-1.2 0.8-1.6 1.1-2 1.2-2.1 1.1-2 1.2-0.9 1.2-2.8 1.3-1.5 1.3-1 1-2.6 1-0.8 1-2 1.1-1.7 1-1.8 1.1-2 1.2-1.3 1.2-2.7 1.3-1.5 1.2-0.9 1.2-1.6 1.3-1.7 1.3-1.5 1.3-2.1 1.4-1.2 1.4-1.5 1.6-1.3 1.6-2.2 1.7-1.4 1.5-1.1 1.7-1.5 1.7-0.6 1.9-1.6 1.8-1.8 1.9-0.3 1.9-1.6 1.9-0.8 1.8-1.1 1.8-1.4 1.7-0.9 1.5-0.3 2.3-0.3 1.9-0.6 1.8 0.1 1.7-0.3 1.9 0.2 2.2-0.1 2.6 0.5 1.6 0 1.8 0.2 1.8 0 1.9 0 2-0.8 2 0.4 2.1-0.7 2.2 0.3 2.2 0.6 2.2-0.5 2.3 1.3 2.3 0.1 2.3 0.3 1.7 0.7 1.7 1.1 1.8-0.2 1.8 1.7 1.8 0.5 1.8 0.7 1.9 0.4 1.8 1.5 1.9 0.5 1.9 0.8 1.9 1.9 2 0.5 1.9 1.6 1.9 0.7 1.9 1.2 1.9 1 1.8 1.6 1.9 1.1 1.7 0.6 1.6 1.3 1.7 0.8 1.7 1.8 1.6 0.6 1.7 1.4 1.7 1.1 1.6 0.6 1.7 1.5 1.6 1.8 1.7 1 1.7 0.9 1.6 1.2 1.7 2.2 1.7 1.2 1.6 1.5 1.7 0.5 1.7 1.9 1.6 1.3 1.7 1.4 1.5 1.2 1.4 1.7 1.5 1.2 1.4 0.8 1.5 1.3 1.5 1.6 1.5 2.2 1.4 1.5 1.5 1.2 1.5 1.1 1.5 1.7 1.4 1.6 1.5 1 1.5 2.4 1.4 1.5 1.5 0.4 1.4 1.8 1.4 1.5 1.5 2.2 1.4 1.6 1.4 1.5 1.4 0.9 1.4 1.6 1.4 1 1.4 1.3 1.3 2.1 1.3 1.3 1.3 1.7 1.3 1.4 1.2 0.8 1.2 0.8 1.2 1.9 1.3 1.8 1.2 0.8 1.3 1.6 1.3 1.2 1.3 1.4 1.3 1.5 1.4 1.3 1.4 1.9 1.5 2.2 1.6 1.7 1.6 1 1.7 2.2 1.8 1.9 1 1.2 1.1 1.2 1.1 2.1 1.1 0.7 1.2 1.9 1.2 1.6 1.2 0.5 1.2 1.6 1.2 1.3 1.3 1.5 1.3 2.5 1.3 1.4 1.3 1.6 1.3 0.6 1.3 1.9 1.3 1.7 1.4 1 1.3 2.3 1.4 1.9 1.4 1.7 1.3 1.5 1.4 1 1.4 2.2 1.4 1 1.3 1.9 1.4 1.2 1.4 1.7 1.3 1.6 1.4 2 1.3 2.1 1.3 1.4 1.4 1.2 1.3 1.8 1.3 1.7 1.3 1.3 1.2 1.6 1.3 2.5 1.2 1.4 1.2 1.4 1.3 1 1.3 2.2 1.3 2 1.2 1.7 1.3 1 1.2 1.9 1.3 2 1.2 1.1 1.3 2.3 1.2 1 1.2 2.6 1.3 1 1.2 1.9 1.2 2.1 1.2 1.6 1.2 2.2 1.2 1.3 1.2 1.2 1.2 1.6 1.1 2.5 1.2 1.6 1.2 1 1.2 2.5 1.2 1.1 1.1 1.4 1.2 1.6 1.2 2 1.1 2.1 1.2 1.3 1.2 1.3 1.1 2.1 1.2 0.8 1.1 2.4 1.2 1.5 1.1 1.3 1.2 1.1 1.3 2.1 1.3 2.3 1.3 1.7 1.3 1.5 1.3 1.6 1.3 2 1.3 0.8 1.3 2.4 1.3 1.7 1.3 1.5 1.3 0.9 1.2 2.1 1.3 0.9 1.3 1.8 1.3 2.3 1.2 0.7 1.3 2.2 1.2 1 1.3 2.5 1.2 1.4 1.3 1.6 1.2 1.1 1.2 1.9 1.2 0.5 1.3 2 1.2 0.9 1.2 2.1 1.1 1.9 1.2 1.1 1.2 1.5 1.1 1.6 1.2 1.3 1.4 1.5 1.4 1.8 1.4 0.9 1.3 1.8 1.4 2.2 1.3 1.6 1.3 1.2 1.3 1.6 1.3 1.4 1.3 2 1.3 1.1 1.3 1.4 1.2 1.4 1.3 1.7 1.2 2 1.3 0.7 1.2 1.2 1.3 1.9 1.2 1.5 1.3 2.1 1.2 1.1 1.2 1.5 1.3 1.2 1.2 1.6 1.3 1.7 1.2 1.5 1.3 1.6 1.4 2.3 1.4 1.3 1.4 1.5 1.4 2.3 1.5 1.2 1.5 1.8 1.4 2.2 1.5 2.1 1.5 2 1.4 1.3 1.5 2.5 1.4 2.1 1.4 1 1.3 1.9 1.3 1.9 1.3 1.9 1.2 1.7 1.1 1.2 1.1 1.3 1 0.9 1 1.6 0.8 0.6 0.8 1 0.7 1" stroke="#EE5E0C" stroke-width="1.50" fill="none" stroke-linejoin="round"/>
<path d="M391.8 2776.8l0.2-0.4 0.3-0.7 0.2-1.9 0.3-1.1 0.3-1.6 0.3-1 0.3-1.5 0.3-1.7 0.3-1.2 0.4-2 0.4-2.2 0.3-1.8 0.4-1.5 0.4-1.9 0.4-2.5 0.4-1.3 0.5-2.5 0.4-1.7 0.5-3 0.4-1.8 0.5-2.6 0.4-1.7 0.5-2.5 0.5-2.1 0.4-2.4 0.5-1.6 0.5-2.5 0.5-2.7 0.5-2.1 0.4-2.7 0.5-1.4 0.5-2.3 0.5-2.8 0.5-2.7 0.5-1.4 0.4-3.1 0.5-2.5 0.5-1.8 0.5-2.2 0.4-1.6 0.5-3 0.4-2.2 0.5-1.6 0.4-2.6 0.4-1.1 0.4-2.2 0.5-1.5 0.4-2 0.4-2.8 0.5-1.4 0.4-2.4 0.5-1.6 0.4-3.1 0.5-1.7 0.4-1.4 0.5-3.3 0.4-1.8 0.5-2.1 0.4-2.1 0.5-1.4 0.5-3.1 0.4-1.4 0.5-2.8 0.5-1.4 0.4-3 0.5-2.1 0.4-1.1 0.5-3.2 0.4-1.4 0.5-2.6 0.4-1.6 0.5-2.3 0.4-1.6 0.5-2 0.4-1.9 0.4-2.7 0.5-1 0.4-2.6 0.4-1.5 0.4-1.5 0.4-1.9 0.4-2 0.4-1.8 0.4-2.1 0.3-0.8 0.4-2 0.4-1.3 0.3-1.3 0.4-1.8 0.3-1.9 0.7-2.9 0.6-3.1 0.6-2.3 0.5-1.5 0.5-2.1 0.4-2.4 0.4-1.2 0.4-1.6 0.3-0.9 0.4-1.4 0.3-2 0.4-1.7 0.5-1.4 0.4-1.1 0.5-2 0.6-2.4 0.6-1.3 0.8-2.6 0.8-3 0.9-3.5 0.4-1 0.5-1.2 0.4-2.2 0.5-1.5 0.5-1.8 0.6-1.7 0.5-1.1 0.6-1.8 0.6-1.9 0.5-2.3 0.7-2 0.6-2.4 0.6-1.1 0.6-2.4 0.7-2.5 0.7-2.2 0.6-1.9 0.7-2.1 0.7-1.8 0.7-2.9 0.6-1.4 0.7-2.8 0.7-2.3 0.7-1.7 0.7-2.8 0.7-1.1 0.7-2.6 0.7-2.1 0.7-2.4 0.6-1.7 0.7-2.2 0.6-2.4 0.7-2.6 0.6-1.4 0.7-1.6 0.6-2.8 0.6-1.4 0.6-2.5 0.6-1 0.5-2.1 0.6-1.7 0.5-1.6 0.5-1.7 0.5-1.3 0.4-1.6 0.5-1.7 0.4-0.7 1.2-4.6 1.1-2.7 1-3.3 0.9-3.1 0.7-2.1 0.8-1.8 0.6-2.3 0.6-1.1 0.5-1.1 0.5-1.6 0.5-1.5 0.4-1.2 0.5-1.4 0.4-0.9 0.5-1.5 1-3.1 0.7-1.8 0.6-1.6 0.5-2.1 0.6-1.4 0.8-1.7 0.7-1.8 0.7-1.3 0.7-2.2 0.8-1.7 0.8-1.9 0.9-1.7 0.8-2.5 0.8-2.2 0.8-0.9 1-3 1-1.5 1-2.6 1-1.8 1-1.6 1-1.6 1-2 1-2 1-2.5 1-1.7 1-2.1 1-2.3 1-1.7 1.1-2.4 0.9-1.7 0.9-1.8 0.9-1.9 0.9-0.7 0.9-2.2 1.1-1.8 1.3-1.6 1.5-2.5 1.1-1.5 1.2-0.8 1.2-1.8 1.3-1.6 1.3-1.1 1.4-1.6 1.5-0.9 1.5-2 1.6-1.1 1.7-1.7 1.7-1.7 1.8-1.7 1.4-1.7 1.5-0.5 1.6-2.2 1.7-0.5 1.6-1.2 1.8-1.6 1.7-1.4 1.8-1.5 1.8-1.7 1.8-1 1.8-1.3 1.7-1.3 1.7-1.4 1.6-0.9 1.6-0.7 1.5-1.7 2.2-0.5 2.1-0.6 2-1.8 1.9 0.4 1.8-0.6 1.8-0.9 1.9-0.1 2-0.4 2.1-0.3 2.2 0.1 1.8 0.8 1.8-1 1.9 0.7 1.9 0 1.9 0.7 2 0.7 2 0 2.1 0 2.1 1.4 2.2-0.1 2.3 1.1 2.3 0.7 2.4 0 1.7 0.3 1.8 1.5 1.9 0.5 2-0.2 2 1.4 2.1 0.6 2 0 2.2 0.6 2.1 1.3 2.1 0.4 2.1 0.6 2.1 0.6 2 1.1 2 0.4 1.9 0.9 1.8 0.9 1.7 1.1 1.7 0.9 1.5 0.4 2.4 1.1 2.1 1.6 2 1.3 1.7 1 1.6 1.3 1.6 1.4 1.5 1.7 1.4 0.3 1.5 2.3 1.5 1.3 1.7 1 1.4 1.5 1.3 1.5 1.2 1.1 1.1 1.2 1.2 0.4 1.1 1.4 1.2 1.2 1.4 2.4 1.4 0.6 1.5 1.8 1.8 2.1 2 2 2.2 1.3 1.2 1.8 1.2 0.4 1.3 1.8 1.4 0.3 1.4 2.1 1.5 0.1 1.6 2.3 1.5 0.7 1.7 1.6 1.6 1.5 1.7 1.5 1.7 1.3 1.7 1.3 1.7 0.6 1.7 2.4 1.8 0.8 1.7 1.2 1.7 1.5 1.8 2 1.6 1.8 1.7 1 1.7 1.8 1.6 1 1.6 1.4 1.5 0.8 1.5 2.3 1.4 1.6 1.5 0.5 1.4 2.1 1.5 1.4 1.3 0.9 1.4 2.6 1.3 1.1 1.3 0.8 1.3 2.5 1.2 0.5 1.3 2 1.2 1 1.3 1.6 1.2 2.4 1.2 1.3 1.3 0.6 1.2 2.5 1.3 1.4 1.3 2 1.3 0.6 1.3 2.2 1.4 1.1 1.4 2.4 1.4 1.4 1.5 2.7 1.5 1.1 1.1 2.1 1.2 1.3 1.1 1.2 1.2 0.6 1.2 2.5 1.2 1.2 1.2 1.3 1.2 1.8 1.2 1 1.2 1.3 1.3 2 1.2 0.9 1.3 1.6 1.2 1.2 1.3 2.4 1.3 0.6 1.3 1.9 1.2 1.8 1.3 1.8 1.4 1.1 1.3 2.3 1.3 1.5 1.3 1 1.3 2 1.4 2 1.3 1.3 1.4 1.6 1.3 1.8 1.4 1.3 1.3 2.4 1.4 1.5 1.4 2 1.3 1.3 1.4 2 1.1 1.7 1.2 0.6 1.2 1.6 1.1 2.3 1.2 1 1.2 1.3 1.2 2 1.2 2.1 1.2 0.6 1.2 2.6 1.2 1.3 1.3 1.3 1.2 1.3 1.2 1.8 1.3 1.7 1.2 2.3 1.2 1.4 1.3 1.9 1.2 1.3 1.3 1.3 1.2 2.1 1.3 1.1 1.2 2.3 1.3 1.4 1.2 1.2 1.3 2.7 1.2 0.7 1.3 2.4 1.2 1.2 1.3 2.5 1.2 1.2 1.2 1.6 1.3 1.8 1.2 2.1 1.2 1.3 1.2 0.9 1.2 2.7 1.2 1.2 1.2 1.8 1.2 1 1.2 1.7 1.2 1.8 1.3 1.4 1.2 2.3 1.2 1.2 1.3 1.9 1.2 1.9 1.2 1.6 1.2 0.8 1.3 2.8 1.2 0.7 1.2 1.6 1.2 1.9 1.2 2.2 1.2 1.3 1.2 2 1.2 1.4 1.2 1.6 1.2 1.4 1.2 1.8 1.2 1 1.2 2.7 1.2 1.4 1.2 1.9 1.2 1.3 1.1 1.5 1.2 1.1 1.2 1.7 1.2 2 1.2 1.2 1.1 1.5 1.2 1.4 1.2 2.7 1.1 1.3 1.2 1.1 1.2 1.9 1.1 1.9 1.2 0.9 1.1 1.5 1.2 1.5 1.2 2.1 1.2 2.3 1.2 1.1 1.3 1.3 1.2 2.1 1.2 2.3 1.2 1.4 1.2 1.4 1.2 1.4 1.2 1.7 1.2 1.9 1.3 2 1.2 1.3 1.2 1.3 1.2 1.8 1.2 1.9 1.1 2.1 1.2 2 1.2 1.1 1.2 2.1 1.2 1.2 1.1 2 1.2 1.6 1.2 1.7 1.1 1.4 1.2 1.5 1.1 1.1 1.2 2.4 1.1 1.1 1.2 2 1.1 0.8 1.1 2.1 1.1 1.7 1.1 0.8 1.1 2.2 1.1 0.6 1.1 1.3 1.4 1.7 1.4 2.4 1.4 2.2 1.4 1.2 1.3 2.3 1.4 0.9 1.3 1.7 1.3 1.3 1.4 2.4 1.3 1.1 1.3 2.2 1.3 1 1.2 1.3 1.3 1.4 1.3 1.4 1.3 1.7 1.2 1.8 1.3 1.2 1.3 1.7 1.2 1.8 1.3 0.8 1.3 2.1 1.2 1.3 1.3 1.4 1.3 1.4 1.3 0.8 1.3 1.6 1.3 2.1 1.4 0.9 1.5 1.4 1.5 1.7 1.6 2.4 1.6 0.9 1.6 1.9 1.6 1.5 1.7 1.6 1.6 2.5 1.7 1 1.6 2 1.6 1.6 1.6 1.6 1.6 1.1 1.6 1.6 1.5 1.8 1.4 1.2 1.4 2.1 1.4 0.3 1.2 2.1 1.2 1.1 1.2 0.9 1 1.2 1 0.8 0.8 0.4 0.8 1.6" stroke="#EE5E0C" stroke-width="1.50" fill="none" stroke-linejoin="round"/>
<path d="M386.2 2777l0.2-0.7 0.2-1.1 0.3-1.3 0.2-1.1 0.3-1.5 0.3-1.4 0.3-1.9 0.3-1.7 0.4-1.5 0.3-1 0.4-2.7 0.3-1.4 0.4-1.8 0.4-1.8 0.4-2.1 0.4-1.5 0.4-1.9 0.4-2.6 0.5-2.5 0.4-1.4 0.5-2.2 0.4-2.7 0.5-1.8 0.4-2.2 0.5-2.1 0.4-3.2 0.5-2.3 0.5-1.6 0.4-3 0.5-2.3 0.5-2.6 0.4-1.4 0.5-3 0.4-2.3 0.5-1.8 0.5-2.9 0.4-1.4 0.5-3.1 0.4-1.1 0.4-3.2 0.5-2.1 0.4-1.7 0.4-1.7 0.4-2.4 0.4-1.7 0.4-2.6 0.4-1.3 0.4-2.8 0.4-1.9 0.4-1.6 0.4-2.6 0.4-2.5 0.4-1.4 0.4-2.9 0.5-1.7 0.4-2.3 0.4-2 0.4-2.6 0.4-1.2 0.4-2.4 0.5-2.5 0.4-2.4 0.4-2.1 0.4-2.3 0.4-2 0.4-2.1 0.4-1.8 0.5-2.9 0.4-1.2 0.4-2.1 0.4-2.5 0.4-2.1 0.4-2.6 0.4-1.8 0.3-2.2 0.4-1.9 0.4-1.2 0.4-2.6 0.4-1.3 0.3-1.7 0.4-2.3 0.4-1.4 0.3-1.9 0.4-1.6 0.3-1.7 0.3-1.6 0.4-2.1 0.3-0.5 0.3-2.5 0.7-3.1 0.6-2.6 0.6-1.8 0.5-1.9 0.5-2 0.4-2.7 0.5-1.3 0.4-1.1 0.4-2.2 0.4-1 0.4-1.2 0.4-1.8 0.5-1.4 0.5-1.4 0.5-2.2 0.5-1 0.6-2.7 0.7-2.8 0.7-2.3 0.8-3.3 0.4-1.1 0.4-2.2 0.4-1.2 0.4-2 0.4-1.1 0.5-1.9 0.4-1.4 0.5-2.1 0.5-2.1 0.5-1.8 0.5-2.4 0.5-1.7 0.5-2.3 0.5-2 0.6-2.2 0.5-2.6 0.5-2 0.6-1.7 0.5-2.8 0.6-1.9 0.6-1.7 0.5-2.6 0.6-1.9 0.5-2.8 0.6-2.6 0.5-1.7 0.6-1.9 0.5-2.5 0.6-2.3 0.5-1.6 0.6-2.7 0.5-1.5 0.5-2.3 0.5-2.7 0.5-1.5 0.5-1.9 0.5-2 0.5-1.8 0.4-2.2 0.5-1.4 0.4-1.9 0.4-1.4 0.4-1.7 0.4-1.7 0.4-1.6 0.3-1.7 0.8-3.5 0.8-2.7 0.7-2.8 0.6-2.8 0.6-2.2 0.5-1.8 0.5-2.1 0.4-1.8 0.4-2.7 0.4-1.6 0.4-0.8 0.3-1.6 0.4-2.2 0.3-0.7 0.4-2.4 0.4-1 0.4-1.1 0.4-1.8 0.8-2.1 0.7-3.1 0.8-2.3 0.7-1.6 0.7-2.1 0.7-1.1 0.7-1.8 0.7-2.4 0.7-1.6 0.6-1.9 0.8-1.2 0.7-2.9 0.6-2.1 0.7-1.9 0.7-1.9 0.6-2.4 0.7-1.5 0.8-2.5 0.6-2 0.6-1.1 0.6-2.4 0.6-1.7 0.7-2.5 0.6-1.9 0.7-1.4 0.7-2.8 0.6-1 0.7-2.7 0.6-2.2 0.8-1.7 0.7-1.5 0.8-2.3 0.7-2.2 0.8-2.4 0.8-1.4 0.7-1.4 0.9-2.2 0.8-2.1 0.8-2.8 0.8-1.8 0.8-1.8 0.9-1.5 0.9-2.2 0.8-2.3 0.9-2.3 0.9-1.7 0.8-1.5 0.9-2.1 0.8-1.6 0.9-2.4 0.8-1.9 0.8-2.8 0.8-1.7 0.8-2.2 0.9-1.8 0.8-1.3 0.9-2.2 0.9-1.6 1-1.8 1.1-2.6 1.1-1.9 1.1-2.4 1.1-1.2 1.1-1.7 1.1-1.4 1.1-2.6 1.1-1.8 1.2-1 1.2-3 1.1-1.6 1.2-1.3 1.2-1.4 1.2-2.5 1.4-1.5 1.4-1.2 1.5-2.3 1.5-1.5 1.6-1.2 1.6-0.7 1.7-1.7 1.9-0.9 2-2.1 2.2-0.8 1.6-1.2 1.6-0.5 1.7-1.4 1.8-1.2 1.9-1.5 1.9-0.9 1.9-1.4 2-1 2-0.4 2-0.5 2.1-1.4 2-1.1 1.9-0.1 2-0.6 2-0.5 2-0.7 2.1-1.5 2-0.3 2.1-0.7 2.1 0.4 2.2-1.5 2.1-0.1 2.1 0.1 2-0.4 2.1 0.7 2.1-0.9 2 0.7 2.1 0.7 2.1-0.3 2.1 0.4 2 1 2.1 0.7 2.1 0.1 2 0.8 2.1 0.5 2 0.4 1.9 0.6 2 0.4 2.1 1.3 2.1 1 2 0.6 2.1 0.6 2 0.5 2 1.6 2-0.3 2 1.6 1.9 0.3 1.9 1.4 1.8 1.2 1.8 1 2.1 0.7 2 1.5 1.9 0.5 1.8 1.1 1.9 0.6 1.8 1.2 1.7 1.5 1.8 1.6 1.8 1.1 1.9 0.8 1.7 1.7 1.7 0.1 1.7 1.7 1.7 0.8 1.7 1.1 1.8 1.4 1.7 1.6 1.7 0.6 1.7 1.8 1.7 1.4 1.7 1.1 1.6 1.4 1.5 0.9 1.6 1.5 1.5 1.1 1.6 1.9 1.6 1.2 1.5 1.9 1.6 1.4 1.5 1.4 1.6 0.8 1.5 2.1 1.6 1.2 1.6 1.4 1.5 1.3 1.6 1.6 1.5 0.8 1.6 2.3 1.5 0.6 1.6 2 1.6 0.6 1.5 2 1.6 1.5 1.5 1.5 1.6 1.5 1.4 0.9 1.5 1.6 1.4 1.8 1.4 0.8 1.4 1.8 1.5 0.5 1.4 1.7 1.4 1.1 1.5 1.5 1.4 2.4 1.5 1.1 1.5 1.6 1.5 1.9 1.2 1.2 1.1 1.5 1 1.4 1.1 1.1 1 1.3 0.9 0.7 1.1 1.9 1 1 1.1 2.1 1.2 1.4 1.3 1 1.4 2 1.6 1.7 1.7 2.4 1.8 2.2 2.1 3.3 0.9 1.3 1 1.1 1 1 1 1.8 1.1 0.8 1.1 1.3 1.1 1 1.2 2.5 1.2 1.5 1.2 1.7 1.2 1.2 1.3 0.9 1.3 2.7 1.3 1.3 1.3 2 1.3 0.6 1.4 2.9 1.3 0.7 1.4 1.9 1.4 1.6 1.4 1.6 1.3 2.1 1.4 2 1.4 1.7 1.4 2.3 1.4 0.9 1.4 2.1 1.3 1.4 1.4 2.4 1.3 0.9 1.4 2.5 1.3 1.8 1.3 1.2 1.3 2.1 1.2 1.3 1.2 1.7 1.3 1.7 1.1 1.5 1.2 0.6 1.4 2.4 1.3 0.9 1.4 2.1 1.3 1.7 1.3 1.3 1.3 2.1 1.3 1.9 1.3 0.5 1.2 1.6 1.3 1.5 1.2 1.3 1.2 2.6 1.2 1.3 1.2 0.7 1.2 1.5 1.2 1.7 1.3 2 1.1 0.9 1.2 1.6 1.2 1.9 1.2 0.6 1.3 1.6 1.2 2.1 1.2 1.6 1.2 1.2 1.2 1.4 1.3 1.5 1.2 2.4 1.3 1.6 1.2 1.8 1.3 1.1 1.3 1.7 1.1 1.1 1.1 1.6 1.1 1.8 1.1 2.1 1.1 1 1.1 2 1.1 1.1 1.1 2.3 1.1 0.8 1.1 2.1 1.1 1.6 1.1 1.1 1.1 2.5 1.2 0.7 1.1 2.2 1.1 1.6 1.1 1.7 1.1 2.3 1.2 1.3 1.1 1.4 1.1 1.9 1.2 2.2 1.1 1.8 1.2 1 1.1 2.4 1.2 1.2 1.2 1.3 1.1 2.7 1.2 0.6 1.2 2.1 1.2 1.7 1.1 1.6 1.2 1.7 1.2 1.8 1.2 1.9 1.3 1.5 1.2 1.8 1.2 1.8 1.1 2.3 1.2 0.7 1.2 1.7 1.1 1.6 1.2 2.3 1.2 1.5 1.1 1.3 1.2 1.2 1.2 2.3 1.2 1 1.2 2 1.3 1.8 1.2 1.4 1.2 1.3 1.2 1.7 1.2 2 1.3 1.8 1.2 1.2 1.2 1.7 1.3 1.8 1.2 2.5 1.2 1.3 1.3 1.1 1.2 2.5 1.3 0.7 1.2 2.5 1.3 1.2 1.2 1.9 1.3 1.8 1.2 1.5 1.3 1.8 1.2 1.6 1.2 1.4 1.3 1.9 1.2 1.6 1.3 1.7 1.2 0.9 1.2 2.2 1.3 0.5 1.2 2.2 1.2 1.7 1.3 1.2 1.3 1.7 1.3 1.5 1.3 1.4 1.3 1.5 1.3 2.2 1.3 1.4 1.3 1.6 1.3 1.8 1.3 1.5 1.3 1.2 1.3 2 1.3 1.8 1.3 1 1.3 1.3 1.3 2.4 1.4 1 1.3 1.9 1.3 1.9 1.3 1.5 1.3 1.7 1.3 0.8 1.3 1.7 1.3 1.5 1.2 1.4 1.3 2 1.3 1.6 1.3 0.9 1.3 1.4 1.2 1.8 1.3 1.4 1.2 1.7 1.3 1.8 1.2 1.1 1.2 1 1.3 2 1.2 1.3 1.2 1.2 1.2 2.2 1.4 1.4 1.3 1.6 1.4 1.5 1.3 1.3 1.4 1.8 1.3 2 1.4 1 1.3 1.9 1.3 2.3 1.3 1.3 1.3 1 1.3 1.5 1.3 2.1 1.3 1.1 1.3 2.7 1.3 1.4 1.3 0.9 1.3 1.8 1.2 1.5 1.3 1.3 1.2 2.3 1.3 1.1 1.2 1.3 1.3 2.2 1.2 0.8 1.2 1.9 1.2 1.9 1.2 0.7 1.2 2.5 1.2 1.3 1.2 1.5 1.2 0.7 1.2 1.3 1.2 1.8 1.4 1.7 1.5 2.4 1.5 1.9 1.5 0.8 1.5 2.5 1.6 1.2 1.5 2.2 1.5 1.4 1.6 2.8 1.5 1.6 1.5 1.4 1.5 2.4 1.5 1.4 1.5 2 1.4 1.9 1.4 0.6 1.3 1.9 1.4 2 1.3 1.8 1.2 1.7 1.2 0.6 1.1 1 1 2.4 1 0.1 1 1.9 0.8 0.8 0.8 0.8 0.7 0.6" stroke="#EE5E0C" stroke-width="1.50" fill="none" stroke-linejoin="round"/>
<path d="M379.2 2777.7l0.2-1.4 0.2-1.6 0.2-1.2 0.2-1.1 0.2-0.7 0.2-1.3 0.3-2.2 0.2-1.5 0.3-1.6 0.3-1.2 0.3-2.3 0.3-2 0.3-1.6 0.3-2.5 0.3-1.4 0.3-2.5 0.4-1.2 0.3-2.5 0.3-1.5 0.4-2.8 0.4-2.4 0.3-1.3 0.4-2.4 0.4-3.3 0.3-1.1 0.4-2.4 0.4-2.3 0.4-2.7 0.4-2.1 0.4-2.4 0.4-2.7 0.4-2.7 0.4-1.5 0.4-2 0.4-3.3 0.4-1.6 0.4-2.4 0.4-2.4 0.4-1.8 0.3-2.3 0.4-1.9 0.4-2.6 0.4-2 0.4-1.9 0.4-2.4 0.4-1.2 0.4-3.1 0.4-1.1 0.4-2.9 0.4-2.1 0.4-1.1 0.5-2.5 0.4-2.6 0.4-1.6 0.5-2.7 0.4-1.6 0.5-2.7 0.4-2.1 0.5-2.5 0.5-1.7 0.4-2.6 0.5-1.8 0.5-2.3 0.4-1.8 0.5-2.8 0.5-1.5 0.4-2.9 0.5-1.2 0.4-3 0.5-1.7 0.4-2.5 0.5-1.2 0.4-2.7 0.5-2.2 0.4-1.4 0.4-1.8 0.4-2.2 0.5-1.9 0.4-1.8 0.4-1.6 0.4-2.5 0.3-2 0.4-0.7 0.4-2.1 0.3-1.6 0.4-1.4 0.3-2.4 0.3-0.9 0.3-1.7 0.6-2.5 0.6-3.1 0.5-2.5 0.4-1.8 0.4-2.2 0.3-2 0.3-1.3 0.2-2.1 0.3-1 0.3-1.6 0.2-1.2 0.3-1.1 0.2-1.4 0.3-1.7 0.4-1.9 0.4-1.7 0.4-2.4 0.5-2.8 0.6-2.5 0.6-3.7 0.3-1.4 0.3-0.9 0.4-2.1 0.3-1.8 0.4-1.5 0.4-1.1 0.4-1.6 0.4-2.9 0.4-2 0.4-1.8 0.4-1.5 0.5-2.6 0.4-2 0.5-1.3 0.4-2.2 0.5-3.1 0.5-1.2 0.5-3 0.4-1.9 0.5-1.9 0.5-1.9 0.5-2.2 0.5-3 0.5-2.2 0.5-1.8 0.5-2.7 0.4-2.2 0.5-2.4 0.5-2.1 0.5-1.4 0.5-2.2 0.4-2.4 0.5-1.8 0.4-2.5 0.5-1.7 0.4-2.3 0.5-1.3 0.4-2.2 0.4-1.8 0.4-2 0.4-1.9 0.3-2.2 0.4-0.8 0.3-1.8 0.4-1.6 0.3-0.8 0.7-4.1 0.7-2.1 0.6-3.1 0.6-3 0.6-1.8 0.5-2.2 0.5-2.4 0.4-2.3 0.5-1.5 0.4-2.5 0.4-1.2 0.4-1.3 0.3-1.2 0.4-1.9 0.3-1.3 0.4-1.1 0.4-1.7 0.3-2.1 0.4-1.1 0.8-3 0.7-2.4 0.6-2.1 0.6-1.7 0.6-2.1 0.6-0.6 0.5-2 0.6-1.7 0.6-2.2 0.6-1.8 0.5-2.7 0.6-2.4 0.5-1.6 0.6-1.5 0.6-2.8 0.5-2 0.6-2.2 0.5-2.1 0.6-2.4 0.6-1.8 0.5-1.6 0.5-3.2 0.6-1.1 0.5-2.3 0.6-2.6 0.5-2 0.6-1.6 0.6-2.9 0.6-1.2 0.5-2.6 0.5-1.6 0.5-1.6 0.6-2.6 0.5-1.8 0.6-2.2 0.5-1.6 0.6-2.2 0.6-1.5 0.5-2.6 0.6-1.8 0.6-1.9 0.5-1.5 0.6-2.1 0.6-2.8 0.6-1.7 0.5-1.4 0.6-3 0.6-1.1 0.6-2.9 0.6-1.8 0.6-1.9 0.5-2 0.6-1.4 0.6-2.1 0.6-2 0.6-2 0.6-1.7 0.6-1.9 0.5-1.6 0.6-2.8 0.6-1.9 0.7-1.8 0.7-1.4 0.7-1.5 0.8-2.8 0.7-1.7 0.8-1.3 0.9-1.8 0.9-2 0.9-2.4 0.9-1.1 0.9-2.4 1-1.5 0.9-2.2 0.9-2.5 0.9-0.7 0.8-2.7 0.8-1.3 0.9-1.7 0.7-1.7 0.7-2.1 0.6-2 0.6-1.1 0.6-1 0.8-2.3 0.9-1.6 1.2-1.9 1.4-2.9 0.8-1.3 0.9-1.2 0.9-1.7 1-1.9 1-2 1.1-1 1.1-2.2 1.1-1.8 1.2-2.5 1.2-1.6 1.2-2.4 1.3-1.6 1.2-1.9 1.3-1.7 1.3-2.3 1.3-1.9 1.2-1.6 1.3-0.8 1.3-1.8 1.2-2.2 1.5-0.9 1.4-2 1.5-2.1 1.5-0.7 1.4-2 1.5-2.3 1.6-1.3 1.5-1.6 1.5-0.7 1.6-1.5 1.6-1.8 1.6-0.6 1.6-1 1.7-1.8 1.6-0.5 1.8-0.7 1.7-0.9 1.9-1.3 2-0.5 2-1 2.1-0.9 2.2-0.6 2.1-0.5 2.2-0.1 2.2-0.5 2.2-0.2 2.2-0.4 2.1 0.7 2.2-0.2 2.1 0 2-0.7 2 0.3 1.9 0.6 2.3 0.3 2.2 0.5 2.2 0 2.1 0.1 2.1 0.7 2 1.5 2-0.2 2 0.9 2 0.9 1.9 1.5 1.9 0.6 2 0.6 1.9 1.3 2.1-0.2 2.1 0.8 2 1.2 2.1 1.2 2 0.4 2 1.3 2 0 2 0.7 1.9 1.2 1.9 1.2 1.8 0.8 1.8 1.2 2.1 0.3 2 0.8 1.9 1 1.8 2.2 1.9 0.9 1.8 0.5 1.7 0.8 1.8 2.3 1.8 1.3 1.9 1 1.6 0.8 1.5 1.7 1.6 0.3 1.6 1.4 1.5 1.8 1.6 1 1.6 0.9 1.5 1.4 1.6 0.9 1.6 1.8 1.5 1.2 1.6 1 1.4 2.2 1.5 1.3 1.4 0.6 1.5 1.7 1.4 2.2 1.4 1.3 1.5 1.6 1.4 0.5 1.4 2.3 1.5 0.7 1.4 2.2 1.5 1.2 1.4 2 1.5 0.7 1.4 2.2 1.5 0.9 1.5 1.2 1.5 1.4 1.5 1.8 1.5 1.5 1.5 2 1.5 0.6 1.4 2.1 1.3 1.5 1.3 0.5 1.3 1.2 1.9 2.6 1.7 0.5 1.7 1.7 1.5 1.7 1.6 1.3 1.5 0.9 1.6 1.6 1.7 1.9 1.3 1.1 1.3 1.3 1.2 2 1.3 1.6 1.3 1.2 1.4 1.6 1.3 1.9 1.4 1.7 1.4 1.6 1.5 2.3 1.5 1.8 1.1 2 1.1 1.3 1.2 2 1.2 0.9 1.2 2 1.2 2 1.3 1.8 1.2 1.5 1.3 2.1 1.2 1.8 1.2 1.6 1.2 1.5 1.2 1.5 1.1 1.9 1.1 1.1 1 1 1.4 2.8 1.3 1.5 1.2 2 1.1 1 1.1 1.7 1.1 2.1 1.1 1.6 1.1 1.1 1.2 1.3 1.2 2.6 1.3 0.9 1.1 2.3 1 1.4 1.1 1.4 1 2 1.1 0.5 1.1 2.4 1.1 1.9 1.2 0.8 1.2 2.1 1.2 1.2 1.4 2.9 1.4 1 1.4 2.4 1.6 3 0.9 1.4 0.9 0.6 1 2 0.9 0.9 1 1.2 1 2.4 1 1.5 1.1 1.6 1 1.3 1.1 2 1.1 1.1 1.1 2.5 1.1 0.8 1.2 2.6 1.1 1.7 1.2 1.3 1.2 1.8 1.2 1.4 1.3 2.9 1.2 1.2 1.3 1.5 1.3 2.8 1.3 1.4 1.3 2.2 1.4 1.9 1 0.6 1.1 2.4 1.1 1.1 1.1 1.7 1.1 1.5 1.1 1.4 1.1 1.1 1.2 1.4 1.2 1.7 1.1 2.1 1.2 1.9 1.2 0.9 1.2 2 1.3 2 1.2 0.9 1.2 1.6 1.3 1.7 1.2 1.7 1.3 1.2 1.2 2 1.3 2.2 1.3 1.1 1.3 2.2 1.2 1.2 1.3 2 1.3 0.9 1.3 2.4 1.2 1.1 1.3 2.3 1.3 1.5 1.3 1.6 1.2 1.7 1.3 1.9 1.2 1.9 1.1 0.7 1.2 2.7 1.2 1 1.1 1.8 1.2 1.6 1.2 1.8 1.2 1.2 1.2 1.3 1.2 2.5 1.2 0.9 1.2 2 1.2 1.5 1.2 2.1 1.2 1.2 1.2 1.5 1.2 2.5 1.2 1.1 1.3 1.2 1.2 2.7 1.2 0.8 1.2 2.7 1.2 0.6 1.2 2.1 1.3 2.3 1.2 1.5 1.2 1 1.2 1.5 1.2 2.9 1.2 1.1 1.3 1.8 1.2 1.7 1.2 2 1.2 1.4 1.2 1.2 1.2 2.5 1.1 1.7 1.2 0.9 1.1 1.4 1.2 1.6 1.1 1.8 1.2 1.8 1.1 2.2 1.2 1.7 1.1 1.8 1.2 0.8 1.2 1.9 1.1 2.3 1.2 0.7 1.1 1.5 1.2 2.6 1.1 1 1.2 1.8 1.2 1.3 1.1 2.5 1.2 1.5 1.1 1.6 1.2 1.9 1.1 1.5 1.2 1.9 1.1 1.1 1.1 1.6 1.2 1.5 1.1 2.2 1.2 2.2 1.1 0.6 1.1 2.4 1.1 1.7 1.2 1.1 1.1 2.5 1.1 1.6 1.1 1.5 1.1 2.2 1.1 1.7 1.1 1.6 1.1 1.2 1 1.3 1.1 2 1.1 2.5 1 1.2 1 2 1.1 1.2 1 1.6 1 2.4 1 1 1 2.6 1.1 0.9 1 1.8 1 2.7 1 1.4 1 2.1 1 1.4 1 1.4 1 2.1 1 1.5 1 2.1 1 1.1 1.1 2 1 1.7 1 2.1 1.1 1.7 1 1.4 1.1 2.6 1.1 1.4 1.1 1.4 1.1 1.8 1.1 1.7 1.1 2.5 1.1 1.3 1.2 2.4 1.1 1.3 1.2 2.1 1.1 1.2 1.1 1.4 1.2 1.4 1.2 2.2 1.1 2.1 1.2 1.8 1.3 1 1.2 2.4 1.2 1.5 1.3 1.4 1.2 1.5 1.3 1.9 1.3 2.5 1.3 1.5 1.3 1.3 1.3 1.8 1.3 1.6 1.3 1.8 1.3 1.9 1.3 1.3 1.3 2.5 1.3 1.6 1.3 2.1 1.3 0.8 1.2 2.3 1.3 0.9 1.3 2.2 1.2 2 1.3 1.6 1.2 1.6 1.2 1.5 1.3 1 1.1 1.9 1.2 1.1 1.2 1.7 1.1 1 1.1 2.1 1.1 1.3 1.1 1.1 1.1 0.9 1 1.6 1.7 2.3 1.7 1.8 1.7 2.3 1.6 1.1 1.6 2.6 1.5 1.5 1.5 2 1.5 1.1 1.5 2 1.4 1.3 1.4 1.3 1.4 1.8 1.4 0.9 1.3 2.2 1.3 0.7 1.3 1.2 1.3 1.1 1.2 1.1 1.2 1.5 1.2 0.6 1.2 1.1 1.1 1 1.2 0.9 1.1 1.6 2.4 2.4 2.3 1.7 2.3 0.9 2.1 1.4 2 1.9 1.9 0.5 1.8 0.9 1.5 1.2 1.5 0.3 1.2 0.8 1-0.2" stroke="#EE5E0C" stroke-width="1.50" fill="none" stroke-linejoin="round"/>
<path d="M339.9 2777.2l0.2-1 0.2-1.6 0.3-0.3 0.2-1.4 0.3-1.4 0.3-1.7 0.3-1.2 0.3-1.4 0.3-1.8 0.3-2.1 0.4-1.1 0.3-2.6 0.4-2.1 0.4-1.7 0.4-1.7 0.4-1.6 0.4-2.6 0.4-1.8 0.4-2.5 0.4-2.5 0.4-1 0.5-2.7 0.4-2.4 0.5-2 0.4-2.9 0.5-1.4 0.4-3 0.5-1.5 0.4-3.3 0.5-2 0.5-2.5 0.4-1.9 0.5-3 0.5-2.3 0.4-1.9 0.5-2.6 0.5-1.4 0.4-3 0.5-2 0.4-1.9 0.5-2.6 0.4-1.1 0.5-2.9 0.4-1.7 0.4-2.4 0.4-1.9 0.5-1.5 0.4-2 0.5-1.9 0.4-1.8 0.5-2.1 0.4-2.7 0.5-2.6 0.5-1.9 0.5-1.3 0.4-2 0.5-2.6 0.5-2.8 0.5-1.8 0.5-1.6 0.5-2.8 0.5-2 0.5-2 0.4-1.8 0.5-2 0.5-2.6 0.5-2.1 0.5-1.9 0.5-2.2 0.5-1.4 0.4-3.1 0.5-1.7 0.5-2.1 0.4-1.8 0.5-1.5 0.4-2 0.5-2.2 0.4-2.2 0.4-1.6 0.5-1.5 0.4-2.1 0.4-1.4 0.4-2.8 0.3-1.1 0.4-1.2 0.4-2 0.3-1.3 0.4-2.1 0.3-0.7 0.3-2.4 0.7-2.6 0.5-2.5 0.5-2.2 0.4-2.8 0.4-1.5 0.3-1.9 0.3-1.5 0.3-1.4 0.2-1.9 0.2-1.5 0.2-0.9 0.3-1.9 0.2-1.7 0.3-1.5 0.4-1.5 0.3-1.9 0.5-2.5 0.5-1.6 0.6-3.7 0.7-2.3 0.3-1.9 0.4-0.9 0.4-1.6 0.3-2.4 0.4-2 0.5-1.1 0.4-1.4 0.4-2 0.5-2 0.5-2.5 0.4-1.1 0.5-2.8 0.5-1.7 0.5-2.1 0.6-2.5 0.5-1.7 0.5-2.2 0.6-2 0.5-2.8 0.5-2.3 0.6-2.4 0.5-2 0.6-1.7 0.5-2.3 0.6-2.9 0.5-1.8 0.6-2.9 0.5-1.3 0.5-2.4 0.6-1.8 0.5-2.3 0.5-2.6 0.5-1.8 0.5-2.7 0.5-1.2 0.5-2.6 0.5-2 0.4-1.9 0.5-1.2 0.4-2.4 0.4-1.5 0.5-1.5 0.3-1.9 0.4-1.1 0.4-1.1 0.3-2.4 0.8-2.5 0.6-3.4 0.7-2.1 0.5-2.6 0.5-2.7 0.5-1.7 0.4-2.7 0.4-2.1 0.4-1.2 0.3-2.2 0.4-0.7 0.3-1.7 0.3-1.2 0.3-2.4 0.3-1.4 0.3-1.1 0.4-1.8 0.3-1.9 0.4-1.8 0.5-2.3 0.4-1.7 0.5-2.4 0.4-1.6 0.5-2.6 0.4-1.3 0.4-2.7 0.5-2.2 0.4-1.4 0.4-1.6 0.4-2.1 0.5-2.9 0.4-1.7 0.4-1.9 0.5-1.2 0.4-2.3 0.5-2.6 0.5-2.1 0.5-1.3 0.5-1.8 0.4-2.4 0.5-1.7 0.5-2.5 0.5-1.6 0.5-2.1 0.5-1.8 0.5-2.1 0.5-1.9 0.6-2.7 0.5-1.9 0.6-1.4 0.5-2.6 0.6-2.1 0.6-2.2 0.6-1.8 0.6-2 0.6-1.5 0.6-2 0.6-2.5 0.7-2.3 0.6-0.9 0.6-2.8 0.6-1.4 0.6-1.9 0.6-2.1 0.7-2.6 0.6-1.7 0.7-1.5 0.6-2.6 0.6-0.9 0.7-2.6 0.6-1 0.7-2 0.6-2 0.7-2 0.7-3 0.7-1.9 0.6-1.3 0.6-1.8 0.6-1.8 0.6-2.8 0.6-0.9 0.6-2.2 0.6-2.1 0.6-1.6 0.6-1.9 0.7-2.7 0.6-2 0.6-1.8 0.6-2.6 0.7-0.8 0.6-2.3 0.6-2.6 0.7-1.5 0.7-2.2 0.6-1.9 0.7-1 0.6-2.3 0.7-1.9 0.7-1.7 0.6-2.2 0.7-2.1 0.7-2 0.7-2.4 0.8-2 0.8-2.4 0.8-2.5 0.6-0.7 0.5-2.3 0.6-2 0.6-1 0.6-2.2 0.5-2.4 0.6-2 0.7-1.5 0.6-2.9 0.6-2.3 0.6-2 0.7-2 0.6-1.6 0.7-2.8 0.7-1.5 0.7-2.1 0.7-1.7 0.8-2 0.7-2.1 0.8-1.8 0.8-2.5 0.9-1.7 0.8-2.3 0.9-1.9 0.9-1.1 1-1.9 0.9-2.4 1-2.4 1-0.9 1-2.1 1-1.8 1-2.2 1.1-1.7 1-2 1.1-1.7 1-1.6 1.1-2.4 1.1-1 1-2.4 1.1-0.9 1.1-1.8 1.3-1.5 1.2-2.8 1.3-1.4 1.3-1.1 1.3-1.7 1.3-2.5 1.3-1.5 1.4-1.6 1.3-1.5 1.4-1.1 1.3-1.5 1.5-2.2 1.4-0.8 1.4-1.3 1.5-1.8 1.5-1.5 1.6-1.5 1.6-1 1.6-0.8 1.7-2 1.6-1.4 1.7-0.5 1.8-1.6 1.7-1.4 1.8-1.2 1.8-0.8 1.8-1.6 1.8-0.1 1.8-0.8 1.9-2 1.8-0.1 1.9-1.2 1.8-0.2 1.9-1.1 2-1 2.1 0.4 2.1-0.8 2.1-1 2.2-0.1 2.2-0.3 2.2-0.2 2.2 0 2.1-0.7 2.2 0.8 2.1-0.8 2.1 0.7 2-0.5 2 0 1.9-0.5 1.8 0.7 2.5-0.1 2.3-0.1 2.1 0.9 2-0.4 2 0.3 2 0.5 1.9 0.2 2 1 2.1 0.8 2.2 1.2 2.3 0.4 1.6 1.4 1.7 0.7 1.8 0.8 1.8 0.3 1.9 1.2 1.9 1.3 1.9 0.8 1.9 1.5 1.9 0.5 1.9 1.3 1.9 1 1.8 1.2 1.8 1.1 1.8 0.8 1.6 1.4 1.6 0.2 1.5 1.1 2.3 1.9 2.2 1.1 2 0.8 1.8 0.9 1.8 0.9 1.7 1.1 1.6 0.6 1.7 2.1 1.8 0.6 1.8 1.1 1.4 1.2 1.5 2.1 1.4 0.9 1.5 2 1.4 1 1.5 1.8 1.4 1.5 1.5 1.3 1.4 1.5 1.5 1.7 1.4 1.1 1.5 1.1 1.4 1.5 1.5 1.8 1.4 2.2 1.5 0.4 1.5 1.4 1.5 2.5 1.4 0.4 1.5 1.8 1.5 2.1 1.4 0.7 1.4 1.9 1.4 1.6 1.4 0.5 1.3 1.3 1.5 1.7 1.4 1.5 1.4 2 1.3 1.9 1.3 1.5 1.2 1.5 1.3 0.7 1.3 1.4 1.4 2.5 1.4 1.4 1.5 1.5 1.3 1.4 1.4 1.9 1.4 1.1 1.4 1 1.5 2.1 1.5 1.5 1.5 1.3 1.5 2.6 1.5 1.4 1.4 1.4 1.5 1.8 1.4 1.4 1.4 1 1.4 1.7 1.4 2.6 1.4 0.9 1.4 2.1 1.4 1.5 1.4 1.6 1.3 1.7 1.3 1.2 1.3 1.4 1.2 2.4 1.2 1.4 1.2 0.7 1 2.3 1.3 1.4 1.2 2.2 1 2.5 0.9 1.3 0.9 1.5 0.8 2.4 1 1.6 1.1 1.2 1.2 2.3 1.1 1.7 1.3 1 1.3 1.6 1.3 2.2 1.4 0.8 1.4 1.5 1.4 1.2 1.5 1.6 1.4 1.8 1.4 2.4 1.4 1.7 1.2 1.3 1.1 1.5 1.2 1.5 1.1 1.6 1.2 2.1 1.1 1.4 1.2 2.3 1.1 1.3 1.2 1.8 1.1 1.8 1.2 2.5 1.1 1.4 1.2 1.8 1.3 1.3 1.2 2.2 1.3 1.8 1.3 1.8 1.3 1.4 1.3 1.3 1.3 2.3 1.3 1.5 1.2 2 1.2 1.6 1.2 1.9 1.1 1.4 1.2 2.1 1.1 1.7 1.1 2 1 1.2 1 2.1 1 2.4 1 1.3 0.9 2.4 1 1.1 1 2.3 1 2.1 1 0.8 0.8 1.7 0.8 1.7 0.7 0.9 0.7 1.1 0.9 0.9 1.1 1.5 1.3 2.9 1.8 1.9 2.1 2.8 0.8 1.3 0.8 1.2 0.9 1.4 0.9 1.7 0.9 0.8 1 2.2 1 1.6 1.1 1 1.1 1.3 1.1 1.9 1.2 1.5 1.1 2.6 1.2 1 1.2 2 1.3 2.3 1.2 1.9 1.3 1.6 1.2 2.1 1.3 1.7 1.3 1.4 1.2 1.6 1.3 2.8 1.3 1.9 1.2 2 1.3 1.4 1.2 1.5 1.2 2.3 1.2 1 1.2 2.3 1.2 1.7 1.1 1.4 1.1 2.4 1.2 1.8 1.1 1.5 1.1 1.9 1.1 0.7 1.2 1.7 1.1 2.2 1 2.2 1.1 1.5 1.1 1.7 1.1 1.6 1.1 1.8 1 1.5 1.1 1.3 1.1 2 1 1.7 1.1 1 1.1 1.5 1 1.9 1.1 2.1 1.1 1.5 1.1 1.6 1.1 1.7 1.1 2.1 1.2 0.8 1.1 1.6 1.1 2.5 1.2 1.4 1.2 1.2 1.2 1.4 1.2 1.7 1.2 2.4 1.1 1.5 1.2 1.1 1.2 1.8 1.2 1.3 1.3 1.6 1.2 1.1 1.3 2.5 1.3 1.7 1.2 0.6 1.3 2.3 1.3 0.9 1.3 2.2 1.3 1.1 1.3 2.2 1.3 0.6 1.3 2 1.3 2.1 1.3 0.8 1.3 1.3 1.3 2.6 1.3 1.5 1.2 1.7 1.3 1.3 1.3 1.7 1.2 1.6 1.2 0.7 1.3 2.2 1.2 1.6 1.2 1.4 1.1 1.5 1.2 1.9 1.2 1.2 1.2 1.9 1.1 1.9 1.2 1.6 1.1 1.5 1.1 1.4 1.1 1.6 1 1 1.1 1.7 1 2.5 1.1 1.6 1 1.4 1 0.8 1.1 2.1 1 1.8 1 1.6 1.1 1.5 1 1.8 1.1 2 1 1.3 1.1 1.1 1.1 2.3 1.1 1 1.2 2.4 1.1 1 1.2 2.3 1.3 1.6 1.2 1.8 1.3 2 1.3 2.1 1 0.7 1.1 2 1 2 1.1 1.3 1.1 0.8 1 1.9 1.1 1.6 1.1 1.7 1.1 1.3 1.2 1.7 1.1 1.4 1.1 2.1 1.2 1.4 1.1 2 1.2 1 1.2 2.7 1.2 1.1 1.1 1.9 1.2 1.5 1.2 1.3 1.3 2.3 1.2 1.3 1.2 1.8 1.2 1.6 1.3 1.4 1.2 2 1.3 2 1.2 2.1 1.3 1.1 1.3 2.1 1.3 1.5 1.3 1.1 1.2 1.4 1.3 2.3 1.3 1.7 1.3 1.9 1.4 1.3 1.3 1.4 1.3 1.5 1.3 1.6 1.3 1.6 1.4 0.8 1.4 2 1.4 1 1.4 1.8 1.4 2 1.5 1.7 1.4 0.7 1.5 2.4 1.5 1.4 1.5 1.3 1.5 1.2 1.5 1.8 1.6 2 1.5 1.7 1.5 0.6 1.5 1.9 1.6 1.4 1.5 1.2 1.5 2.4 1.5 1.5 1.5 1.2 1.5 1.3 1.5 1.3 1.5 1.7 1.4 1.7 1.5 0.2 1.4 1.6 1.4 2.2 1.4 0.8 1.4 0.7 1.3 2.1 1.4 0.7 1.3 1.1 1.2 1.3 1.3 0.9 1.2 1.6 1.2 1.2 1.1 1.1 2.1 1.9 2 1.2 2 2.3 1.8 1.5 1.8 2 1.8 1.7 1.6 1.3 1.7 0.6 1.5 1.1 1.6 1.2 1.5 1.3 1.4 0.9 1.5 2 1.4 0.5 1.4 0.6 1.4 1.5 1.3 0.9 1.4 0.8 1.3 1.8 1.4 0.6 1.4 0.6 2 1.5 1.9 1.6 2 1.7 2 0.8 2 2.1 1.9 1.2 1.9 0.6 1.8 1.4 1.7 1 1.6 0.8 1.5 0.7 1.4 0.9 1.3 1.3 1.1 0.8 0.9-0.1" stroke="#EE5E0C" stroke-width="1.50" fill="none" stroke-linejoin="round"/>
<path d="M328.6 2777.1l0.2-0.3 0.3-2 0.2-1.1 0.3-1.1 0.3-1.6 0.3-1.4 0.3-0.8 0.4-2 0.3-2.2 0.4-0.7 0.4-2.6 0.4-1.1 0.4-2.7 0.4-1.2 0.4-2.1 0.5-2 0.4-1.6 0.4-2.4 0.5-2.6 0.5-2 0.4-2.6 0.5-1.6 0.5-2.5 0.5-2.6 0.5-1.6 0.5-2.2 0.5-3.1 0.5-1.5 0.5-2.4 0.5-3 0.5-1.5 0.5-3.1 0.5-2.4 0.5-1.4 0.5-2.1 0.5-2.8 0.5-1.7 0.5-2.6 0.5-1.9 0.4-2.7 0.5-2.2 0.5-1.5 0.4-2.5 0.5-2.1 0.4-1.5 0.5-2 0.4-1.9 0.4-2.4 0.4-1.1 0.4-2.3 0.4-2.3 0.4-1.4 0.5-1.8 0.4-2.4 0.4-1.8 0.4-1.2 0.4-1.9 0.4-2.4 0.4-1.3 0.4-2 0.4-1.4 0.4-1.8 0.4-2.6 0.4-1.2 0.5-2.5 0.4-1.8 0.4-1.7 0.4-1 0.4-2 0.5-2.1 0.4-2.3 0.4-1.3 0.5-2.8 0.4-1.4 0.5-2.5 0.4-2 0.5-0.9 0.4-2.8 0.5-2.3 0.5-1.7 0.5-1.5 0.4-2.4 0.5-2.9 0.5-1.8 0.5-1.5 0.6-2.9 0.5-2.2 0.5-2.1 0.6-2 0.5-2.5 0.4-2.3 0.4-1.4 0.4-1.8 0.4-2.2 0.4-2 0.5-1.7 0.4-1.9 0.5-1.8 0.4-1.4 0.5-2.7 0.4-1.6 0.5-1.5 0.5-2.2 0.5-2.6 0.5-2.6 0.5-1.4 0.5-2 0.5-2.2 0.5-2 0.5-2.6 0.5-2.1 0.5-2 0.5-2.8 0.6-1.9 0.5-1.9 0.5-2.5 0.5-2.2 0.6-2.7 0.5-1.3 0.5-3 0.5-1.7 0.5-2.5 0.6-1.9 0.5-2.3 0.5-2.4 0.5-1.7 0.5-2.3 0.5-2.4 0.6-2.2 0.5-2.7 0.5-2.3 0.5-1.1 0.5-2.9 0.4-1.8 0.5-2.1 0.5-2.2 0.5-1.3 0.4-2.3 0.5-2.5 0.4-1 0.5-2.9 0.4-1.1 0.4-2.7 0.5-0.7 0.4-2 0.4-2 0.4-1.9 0.3-1 0.4-2.5 0.4-1.1 0.3-2 0.4-1.6 0.3-1.5 0.3-1.2 0.3-1.6 0.3-0.9 1-4.6 0.8-3.5 0.7-3.1 0.6-2.9 0.6-3 0.4-2.1 0.4-2.1 0.3-1.5 0.2-2.2 0.2-0.8 0.2-1.4 0.2-1.5 0.2-0.9 0.2-1 0.3-1.9 0.3-1 0.3-1.7 0.4-1.7 0.5-2.1 0.5-1.7 0.5-2.7 0.6-2.2 0.5-2.6 0.6-1.2 0.5-2.1 0.6-2.7 0.6-2 0.5-1.7 0.5-2 0.6-1.3 0.5-2.8 0.5-0.9 0.4-2.7 0.5-1.8 0.5-1.5 0.5-2.1 0.4-2.3 0.4-2.5 0.4-2 0.4-1.7 0.4-1.9 0.4-2 0.4-2 0.4-2.5 0.3-1.1 0.4-2.5 0.4-1.4 0.4-3 0.4-1.4 0.4-2.6 0.4-2.1 0.4-1.2 0.3-2.9 0.4-1.2 0.4-2.7 0.4-1.7 0.4-1.8 0.4-1.9 0.4-2.6 0.4-1.7 0.5-1.7 0.4-2.1 0.5-1.9 0.5-1.9 0.5-2 0.5-2 0.5-2.3 0.5-1.2 0.5-2 0.5-2 0.6-1.6 0.6-2.4 0.5-1.8 0.7-1.8 0.6-3 0.5-0.6 0.6-1.9 0.6-2 0.6-1.9 0.7-2.5 0.6-1.2 0.6-2 0.7-2.3 0.7-1.9 0.6-1.6 0.7-2.1 0.6-1.9 0.6-2 0.6-2.9 0.6-2.1 0.6-1.1 0.5-1.7 0.5-2.3 0.5-2.5 0.5-0.9 0.4-2.7 0.5-1.4 0.4-2.5 0.4-2.1 0.4-1.1 0.5-2.2 0.4-1.7 0.5-2.1 0.5-2.2 0.6-1.9 0.6-2.3 0.6-1.4 0.6-2.4 0.6-1.9 0.6-1.1 0.7-2.3 0.6-1.9 0.7-1.2 0.7-2.1 0.7-1.4 0.7-2.8 0.8-1.1 0.7-2.4 0.8-2 0.8-1.8 0.8-2.5 0.8-1.5 0.8-2.7 0.8-2.8 0.8-1.3 0.6-2.6 0.5-1.2 0.6-2.2 0.6-1.4 0.6-2.7 0.6-1.6 0.7-2.2 0.6-1.8 0.6-2 0.7-1.8 0.6-2.4 0.7-2.4 0.6-2 0.7-1.9 0.6-2.4 0.7-2 0.6-2.3 0.6-2 0.7-2.2 0.6-1.6 0.6-1.8 0.7-2.7 0.6-1.9 0.6-1.9 0.6-1.7 0.5-2 0.6-0.8 0.9-2.4 0.8-3.3 0.8-2.4 0.8-1.2 0.8-3 0.7-1.5 0.7-2.1 0.8-2.1 0.7-1.8 0.8-0.9 0.7-2.5 0.7-1.1 0.8-1.8 0.8-1.8 0.8-2.7 0.8-1 0.9-2 0.9-1.4 0.9-2.8 0.9-0.9 0.9-2.4 1-2.3 0.9-1.9 1-0.9 0.9-2.8 1-0.9 1-1.7 1-1.5 1-1.8 1.1-2.1 1-1.4 1.1-1.7 1-2 1.1-1.3 1.2-1.8 1.3-2 1.2-2.1 1.2-1.6 1.3-0.8 1.2-2.5 1.3-0.9 1.3-2.3 1.4-0.6 1.3-2.3 1.4-1.2 1.4-1 1.5-2.1 1.5-0.6 1.5-1.7 1.6-1.2 1.6-1.5 1.6-0.9 1.7-2.1 1.8-0.9 1.7-1.8 1.8-1.2 1.8-1 1.8-0.8 1.8-0.9 1.9-1.5 1.9-0.2 1.8-1.6 1.9 0 1.9-0.9 1.9-0.8 2-1 2-0.3 2.1 0.1 2.1-0.5 2.1-0.6 2.2 0.1 2.1 0 2.1-0.7 2 0.1 2 0.4 2 0.3 1.9-0.8 1.8 0.1 1.7 0.2 2.3 0.2 2.1-1 1.9 0.6 1.8-0.4 1.7-0.1 1.7 0.4 1.8 0 2-0.3 2.2 0.8 2.5 1.3 1.4 0.5 1.6 0.4 1.6 0.8 1.6 0.8 1.7 0.4 1.8 1.6 1.8-0.1 1.8 1 1.8 2 1.9 0.8 1.9 0.1 1.9 1.8 1.8 0.8 1.9 0.7 1.9 1.4 1.8 1.2 1.8 1.7 1.7 1.6 1.7 0.4 1.5 1.8 1.5 1.1 1.5 1.6 1.6 1.4 1.5 1.4 1.5 0.6 1.5 1.1 1.5 1.9 1.5 1.1 1.4 1.9 1.5 2.2 1.5 1 1.4 1.4 1.4 1.1 1.4 2.5 1.4 1.4 1.3 1.6 1.3 0.9 1.3 1.8 1.3 1.3 1.2 1.6 1.5 1.6 1.4 1.4 1.4 2.4 1.3 1.5 1.3 1.8 1.2 1.3 1.3 1.3 1.2 2 1.1 1.5 1.2 1.5 1.2 2 1.1 1.6 1.1 1.5 1.2 1.6 1.1 1.5 1.1 2.1 1.2 1.9 1.4 1.4 1.3 1.4 1.3 1.3 1.3 1.8 1.3 1.8 1.3 0.9 1.2 1.7 1.3 1.9 1.3 0.9 1.3 1.9 1.4 1.2 1.3 1.7 1.5 2.2 1.5 1.7 1.1 1.1 1.2 2 1.1 1.9 1.3 1.5 1.2 2 1.3 1.9 1.3 1 1.3 2.6 1.3 0.7 1.3 2.2 1.3 2.3 1.3 1.1 1.3 2.5 1.3 1.6 1.2 1.8 1.2 1.3 1.2 2.3 1.1 1.6 1.1 0.8 1 1.6 1.4 2.5 1.4 1.2 1.2 1.8 1.1 2.3 1 1.2 1 2 1 0.6 1 2 1 1.6 1.1 1.6 1.2 1.4 1.2 2.5 1.4 1.6 1 1.5 1 1.5 1 1.8 1.1 1.2 1.2 2.2 1.1 1.6 1.2 1.3 1.2 1.7 1.2 2.4 1.2 2.1 1.2 1.8 1.2 0.9 1.2 2.3 1.2 2 1.1 1 1.2 2.8 1.1 1.5 1 1.4 1 1.7 1 1.5 1.2 2.3 1.2 1.3 1 2.3 1.1 1.1 1 2.6 0.9 1.8 1 0.8 0.9 2.6 0.9 0.8 0.9 2.5 1 1.2 0.9 1.9 1 1.2 1 2.3 1 0.7 1.1 2.2 1.1 2.2 1.1 1.7 1.1 1.9 1.2 1.6 1.1 1.4 1.2 1.9 1.1 1.7 1.2 2.1 1.1 1.9 1.2 1.9 1.1 1.3 1.1 1.5 1.1 2.4 1.1 0.7 1.2 2 1.3 2.5 1.2 1.9 1.2 1.2 1.2 1.8 1.2 2.2 1.1 1.6 1.2 0.9 1.1 2.3 1.1 1.5 1.1 1.1 1.1 2.8 1 1.4 1 1.1 1 1.8 0.9 2.8 0.9 2 0.8 1.5 0.9 1.4 0.8 2 0.9 1.7 0.9 2.2 0.9 2.1 1.1 1.6 1.1 1.7 0.9 1.8 0.9 1.6 0.9 2 0.9 0.7 0.9 1.6 1 2.1 0.9 2.1 1.1 0.9 1 2.4 1.1 0.9 1.1 2.6 1.1 1.1 1.2 2.7 1.3 2.1 1.3 1.3 1.3 2.4 0.9 1 0.9 1.8 0.9 1.9 1 1 1 1.8 1 1 1 2.2 1 1.6 1.1 1.7 1 2.1 1.1 0.9 1.1 1.5 1.1 1.8 1.1 2.5 1.2 1.1 1.1 1.5 1.2 2 1.1 1.7 1.2 2.4 1.2 1 1.2 2.4 1.2 1.9 1.2 2.3 1.2 0.9 1.2 2.5 1 1.7 1 1.5 1.1 0.7 1 1.9 1 2.3 1.1 0.8 1 1.8 1.1 2 1.1 1 1 2.1 1.1 1.5 1.1 1.9 1.1 2 1.1 1.5 1.1 0.8 1.1 2 1.1 1.3 1.2 2.9 1.1 1.2 1.1 1.9 1.2 0.9 1.2 2.3 1.1 1.9 1.2 1.6 1.2 1.5 1.2 1.9 1.2 1.7 1.2 1.1 1.2 2.4 1.2 2 1.1 1.6 1.1 1 1.2 1.3 1.1 1.6 1.2 1.7 1.2 1.7 1.2 2.1 1.1 1.1 1.2 2.4 1.2 1.5 1.2 1.1 1.3 2.2 1.2 1.3 1.2 2.5 1.2 1.2 1.3 1.2 1.2 2 1.2 2.2 1.3 0.8 1.2 1.5 1.3 1.8 1.2 1.4 1.3 2.2 1.2 1.6 1.3 1.2 1.2 2.5 1.2 0.8 1.3 1.7 1.2 1.7 1.2 1.8 1.3 0.9 1.2 2.4 1.2 1.3 1.4 1 1.3 2 1.4 1.3 1.4 2 1.3 1.8 1.4 1 1.3 1.8 1.4 1 1.3 2.1 1.3 1.4 1.4 0.8 1.3 2 1.4 0.8 1.3 2.1 1.4 1.5 1.3 1 1.4 1.8 1.3 1.4 1.4 1.4 1.4 1.5 1.4 1.2 1.4 1.6 1.4 1.4 1.4 1.1 1.4 1.7 1.5 2.1 1.4 1.3 1.5 0.9 1.5 2.5 1.3 1.1 1.3 1.7 1.3 0.9 1.3 1 1.4 2.1 1.3 1.3 1.4 1.3 1.4 1.6 1.3 2 1.4 1.7 1.4 0.9 1.4 1.2 1.4 1.8 1.4 2.1 1.5 1.5 1.4 1.4 1.4 2.1 1.4 0.5 1.4 2.4 1.5 1.5 1.4 1.5 1.4 1.6 1.4 0.9 1.4 1.7 1.4 1.8 1.3 1.1 1.4 1.5 1.4 1.7 1.3 1.2 1.4 1.2 1.3 1 1.3 1.3 1.3 1.2 1.3 1.5 1.7 1.4 1.6 2.2 1.6 1.8 1.7 0.9 1.6 1.7 1.5 1 1.6 1.7 1.6 1.4 1.6 1.3 1.5 0.8 1.6 1.2 1.5 2.2 1.5 0.9 1.5 1.4 1.6 0.9 1.5 1.5 1.5 0.9 1.5 1.4 1.4 0.5 1.5 2.1 1.5 0.8 1.5 1.6 1.5 1 1.4 1 1.5 1.3 1.5 1.1 1.8 0.3 1.7 2.2 1.8 1.1 1.8 1.1 1.8 1.7 1.9 1.4 1.8 0.3 1.8 1.4 1.8 1.1 1.8 2.1 1.7 0.9 1.8 0.7 1.7 1.2 1.7 1.2 1.6 1.3 1.6 0.9 1.6 1.2 1.5 1.2 1.5 0.7 1.4 0.6 1.3 1.1 1.3 1.3 2.9 0.7 2.7 1.2 2.5 2 2.2 0.3 2 0.3 1.7 0.1 1.6 1.4 1.3-0.6 1.1 0.7" stroke="#0DF00D" stroke-width="1.50" fill="none" stroke-linejoin="round"/>
<line x1="653.1" y1="2163.4" x2="888.3" y2="2163.4" stroke="#EE5E0C" stroke-width="2"/>
<line x1="653.1" y1="2217.8" x2="888.3" y2="2217.8" stroke="#EE5E0C" stroke-width="2"/>
<line x1="653.1" y1="2278.1" x2="888.3" y2="2278.1" stroke="#EE5E0C" stroke-width="2"/>
<line x1="653.1" y1="2350.8" x2="888.3" y2="2350.8" stroke="#F7B08A" stroke-width="3"/>
<line x1="653.1" y1="2452.3" x2="918.3" y2="2452.3" stroke="#F7B08A" stroke-width="3"/>
<line x1="588.7" y1="2062" x2="564.3" y2="2442" stroke="#111" stroke-width="2.2"/>
<path d="M563 2460 L556.3 2440 L571.3 2440 Z" fill="#000"/>
<line x1="499.7" y1="2572.5" x2="525" y2="2572.3" stroke="#111" stroke-width="2.2"/>
<path d="M543 2571.8 L521.5 2565.5 L521.5 2578 Z" fill="#000"/>
<text x="1219.0" y="2187.3" font-size="63.10" fill="#0DF00D">PA410</text>
<text x="1468.3" y="2287.5" font-size="62.60" fill="#EE5E0C">96.6/2.9/0.5</text>
<text x="1468.3" y="2356.6" font-size="62.60" fill="#EE5E0C">93/6/1</text>
<text x="1588.3" y="2453.3" font-size="63.40" fill="#EE5E0C">87/11/2</text>
<text x="1588.3" y="2561.5" font-size="62.60" fill="#EE5E0C">80/17/3</text>
<text x="1576.7" y="3010.6" font-size="62.20" fill="#EE5E0C">73/23/4</text>
<text x="1478.7" y="3245.6" font-size="63.30" fill="#0000CD">PA410/PA6</text>
<text x="1480.7" y="3315.6" font-size="63.30" fill="#0000CD">75/25</text>
<text x="529.3" y="2056.6" font-size="40.80" fill="#111">72.7&#186;C</text>
<text x="672.0" y="2104.6" font-size="40.20" fill="#0DF00D">PA410</text>
<text x="893.7" y="2171.5" font-size="41.30" fill="#EE5E0C">96.6/2.9/0.5</text>
<text x="893.7" y="2232.3" font-size="41.30" fill="#EE5E0C">93/6/1</text>
<text x="893.7" y="2291.9" font-size="41.30" fill="#EE5E0C">87/11/2</text>
<text x="893.7" y="2365.5" font-size="41.30" fill="#EE5E0C">80/17/3</text>
<text x="916.3" y="2465.4" font-size="41.00" fill="#EE5E0C">73/23/4</text>
<text x="543.7" y="2584.6" font-size="40.80" fill="#111">64.4&#186;C</text>
<text x="651.5" y="2723.4" font-size="41.20" fill="#0000CD">PA410/PA6</text>
<text x="651.5" y="2772.1" font-size="41.20" fill="#0000CD">75/25</text>
</svg>
</body></html>
